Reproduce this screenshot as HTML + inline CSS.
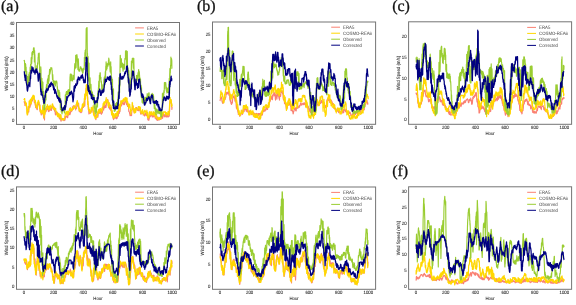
<!DOCTYPE html><html><head><meta charset="utf-8"><title>Wind speed panels</title><style>html,body{margin:0;padding:0;background:#fff;}body{width:576px;height:305px;overflow:hidden;}svg{display:block;} text{text-rendering:geometricPrecision;}.tk{font-family:"Liberation Sans",Arial,sans-serif;font-size:4.75px;fill:#2a2a2a;stroke:#2a2a2a;stroke-width:0.07px;}.lg{font-family:"Liberation Sans",Arial,sans-serif;font-size:4.75px;fill:#444;}.pl{font-family:"Liberation Serif","Times New Roman",serif;font-size:16px;fill:#111;stroke:#111;stroke-width:0.3px;}</style></head><body>
<svg width="576" height="305" viewBox="0 0 576 305">
<rect width="576" height="305" fill="#fff"/>
<g>
<text class="pl" x="1" y="11">(a)</text>
<clipPath id="clipa"><rect x="16.5" y="22.5" width="163" height="101.9"/></clipPath>
<g clip-path="url(#clipa)" fill="none" stroke-linejoin="round">
<polyline points="23.9,101.7 24.1,101.9 24.2,101.4 24.4,102.1 24.5,103 24.7,103.4 24.8,103.8 24.9,105.4 25.1,104 25.2,104.3 25.4,104.2 25.5,104 25.7,102.7 25.8,103.3 26,104.9 26.1,105 26.3,105.7 26.4,104 26.6,106 26.7,108.6 26.9,106.5 27,109.3 27.2,112.4 27.3,110.7 27.5,113.5 27.6,114.6 27.8,111.8 27.9,112.6 28.1,111.4 28.2,109.6 28.4,110.4 28.5,108.6 28.7,109.2 28.8,112 29,108 29.1,108 29.2,107 29.4,105.8 29.5,106.5 29.7,105.5 29.8,106.7 30,107.1 30.1,107.3 30.3,105.5 30.4,104.8 30.6,103.5 30.7,103.8 30.9,104.9 31,103.8 31.2,103 31.3,102.8 31.5,101 31.6,102.2 31.8,99.5 31.9,100.8 32.1,101 32.2,100.7 32.4,100.9 32.5,99.7 32.7,98 32.8,97.5 33,97.5 33.1,97.2 33.3,97.2 33.4,97.2 33.6,97.5 33.7,97.2 33.8,99.2 34,99 34.1,100 34.3,102.5 34.4,102.6 34.6,101.8 34.7,101.9 34.9,102.9 35,103.6 35.2,105 35.3,105.4 35.5,103.9 35.6,107.6 35.8,106 35.9,105.6 36.1,106.7 36.2,105.8 36.4,106.5 36.5,107.8 36.7,108.3 36.8,109.3 37,108.8 37.1,109 37.3,109.8 37.4,108.3 37.6,106.2 37.7,104.4 37.9,102.9 38,103 38.1,103.5 38.3,104.8 38.4,103.9 38.6,101.6 38.7,101.4 38.9,102.4 39,103.5 39.2,104.8 39.3,105.4 39.5,106.5 39.6,105.2 39.8,104.7 39.9,108.4 40.1,111.6 40.2,109 40.4,111.7 40.5,110.8 40.7,112.4 40.8,112.4 41,112.7 41.1,114.4 41.3,115 41.4,111.8 41.6,113.6 41.7,112.5 41.9,112.9 42,114 42.2,113.7 42.3,112.7 42.5,111.3 42.6,109.2 42.7,108.5 42.9,107.6 43,108.4 43.2,112.3 43.3,113.3 43.5,116.6 43.6,117.6 43.8,118.3 43.9,117.3 44.1,117.7 44.2,117.4 44.4,117.6 44.5,119.9 44.7,114.8 44.8,113.7 45,112.4 45.1,113 45.3,112.2 45.4,110.4 45.6,108.9 45.7,111.2 45.9,111.8 46,111.4 46.2,111.1 46.3,109.6 46.5,107.4 46.6,108.8 46.8,108.3 46.9,107.7 47,108.1 47.2,109.6 47.3,109.1 47.5,109.5 47.6,108.4 47.8,108.4 47.9,108 48.1,109.4 48.2,109.9 48.4,111.5 48.5,110.6 48.7,110.7 48.8,111.7 49,111.2 49.1,111.3 49.3,108.7 49.4,107.7 49.6,108.7 49.7,108.5 49.9,109.2 50,109.8 50.2,110.4 50.3,110.1 50.5,108.6 50.6,108.8 50.8,108.6 50.9,108.2 51.1,106.9 51.2,107.3 51.4,108.6 51.5,110.4 51.6,109.5 51.8,108.6 51.9,108.7 52.1,106.8 52.2,106.9 52.4,106 52.5,106 52.7,106.2 52.8,107.4 53,105.9 53.1,105.9 53.3,106 53.4,107 53.6,107.6 53.7,106.4 53.9,109.2 54,108.7 54.2,109.5 54.3,109.9 54.5,111.1 54.6,111.2 54.8,110.8 54.9,111.1 55.1,109.7 55.2,113 55.4,114.6 55.5,114.9 55.7,112.4 55.8,114.4 55.9,114.1 56.1,112.2 56.2,113.2 56.4,113.3 56.5,112.1 56.7,113.2 56.8,114 57,113.4 57.1,114.8 57.3,114.4 57.4,112.4 57.6,114.9 57.7,114.6 57.9,114.3 58,115.7 58.2,115.9 58.3,114.7 58.5,116.3 58.6,116.2 58.8,117.1 58.9,116.5 59.1,116.4 59.2,117.3 59.4,119 59.5,117.4 59.7,118 59.8,117.5 60,117.5 60.1,118.7 60.2,118.3 60.4,117.9 60.5,118.2 60.7,118.1 60.8,120.8 61,121 61.1,121.1 61.3,119.3 61.4,119.5 61.6,118.7 61.7,118.7 61.9,119.7 62,119.1 62.2,119.2 62.3,118.9 62.5,118.5 62.6,119.4 62.8,119.6 62.9,118.4 63.1,120.1 63.2,119.3 63.4,119 63.5,119.1 63.7,119 63.8,119.2 64,119.2 64.1,120.6 64.3,119.9 64.4,119.1 64.6,120.1 64.7,119.6 64.8,118.2 65,120.1 65.1,118.2 65.3,118.3 65.4,118.2 65.6,116.3 65.7,117.1 65.9,116 66,116.6 66.2,117.3 66.3,116.1 66.5,116.7 66.6,116.4 66.8,115.9 66.9,115.9 67.1,116.4 67.2,116.2 67.4,117.1 67.5,117.4 67.7,117.8 67.8,116.7 68,115.4 68.1,114.7 68.3,114.8 68.4,115.2 68.6,112.5 68.7,114.8 68.9,112.4 69,112.5 69.1,112.6 69.3,112.6 69.4,112.6 69.6,112.2 69.7,114.7 69.9,114.8 70,114.5 70.2,113.7 70.3,112.5 70.5,113.1 70.6,111.7 70.8,110.6 70.9,111.4 71.1,110.3 71.2,111.7 71.4,110.3 71.5,110.9 71.7,110.9 71.8,111.2 72,110.5 72.1,109.7 72.3,109.9 72.4,106.8 72.6,110 72.7,109.3 72.9,107.8 73,108.1 73.2,107.3 73.3,105.9 73.5,106.4 73.6,107.5 73.7,109 73.9,107.5 74,106 74.2,105.9 74.3,106.3 74.5,106.9 74.6,105.9 74.8,105.9 74.9,106.3 75.1,107 75.2,105.9 75.4,108.3 75.5,107.8 75.7,109.9 75.8,108.4 76,108.8 76.1,108.7 76.3,108.3 76.4,108.1 76.6,108.4 76.7,107.1 76.9,106.1 77,105.7 77.2,102.7 77.3,103.3 77.5,103.4 77.6,102.6 77.8,103.2 77.9,104.7 78,106.2 78.2,105.2 78.3,104.5 78.5,106.2 78.6,103.1 78.8,106.5 78.9,108 79.1,107.7 79.2,111.6 79.4,111.5 79.5,109.6 79.7,111.8 79.8,109.8 80,109.5 80.1,109.5 80.3,109.8 80.4,112.3 80.6,111.9 80.7,112 80.9,112.2 81,112.8 81.2,112.8 81.3,111.9 81.5,112.1 81.6,111.8 81.8,112 81.9,111.5 82.1,110.1 82.2,109 82.4,108.3 82.5,107.8 82.6,107.8 82.8,104.8 82.9,105.1 83.1,105.7 83.2,105.4 83.4,106.6 83.5,107.4 83.7,105.2 83.8,106.2 84,102.4 84.1,104.9 84.3,103.1 84.4,101.4 84.6,106.1 84.7,106.1 84.9,105.2 85,98.9 85.2,99.4 85.3,97.6 85.5,95.7 85.6,98.8 85.8,95.4 85.9,93.5 86.1,88.3 86.2,91.2 86.4,90 86.5,87.8 86.7,87 86.8,86.5 86.9,90.5 87.1,91.8 87.2,95.4 87.4,94.5 87.5,96.5 87.7,97.5 87.8,102.7 88,104.6 88.1,103.7 88.3,109.5 88.4,109 88.6,109 88.7,111.2 88.9,113.9 89,110.5 89.2,113.5 89.3,111.4 89.5,113.4 89.6,110.9 89.8,109.2 89.9,112.3 90.1,112.3 90.2,112.9 90.4,112.8 90.5,112.9 90.7,112.2 90.8,112.8 91,112.2 91.1,112.2 91.3,111.9 91.4,111.3 91.5,110.4 91.7,110.1 91.8,109.1 92,107.7 92.1,108.2 92.3,107.7 92.4,108.5 92.6,108.5 92.7,108.7 92.9,109.4 93,112.2 93.2,110.3 93.3,110.3 93.5,112.1 93.6,113.2 93.8,110.8 93.9,113.1 94.1,112.2 94.2,112.4 94.4,113.6 94.5,113.1 94.7,113.8 94.8,113.2 95,114.9 95.1,114.8 95.3,115.7 95.4,115.5 95.6,117.4 95.7,118.9 95.8,119.7 96,119.2 96.1,116.8 96.3,116 96.4,116.1 96.6,117.3 96.7,116.8 96.9,114.6 97,115 97.2,115.3 97.3,115.9 97.5,115.2 97.6,116 97.8,117.4 97.9,116.2 98.1,116.1 98.2,114.2 98.4,112.2 98.5,112.8 98.7,112 98.8,110.4 99,109.9 99.1,109.6 99.3,112 99.4,113.3 99.6,113.2 99.7,112.3 99.9,110.6 100,111.7 100.2,113.2 100.3,112.3 100.4,111.9 100.6,110.7 100.7,112.4 100.9,113.2 101,113.3 101.2,113.4 101.3,114.2 101.5,114.3 101.6,113.1 101.8,112.5 101.9,112.6 102.1,112.8 102.2,112.9 102.4,113 102.5,111.4 102.7,111.1 102.8,110.5 103,109.7 103.1,110.2 103.3,108.8 103.4,106.1 103.6,107.9 103.7,110 103.9,104.5 104,105.5 104.2,105.1 104.3,106.7 104.5,107 104.6,106.7 104.7,108 104.9,107.5 105,106.1 105.2,105.6 105.3,106 105.5,105.2 105.6,104.9 105.8,107.5 105.9,107.1 106.1,107.1 106.2,105.6 106.4,104.3 106.5,102.3 106.7,102.5 106.8,101.9 107,102.2 107.1,101.8 107.3,101.3 107.4,101.3 107.6,99.3 107.7,100.6 107.9,99.7 108,100.6 108.2,100.7 108.3,102.1 108.5,105.1 108.6,107.6 108.8,106.2 108.9,106.6 109.1,108.3 109.2,106.3 109.3,107.9 109.5,108.9 109.6,108.3 109.8,109 109.9,109.3 110.1,106.7 110.2,107.2 110.4,108.4 110.5,109.3 110.7,108.6 110.8,110.6 111,108.2 111.1,108.2 111.3,108 111.4,109.4 111.6,108.9 111.7,111.2 111.9,111.3 112,110.6 112.2,115 112.3,112.9 112.5,115.1 112.6,115.6 112.8,114.5 112.9,116.8 113.1,118.2 113.2,118 113.4,119.1 113.5,119.4 113.6,119.7 113.8,118.4 113.9,118.9 114.1,116.7 114.2,117.2 114.4,117.2 114.5,116.4 114.7,116.7 114.8,116.4 115,118.1 115.1,117.5 115.3,115.8 115.4,116.1 115.6,117 115.7,116.4 115.9,117 116,117.1 116.2,118.7 116.3,117.8 116.5,116.7 116.6,117.1 116.8,118.6 116.9,118.5 117.1,118.5 117.2,118 117.4,117.1 117.5,116.7 117.7,116.8 117.8,116.2 118,115.2 118.1,115 118.2,113.7 118.4,115.9 118.5,110.4 118.7,112.8 118.8,110.8 119,110.6 119.1,112.5 119.3,113.4 119.4,111.6 119.6,111.8 119.7,111.2 119.9,111.2 120,111.7 120.2,107.4 120.3,108.4 120.5,107.5 120.6,105.3 120.8,106.2 120.9,101.3 121.1,103.1 121.2,104.5 121.4,106 121.5,105.7 121.7,104.7 121.8,105 122,104.3 122.1,102.6 122.3,101.9 122.4,102.8 122.5,102.2 122.7,103.7 122.8,102.3 123,102.4 123.1,102.9 123.3,103.9 123.4,103.3 123.6,103.6 123.7,104.6 123.9,104 124,102.7 124.2,104.7 124.3,103.7 124.5,104.4 124.6,103.9 124.8,103.2 124.9,100.7 125.1,102.4 125.2,102.1 125.4,101.9 125.5,101.8 125.7,100.4 125.8,101.5 126,101.4 126.1,102.3 126.3,101.7 126.4,103 126.6,104.7 126.7,103.8 126.9,104.2 127,105.1 127.1,102.6 127.3,103.6 127.4,103.9 127.6,106.4 127.7,105 127.9,106.2 128,105.3 128.2,105.9 128.3,106.4 128.5,107.2 128.6,109.1 128.8,111.4 128.9,110.6 129.1,111.5 129.2,112 129.4,111.9 129.5,113.3 129.7,112.6 129.8,114.1 130,115.5 130.1,115.7 130.3,115.5 130.4,114.6 130.6,114 130.7,114.7 130.9,115.1 131,115.3 131.2,115.7 131.3,113 131.4,114.9 131.6,115.5 131.7,112.8 131.9,111.8 132,110.1 132.2,109.6 132.3,107.5 132.5,109.1 132.6,105.6 132.8,106.3 132.9,105.4 133.1,106.2 133.2,107.8 133.4,109 133.5,109.8 133.7,110.5 133.8,111.1 134,111.9 134.1,112.1 134.3,111.7 134.4,111.9 134.6,112.4 134.7,112.1 134.9,111.1 135,111.9 135.2,111.1 135.3,109.9 135.5,111.4 135.6,111.2 135.8,107.7 135.9,107.6 136,107.6 136.2,107.6 136.3,107.6 136.5,108.6 136.6,107.6 136.8,107.6 136.9,107.9 137.1,108.2 137.2,109.7 137.4,110.2 137.5,110.1 137.7,109.1 137.8,109.6 138,110.7 138.1,109.7 138.3,108.8 138.4,109.2 138.6,109.9 138.7,110.7 138.9,109 139,108.7 139.2,109.3 139.3,109.7 139.5,108.5 139.6,108.5 139.8,108.8 139.9,109.6 140.1,110.8 140.2,111.8 140.3,112.3 140.5,112.6 140.6,113.8 140.8,114 140.9,114.3 141.1,114.1 141.2,114.2 141.4,113.4 141.5,112.6 141.7,112.4 141.8,112.1 142,112.1 142.1,113.2 142.3,112.1 142.4,112.9 142.6,113.5 142.7,113 142.9,112.3 143,111.7 143.2,115 143.3,114 143.5,113.8 143.6,114.5 143.8,114.1 143.9,114.9 144.1,114.5 144.2,115 144.4,115.9 144.5,115 144.6,114.8 144.8,115.9 144.9,115.2 145.1,113.8 145.2,113.2 145.4,114.9 145.5,113.8 145.7,114.3 145.8,113.5 146,114.4 146.1,112.2 146.3,115 146.4,115.6 146.6,115.6 146.7,115.2 146.9,115.3 147,114.6 147.2,114.5 147.3,114.3 147.5,116.3 147.6,116.8 147.8,119.6 147.9,119.8 148.1,119.5 148.2,120.1 148.4,118.7 148.5,120.3 148.7,120.3 148.8,116.8 149,120.3 149.1,118.6 149.2,119.2 149.4,117.6 149.5,115.9 149.7,115.1 149.8,115.2 150,114.3 150.1,114.5 150.3,116.2 150.4,116.1 150.6,115.9 150.7,115.1 150.9,116.9 151,115.4 151.2,114.4 151.3,113.7 151.5,115.5 151.6,115.2 151.8,115.3 151.9,114.5 152.1,113.9 152.2,114.9 152.4,115 152.5,116.9 152.7,116.9 152.8,116.2 153,116.2 153.1,117 153.3,116.8 153.4,116.3 153.5,116.1 153.7,114.5 153.8,115 154,115.2 154.1,116.2 154.3,115.3 154.4,115.8 154.6,115.5 154.7,115.1 154.9,116.8 155,117.6 155.2,118.3 155.3,117.8 155.5,118 155.6,117.8 155.8,118.2 155.9,118.7 156.1,118 156.2,118.9 156.4,119.9 156.5,118.7 156.7,119 156.8,118 157,116.8 157.1,117.2 157.3,119.6 157.4,119.2 157.6,119.2 157.7,120.4 157.9,118.3 158,117 158.1,118.2 158.3,119.4 158.4,119.8 158.6,120 158.7,119.8 158.9,118.8 159,119.8 159.2,118.6 159.3,119.1 159.5,119.9 159.6,119.8 159.8,119.3 159.9,117.9 160.1,118.4 160.2,119.3 160.4,118.6 160.5,117.3 160.7,117.2 160.8,116.9 161,118.3 161.1,119.3 161.3,118.1 161.4,117.7 161.6,116.5 161.7,116.2 161.9,116.9 162,116.2 162.2,116.1 162.3,116.8 162.4,117.7 162.6,118.4 162.7,116.9 162.9,117.2 163,115.7 163.2,114.7 163.3,114 163.5,115.1 163.6,115.9 163.8,113.9 163.9,114.6 164.1,114.5 164.2,114.8 164.4,115.3 164.5,116.1 164.7,116.9 164.8,116.9 165,116.9 165.1,116.3 165.3,115.8 165.4,114.9 165.6,114 165.7,115.6 165.9,115.2 166,116.1 166.2,115.4 166.3,116.9 166.5,116.2 166.6,116.9 166.8,115.3 166.9,114.8 167,114.3 167.2,115.2 167.3,114.6 167.5,116 167.6,116.9 167.8,116.9 167.9,116.2 168.1,116.4 168.2,116.9 168.4,116.9 168.5,116.8 168.7,116.5 168.8,115.6 169,114.5 169.1,115.1 169.3,116.2 169.4,111 169.6,111.9 169.7,108.9 169.9,101.3 170,103.3 170.2,102.2 170.3,100 170.5,102.3 170.6,99.5 170.8,101.2 170.9,102.6 171.1,101.8 171.2,102.4 171.3,102.1 171.5,103.8 171.6,105.2 171.8,107 171.9,109.4 172.1,106.6" stroke="#fa8072" stroke-width="1.1"/>
<polyline points="23.9,98.9 24.1,99.5 24.2,99.1 24.4,98.6 24.5,98.9 24.7,98.6 24.8,100.3 24.9,101.6 25.1,102 25.2,102.2 25.4,103.2 25.5,101.9 25.7,104.6 25.8,102.4 26,106 26.1,103.8 26.3,104.9 26.4,103.3 26.6,107.9 26.7,108.6 26.9,113.7 27,111.4 27.2,114.9 27.3,111.3 27.5,110.1 27.6,114.3 27.8,113.2 27.9,110 28.1,108.9 28.2,109.6 28.4,106.7 28.5,110.5 28.7,108.3 28.8,108.9 29,105.3 29.1,101.1 29.2,104.6 29.4,101.4 29.5,100.8 29.7,105.8 29.8,103.7 30,104 30.1,102.7 30.3,100.1 30.4,99 30.6,101.4 30.7,102.3 30.9,101.4 31,101.4 31.2,101.3 31.3,103.6 31.5,101 31.6,98.4 31.8,97.3 31.9,98.9 32.1,97.4 32.2,99.9 32.4,97.9 32.5,96.2 32.7,97.6 32.8,98.6 33,95.8 33.1,95.2 33.3,96.1 33.4,97.3 33.6,95.9 33.7,97.1 33.8,95.3 34,98.7 34.1,95.8 34.3,95.9 34.4,98.6 34.6,100.9 34.7,101.1 34.9,102.2 35,101 35.2,102.3 35.3,100.2 35.5,102.1 35.6,102.3 35.8,104 35.9,106.4 36.1,105.6 36.2,105.6 36.4,108 36.5,105.2 36.7,108 36.8,108 37,108 37.1,108 37.3,104.3 37.4,102.6 37.6,103.6 37.7,103 37.9,101.7 38,102.5 38.1,101.9 38.3,100.3 38.4,101.6 38.6,100.6 38.7,102.2 38.9,103.5 39,102.4 39.2,104.4 39.3,104.3 39.5,107.5 39.6,108.6 39.8,107.6 39.9,105.1 40.1,110.8 40.2,109.3 40.4,111.4 40.5,110.5 40.7,112.6 40.8,109.7 41,112.9 41.1,112.6 41.3,111.3 41.4,110.8 41.6,110.8 41.7,112.4 41.9,113.1 42,113.1 42.2,112.5 42.3,111.1 42.5,109.6 42.6,107.5 42.7,105.6 42.9,109.6 43,110.9 43.2,114.1 43.3,112.8 43.5,110.4 43.6,112.1 43.8,110.2 43.9,116.6 44.1,117.9 44.2,117 44.4,113.4 44.5,113.9 44.7,113.2 44.8,107.5 45,114.3 45.1,112.5 45.3,108.2 45.4,109.9 45.6,111.5 45.7,109.7 45.9,109.2 46,109.6 46.2,108 46.3,106.5 46.5,106.9 46.6,106.9 46.8,109 46.9,107.6 47,108.6 47.2,105.2 47.3,104.5 47.5,106 47.6,105 47.8,106.1 47.9,105.8 48.1,106.9 48.2,106.5 48.4,107.6 48.5,109.7 48.7,109.7 48.8,109 49,107.7 49.1,106.4 49.3,107.4 49.4,106.4 49.6,109.4 49.7,107.6 49.9,106.6 50,107.3 50.2,105.1 50.3,106.4 50.5,107.1 50.6,106.6 50.8,108.1 50.9,106.6 51.1,106.3 51.2,106.6 51.4,106 51.5,106.4 51.6,106.5 51.8,106.8 51.9,105.8 52.1,105.4 52.2,104.1 52.4,103.9 52.5,103.9 52.7,104 52.8,105.1 53,106.9 53.1,108.6 53.3,108.6 53.4,109.2 53.6,108 53.7,107 53.9,108.6 54,109.4 54.2,109.9 54.3,107.9 54.5,107.7 54.6,108.1 54.8,109.1 54.9,108.6 55.1,108.6 55.2,108.7 55.4,108.8 55.5,108.7 55.7,108.3 55.8,109.9 55.9,111.1 56.1,111.9 56.2,111.1 56.4,113 56.5,111.9 56.7,111.7 56.8,113.2 57,115 57.1,115.3 57.3,114.8 57.4,116.2 57.6,116.3 57.7,116.5 57.9,115.8 58,113.3 58.2,116.9 58.3,113.4 58.5,114.7 58.6,114.3 58.8,114.9 58.9,116 59.1,116.4 59.2,113.9 59.4,116 59.5,116.2 59.7,118 59.8,116.9 60,117.1 60.1,115.8 60.2,116 60.4,115.2 60.5,114.5 60.7,118.1 60.8,117 61,115 61.1,115.9 61.3,118.1 61.4,119.1 61.6,119.2 61.7,119.7 61.9,119.8 62,119.8 62.2,119.8 62.3,119.8 62.5,119.8 62.6,119.1 62.8,119.8 62.9,119.2 63.1,118.5 63.2,119.4 63.4,119.8 63.5,119.8 63.7,119.8 63.8,119.2 64,119.1 64.1,118.9 64.3,118.4 64.4,118.9 64.6,119.1 64.7,117.6 64.8,116.1 65,116.1 65.1,115.3 65.3,114.1 65.4,114.7 65.6,112.8 65.7,114.2 65.9,113.5 66,112.1 66.2,112.8 66.3,111.7 66.5,112.1 66.6,111.6 66.8,112 66.9,114.9 67.1,114.5 67.2,112.6 67.4,113.9 67.5,114.5 67.7,115.3 67.8,111 68,112.7 68.1,114 68.3,114.7 68.4,112.9 68.6,111.3 68.7,111.5 68.9,111.8 69,112.5 69.1,111.2 69.3,110.7 69.4,109.6 69.6,108.6 69.7,109.2 69.9,109 70,109.9 70.2,110.3 70.3,107.5 70.5,109.7 70.6,109.7 70.8,109.3 70.9,110.4 71.1,109.9 71.2,111 71.4,108.8 71.5,110.6 71.7,110.2 71.8,109.1 72,110.2 72.1,109.2 72.3,109.9 72.4,109 72.6,109.7 72.7,107.9 72.9,108.9 73,108.7 73.2,109.1 73.3,107.3 73.5,108 73.6,105.9 73.7,106.4 73.9,106.8 74,106.9 74.2,107.7 74.3,107.9 74.5,107.9 74.6,107.9 74.8,107.5 74.9,107.2 75.1,106.8 75.2,107.2 75.4,107.9 75.5,106.6 75.7,107.9 75.8,106.5 76,105.4 76.1,104.2 76.3,105.2 76.4,104.9 76.6,103.3 76.7,102.2 76.9,102 77,102.8 77.2,100.6 77.3,100.6 77.5,101 77.6,103.6 77.8,104.3 77.9,105.2 78,103.6 78.2,103.7 78.3,103.6 78.5,106 78.6,106.9 78.8,108.7 78.9,108.8 79.1,110.3 79.2,110.6 79.4,110.4 79.5,108.2 79.7,109.8 79.8,109.8 80,110.4 80.1,111.4 80.3,111.1 80.4,110.1 80.6,110.5 80.7,109.7 80.9,109.8 81,108.8 81.2,108.8 81.3,109 81.5,111.5 81.6,110.1 81.8,107.2 81.9,108.2 82.1,107.6 82.2,105.6 82.4,104.1 82.5,104.3 82.6,107.1 82.8,105.2 82.9,103.9 83.1,104.5 83.2,104.7 83.4,105.1 83.5,104.1 83.7,106.1 83.8,105.3 84,103 84.1,105.4 84.3,98.4 84.4,99.2 84.6,96.7 84.7,94.1 84.9,95.1 85,95.6 85.2,93.6 85.3,99.5 85.5,98.6 85.6,92.5 85.8,90.2 85.9,92.5 86.1,90.2 86.2,85 86.4,84.7 86.5,87.4 86.7,89.6 86.8,84.5 86.9,94.9 87.1,95.9 87.2,89.3 87.4,84.5 87.5,89.6 87.7,104.4 87.8,100.8 88,101.6 88.1,101.6 88.3,107.1 88.4,106.7 88.6,110.2 88.7,107.2 88.9,108.6 89,110.7 89.2,111 89.3,109.9 89.5,112 89.6,110.7 89.8,112.1 89.9,111.5 90.1,111.4 90.2,113.1 90.4,113.1 90.5,111.9 90.7,113.1 90.8,110.4 91,110.4 91.1,111.3 91.3,107.3 91.4,108.8 91.5,108.3 91.7,110 91.8,110.2 92,108.2 92.1,109.3 92.3,108.8 92.4,109.8 92.6,110 92.7,108 92.9,106.9 93,105.7 93.2,105.7 93.3,111.8 93.5,114.5 93.6,115.1 93.8,114.5 93.9,114 94.1,115.9 94.2,112.6 94.4,115.1 94.5,116.6 94.7,116.6 94.8,116.2 95,118.2 95.1,116.8 95.3,118.3 95.4,118.3 95.6,118.3 95.7,118.3 95.8,118.3 96,117.2 96.1,117.9 96.3,116.6 96.4,116.2 96.6,116 96.7,114.7 96.9,117 97,116.2 97.2,116.4 97.3,113.3 97.5,116.5 97.6,112.2 97.8,111.5 97.9,112.8 98.1,110.8 98.2,113 98.4,109.7 98.5,111.3 98.7,110.2 98.8,112.1 99,110.3 99.1,113 99.3,112.6 99.4,109.6 99.6,111.5 99.7,110.4 99.9,110.4 100,108.6 100.2,108.5 100.3,109.9 100.4,109.1 100.6,110.2 100.7,108.7 100.9,109.2 101,110.2 101.2,111 101.3,112.3 101.5,110.3 101.6,111.4 101.8,111.5 101.9,110.5 102.1,107.5 102.2,108.5 102.4,108.5 102.5,107.9 102.7,109.1 102.8,107 103,105.1 103.1,103.5 103.3,103.8 103.4,105.1 103.6,103.8 103.7,102.6 103.9,103.5 104,103.4 104.2,101.6 104.3,105.3 104.5,104.6 104.6,104.1 104.7,104.1 104.9,103.5 105,102.2 105.2,102.5 105.3,103.1 105.5,102.9 105.6,100.7 105.8,99.7 105.9,100.1 106.1,99.6 106.2,97.6 106.4,101.2 106.5,101.7 106.7,100.9 106.8,101.3 107,101 107.1,102.8 107.3,100.5 107.4,101.6 107.6,101.4 107.7,99.8 107.9,101 108,105.5 108.2,102.3 108.3,106.2 108.5,107.3 108.6,107 108.8,105.4 108.9,105.7 109.1,103.4 109.2,104 109.3,102.6 109.5,103.3 109.6,105.5 109.8,104.7 109.9,104.8 110.1,104.9 110.2,105.1 110.4,105 110.5,105 110.7,105.1 110.8,105.1 111,107.4 111.1,108.4 111.3,106.6 111.4,112.7 111.6,114.7 111.7,111.3 111.9,114.4 112,115.1 112.2,110.8 112.3,110.8 112.5,113.3 112.6,115.9 112.8,116.8 112.9,116.3 113.1,115.2 113.2,118.2 113.4,116.9 113.5,113.4 113.6,117.8 113.8,116.3 113.9,114.8 114.1,114.8 114.2,117.1 114.4,115.8 114.5,117.7 114.7,116 114.8,116.2 115,115.5 115.1,113.7 115.3,114.8 115.4,114.8 115.6,113.5 115.7,114.7 115.9,116.9 116,113.6 116.2,115.6 116.3,115.4 116.5,115.5 116.6,114.9 116.8,112.6 116.9,112.2 117.1,111.3 117.2,113.4 117.4,113.1 117.5,114.6 117.7,116 117.8,113.7 118,112.2 118.1,111.1 118.2,112.9 118.4,111.6 118.5,108.6 118.7,104.7 118.8,108.9 119,108.3 119.1,110.1 119.3,107.5 119.4,107.3 119.6,107.5 119.7,104.1 119.9,109.9 120,106.3 120.2,104.2 120.3,107.3 120.5,104.5 120.6,103.8 120.8,104.3 120.9,100.9 121.1,100.7 121.2,103.8 121.4,103.2 121.5,103.1 121.7,103.8 121.8,102.9 122,102.3 122.1,101.7 122.3,100.3 122.4,100.5 122.5,101.4 122.7,101.3 122.8,100.8 123,100.2 123.1,100.6 123.3,99.3 123.4,98.8 123.6,101.5 123.7,98.7 123.9,100.1 124,101.2 124.2,100.6 124.3,99.7 124.5,99.8 124.6,98.7 124.8,99.1 124.9,99.9 125.1,97.4 125.2,97.5 125.4,98 125.5,98.1 125.7,98 125.8,99.9 126,98.7 126.1,97.6 126.3,102.3 126.4,100.9 126.6,101.8 126.7,100.6 126.9,100.2 127,99.7 127.1,98.1 127.3,102.7 127.4,102.7 127.6,101.4 127.7,103.3 127.9,105.7 128,104 128.2,103.1 128.3,105.1 128.5,104.5 128.6,108.4 128.8,106.3 128.9,106.9 129.1,107 129.2,106.6 129.4,105.2 129.5,104.1 129.7,104.4 129.8,104.7 130,108 130.1,106.5 130.3,109.2 130.4,109.7 130.6,111.7 130.7,113.5 130.9,114.3 131,111 131.2,110.6 131.3,110.7 131.4,110.3 131.6,110.7 131.7,110.6 131.9,108.7 132,107.6 132.2,102.4 132.3,105 132.5,103 132.6,107.3 132.8,107.7 132.9,107.4 133.1,106.5 133.2,108.8 133.4,108.2 133.5,108.8 133.7,110.7 133.8,109.2 134,112.1 134.1,112.9 134.3,113.2 134.4,112 134.6,108.5 134.7,109.3 134.9,110 135,109.2 135.2,109.5 135.3,112 135.5,111.6 135.6,112.7 135.8,111.5 135.9,109.8 136,107.6 136.2,110 136.3,109.9 136.5,109.6 136.6,109.7 136.8,109.7 136.9,109.7 137.1,109.7 137.2,109.7 137.4,109.7 137.5,109.7 137.7,109.7 137.8,109.7 138,109.4 138.1,108.1 138.3,106.6 138.4,106.5 138.6,106.5 138.7,106.5 138.9,106.8 139,106.5 139.2,106.5 139.3,107.9 139.5,106.7 139.6,108.8 139.8,110.3 139.9,109 140.1,108 140.2,108.2 140.3,107 140.5,108.9 140.6,109.8 140.8,111.7 140.9,112.7 141.1,112.1 141.2,113 141.4,113.2 141.5,113.3 141.7,113.3 141.8,112.9 142,111.1 142.1,110.9 142.3,110.3 142.4,112.4 142.6,109.6 142.7,112.2 142.9,110.5 143,113.3 143.2,113.2 143.3,114 143.5,113.2 143.6,114.5 143.8,114 143.9,112.6 144.1,113.3 144.2,112.9 144.4,111.2 144.5,110.9 144.6,110.7 144.8,110.5 144.9,110.3 145.1,111.1 145.2,110.9 145.4,110.9 145.5,111.4 145.7,111.7 145.8,112.3 146,112.7 146.1,112.8 146.3,112.4 146.4,111.6 146.6,114 146.7,111.8 146.9,110.2 147,112.7 147.2,112.2 147.3,115.1 147.5,117.4 147.6,112.4 147.8,114.3 147.9,114.8 148.1,117.5 148.2,115.8 148.4,117.5 148.5,117.9 148.7,118.2 148.8,117.5 149,115.8 149.1,115.4 149.2,113.6 149.4,111.7 149.5,111.7 149.7,111.7 149.8,112.1 150,111.7 150.1,111.7 150.3,112.6 150.4,113.7 150.6,114.8 150.7,115 150.9,114.1 151,113.7 151.2,113 151.3,111.8 151.5,112.4 151.6,112.6 151.8,111.9 151.9,113.2 152.1,114.9 152.2,114.9 152.4,113.5 152.5,114.9 152.7,114.9 152.8,115 153,115 153.1,113.2 153.3,112.8 153.4,111.7 153.5,111.9 153.7,114 153.8,112.3 154,114.8 154.1,112 154.3,113.9 154.4,115.3 154.6,115.7 154.7,115 154.9,113.4 155,112.6 155.2,112.6 155.3,114.5 155.5,113.1 155.6,117.5 155.8,117.2 155.9,113.7 156.1,113.9 156.2,114.1 156.4,114.3 156.5,114.7 156.7,116.2 156.8,116.7 157,117.6 157.1,119 157.3,119.1 157.4,118.5 157.6,118.1 157.7,119.3 157.9,119.1 158,118 158.1,118.1 158.3,118.6 158.4,119.3 158.6,118.2 158.7,119.3 158.9,119.1 159,118.4 159.2,117.4 159.3,118.8 159.5,119.3 159.6,119.3 159.8,119.3 159.9,119.2 160.1,119.1 160.2,117.5 160.4,119 160.5,118.9 160.7,118.8 160.8,117 161,118.2 161.1,117 161.3,116.9 161.4,115.8 161.6,114 161.7,114.2 161.9,113.6 162,112.8 162.2,113.5 162.3,113.1 162.4,113.6 162.6,115.6 162.7,115.4 162.9,114.4 163,112.1 163.2,113.1 163.3,113.9 163.5,112.9 163.6,111.7 163.8,111.7 163.9,111.8 164.1,112.6 164.2,111.7 164.4,111.7 164.5,112 164.7,111.7 164.8,111.7 165,111.8 165.1,111.7 165.3,111.8 165.4,111.9 165.6,113.8 165.7,114.9 165.9,114.2 166,112.7 166.2,114.5 166.3,113.9 166.5,112.6 166.6,113 166.8,113.5 166.9,114.7 167,114.9 167.2,114.9 167.3,114.9 167.5,113.5 167.6,112.8 167.8,114.1 167.9,112.8 168.1,111.3 168.2,114.9 168.4,114.8 168.5,114.9 168.7,114.7 168.8,114.2 169,112.4 169.1,114 169.3,109.6 169.4,108.5 169.6,103.8 169.7,103.5 169.9,99.8 170,100.4 170.2,97.5 170.3,102 170.5,101.9 170.6,100 170.8,99.6 170.9,100 171.1,101.6 171.2,103.2 171.3,99.7 171.5,106.7 171.6,104.7 171.8,103.5 171.9,104.2 172.1,106.3" stroke="#ffd700" stroke-width="1.15"/>
<polyline points="23.9,60.4 24.1,60.8 24.2,60.3 24.4,60.9 24.5,60.7 24.7,66.1 24.8,70.7 24.9,69.1 25.1,71.5 25.2,63.5 25.4,63.5 25.5,64.3 25.7,64.5 25.8,69.3 26,73.9 26.1,67.1 26.3,74.9 26.4,76 26.6,71.3 26.7,71.4 26.9,79.1 27,76.3 27.2,80.7 27.3,85.1 27.5,83.7 27.6,76.6 27.8,80.7 27.9,81.6 28.1,82 28.2,78.9 28.4,80.2 28.5,82.2 28.7,78.1 28.8,74.4 29,80.8 29.1,75 29.2,72.7 29.4,79.8 29.5,80.9 29.7,78 29.8,73.6 30,73.2 30.1,67.3 30.3,70.4 30.4,66.7 30.6,64.3 30.7,71 30.9,69.9 31,64.5 31.2,57.7 31.3,61.9 31.5,58.4 31.6,63.8 31.8,61.4 31.9,52.6 32.1,58.9 32.2,54.5 32.4,51.7 32.5,54.8 32.7,54.3 32.8,54.5 33,51.5 33.1,51.4 33.3,52.5 33.4,48.8 33.6,47.8 33.7,48.4 33.8,52.2 34,47.8 34.1,47.8 34.3,51.7 34.4,62 34.6,50.6 34.7,53.8 34.9,55.2 35,58.6 35.2,65.4 35.3,70.3 35.5,70.6 35.6,70.8 35.8,70.1 35.9,70.8 36.1,70.8 36.2,70.8 36.4,70.4 36.5,70.8 36.7,69 36.8,65.8 37,67 37.1,69.7 37.3,67.2 37.4,68 37.6,62.9 37.7,62.7 37.9,64.3 38,63.2 38.1,57.5 38.3,56.9 38.4,53.5 38.6,57.5 38.7,54.2 38.9,53.1 39,53.1 39.2,53.1 39.3,59.3 39.5,62.9 39.6,69.7 39.8,75.6 39.9,80.4 40.1,73.2 40.2,74.5 40.4,75.1 40.5,84.9 40.7,74.9 40.8,66.8 41,70 41.1,81 41.3,85.8 41.4,82.3 41.6,89.9 41.7,82.3 41.9,78.2 42,85 42.2,85.9 42.3,93.1 42.5,87.9 42.6,84.8 42.7,81.9 42.9,82.5 43,92.3 43.2,98.3 43.3,101.8 43.5,91.2 43.6,94.4 43.8,104.7 43.9,109.6 44.1,109.6 44.2,109.6 44.4,109.6 44.5,109.6 44.7,109.6 44.8,106.8 45,105.4 45.1,100.1 45.3,101.5 45.4,91 45.6,99.6 45.7,95.5 45.9,95.2 46,100 46.2,87 46.3,88.6 46.5,84.7 46.6,86.3 46.8,90.5 46.9,84.3 47,88.5 47.2,85.9 47.3,81.8 47.5,79.5 47.6,82.3 47.8,78.5 47.9,83 48.1,80.6 48.2,78.2 48.4,75.3 48.5,83.5 48.7,80.6 48.8,78.7 49,80.9 49.1,79.2 49.3,74.3 49.4,72.5 49.6,69.3 49.7,74.5 49.9,73.4 50,73.5 50.2,72.2 50.3,70.6 50.5,71.3 50.6,69.8 50.8,67.7 50.9,68 51.1,67.7 51.2,67.7 51.4,67.7 51.5,67.7 51.6,67.7 51.8,67.7 51.9,69.7 52.1,70.1 52.2,71.4 52.4,76.7 52.5,79.5 52.7,79.1 52.8,74.5 53,80.1 53.1,82 53.3,82.7 53.4,84.9 53.6,82 53.7,87.1 53.9,80.7 54,84.8 54.2,82.8 54.3,82.3 54.5,82.3 54.6,82.6 54.8,82.1 54.9,81.2 55.1,81.4 55.2,82.9 55.4,86 55.5,84.3 55.7,83.1 55.8,81.8 55.9,81 56.1,81 56.2,81 56.4,81 56.5,81 56.7,81 56.8,82.7 57,82.4 57.1,86 57.3,88.5 57.4,86.6 57.6,90 57.7,91.8 57.9,89.7 58,95.3 58.2,90.8 58.3,92.3 58.5,95.6 58.6,98.4 58.8,94.2 58.9,90.2 59.1,90.6 59.2,92.8 59.4,92.7 59.5,97.5 59.7,92.4 59.8,96.2 60,99.6 60.1,102.4 60.2,100.6 60.4,109.4 60.5,105.2 60.7,98.7 60.8,106.7 61,107 61.1,102.9 61.3,111.9 61.4,107.7 61.6,108.8 61.7,108.7 61.9,111.3 62,113.9 62.2,112.5 62.3,109.8 62.5,108.6 62.6,110.6 62.8,109.6 62.9,108.4 63.1,108 63.2,107 63.4,108.5 63.5,108.9 63.7,110.7 63.8,110.6 64,111.4 64.1,107.3 64.3,111.1 64.4,112.9 64.6,112.9 64.7,108.7 64.8,109.8 65,107.2 65.1,107.8 65.3,94.9 65.4,106.5 65.6,103 65.7,102.4 65.9,96.1 66,94.8 66.2,92.2 66.3,92.3 66.5,91.5 66.6,94.5 66.8,94.5 66.9,92.6 67.1,91.9 67.2,91.3 67.4,93.5 67.5,94.8 67.7,94.3 67.8,93 68,90.1 68.1,91.7 68.3,90.8 68.4,92.8 68.6,93.9 68.7,89.7 68.9,90.4 69,93.6 69.1,93.3 69.3,93.1 69.4,89.3 69.6,92.7 69.7,91.2 69.9,82.9 70,77.5 70.2,75.5 70.3,74.1 70.5,79.7 70.6,79.9 70.8,80.7 70.9,74.1 71.1,78.3 71.2,79.1 71.4,74.4 71.5,77.6 71.7,79.4 71.8,78.9 72,79.9 72.1,81 72.3,81 72.4,81 72.6,78.4 72.7,78.8 72.9,75.1 73,75.4 73.2,77.6 73.3,77.5 73.5,77.1 73.6,76 73.7,79.5 73.9,76.7 74,79.7 74.2,78.5 74.3,72.3 74.5,69.2 74.6,67.1 74.8,63.7 74.9,69 75.1,65.8 75.2,66.4 75.4,68.1 75.5,65.3 75.7,55.3 75.8,59.5 76,67.7 76.1,66.4 76.3,60.4 76.4,55 76.6,58 76.7,57.8 76.9,54.6 77,55.6 77.2,56.6 77.3,60.9 77.5,60.3 77.6,62.1 77.8,66.5 77.9,69.6 78,64 78.2,63.6 78.3,58.9 78.5,62.7 78.6,67.7 78.8,70.6 78.9,69.4 79.1,71.2 79.2,71.2 79.4,71.2 79.5,71.2 79.7,71.2 79.8,70.4 80,69.9 80.1,68.7 80.3,66.8 80.4,66.8 80.6,66.8 80.7,66.8 80.9,66.8 81,67.5 81.2,68.7 81.3,68.1 81.5,69.2 81.6,69.6 81.8,70.6 81.9,71.1 82.1,68.8 82.2,71.5 82.4,70 82.5,73.2 82.6,73.2 82.8,73.2 82.9,73.2 83.1,72 83.2,69.6 83.4,68.4 83.5,69.8 83.7,68.5 83.8,70 84,68.5 84.1,69.6 84.3,65 84.4,57.3 84.6,63.5 84.7,65.6 84.9,52.6 85,61.1 85.2,50.3 85.3,58.2 85.5,55.3 85.6,49.6 85.8,58.6 85.9,52.4 86.1,35.9 86.2,28.6 86.4,30.9 86.5,40 86.7,31.9 86.8,27.5 86.9,27.5 87.1,27.5 87.2,43 87.4,61.5 87.5,53.3 87.7,79.4 87.8,62.9 88,71.1 88.1,56.6 88.3,62.6 88.4,80.9 88.6,65.8 88.7,63.2 88.9,75.8 89,63.1 89.2,76.7 89.3,89.6 89.5,85.6 89.6,86.2 89.8,89.8 89.9,86.5 90.1,77.9 90.2,83.8 90.4,86.9 90.5,86 90.7,86.5 90.8,88 91,84.4 91.1,87.4 91.3,92.9 91.4,95.7 91.5,92 91.7,92.7 91.8,91.1 92,92.3 92.1,93.7 92.3,92.4 92.4,92.2 92.6,95.4 92.7,94.4 92.9,97 93,99.6 93.2,98.2 93.3,99.2 93.5,99.4 93.6,102.4 93.8,101.4 93.9,95.2 94.1,98.8 94.2,108 94.4,99.4 94.5,104.3 94.7,104.6 94.8,111.7 95,106.1 95.1,104.1 95.3,106.4 95.4,109.3 95.6,108.7 95.7,113.7 95.8,114.1 96,114.1 96.1,108.9 96.3,112.8 96.4,112.1 96.6,106.2 96.7,105.5 96.9,105.4 97,98.4 97.2,100.3 97.3,103.5 97.5,106.9 97.6,93.2 97.8,93.5 97.9,95.8 98.1,95.4 98.2,90.1 98.4,89.5 98.5,87.2 98.7,83.8 98.8,81.1 99,81.1 99.1,87.9 99.3,86.9 99.4,75.3 99.6,80 99.7,75.6 99.9,74.5 100,72.9 100.2,73.7 100.3,72.8 100.4,77.2 100.6,78.6 100.7,77 100.9,77.3 101,81.9 101.2,82.3 101.3,81.1 101.5,83.1 101.6,84 101.8,90 101.9,86.7 102.1,87.7 102.2,84.8 102.4,88.2 102.5,91.1 102.7,91.1 102.8,91.1 103,89.4 103.1,91.1 103.3,88.7 103.4,88.8 103.6,90.2 103.7,83 103.9,79 104,86.1 104.2,78.8 104.3,77.2 104.5,82.5 104.6,77 104.7,83.7 104.9,80.3 105,75.8 105.2,75.9 105.3,71.5 105.5,77.5 105.6,73.6 105.8,66 105.9,70.1 106.1,61.8 106.2,63.8 106.4,67.2 106.5,68.2 106.7,69.9 106.8,65.8 107,68.3 107.1,68.5 107.3,63.7 107.4,64.5 107.6,64 107.7,64.1 107.9,65.3 108,66.1 108.2,62.9 108.3,64.3 108.5,60.5 108.6,59.9 108.8,58 108.9,59.2 109.1,60.3 109.2,62.9 109.3,64.7 109.5,64 109.6,62.9 109.8,64.6 109.9,66 110.1,70.9 110.2,71.9 110.4,65.2 110.5,71.7 110.7,61.8 110.8,71.5 111,73.4 111.1,66.5 111.3,72.9 111.4,80.2 111.6,83.3 111.7,77.4 111.9,84.8 112,83.7 112.2,86.9 112.3,84.9 112.5,79.2 112.6,100.8 112.8,105.4 112.9,95.9 113.1,94.6 113.2,95.9 113.4,95.2 113.5,88.9 113.6,104 113.8,104.3 113.9,106.9 114.1,108.9 114.2,111.3 114.4,110.7 114.5,111.2 114.7,109 114.8,111.3 115,110.2 115.1,109.3 115.3,110.6 115.4,108.7 115.6,106.4 115.7,103.7 115.9,103.6 116,104.2 116.2,108.2 116.3,107.2 116.5,106.6 116.6,102.3 116.8,102.8 116.9,104.3 117.1,105.2 117.2,105.4 117.4,104.4 117.5,106.8 117.7,99.4 117.8,102.5 118,102.4 118.1,97.8 118.2,92.6 118.4,91.6 118.5,103.2 118.7,97.7 118.8,93.7 119,77.7 119.1,82.6 119.3,80.2 119.4,82 119.6,92.5 119.7,79.8 119.9,86.3 120,66.6 120.2,55.4 120.3,55.4 120.5,58.2 120.6,61.7 120.8,67.5 120.9,59.1 121.1,62.9 121.2,61.3 121.4,58.7 121.5,66.2 121.7,64.8 121.8,66.3 122,62.7 122.1,65 122.3,67.8 122.4,65 122.5,63.3 122.7,68.1 122.8,68.2 123,71 123.1,71.2 123.3,65.6 123.4,64.8 123.6,64.2 123.7,67.8 123.9,67 124,67.5 124.2,69.3 124.3,65.2 124.5,65.3 124.6,68.2 124.8,61.7 124.9,58.4 125.1,60 125.2,59.2 125.4,58.8 125.5,51.2 125.7,55.2 125.8,52.8 126,50.5 126.1,54.9 126.3,50.7 126.4,57.5 126.6,61.4 126.7,67.4 126.9,60.7 127,53.6 127.1,58.8 127.3,51.4 127.4,58.4 127.6,70.9 127.7,67 127.9,68.6 128,68 128.2,72.6 128.3,81.5 128.5,82.7 128.6,84.2 128.8,70.6 128.9,72.8 129.1,77.8 129.2,87.2 129.4,82.3 129.5,92.6 129.7,88.8 129.8,88.5 130,89.2 130.1,92.6 130.3,88 130.4,83.7 130.6,80.6 130.7,87.2 130.9,77.2 131,77.8 131.2,76.9 131.3,68.3 131.4,61.1 131.6,76.3 131.7,67.9 131.9,63.4 132,62.6 132.2,62.5 132.3,58.2 132.5,58.2 132.6,58.2 132.8,58.2 132.9,59.5 133.1,62.8 133.2,58.2 133.4,63.9 133.5,68.2 133.7,58.2 133.8,58.2 134,67.5 134.1,81 134.3,81.9 134.4,82.8 134.6,80.1 134.7,85.2 134.9,84.2 135,85.2 135.2,85.2 135.3,80.8 135.5,81.8 135.6,84.2 135.8,85.2 135.9,85.2 136,85.2 136.2,82 136.3,80.1 136.5,75.6 136.6,76.6 136.8,75.8 136.9,75.3 137.1,75.6 137.2,79.8 137.4,78.6 137.5,78.9 137.7,79.4 137.8,77.6 138,72.7 138.1,81 138.3,76.4 138.4,73.7 138.6,69.5 138.7,69.5 138.9,72.2 139,75.3 139.2,75.6 139.3,71.6 139.5,74.7 139.6,76 139.8,81.6 139.9,77.5 140.1,82.1 140.2,82.8 140.3,82.2 140.5,78.8 140.6,85.7 140.8,84.7 140.9,91.3 141.1,85.3 141.2,97.1 141.4,87.2 141.5,86.9 141.7,97.5 141.8,98.2 142,95.9 142.1,102.3 142.3,98.2 142.4,101 142.6,100.1 142.7,103.1 142.9,101 143,103.1 143.2,103.1 143.3,100.7 143.5,98.8 143.6,100.4 143.8,98.9 143.9,100 144.1,100.7 144.2,101.9 144.4,101.9 144.5,102.4 144.6,99 144.8,97.7 144.9,98.3 145.1,97.3 145.2,100.3 145.4,100.2 145.5,97.9 145.7,99.1 145.8,99 146,97.4 146.1,99.2 146.3,101.7 146.4,101.2 146.6,100.7 146.7,100.2 146.9,99.9 147,98.3 147.2,93.6 147.3,94 147.5,96.1 147.6,98.6 147.8,98.8 147.9,98.5 148.1,98.1 148.2,97.8 148.4,95.6 148.5,96.4 148.7,93.4 148.8,92.9 149,92.9 149.1,92.9 149.2,97.9 149.4,97.9 149.5,98.1 149.7,101.1 149.8,100.7 150,100.1 150.1,101.1 150.3,101.1 150.4,98 150.6,99.4 150.7,100.3 150.9,99.5 151,100.2 151.2,96.9 151.3,94.4 151.5,95.7 151.6,97.2 151.8,97.1 151.9,94.8 152.1,94.2 152.2,93.4 152.4,95.5 152.5,95.1 152.7,95.5 152.8,94.1 153,96.4 153.1,98.1 153.3,99 153.4,94.7 153.5,95.5 153.7,98.4 153.8,100.5 154,100.9 154.1,104.3 154.3,108.5 154.4,107.6 154.6,105.4 154.7,100.7 154.9,106.1 155,108.8 155.2,109.6 155.3,111.6 155.5,110.1 155.6,108.1 155.8,111.1 155.9,114.7 156.1,114.1 156.2,113 156.4,111.3 156.5,112 156.7,112.1 156.8,109.1 157,112.2 157.1,109.1 157.3,111.4 157.4,110.6 157.6,110.9 157.7,112.2 157.9,113.7 158,112.2 158.1,112.7 158.3,112.7 158.4,112.6 158.6,110.9 158.7,110.9 158.9,110.9 159,111.4 159.2,110.9 159.3,113.7 159.5,110.9 159.6,113 159.8,111.3 159.9,110.9 160.1,113.3 160.2,113.4 160.4,112.6 160.5,114.3 160.7,114.4 160.8,116.7 161,112.2 161.1,111.1 161.3,111.1 161.4,113.7 161.6,116.9 161.7,116.3 161.9,110 162,108.8 162.2,107.2 162.3,104 162.4,93.5 162.6,96 162.7,107 162.9,93 163,93.8 163.2,93.5 163.3,99.5 163.5,99.6 163.6,98.1 163.8,94 163.9,90.5 164.1,92.6 164.2,92.5 164.4,82.5 164.5,87 164.7,88.5 164.8,82.5 165,83.7 165.1,83.4 165.3,82.5 165.4,82.5 165.6,82.5 165.7,82.5 165.9,84.6 166,85.7 166.2,90.3 166.3,88.3 166.5,91.4 166.6,89.3 166.8,87.4 166.9,93 167,91.3 167.2,90.9 167.3,88.4 167.5,89.5 167.6,92.5 167.8,90.7 167.9,89.7 168.1,92.5 168.2,90.4 168.4,92.6 168.5,87.4 168.7,89.8 168.8,84.1 169,90.6 169.1,83.1 169.3,78.3 169.4,88.1 169.6,93.6 169.7,75.1 169.9,68.6 170,77.6 170.2,69.8 170.3,72.7 170.5,67.5 170.6,65.3 170.8,64.4 170.9,57 171.1,65.4 171.2,62 171.3,60.6 171.5,58.5 171.6,59.7 171.8,60.7 171.9,68.6 172.1,68.7" stroke="#9acd32" stroke-width="1.15"/>
<polyline points="23.9,71.5 24.1,71.5 24.2,71.5 24.4,72.5 24.5,74.6 24.7,76.4 24.8,75.8 24.9,78 25.1,77.6 25.2,80.5 25.4,78.3 25.5,76.3 25.7,77.6 25.8,75 26,77.8 26.1,79.8 26.3,83 26.4,82.8 26.6,83.8 26.7,85.2 26.9,84.5 27,87.5 27.2,90.1 27.3,90.1 27.5,91.1 27.6,90.6 27.8,89.3 27.9,87.4 28.1,88.2 28.2,86.2 28.4,84.9 28.5,85.9 28.7,85.8 28.8,84.1 29,82.5 29.1,84.9 29.2,84.2 29.4,85.4 29.5,84.3 29.7,84.8 29.8,86.7 30,83.2 30.1,81.3 30.3,77.9 30.4,75.8 30.6,78.6 30.7,76.3 30.9,70.5 31,70.3 31.2,72 31.3,73 31.5,72.1 31.6,73 31.8,69.3 31.9,66.7 32.1,67.5 32.2,67.7 32.4,70.9 32.5,68.1 32.7,68.8 32.8,68.7 33,67.9 33.1,67.7 33.3,70.3 33.4,70.9 33.6,71 33.7,71.2 33.8,72.1 34,70.2 34.1,72.4 34.3,70.9 34.4,71.4 34.6,72.8 34.7,72.9 34.9,72 35,74.1 35.2,72.6 35.3,72.7 35.5,70.5 35.6,72.2 35.8,70 35.9,69.2 36.1,72 36.2,72.4 36.4,71.4 36.5,69.9 36.7,68.9 36.8,70.2 37,71.8 37.1,71.8 37.3,71.4 37.4,73.2 37.6,72.9 37.7,72.1 37.9,75.9 38,78.2 38.1,78.7 38.3,81.2 38.4,80 38.6,77.2 38.7,76.6 38.9,74.3 39,76.4 39.2,74.7 39.3,73.3 39.5,73.7 39.6,75.2 39.8,73.3 39.9,78.8 40.1,80.3 40.2,81.3 40.4,83.7 40.5,86.1 40.7,91.1 40.8,92 41,88.8 41.1,94.7 41.3,91.5 41.4,93.2 41.6,91.1 41.7,91.8 41.9,91.8 42,95.6 42.2,94.1 42.3,95.2 42.5,95.4 42.6,95.2 42.7,95.4 42.9,97.7 43,97.4 43.2,97.9 43.3,99.6 43.5,99.9 43.6,99 43.8,103.2 43.9,102.4 44.1,102.1 44.2,103.2 44.4,103.2 44.5,101.8 44.7,99.1 44.8,97.5 45,95.2 45.1,95.3 45.3,97.2 45.4,93.7 45.6,91.9 45.7,91.2 45.9,92.1 46,90.3 46.2,91.3 46.3,89.8 46.5,89.2 46.6,92.3 46.8,91.6 46.9,89 47,88.4 47.2,90.2 47.3,90.5 47.5,90.5 47.6,90 47.8,90.3 47.9,90.3 48.1,90.2 48.2,89.3 48.4,89.3 48.5,86.8 48.7,87.5 48.8,85.9 49,86.5 49.1,85.2 49.3,85.7 49.4,84.3 49.6,87 49.7,86.7 49.9,85.8 50,86.5 50.2,83.8 50.3,84.5 50.5,83.4 50.6,86.3 50.8,84.8 50.9,84.6 51.1,82.5 51.2,82.2 51.4,82.7 51.5,84 51.6,84.6 51.8,83.9 51.9,84.7 52.1,84.9 52.2,84.4 52.4,83.7 52.5,85 52.7,84.2 52.8,85.8 53,84.3 53.1,86.6 53.3,87.5 53.4,86.5 53.6,89.8 53.7,86 53.9,87.9 54,88.7 54.2,89.5 54.3,87.9 54.5,89.7 54.6,93 54.8,93.4 54.9,91.4 55.1,93 55.2,92.1 55.4,89.6 55.5,90.6 55.7,91.1 55.8,92.2 55.9,91.6 56.1,92.8 56.2,92.6 56.4,93.2 56.5,95.1 56.7,95.6 56.8,96.3 57,96.8 57.1,96.6 57.3,97.6 57.4,96.8 57.6,95.9 57.7,98.4 57.9,96.9 58,97.4 58.2,97.2 58.3,97.1 58.5,99.1 58.6,99.4 58.8,100.1 58.9,100.8 59.1,98.6 59.2,97.9 59.4,99.1 59.5,101.5 59.7,102.2 59.8,101.1 60,98.8 60.1,102.4 60.2,100.9 60.4,100.5 60.5,100.8 60.7,100.5 60.8,100.8 61,101.6 61.1,102.9 61.3,104.4 61.4,107.4 61.6,107.4 61.7,108 61.9,107.7 62,110.3 62.2,110.6 62.3,110.6 62.5,110.6 62.6,110.6 62.8,110.6 62.9,110.6 63.1,110.1 63.2,109.1 63.4,108.8 63.5,109 63.7,107.5 63.8,108.8 64,108.7 64.1,108 64.3,107.2 64.4,107.1 64.6,105.7 64.7,109.5 64.8,108.5 65,107.7 65.1,109.7 65.3,107.9 65.4,107.4 65.6,106.8 65.7,107.2 65.9,105.5 66,101.2 66.2,104.2 66.3,103 66.5,102.3 66.6,100 66.8,96.6 66.9,98.7 67.1,100.4 67.2,98.1 67.4,97.3 67.5,98.1 67.7,96.9 67.8,96.6 68,96.8 68.1,96.9 68.3,95.6 68.4,95.9 68.6,95.4 68.7,95.5 68.9,95.7 69,95.4 69.1,95.7 69.3,95.2 69.4,95 69.6,92.5 69.7,94.7 69.9,93.3 70,94.9 70.2,94.3 70.3,92.3 70.5,94.5 70.6,93.2 70.8,92.8 70.9,92 71.1,92.7 71.2,92 71.4,91.2 71.5,93.2 71.7,91.9 71.8,92.4 72,94.3 72.1,93.4 72.3,93 72.4,95.8 72.6,97.7 72.7,98.1 72.9,100.4 73,101.8 73.2,97.5 73.3,100.1 73.5,98.3 73.6,97.5 73.7,96 73.9,88.8 74,88.6 74.2,86.2 74.3,90 74.5,91.2 74.6,87.7 74.8,86.5 74.9,85.7 75.1,86.5 75.2,87.5 75.4,87.9 75.5,85.7 75.7,83.8 75.8,84.1 76,84.9 76.1,84.8 76.3,84.4 76.4,85.7 76.6,84.9 76.7,83.8 76.9,84.8 77,82.5 77.2,79.9 77.3,81.6 77.5,83.6 77.6,82.2 77.8,81.4 77.9,79.3 78,78.1 78.2,77.4 78.3,76.9 78.5,77.4 78.6,79.5 78.8,78.1 78.9,77.7 79.1,78 79.2,78.5 79.4,79.3 79.5,78.9 79.7,79.9 79.8,80.1 80,78.6 80.1,78.3 80.3,77.5 80.4,77 80.6,77 80.7,77.2 80.9,77.3 81,75.9 81.2,76 81.3,77.6 81.5,78.2 81.6,76.4 81.8,75.5 81.9,76.4 82.1,77.9 82.2,77.1 82.4,74.5 82.5,75.3 82.6,76.4 82.8,76.5 82.9,77 83.1,77.2 83.2,78.2 83.4,80.7 83.5,79.3 83.7,80.4 83.8,82.6 84,80.4 84.1,81.9 84.3,80.6 84.4,82.6 84.6,80.2 84.7,79.9 84.9,82 85,82.6 85.2,78.7 85.3,82.6 85.5,76.5 85.6,72.7 85.8,71 85.9,62.3 86.1,66.1 86.2,57.4 86.4,57.4 86.5,57.5 86.7,57.4 86.8,61.9 86.9,58.1 87.1,58.2 87.2,75.3 87.4,73.3 87.5,76.3 87.7,77.8 87.8,87.9 88,90.3 88.1,88.1 88.3,86.5 88.4,85.5 88.6,91.7 88.7,87 88.9,87.8 89,90.6 89.2,91.4 89.3,92.5 89.5,94 89.6,91.8 89.8,91.7 89.9,90.7 90.1,91.9 90.2,90.9 90.4,92.6 90.5,92.1 90.7,94.4 90.8,93.9 91,96 91.1,95.5 91.3,96.8 91.4,98.6 91.5,95.9 91.7,95.9 91.8,94.2 92,94.3 92.1,96.7 92.3,98.4 92.4,97.7 92.6,99.7 92.7,98.3 92.9,98.7 93,97.9 93.2,98.6 93.3,98.6 93.5,97.3 93.6,99.4 93.8,98.9 93.9,98.9 94.1,97.6 94.2,99.3 94.4,101.7 94.5,102.1 94.7,102.8 94.8,104 95,103.2 95.1,102.9 95.3,102 95.4,101.5 95.6,100.9 95.7,102.4 95.8,101.8 96,101.7 96.1,100.8 96.3,101.8 96.4,101.6 96.6,100.8 96.7,101.1 96.9,101.4 97,100.7 97.2,102.6 97.3,97.5 97.5,100.7 97.6,99.6 97.8,99.4 97.9,97.2 98.1,98.6 98.2,97.5 98.4,94.4 98.5,91.2 98.7,91.6 98.8,92.4 99,91 99.1,92.1 99.3,91.3 99.4,91.6 99.6,90.1 99.7,88.8 99.9,89.7 100,91.7 100.2,91.6 100.3,90.6 100.4,95.3 100.6,95.2 100.7,95.4 100.9,93.5 101,94.8 101.2,93.8 101.3,95.2 101.5,92.1 101.6,93.8 101.8,90.7 101.9,91.4 102.1,90.6 102.2,90.6 102.4,90.6 102.5,90.8 102.7,91.3 102.8,92.6 103,90.1 103.1,89.3 103.3,91.5 103.4,92.1 103.6,91.9 103.7,89 103.9,91.2 104,88.5 104.2,87.5 104.3,85.8 104.5,84 104.6,83.5 104.7,84.8 104.9,82.8 105,81.9 105.2,79 105.3,81.4 105.5,82.3 105.6,80.6 105.8,81.5 105.9,80.3 106.1,79.1 106.2,79.1 106.4,81.4 106.5,79.7 106.7,79.7 106.8,79.8 107,79.3 107.1,79.5 107.3,76.9 107.4,77.7 107.6,78.4 107.7,77.6 107.9,77.7 108,78.3 108.2,78.9 108.3,77.6 108.5,78.4 108.6,79.5 108.8,78.9 108.9,79 109.1,79.2 109.2,76.6 109.3,80.5 109.5,79.8 109.6,80.2 109.8,79.5 109.9,78 110.1,78.6 110.2,76 110.4,76.1 110.5,76.4 110.7,76.6 110.8,82.7 111,84.4 111.1,82.4 111.3,83.9 111.4,89.7 111.6,86.3 111.7,90.3 111.9,94.4 112,89.2 112.2,91.6 112.3,100.1 112.5,100.6 112.6,99.9 112.8,102.5 112.9,101 113.1,104 113.2,105.1 113.4,108.3 113.5,104.5 113.6,101 113.8,103.4 113.9,105 114.1,107.4 114.2,107.6 114.4,108.7 114.5,108.3 114.7,108.8 114.8,108.9 115,108 115.1,108.2 115.3,108.9 115.4,108.9 115.6,108.9 115.7,108.9 115.9,106 116,108.7 116.2,108.9 116.3,108.6 116.5,107.2 116.6,106.3 116.8,108 116.9,108.3 117.1,107 117.2,107.6 117.4,108 117.5,108.2 117.7,108.7 117.8,103 118,105.4 118.1,105.8 118.2,104.6 118.4,100.9 118.5,98.9 118.7,95.4 118.8,95.8 119,91.9 119.1,98.4 119.3,91.5 119.4,84.9 119.6,85.2 119.7,82.2 119.9,74.8 120,74 120.2,77.1 120.3,73.7 120.5,76.9 120.6,76.7 120.8,76.1 120.9,78.9 121.1,79 121.2,79 121.4,78.9 121.5,78 121.7,78.6 121.8,79.2 122,79.2 122.1,79.2 122.3,76.4 122.4,78.6 122.5,78.6 122.7,78.8 122.8,78.8 123,77.5 123.1,78 123.3,76.5 123.4,76.5 123.6,77.8 123.7,77 123.9,75.7 124,75.9 124.2,75.8 124.3,76 124.5,74.5 124.6,72.8 124.8,74.6 124.9,73.6 125.1,72.3 125.2,71.9 125.4,71.4 125.5,73.4 125.7,71.8 125.8,72.4 126,71.5 126.1,71.6 126.3,71.7 126.4,68.6 126.6,66.3 126.7,69.2 126.9,69.3 127,67.1 127.1,68.9 127.3,65.8 127.4,67.3 127.6,69.3 127.7,75.3 127.9,74.1 128,77.7 128.2,76.8 128.3,80.7 128.5,82.8 128.6,78.1 128.8,83.5 128.9,79.6 129.1,84.4 129.2,91.2 129.4,88.6 129.5,89 129.7,91.9 129.8,96.3 130,92.9 130.1,95.3 130.3,94.9 130.4,89.8 130.6,89.9 130.7,91.9 130.9,88 131,84.8 131.2,83.8 131.3,89 131.4,82.1 131.6,79.5 131.7,78.6 131.9,79.1 132,79 132.2,76 132.3,73.6 132.5,71.2 132.6,73.1 132.8,71.2 132.9,72 133.1,73.8 133.2,75 133.4,73.9 133.5,71.3 133.7,73.7 133.8,75.8 134,76.4 134.1,77.9 134.3,78.3 134.4,82 134.6,85.9 134.7,86.6 134.9,89.7 135,87.4 135.2,89.7 135.3,86 135.5,85.8 135.6,84.5 135.8,81.8 135.9,79.1 136,79.7 136.2,82.3 136.3,81.3 136.5,84.9 136.6,84.1 136.8,83.4 136.9,83.1 137.1,84.3 137.2,83.7 137.4,85.1 137.5,88.3 137.7,86.3 137.8,83.7 138,85.4 138.1,85.2 138.3,85.2 138.4,87.6 138.6,82.5 138.7,79.9 138.9,79.3 139,80.3 139.2,81.2 139.3,80.9 139.5,81.3 139.6,79.2 139.8,81.7 139.9,81.4 140.1,84.5 140.2,86.2 140.3,85.3 140.5,89 140.6,87.9 140.8,89.3 140.9,90.3 141.1,92.5 141.2,92.6 141.4,93.6 141.5,95.2 141.7,96.1 141.8,96 142,94.1 142.1,97.4 142.3,97.6 142.4,96.4 142.6,94 142.7,95.2 142.9,95.3 143,94.9 143.2,96.4 143.3,96.5 143.5,96.4 143.6,99.6 143.8,100.3 143.9,100.5 144.1,103.1 144.2,103.5 144.4,104.8 144.5,103.2 144.6,105.1 144.8,104.2 144.9,105 145.1,104.5 145.2,102.4 145.4,103 145.5,103.1 145.7,103.1 145.8,102.3 146,102.4 146.1,100.9 146.3,99.4 146.4,100.7 146.6,98.4 146.7,99.7 146.9,98.1 147,98.1 147.2,98.5 147.3,100 147.5,100.7 147.6,98.8 147.8,99.2 147.9,99.1 148.1,99.1 148.2,98.2 148.4,98.5 148.5,96.9 148.7,97.2 148.8,96.9 149,96.9 149.1,96.9 149.2,97.2 149.4,98 149.5,99.2 149.7,100.6 149.8,100.7 150,101.3 150.1,102.9 150.3,103.6 150.4,102.2 150.6,103.6 150.7,99.6 150.9,97.8 151,96.4 151.2,97.3 151.3,97.6 151.5,95.2 151.6,95.2 151.8,96 151.9,95.2 152.1,97.7 152.2,95.5 152.4,95.2 152.5,96.3 152.7,96.2 152.8,99.1 153,99.7 153.1,102.1 153.3,100.9 153.4,101.6 153.5,102.4 153.7,102.4 153.8,103 154,102.8 154.1,102.7 154.3,102.2 154.4,103.1 154.6,102.8 154.7,101.5 154.9,103.3 155,103.4 155.2,101.4 155.3,101.5 155.5,101.3 155.6,102.4 155.8,103.2 155.9,101.1 156.1,100.5 156.2,102.3 156.4,100.7 156.5,102.3 156.7,104.7 156.8,105 157,104.3 157.1,104.6 157.3,104.8 157.4,104.4 157.6,101.3 157.7,103.9 157.9,105.1 158,104.9 158.1,106.9 158.3,105.7 158.4,105.3 158.6,105.1 158.7,104.6 158.9,107.7 159,110.2 159.2,108.3 159.3,108.1 159.5,107.1 159.6,107.7 159.8,108.5 159.9,110.3 160.1,108.2 160.2,109.6 160.4,110.6 160.5,110.6 160.7,110.6 160.8,110.5 161,110.6 161.1,110.6 161.3,110 161.4,109.6 161.6,110.6 161.7,109.8 161.9,110.2 162,109.8 162.2,107.2 162.3,107.3 162.4,105.8 162.6,104.2 162.7,103.1 162.9,102.7 163,101 163.2,100.7 163.3,99.5 163.5,100.1 163.6,99.5 163.8,97.7 163.9,100.3 164.1,97.9 164.2,96.8 164.4,97.5 164.5,97 164.7,97.5 164.8,97.9 165,97.3 165.1,97.7 165.3,98.3 165.4,98.4 165.6,100.6 165.7,100 165.9,99.2 166,100.3 166.2,100 166.3,99.2 166.5,98 166.6,96.2 166.8,97.8 166.9,98.4 167,97.4 167.2,97.3 167.3,96.3 167.5,98 167.6,98.2 167.8,97.7 167.9,99 168.1,98.2 168.2,99.1 168.4,96.7 168.5,97.9 168.7,98.6 168.8,98.4 169,96.2 169.1,91.9 169.3,97.8 169.4,91.5 169.6,81.6 169.7,84 169.9,86.8 170,83.4 170.2,84.6 170.3,82.1 170.5,80.1 170.6,80.5 170.8,79.2 170.9,77 171.1,78.1 171.2,76.1 171.3,80.7 171.5,79.1 171.6,78.4 171.8,80.6 171.9,80.8 172.1,80.8" stroke="#000080" stroke-width="1.25"/>
</g>
<rect x="16.5" y="22.5" width="163" height="101.9" fill="none" stroke="#757575" stroke-width="1"/>
<text class="tk" transform="translate(14.5,121.8) scale(0.905,1)" text-anchor="end">0</text>
<text class="tk" transform="translate(14.5,109.7) scale(0.905,1)" text-anchor="end">5</text>
<text class="tk" transform="translate(14.5,97.7) scale(0.905,1)" text-anchor="end">10</text>
<text class="tk" transform="translate(14.5,85.6) scale(0.905,1)" text-anchor="end">15</text>
<text class="tk" transform="translate(14.5,73.5) scale(0.905,1)" text-anchor="end">20</text>
<text class="tk" transform="translate(14.5,61.5) scale(0.905,1)" text-anchor="end">25</text>
<text class="tk" transform="translate(14.5,49.4) scale(0.905,1)" text-anchor="end">30</text>
<text class="tk" transform="translate(14.5,37.4) scale(0.905,1)" text-anchor="end">35</text>
<text class="tk" transform="translate(14.5,25.4) scale(0.905,1)" text-anchor="end">40</text>
<text class="tk" transform="translate(23.9,129.2) scale(0.905,1)" text-anchor="middle">0</text>
<text class="tk" transform="translate(53.6,129.2) scale(0.905,1)" text-anchor="middle">200</text>
<text class="tk" transform="translate(83.2,129.2) scale(0.905,1)" text-anchor="middle">400</text>
<text class="tk" transform="translate(112.9,129.2) scale(0.905,1)" text-anchor="middle">600</text>
<text class="tk" transform="translate(142.6,129.2) scale(0.905,1)" text-anchor="middle">800</text>
<text class="tk" transform="translate(172.2,129.2) scale(0.905,1)" text-anchor="middle">1000</text>
<text class="tk" transform="translate(98,135) scale(0.905,1)" text-anchor="middle">Hour</text>
<text class="tk" transform="translate(7.9,73.5) rotate(-90) scale(0.905,1)" text-anchor="middle">Wind Speed (m/s)</text>
<line x1="135.1" y1="27.9" x2="143.9" y2="27.9" stroke="#fa8072" stroke-width="1.0"/>
<text class="lg" transform="translate(147,29.6) scale(0.905,1)">ERA5</text>
<line x1="135.1" y1="34" x2="143.9" y2="34" stroke="#ffd700" stroke-width="1.0"/>
<text class="lg" transform="translate(147,35.6) scale(0.905,1)">COSMO-REA6</text>
<line x1="135.1" y1="40" x2="143.9" y2="40" stroke="#9acd32" stroke-width="1.0"/>
<text class="lg" transform="translate(147,41.6) scale(0.905,1)">Observed</text>
<line x1="135.1" y1="46" x2="143.9" y2="46" stroke="#000080" stroke-width="1.0"/>
<text class="lg" transform="translate(147,47.6) scale(0.905,1)">Corrected</text>
</g>
<g>
<text class="pl" x="196.9" y="11">(b)</text>
<clipPath id="clipb"><rect x="212.5" y="22" width="163.1" height="102.3"/></clipPath>
<g clip-path="url(#clipb)" fill="none" stroke-linejoin="round">
<polyline points="219.9,101 220.1,100.5 220.2,99.8 220.4,98.8 220.5,96.9 220.7,98.2 220.8,98.3 221,97.3 221.1,97.4 221.2,96.9 221.4,97.1 221.5,98.2 221.7,98.2 221.8,100.2 222,100.5 222.1,102 222.3,100.8 222.4,102.2 222.6,102.9 222.7,103.3 222.9,103.4 223,102.3 223.2,102.9 223.3,102.3 223.5,102.5 223.6,102.4 223.8,100 223.9,101.4 224.1,100.4 224.2,100.5 224.4,99.2 224.5,98.4 224.7,97.5 224.8,99 225,99.4 225.1,99.6 225.3,97.7 225.4,98.4 225.6,97.9 225.7,97.4 225.9,96.7 226,94.3 226.1,94.3 226.3,94.7 226.4,94.4 226.6,92.3 226.7,92.8 226.9,92.7 227,92.2 227.2,92.7 227.3,92.9 227.5,93.6 227.6,93.9 227.8,94 227.9,93.5 228.1,92.1 228.2,92.1 228.4,91.4 228.5,93.8 228.7,93.3 228.8,93.8 229,95.5 229.1,95.5 229.3,93.4 229.4,93.9 229.6,95.7 229.7,98.2 229.9,100.1 230,98.4 230.2,97.5 230.3,101.3 230.5,99.7 230.6,102.1 230.7,100.3 230.9,100.4 231,103.8 231.2,103.8 231.3,102.3 231.5,104.4 231.6,104.4 231.8,103.3 231.9,102.6 232.1,102.8 232.2,102.6 232.4,103.1 232.5,100.6 232.7,99.2 232.8,98.2 233,95.9 233.1,96.8 233.3,96.8 233.4,97.6 233.6,97.3 233.7,96.5 233.9,96.1 234,95.8 234.2,95.8 234.3,96.4 234.5,97.1 234.6,98.5 234.8,98.2 234.9,101.1 235.1,99.9 235.2,99.2 235.3,100.4 235.5,98.7 235.6,100.8 235.8,98.4 235.9,102.6 236.1,102.5 236.2,106 236.4,108.2 236.5,105.9 236.7,107.5 236.8,105.3 237,106.7 237.1,109.3 237.3,108.8 237.4,107.9 237.6,109.8 237.7,111.1 237.9,109.2 238,112.4 238.2,111.7 238.3,114.5 238.5,113.9 238.6,113.7 238.8,113.2 238.9,113.2 239.1,113.3 239.2,113.4 239.4,114.6 239.5,114.6 239.7,115.8 239.8,116.4 240,114.8 240.1,114.5 240.2,115.4 240.4,115 240.5,114 240.7,114.7 240.8,115.2 241,114 241.1,113.5 241.3,113.3 241.4,111.8 241.6,113.7 241.7,113.6 241.9,110.6 242,113.7 242.2,113.7 242.3,113.5 242.5,114.4 242.6,113.7 242.8,112.6 242.9,112.5 243.1,110 243.2,109.2 243.4,109 243.5,110.4 243.7,109.5 243.8,109.9 244,111.2 244.1,111.7 244.3,110.1 244.4,108.8 244.6,109.1 244.7,108.9 244.8,108.8 245,108.8 245.1,108.1 245.3,108.4 245.4,109.4 245.6,109.7 245.7,108.7 245.9,109 246,109.8 246.2,111.2 246.3,109.5 246.5,109.4 246.6,108.9 246.8,109.6 246.9,110.5 247.1,111.8 247.2,110.4 247.4,108.7 247.5,110.6 247.7,110.7 247.8,110.7 248,110.2 248.1,112.5 248.3,112.4 248.4,111.4 248.6,112.7 248.7,112.6 248.9,112.6 249,113.4 249.2,112.9 249.3,111.8 249.4,112.4 249.6,110.7 249.7,110.8 249.9,110.9 250,110.6 250.2,111.2 250.3,110.9 250.5,111.4 250.6,112.6 250.8,112.2 250.9,112.2 251.1,114.1 251.2,113.1 251.4,113.4 251.5,114.7 251.7,113.2 251.8,113.6 252,111.9 252.1,112.2 252.3,112 252.4,112 252.6,112.1 252.7,112.7 252.9,114.7 253,113.1 253.2,112.3 253.3,112.3 253.5,113.7 253.6,113.9 253.8,113.3 253.9,113.2 254.1,114.6 254.2,114.2 254.3,114.5 254.5,113.9 254.6,113.3 254.8,113.5 254.9,113.9 255.1,114.7 255.2,115.4 255.4,114.6 255.5,114.3 255.7,115 255.8,115.4 256,114.3 256.1,114.6 256.3,113.3 256.4,113.6 256.6,113.5 256.7,113.5 256.9,113.6 257,113.7 257.2,113.7 257.3,113.8 257.5,113.9 257.6,114 257.8,114.5 257.9,114.4 258.1,113.9 258.2,113.8 258.4,115.4 258.5,113.7 258.7,113.6 258.8,113.5 258.9,114.9 259.1,115.1 259.2,115.3 259.4,114.4 259.5,113.8 259.7,113.5 259.8,113.5 260,113.7 260.1,114.3 260.3,114.2 260.4,113.4 260.6,113.2 260.7,114 260.9,115.2 261,114.6 261.2,114.2 261.3,113.7 261.5,113.4 261.6,113.9 261.8,115.4 261.9,114 262.1,114.8 262.2,115.1 262.4,114.9 262.5,114.1 262.7,112.6 262.8,111.2 263,111.7 263.1,110.5 263.3,111 263.4,111.6 263.5,110.9 263.7,110.5 263.8,109.1 264,109.5 264.1,109.5 264.3,109.4 264.4,110.8 264.6,111.3 264.7,111.1 264.9,109.9 265,111.1 265.2,109.7 265.3,109.8 265.5,109.7 265.6,109.9 265.8,110.2 265.9,107.1 266.1,109 266.2,109.4 266.4,109.1 266.5,107.6 266.7,108.4 266.8,107.9 267,107.6 267.1,107.1 267.3,105.6 267.4,109.2 267.6,109.5 267.7,107.6 267.9,107.3 268,106.7 268.2,107.5 268.3,106.7 268.4,106.7 268.6,105.3 268.7,105.4 268.9,103.2 269,102.6 269.2,104.3 269.3,104.4 269.5,101 269.6,102.7 269.8,100.1 269.9,100.7 270.1,99.1 270.2,99.4 270.4,101.2 270.5,99.3 270.7,97.8 270.8,96.7 271,96.8 271.1,96.5 271.3,98.2 271.4,97.1 271.6,99.3 271.7,99 271.9,99.1 272,98.4 272.2,97 272.3,95 272.5,99.8 272.6,96.8 272.8,95.9 272.9,97 273,95.6 273.2,95 273.3,94.3 273.5,95.2 273.6,94.7 273.8,92.5 273.9,92.3 274.1,92.3 274.2,94.5 274.4,94.2 274.5,95.7 274.7,94.7 274.8,95 275,96.4 275.1,93.1 275.3,99.2 275.4,99.3 275.6,100.1 275.7,97.4 275.9,97.4 276,95.7 276.2,94.5 276.3,96.7 276.5,97 276.6,96.2 276.8,96 276.9,99.1 277.1,96.4 277.2,95.7 277.4,95.3 277.5,93.5 277.6,94 277.8,94 277.9,93.5 278.1,95.9 278.2,93.5 278.4,94.5 278.5,94.9 278.7,94.5 278.8,96.9 279,98.4 279.1,97.4 279.3,97.8 279.4,100.1 279.6,98.1 279.7,95.1 279.9,94.5 280,94.7 280.2,95.1 280.3,95.5 280.5,95.1 280.6,96.4 280.8,94.7 280.9,91 281.1,92.7 281.2,92.8 281.4,90.6 281.5,92.3 281.7,92.4 281.8,92.3 282,91 282.1,91.8 282.3,91.8 282.4,90.7 282.5,93.4 282.7,93.8 282.8,94.1 283,95.1 283.1,98 283.3,99 283.4,99.8 283.6,99.8 283.7,99.3 283.9,99.8 284,100.3 284.2,100.8 284.3,99.6 284.5,103.5 284.6,102.8 284.8,102.7 284.9,101.3 285.1,101.3 285.2,104.2 285.4,104 285.5,104.7 285.7,104.1 285.8,103.2 286,104.2 286.1,107.7 286.3,108.6 286.4,109.5 286.6,109.5 286.7,109.5 286.9,108.2 287,107 287.1,107.5 287.3,107.5 287.4,107.6 287.6,104.9 287.7,103.2 287.9,102.9 288,104.7 288.2,103.7 288.3,102.4 288.5,104.9 288.6,104.8 288.8,104.4 288.9,104.5 289.1,103.8 289.2,103.8 289.4,102.8 289.5,105 289.7,103.9 289.8,102.1 290,103.1 290.1,104.1 290.3,103.3 290.4,105.5 290.6,106.3 290.7,106.7 290.9,107.4 291,110.6 291.2,106.1 291.3,108.2 291.5,110 291.6,110.4 291.7,107.8 291.9,110.4 292,110.9 292.2,110.2 292.3,110.5 292.5,110.5 292.6,111.7 292.8,110.9 292.9,112.3 293.1,114 293.2,112.7 293.4,113.5 293.5,112.5 293.7,111.3 293.8,111.6 294,110.9 294.1,110.1 294.3,109.1 294.4,109.9 294.6,108.2 294.7,108.1 294.9,108 295,107.9 295.2,107.8 295.3,109.4 295.5,109 295.6,110.6 295.8,110.3 295.9,107.7 296.1,110.5 296.2,110.9 296.4,108.3 296.5,107.9 296.6,107.4 296.8,107.5 296.9,108.3 297.1,107.2 297.2,108.3 297.4,107.3 297.5,106.7 297.7,107.5 297.8,108.3 298,108.2 298.1,107.8 298.3,107 298.4,107.4 298.6,106.7 298.7,106.6 298.9,106.3 299,105.9 299.2,106.1 299.3,107.4 299.5,105.2 299.6,106.6 299.8,105.8 299.9,105.8 300.1,105.1 300.2,105.8 300.4,104.2 300.5,102.8 300.7,103.1 300.8,104.1 301,103.8 301.1,103.5 301.2,103.8 301.4,103.8 301.5,104.8 301.7,105.3 301.8,104.6 302,103.8 302.1,104.1 302.3,104.5 302.4,104 302.6,103.5 302.7,103.8 302.9,103.9 303,103.5 303.2,103.2 303.3,103.9 303.5,104.5 303.6,104.2 303.8,104.8 303.9,103.2 304.1,104.1 304.2,102.7 304.4,102.9 304.5,103.5 304.7,103 304.8,103.8 305,104.5 305.1,103.7 305.3,103.3 305.4,105.3 305.6,106.4 305.7,104.5 305.8,104.5 306,104.2 306.1,106.1 306.3,103.6 306.4,105.7 306.6,106 306.7,104 306.9,106.4 307,107.8 307.2,106.4 307.3,105.8 307.5,106.6 307.6,106.8 307.8,107.8 307.9,107.2 308.1,107.1 308.2,106 308.4,106.9 308.5,107.8 308.7,108.5 308.8,110.1 309,109.2 309.1,108.5 309.3,108.9 309.4,109 309.6,110.9 309.7,111.3 309.9,111.4 310,109.5 310.2,109.7 310.3,111.1 310.5,109.3 310.6,112.6 310.7,112.3 310.9,109.3 311,112.6 311.2,112.6 311.3,113.1 311.5,113.1 311.6,111.3 311.8,111.4 311.9,112.3 312.1,112.6 312.2,113.1 312.4,113.1 312.5,113.1 312.7,113.1 312.8,112.7 313,111.5 313.1,111.8 313.3,110.6 313.4,111.1 313.6,111.2 313.7,111.8 313.9,110.3 314,109.1 314.2,110.6 314.3,109.6 314.5,110 314.6,110.2 314.8,110.8 314.9,110.2 315.1,110.2 315.2,109.9 315.3,109.7 315.5,109.7 315.6,109.3 315.8,109.7 315.9,107.9 316.1,104.9 316.2,106.6 316.4,107.6 316.5,105 316.7,104.3 316.8,106.4 317,105.5 317.1,104.8 317.3,104.9 317.4,104.3 317.6,104.2 317.7,103.6 317.9,104.9 318,103.1 318.2,103.9 318.3,103.2 318.5,104.2 318.6,104.4 318.8,104 318.9,105.4 319.1,103.3 319.2,102.8 319.4,102.8 319.5,101.5 319.7,100.8 319.8,102.4 319.9,102 320.1,103.4 320.2,101.6 320.4,102.5 320.5,102.5 320.7,103.7 320.8,103.3 321,101.6 321.1,102.7 321.3,100.5 321.4,102.1 321.6,102.5 321.7,100.3 321.9,101.2 322,101.2 322.2,102.6 322.3,102.4 322.5,101.8 322.6,102.2 322.8,101.9 322.9,102.3 323.1,101.4 323.2,103.2 323.4,102 323.5,101.4 323.7,103 323.8,104.6 324,105.1 324.1,105.6 324.3,105.1 324.4,106.3 324.6,106 324.7,107.6 324.8,106.9 325,107.3 325.1,106.7 325.3,105.6 325.4,107.9 325.6,107.1 325.7,106.5 325.9,105.6 326,105.7 326.2,106.1 326.3,104.9 326.5,103.2 326.6,102.1 326.8,100.6 326.9,100.1 327.1,99.6 327.2,100 327.4,100.3 327.5,99.7 327.7,98.6 327.8,101 328,100.1 328.1,100.6 328.3,100.4 328.4,99.6 328.6,99.6 328.7,98.6 328.9,99.4 329,99.3 329.2,100.2 329.3,101 329.4,99.4 329.6,101.6 329.7,102.5 329.9,100.6 330,101 330.2,102.2 330.3,102.4 330.5,99.8 330.6,101.1 330.8,99.9 330.9,99.9 331.1,100.1 331.2,100.4 331.4,100.6 331.5,100.8 331.7,101.2 331.8,102.5 332,103.1 332.1,101.7 332.3,102.8 332.4,104.8 332.6,104.5 332.7,105.2 332.9,104.5 333,104.1 333.2,103.6 333.3,104.4 333.5,103.9 333.6,104.2 333.8,105 333.9,106.9 334,108.4 334.2,106.8 334.3,106.5 334.5,106.8 334.6,106.8 334.8,108.4 334.9,109.3 335.1,108.4 335.2,108.5 335.4,108.4 335.5,108.4 335.7,110.3 335.8,111 336,111.1 336.1,111.2 336.3,110.9 336.4,111.4 336.6,111.5 336.7,111.1 336.9,110.2 337,109.1 337.2,109.3 337.3,109.9 337.5,108.9 337.6,110.2 337.8,111.3 337.9,110.8 338.1,111.2 338.2,111.3 338.4,111.5 338.5,112.3 338.7,112.5 338.8,112.6 338.9,110.5 339.1,110.8 339.2,109.3 339.4,111.1 339.5,110 339.7,111.4 339.8,111 340,112 340.1,112.9 340.3,112 340.4,113 340.6,113.1 340.7,113.1 340.9,113.1 341,112.2 341.2,110.7 341.3,111.5 341.5,111.7 341.6,111.9 341.8,111.3 341.9,110.3 342.1,111.5 342.2,111.3 342.4,110.3 342.5,109.4 342.7,112.6 342.8,113.1 343,112.5 343.1,109.1 343.3,112.8 343.4,112.7 343.5,112.6 343.7,112.5 343.8,112.3 344,110.8 344.1,109.5 344.3,109.5 344.4,109.7 344.6,110.3 344.7,109.9 344.9,109.8 345,109 345.2,109.5 345.3,110.3 345.5,111 345.6,111.7 345.8,111.4 345.9,110.8 346.1,111.1 346.2,112.2 346.4,111.8 346.5,112.3 346.7,111.2 346.8,112.1 347,112.2 347.1,111.3 347.3,112.2 347.4,111.5 347.6,111.6 347.7,111.9 347.9,112.5 348,111.7 348.1,114.1 348.3,113.9 348.4,113 348.6,112 348.7,112.9 348.9,111.2 349,111.5 349.2,112.9 349.3,113.4 349.5,113.1 349.6,113 349.8,112.7 349.9,113.3 350.1,112.3 350.2,112.4 350.4,113.5 350.5,113.2 350.7,113.6 350.8,115.7 351,115.7 351.1,115.1 351.3,115.7 351.4,115.7 351.6,115.3 351.7,115.7 351.9,115 352,115.7 352.2,114.6 352.3,114.3 352.5,114 352.6,115.1 352.8,113.9 352.9,114.5 353,114.5 353.2,114.1 353.3,113.9 353.5,115 353.6,112.6 353.8,113.2 353.9,112.4 354.1,112.6 354.2,112.5 354.4,114.5 354.5,113.4 354.7,112.3 354.8,112 355,114.1 355.1,113.7 355.3,114.2 355.4,114.7 355.6,114 355.7,112.7 355.9,113.5 356,112.8 356.2,112 356.3,113.2 356.5,112.5 356.6,111.4 356.8,111.4 356.9,111.7 357.1,111.9 357.2,112.6 357.4,114.4 357.5,114.3 357.6,114.3 357.8,113.6 357.9,114.2 358.1,114 358.2,111.4 358.4,112.3 358.5,112.7 358.7,112.7 358.8,110.5 359,111.3 359.1,110.7 359.3,112.1 359.4,112.2 359.6,111.3 359.7,111.5 359.9,111.2 360,112.9 360.2,112.5 360.3,111.8 360.5,112 360.6,111.5 360.8,108.6 360.9,111.9 361.1,111.1 361.2,109.9 361.4,108.3 361.5,108.7 361.7,108.8 361.8,109 362,108.7 362.1,108.5 362.2,108.9 362.4,109.4 362.5,109 362.7,107.4 362.8,109.9 363,109.4 363.1,109.5 363.3,108.3 363.4,109.2 363.6,109.6 363.7,110.4 363.9,109.2 364,106.8 364.2,108.2 364.3,109.7 364.5,105.9 364.6,106.6 364.8,106.2 364.9,107 365.1,105.9 365.2,104.3 365.4,104.1 365.5,103.7 365.7,104.4 365.8,103.3 366,102.9 366.1,102.9 366.3,101.9 366.4,101.7 366.6,100.8 366.7,101.3 366.9,101 367,100.4 367.1,100.9 367.3,101.8 367.4,103.6 367.6,102.7 367.7,102.6 367.9,104.4 368,104.4 368.2,104.4" stroke="#fa8072" stroke-width="1.1"/>
<polyline points="219.9,97.7 220.1,97.7 220.2,97.7 220.4,97.2 220.5,94.8 220.7,93.4 220.8,91.2 221,90.8 221.1,93.8 221.2,93.2 221.4,93.8 221.5,92.2 221.7,92.8 221.8,94.4 222,93.3 222.1,96.2 222.3,93 222.4,94.5 222.6,96.7 222.7,96.4 222.9,97.6 223,99.8 223.2,101 223.3,102.8 223.5,102.7 223.6,98.4 223.8,100.8 223.9,102.8 224.1,100.6 224.2,99.3 224.4,94.6 224.5,96.1 224.7,94.2 224.8,98.9 225,93.4 225.1,93.6 225.3,91.5 225.4,94.1 225.6,90.9 225.7,88.8 225.9,90 226,86.4 226.1,89.8 226.3,86.6 226.4,84 226.6,84.7 226.7,83.2 226.9,81.4 227,81.4 227.2,81.4 227.3,81.4 227.5,81.4 227.6,81.4 227.8,86 227.9,85.4 228.1,83.4 228.2,89.7 228.4,88.2 228.5,89.2 228.7,90.5 228.8,91.4 229,86.9 229.1,86.9 229.3,91 229.4,92.6 229.6,91.6 229.7,92.3 229.9,94.8 230,95.6 230.2,93.8 230.3,98.9 230.5,98.3 230.6,99.2 230.7,94.5 230.9,95.3 231,96.2 231.2,95.8 231.3,94.7 231.5,96.6 231.6,97.8 231.8,97 231.9,99.2 232.1,98.1 232.2,95.4 232.4,95.9 232.5,94 232.7,93.8 232.8,94.1 233,94.5 233.1,94.1 233.3,92.5 233.4,90.7 233.6,89.7 233.7,90.5 233.9,89.5 234,92.2 234.2,92.2 234.3,91.2 234.5,93.7 234.6,93.7 234.8,93.7 234.9,94 235.1,97.5 235.2,94.9 235.3,96 235.5,97 235.6,98.3 235.8,98.7 235.9,101.5 236.1,95.2 236.2,102.7 236.4,101.9 236.5,104.7 236.7,100.1 236.8,103 237,101.8 237.1,105 237.3,108 237.4,109.5 237.6,105.4 237.7,104.4 237.9,106 238,107.3 238.2,108.1 238.3,110.3 238.5,113.4 238.6,110.8 238.8,110.2 238.9,113.7 239.1,114.9 239.2,110.9 239.4,113.8 239.5,113 239.7,114.5 239.8,115.7 240,115.5 240.1,115.7 240.2,114.7 240.4,114.4 240.5,114.7 240.7,113.4 240.8,113.5 241,111.7 241.1,111.7 241.3,110.1 241.4,110.8 241.6,111.7 241.7,113.5 241.9,113.3 242,111.6 242.2,113.1 242.3,113.1 242.5,113.1 242.6,113 242.8,112.7 242.9,113.1 243.1,113.1 243.2,107.6 243.4,105.6 243.5,110.5 243.7,107.7 243.8,105.7 244,105.6 244.1,105.6 244.3,106.3 244.4,106 244.6,105.6 244.7,105.6 244.8,106.5 245,108.4 245.1,108.4 245.3,108.4 245.4,108.7 245.6,105.8 245.7,105.8 245.9,104.9 246,105 246.2,104.8 246.3,104.9 246.5,106.2 246.6,108 246.8,106.5 246.9,106.7 247.1,108.5 247.2,107.7 247.4,108.2 247.5,106.7 247.7,106.7 247.8,107.8 248,111.1 248.1,110.8 248.3,110.9 248.4,111.6 248.6,111.6 248.7,114.8 248.9,114.8 249,114.8 249.2,114.8 249.3,114.8 249.4,113.8 249.6,112.6 249.7,114.8 249.9,114.8 250,114.2 250.2,114.8 250.3,113.8 250.5,113.6 250.6,110.7 250.8,110 250.9,110.4 251.1,113 251.2,112.6 251.4,111.8 251.5,112.6 251.7,112.8 251.8,113 252,114.4 252.1,114.1 252.3,111.4 252.4,112.3 252.6,110.8 252.7,110.8 252.9,111.6 253,110.8 253.2,114.8 253.3,116 253.5,114 253.6,115.5 253.8,116.5 253.9,116.6 254.1,116.8 254.2,116.9 254.3,117.1 254.5,116.9 254.6,116.8 254.8,116.5 254.9,113.4 255.1,116.3 255.2,117.5 255.4,116.9 255.5,115.2 255.7,117.5 255.8,117.5 256,117.5 256.1,117.2 256.3,114.2 256.4,116.5 256.6,116.1 256.7,117.2 256.9,116.5 257,117.5 257.2,114.3 257.3,115.1 257.5,117.3 257.6,114.3 257.8,115.1 257.9,116 258.1,116.3 258.2,118.6 258.4,118.3 258.5,119 258.7,119.2 258.8,119.2 258.9,119.2 259.1,119.2 259.2,118.3 259.4,118.3 259.5,116.6 259.7,118.6 259.8,119.2 260,118.5 260.1,114.5 260.3,119.2 260.4,118.6 260.6,118.5 260.7,117.6 260.9,117.4 261,113.6 261.2,114.5 261.3,111.8 261.5,114.2 261.6,112.2 261.8,111.7 261.9,114 262.1,110.3 262.2,113.1 262.4,112.8 262.5,113 262.7,109.5 262.8,108.5 263,107.7 263.1,107.6 263.3,106.9 263.4,108.1 263.5,106.4 263.7,108.4 263.8,109.2 264,110 264.1,109.6 264.3,106.8 264.4,108.1 264.6,106.6 264.7,106.7 264.9,107.6 265,106.3 265.2,105.4 265.3,106 265.5,104.9 265.6,105.9 265.8,105.3 265.9,105.4 266.1,105.2 266.2,104.8 266.4,106.6 266.5,104.8 266.7,104.8 266.8,107 267,107 267.1,106.4 267.3,108 267.4,108 267.6,108 267.7,108 267.9,108 268,107.5 268.2,105.6 268.3,104.6 268.4,102.8 268.6,104.8 268.7,105 268.9,104.3 269,107.3 269.2,106.5 269.3,99.5 269.5,100.3 269.6,99.6 269.8,96.3 269.9,98.7 270.1,100.4 270.2,99.2 270.4,96.1 270.5,96.5 270.7,96.7 270.8,94 271,93.9 271.1,90.2 271.3,93 271.4,90.2 271.6,92.7 271.7,93.7 271.9,93.2 272,92.2 272.2,92.5 272.3,89.8 272.5,87.5 272.6,89.2 272.8,87.5 272.9,87.5 273,87.8 273.2,89 273.3,89.9 273.5,89.5 273.6,91.4 273.8,90.1 273.9,92.1 274.1,88 274.2,90 274.4,87.4 274.5,86.8 274.7,87.5 274.8,86.6 275,86 275.1,84.9 275.3,88.7 275.4,85.1 275.6,89.1 275.7,92.7 275.9,91.4 276,91.4 276.2,90.1 276.3,92.5 276.5,91.4 276.6,93.8 276.8,93.8 276.9,93.5 277.1,91.1 277.2,91 277.4,89.2 277.5,88.9 277.6,92.1 277.8,93 277.9,89.9 278.1,90.1 278.2,92 278.4,88.4 278.5,89 278.7,89.6 278.8,95.7 279,95.3 279.1,93.1 279.3,93 279.4,92.7 279.6,95.7 279.7,89 279.9,91.4 280,90.8 280.2,89.8 280.3,89.6 280.5,88.2 280.6,91 280.8,91.3 280.9,91.8 281.1,91.3 281.2,90.9 281.4,84.2 281.5,82.2 281.7,86.3 281.8,88.4 282,86.6 282.1,86.4 282.3,88.1 282.4,85.6 282.5,86.8 282.7,84.6 282.8,84.8 283,92.4 283.1,87.2 283.3,88.3 283.4,93.2 283.6,95.9 283.7,97.9 283.9,99.4 284,98.4 284.2,100.6 284.3,95.5 284.5,101.9 284.6,101 284.8,98.3 284.9,98 285.1,99.3 285.2,97.1 285.4,101.1 285.5,101.6 285.7,104.1 285.8,102.4 286,106.2 286.1,104.2 286.3,102.9 286.4,110.4 286.6,108 286.7,105.4 286.9,108.2 287,108.7 287.1,108.8 287.3,106.8 287.4,105.5 287.6,102.8 287.7,103.1 287.9,101 288,102.9 288.2,100.6 288.3,102.2 288.5,105.2 288.6,102.4 288.8,99.2 288.9,98.7 289.1,99.7 289.2,99.9 289.4,100.3 289.5,98.7 289.7,98.7 289.8,98.7 290,100.7 290.1,104.2 290.3,104.3 290.4,102.5 290.6,101.1 290.7,101.8 290.9,104.1 291,103 291.2,106.5 291.3,104.2 291.5,106.8 291.6,108.5 291.7,107.3 291.9,109.3 292,108.4 292.2,109.6 292.3,108.3 292.5,106 292.6,103.1 292.8,104.7 292.9,106.2 293.1,105.6 293.2,104.4 293.4,108.8 293.5,108.8 293.7,107.3 293.8,107.4 294,106 294.1,104.1 294.3,104.5 294.4,103.6 294.6,106.9 294.7,103.8 294.9,103.9 295,103.2 295.2,99.7 295.3,103.4 295.5,101.7 295.6,99.6 295.8,102.5 295.9,103.1 296.1,100.1 296.2,102.8 296.4,103.8 296.5,102 296.6,101.8 296.8,104 296.9,107.9 297.1,103.8 297.2,106.2 297.4,107.1 297.5,105.8 297.7,107 297.8,103.3 298,101.7 298.1,99.4 298.3,101 298.4,100.2 298.6,100 298.7,100.5 298.9,98.7 299,101.1 299.2,98.7 299.3,98.7 299.5,99.3 299.6,100 299.8,99.8 299.9,100.9 300.1,100.2 300.2,98.7 300.4,101.4 300.5,100.4 300.7,99.1 300.8,98.6 301,99.7 301.1,98.6 301.2,101.1 301.4,101.9 301.5,101.9 301.7,101.9 301.8,101.9 302,99.4 302.1,99.8 302.3,97.2 302.4,95.8 302.6,95.7 302.7,95.5 302.9,95.3 303,95.3 303.2,95.3 303.3,95.3 303.5,95.3 303.6,96.1 303.8,97.2 303.9,95.3 304.1,95.3 304.2,96.3 304.4,95.8 304.5,97.7 304.7,96.8 304.8,95.6 305,96.7 305.1,98 305.3,100.5 305.4,100.6 305.6,101.8 305.7,99.3 305.8,107.1 306,107.6 306.1,107.6 306.3,101.6 306.4,103.6 306.6,100.8 306.7,102.7 306.9,105.8 307,105.1 307.2,102.6 307.3,103.8 307.5,105.5 307.6,107 307.8,108.6 307.9,111.7 308.1,110.6 308.2,112.1 308.4,115 308.5,115.9 308.7,114.1 308.8,111.4 309,115.4 309.1,117.8 309.3,116.6 309.4,117.2 309.6,115.9 309.7,116.6 309.9,115.9 310,116.6 310.2,117.9 310.3,117.4 310.5,117.1 310.6,116.7 310.7,115.7 310.9,118.5 311,117.6 311.2,114.9 311.3,114.9 311.5,115.8 311.6,115.8 311.8,115.7 311.9,115.1 312.1,115.4 312.2,115.3 312.4,115.6 312.5,114.9 312.7,114.4 312.8,116.3 313,115.1 313.1,115.9 313.3,114.6 313.4,117.6 313.6,118.3 313.7,116.5 313.9,114.4 314,112.4 314.2,109.8 314.3,113.3 314.5,115.5 314.6,110 314.8,110.1 314.9,108.5 315.1,107 315.2,107.3 315.3,110.2 315.5,114.1 315.6,114.5 315.8,109.8 315.9,108.4 316.1,104.6 316.2,107.7 316.4,104.6 316.5,101.9 316.7,99.8 316.8,102.5 317,100.8 317.1,100 317.3,99.2 317.4,100 317.6,100.2 317.7,102.4 317.9,103.4 318,102.1 318.2,101.7 318.3,102.5 318.5,103.8 318.6,105.7 318.8,104.2 318.9,103.3 319.1,102.6 319.2,105.6 319.4,105.1 319.5,100.1 319.7,102.6 319.8,100.9 319.9,101.5 320.1,96.9 320.2,100.5 320.4,97.9 320.5,100.2 320.7,97.4 320.8,99.5 321,97.6 321.1,97.2 321.3,96.1 321.4,96.8 321.6,96.1 321.7,96.1 321.9,96.1 322,96.1 322.2,96.8 322.3,96.1 322.5,96.1 322.6,97.3 322.8,103.4 322.9,108 323.1,111.3 323.2,107 323.4,107.9 323.5,102.9 323.7,101.7 323.8,103.5 324,99.3 324.1,102.8 324.3,102.1 324.4,102.5 324.6,109.1 324.7,111.9 324.8,112.6 325,109.8 325.1,112.4 325.3,116.4 325.4,113.3 325.6,112.5 325.7,112.2 325.9,114.9 326,111.8 326.2,114.9 326.3,112.3 326.5,104.8 326.6,104.9 326.8,101.1 326.9,102.6 327.1,104 327.2,105.4 327.4,102.3 327.5,106.6 327.7,102.3 327.8,97.8 328,97.1 328.1,98 328.3,98.9 328.4,94.4 328.6,97.9 328.7,97.4 328.9,98.5 329,97.7 329.2,97.9 329.3,95.7 329.4,95.8 329.6,96.4 329.7,96.9 329.9,94.7 330,102.2 330.2,101.9 330.3,100.1 330.5,103.1 330.6,99.4 330.8,102.9 330.9,101.5 331.1,105.7 331.2,103.6 331.4,103.3 331.5,103.8 331.7,102.6 331.8,103.3 332,106 332.1,105.9 332.3,106.9 332.4,107 332.6,107.1 332.7,107.2 332.9,107.3 333,107.4 333.2,107 333.3,107.2 333.5,107.4 333.6,103.9 333.8,107.9 333.9,105.8 334,104.2 334.2,104.6 334.3,106.3 334.5,106 334.6,106.7 334.8,105.1 334.9,107.6 335.1,107.8 335.2,109.9 335.4,110.4 335.5,109.5 335.7,109.8 335.8,111.4 336,110.5 336.1,111.3 336.3,112.9 336.4,111 336.6,110.3 336.7,110.8 336.9,110.6 337,110.9 337.2,109.3 337.3,108.5 337.5,108.3 337.6,107.8 337.8,108 337.9,108.2 338.1,108.2 338.2,109.2 338.4,109 338.5,110.8 338.7,109.7 338.8,108.6 338.9,108.2 339.1,108.6 339.2,108.2 339.4,108.2 339.5,108.8 339.7,108.9 339.8,112 340,113.9 340.1,111.1 340.3,111.9 340.4,113.9 340.6,113.9 340.7,113.9 340.9,113.2 341,113.9 341.2,113.9 341.3,113.9 341.5,111.7 341.6,111.9 341.8,109 341.9,111.3 342.1,111.1 342.2,109.7 342.4,110.7 342.5,108.4 342.7,106.7 342.8,107.8 343,106.1 343.1,107.8 343.3,106.8 343.4,104.4 343.5,105.3 343.7,105.9 343.8,106.8 344,107.1 344.1,107 344.3,109.3 344.4,105 344.6,107.1 344.7,106.2 344.9,103.9 345,104.7 345.2,104.6 345.3,102.6 345.5,103 345.6,101.8 345.8,104.1 345.9,104.3 346.1,103.5 346.2,108.7 346.4,109.3 346.5,110.7 346.7,111 346.8,114.9 347,111.8 347.1,110.5 347.3,112 347.4,111 347.6,114.3 347.7,112.4 347.9,111.8 348,112.3 348.1,112.6 348.3,111.9 348.4,110.7 348.6,112.1 348.7,115.5 348.9,115.3 349,116.1 349.2,116.9 349.3,117.4 349.5,115.9 349.6,118.4 349.8,115.8 349.9,118.7 350.1,118.1 350.2,118.9 350.4,118.2 350.5,118.9 350.7,119.2 350.8,118 351,119.3 351.1,119 351.3,117.9 351.4,118.3 351.6,118.2 351.7,115.5 351.9,115.3 352,116 352.2,115.4 352.3,115.5 352.5,116.2 352.6,117.8 352.8,117.2 352.9,118.9 353,117.1 353.2,117 353.3,117.4 353.5,117.3 353.6,116.2 353.8,114.4 353.9,115.5 354.1,114.7 354.2,115.2 354.4,115.3 354.5,114.4 354.7,117.2 354.8,117.5 355,118.2 355.1,118.4 355.3,118.4 355.4,117.3 355.6,118 355.7,116.8 355.9,116.9 356,116.5 356.2,117.1 356.3,118.3 356.5,117.5 356.6,115.5 356.8,118 356.9,117.9 357.1,117.8 357.2,117.8 357.4,117.7 357.5,113.9 357.6,114.4 357.8,113.6 357.9,115.2 358.1,114.2 358.2,111.8 358.4,113.5 358.5,115.1 358.7,114.6 358.8,115.8 359,112.3 359.1,111.2 359.3,111.9 359.4,112.6 359.6,111.3 359.7,110.8 359.9,112.3 360,113.6 360.2,114.5 360.3,114.2 360.5,114 360.6,114 360.8,114 360.9,114 361.1,114 361.2,114 361.4,112.3 361.5,113.2 361.7,111.7 361.8,113.4 362,112.6 362.1,109.5 362.2,110.7 362.4,109.5 362.5,109.4 362.7,107.6 362.8,110.6 363,112 363.1,112.9 363.3,107.5 363.4,105.7 363.6,105.1 363.7,106.3 363.9,106.8 364,107.8 364.2,105.6 364.3,103.5 364.5,107.4 364.6,104.5 364.8,105.9 364.9,100.1 365.1,103 365.2,101.2 365.4,99.7 365.5,95.8 365.7,95.3 365.8,99.1 366,98.8 366.1,102.7 366.3,100.2 366.4,95.6 366.6,94.3 366.7,96.5 366.9,94.3 367,94.3 367.1,95.2 367.3,95.7 367.4,94.3 367.6,96.5 367.7,96.4 367.9,97.8 368,96.3 368.2,99.3" stroke="#ffd700" stroke-width="1.15"/>
<polyline points="219.9,70.6 220.1,71.5 220.2,70.1 220.4,66.9 220.5,68.9 220.7,70.2 220.8,67.4 221,69.4 221.1,69.7 221.2,71.6 221.4,64.8 221.5,64.8 221.7,72.3 221.8,78.7 222,71.3 222.1,78.7 222.3,75.3 222.4,73.4 222.6,75.8 222.7,70.7 222.9,72 223,72.1 223.2,69.9 223.3,69.9 223.5,75.3 223.6,83.2 223.8,75.4 223.9,75.1 224.1,81.2 224.2,85.1 224.4,83.1 224.5,85 224.7,85.7 224.8,85.7 225,85.7 225.1,84.5 225.3,85.7 225.4,80.8 225.6,79.8 225.7,79.3 225.9,78.7 226,80.2 226.1,73.4 226.3,77.4 226.4,69.8 226.6,61.3 226.7,74.6 226.9,79.7 227,78.8 227.2,63.1 227.3,59.4 227.5,55.8 227.6,35.5 227.8,31.1 227.9,43.2 228.1,27.3 228.2,27.3 228.4,27.3 228.5,27.3 228.7,48 228.8,51.8 229,49.1 229.1,51.4 229.3,82.2 229.4,73.3 229.6,50.3 229.7,75.1 229.9,75.3 230,85.6 230.2,85.6 230.3,80.6 230.5,83.4 230.6,81.7 230.7,85.6 230.9,85.6 231,85.6 231.2,81.9 231.3,83.8 231.5,67.4 231.6,67.7 231.8,70.1 231.9,62.2 232.1,56.5 232.2,51.1 232.4,53.5 232.5,51.1 232.7,54.4 232.8,53.5 233,51.3 233.1,58.7 233.3,53.4 233.4,72.1 233.6,75 233.7,80.6 233.9,74.9 234,74.6 234.2,65.1 234.3,71.8 234.5,70.1 234.6,64.7 234.8,76.9 234.9,67.9 235.1,75.9 235.2,84.9 235.3,79.1 235.5,82 235.6,78.3 235.8,86.6 235.9,86.3 236.1,92.7 236.2,89.5 236.4,91.6 236.5,81.7 236.7,89.5 236.8,93.5 237,92.9 237.1,96.4 237.3,92.9 237.4,91.4 237.6,93.5 237.7,96.4 237.9,95 238,92.2 238.2,92.9 238.3,95.1 238.5,92.5 238.6,92.5 238.8,94 238.9,95.4 239.1,91.2 239.2,92.4 239.4,93.8 239.5,94.8 239.7,84.9 239.8,79.3 240,86.1 240.1,82.6 240.2,79.8 240.4,83 240.5,83.1 240.7,86.2 240.8,79.1 241,82.1 241.1,76.7 241.3,74.6 241.4,78.5 241.6,77.6 241.7,77.4 241.9,73.7 242,80 242.2,74 242.3,74 242.5,71.6 242.6,70.6 242.8,69.5 242.9,66.4 243.1,71.2 243.2,70.7 243.4,66.4 243.5,69 243.7,75.3 243.8,73.5 244,73.3 244.1,66.6 244.3,71.8 244.4,74.5 244.6,79.1 244.7,81.8 244.8,84.3 245,85 245.1,89.4 245.3,89.4 245.4,87.8 245.6,89.2 245.7,89.4 245.9,88.6 246,88.3 246.2,88.4 246.3,86.6 246.5,83.9 246.6,83.1 246.8,82.5 246.9,82.6 247.1,80 247.2,82 247.4,81.8 247.5,83.9 247.7,74.1 247.8,77 248,72 248.1,74 248.3,74.6 248.4,72 248.6,76.8 248.7,79.9 248.9,78.3 249,87.4 249.2,89.8 249.3,89.2 249.4,85.4 249.6,83 249.7,85.5 249.9,93.1 250,93.8 250.2,94.2 250.3,95.6 250.5,94.8 250.6,95.8 250.8,93.3 250.9,95.9 251.1,94.6 251.2,93.9 251.4,93.3 251.5,92.3 251.7,92.3 251.8,92.7 252,91.5 252.1,92.2 252.3,95.8 252.4,96.2 252.6,94.3 252.7,96.4 252.9,97.1 253,94.4 253.2,94.8 253.3,93.9 253.5,95.8 253.6,92.9 253.8,94.2 253.9,96.3 254.1,95.1 254.2,97.6 254.3,96.8 254.5,99.8 254.6,96.3 254.8,94.9 254.9,98.4 255.1,100.1 255.2,101 255.4,101.1 255.5,101.1 255.7,101.2 255.8,100.6 256,99.8 256.1,97.8 256.3,97.9 256.4,100.2 256.6,101 256.7,98.4 256.9,99.8 257,100.8 257.2,99.9 257.3,101.5 257.5,99.9 257.6,100.8 257.8,101.6 257.9,101 258.1,98.8 258.2,100.6 258.4,100.8 258.5,94.9 258.7,96 258.8,96.2 258.9,92.5 259.1,93.4 259.2,95.6 259.4,92.5 259.5,93.7 259.7,93.2 259.8,94.7 260,96.8 260.1,95.7 260.3,94.8 260.4,96.3 260.6,97.7 260.7,99.8 260.9,99.8 261,99.8 261.2,99.8 261.3,98.4 261.5,99.6 261.6,93.3 261.8,88 261.9,86.8 262.1,89.7 262.2,93 262.4,99.8 262.5,83.2 262.7,85 262.8,79.2 263,86.5 263.1,84.4 263.3,81.5 263.4,81.7 263.5,86.4 263.7,86.5 263.8,81.3 264,88.4 264.1,84.5 264.3,84.1 264.4,80.3 264.6,89.2 264.7,94.4 264.9,95.5 265,95.5 265.2,94 265.3,96.3 265.5,93.8 265.6,93.6 265.8,91.5 265.9,92.7 266.1,94.7 266.2,96.3 266.4,95 266.5,92 266.7,96.3 266.8,95.3 267,92.3 267.1,92.4 267.3,91.8 267.4,92.3 267.6,92.7 267.7,95.2 267.9,94.6 268,91.7 268.2,92.2 268.3,95.7 268.4,93.3 268.6,94.1 268.7,91.4 268.9,94.4 269,93.4 269.2,94.9 269.3,94.7 269.5,90.8 269.6,86.6 269.8,85.8 269.9,88.8 270.1,83.8 270.2,88.4 270.4,85.9 270.5,88 270.7,76.9 270.8,71.1 271,76.4 271.1,85.6 271.3,88.2 271.4,85.7 271.6,71.3 271.7,80.6 271.9,79.6 272,71.1 272.2,72 272.3,60.4 272.5,67.9 272.6,75.4 272.8,77.9 272.9,66.5 273,68.3 273.2,68.4 273.3,66.1 273.5,62.3 273.6,62.7 273.8,62.6 273.9,65.3 274.1,63.7 274.2,67.2 274.4,66.4 274.5,67.8 274.7,65.8 274.8,67 275,64.7 275.1,66.8 275.3,66.2 275.4,66.4 275.6,65.4 275.7,65.3 275.9,64.6 276,63.8 276.2,64.7 276.3,65 276.5,68.6 276.6,67.6 276.8,70.2 276.9,69.4 277.1,69.9 277.2,71 277.4,72.4 277.5,70.9 277.6,73.5 277.8,75.1 277.9,75.1 278.1,74 278.2,72.1 278.4,72.6 278.5,74.3 278.7,74.7 278.8,74.3 279,71.8 279.1,72.7 279.3,70.7 279.4,69.4 279.6,70.7 279.7,65.6 279.9,64.2 280,66.8 280.2,66.8 280.3,63.4 280.5,65 280.6,62.8 280.8,60.9 280.9,64.1 281.1,61.8 281.2,57.6 281.4,61.9 281.5,63.8 281.7,60.4 281.8,63.9 282,64.5 282.1,64.3 282.3,59.7 282.4,65.7 282.5,62.1 282.7,58.1 282.8,66.4 283,68.1 283.1,71.7 283.3,76 283.4,69 283.6,73.5 283.7,81 283.9,79.2 284,80.8 284.2,78.3 284.3,81.5 284.5,76.2 284.6,78.3 284.8,76.1 284.9,82.7 285.1,83.6 285.2,83.9 285.4,83.9 285.5,83.5 285.7,82.8 285.8,82.7 286,83.9 286.1,81.9 286.3,81.5 286.4,82.6 286.6,82.7 286.7,80.2 286.9,81.5 287,83.3 287.1,81.4 287.3,81.2 287.4,80 287.6,79.9 287.7,79.9 287.9,79.9 288,79.9 288.2,80.2 288.3,79.9 288.5,80.9 288.6,80.8 288.8,83.1 288.9,82.5 289.1,84.7 289.2,84.1 289.4,85.5 289.5,85.5 289.7,85.5 289.8,85.5 290,84.6 290.1,85.1 290.3,85.1 290.4,83.1 290.6,78 290.7,80.2 290.9,82.8 291,80.3 291.2,76.6 291.3,78.7 291.5,79 291.6,77.4 291.7,79.4 291.9,78.4 292,83.8 292.2,80.7 292.3,83 292.5,82.7 292.6,84 292.8,84.3 292.9,82.8 293.1,85.6 293.2,91.2 293.4,91.2 293.5,91.2 293.7,91.2 293.8,91.2 294,88.2 294.1,80.6 294.3,81 294.4,80.8 294.6,78.4 294.7,77.3 294.9,81.3 295,85.3 295.2,81.2 295.3,83.9 295.5,82.5 295.6,77 295.8,75.1 295.9,78.4 296.1,78.3 296.2,80.8 296.4,74.9 296.5,76 296.6,73.8 296.8,71.7 296.9,71.7 297.1,72.9 297.2,71.7 297.4,72.7 297.5,75.5 297.7,71.7 297.8,71.7 298,71.7 298.1,72 298.3,75.8 298.4,79.5 298.6,81.8 298.7,85.2 298.9,81.7 299,73.6 299.2,82.2 299.3,89.3 299.5,89.3 299.6,85.8 299.8,84.4 299.9,84 300.1,86 300.2,89.2 300.4,88.4 300.5,85.6 300.7,87.4 300.8,86.5 301,84.8 301.1,87.1 301.2,86.9 301.4,88.9 301.5,88.1 301.7,88.6 301.8,88 302,86.7 302.1,85.9 302.3,86.1 302.4,85.3 302.6,86.1 302.7,86.7 302.9,85.6 303,83.6 303.2,83.6 303.3,83.6 303.5,83.6 303.6,83.6 303.8,83.8 303.9,85.7 304.1,87.7 304.2,86.7 304.4,85 304.5,85.2 304.7,83.1 304.8,83.1 305,82.7 305.1,82.5 305.3,82.3 305.4,82.1 305.6,81.9 305.7,82.9 305.8,81.9 306,81.9 306.1,83.4 306.3,83.5 306.4,81.9 306.6,81.9 306.7,81.9 306.9,82 307,81.9 307.2,81.9 307.3,82.8 307.5,86.4 307.6,83.1 307.8,84.9 307.9,88.3 308.1,84.7 308.2,84.3 308.4,87.3 308.5,85.6 308.7,84.6 308.8,85.2 309,85.9 309.1,86.6 309.3,87.5 309.4,91.4 309.6,95.4 309.7,99.1 309.9,97.8 310,103.1 310.2,108.7 310.3,94.4 310.5,95.3 310.6,94.2 310.7,92.2 310.9,98.2 311,100.7 311.2,114.4 311.3,112.6 311.5,111.1 311.6,108.2 311.8,114.5 311.9,110 312.1,114.9 312.2,107 312.4,109.7 312.5,110.4 312.7,107.7 312.8,106.3 313,106 313.1,111.5 313.3,111.6 313.4,110.2 313.6,107.5 313.7,104.8 313.9,104.5 314,98.4 314.2,101.1 314.3,100.7 314.5,98.6 314.6,97.5 314.8,107.6 314.9,109 315.1,110.6 315.2,112.3 315.3,112.3 315.5,111.5 315.6,112.3 315.8,112.3 315.9,101.5 316.1,102 316.2,110.5 316.4,83.3 316.5,97.9 316.7,83.6 316.8,90.2 317,78.1 317.1,79.5 317.3,82.8 317.4,77.9 317.6,85.1 317.7,80.5 317.9,77.7 318,81.5 318.2,87.7 318.3,87.2 318.5,85 318.6,87.7 318.8,89.3 318.9,87.8 319.1,89.3 319.2,86 319.4,89 319.5,83.8 319.7,87.6 319.8,89.3 319.9,89.3 320.1,86.4 320.2,84.6 320.4,86.2 320.5,86.4 320.7,84.8 320.8,83.4 321,81.9 321.1,82.5 321.3,83.7 321.4,84.3 321.6,84.9 321.7,83 321.9,85.5 322,86.2 322.2,84.2 322.3,85 322.5,86 322.6,87.3 322.8,90.6 322.9,90.1 323.1,87.1 323.2,90 323.4,87 323.5,88.4 323.7,90.5 323.8,90.4 324,89.7 324.1,87.5 324.3,85.8 324.4,88.9 324.6,91 324.7,88 324.8,90.5 325,88.8 325.1,91.2 325.3,91.6 325.4,90.9 325.6,90.6 325.7,91.2 325.9,90.7 326,91.6 326.2,93.2 326.3,90.8 326.5,92.7 326.6,94.7 326.8,94.7 326.9,89.7 327.1,94.7 327.2,84.8 327.4,82.5 327.5,84.2 327.7,85.9 327.8,84 328,71.7 328.1,73.4 328.3,79.2 328.4,82.5 328.6,83.7 328.7,86.3 328.9,71.1 329,78.5 329.2,77.4 329.3,76.8 329.4,78.9 329.6,72.3 329.7,74.8 329.9,77.6 330,73.1 330.2,79.6 330.3,79.2 330.5,84.3 330.6,77.1 330.8,78.6 330.9,77.8 331.1,85 331.2,85.1 331.4,85.2 331.5,85.3 331.7,85.2 331.8,85.5 332,85.6 332.1,84.9 332.3,82.7 332.4,81.9 332.6,82 332.7,82.5 332.9,83.5 333,83.1 333.2,82.8 333.3,82.5 333.5,83.3 333.6,82.7 333.8,85.4 333.9,85 334,83.8 334.2,85.4 334.3,85 334.5,84.8 334.6,83.4 334.8,87.4 334.9,85.4 335.1,85.7 335.2,90 335.4,87.8 335.5,85.4 335.7,89.8 335.8,90 336,88.7 336.1,91.5 336.3,93.4 336.4,89.8 336.6,92.6 336.7,91.5 336.9,93.8 337,96.4 337.2,92.6 337.3,97.2 337.5,97.5 337.6,95.7 337.8,96.6 337.9,96 338.1,92.7 338.2,95.2 338.4,94.1 338.5,96.6 338.7,97.4 338.8,97 338.9,100.4 339.1,96.3 339.2,96.6 339.4,97.4 339.5,95.7 339.7,96.4 339.8,95.1 340,98.4 340.1,96.3 340.3,96 340.4,96.8 340.6,98.1 340.7,106 340.9,108.2 341,109.5 341.2,105.9 341.3,109.4 341.5,109.6 341.6,107.1 341.8,108.4 341.9,104.8 342.1,103 342.2,100.9 342.4,104.1 342.5,107.6 342.7,104.8 342.8,97.7 343,96.8 343.1,95.3 343.3,90.2 343.4,90.4 343.5,85.9 343.7,95.5 343.8,99.7 344,102.6 344.1,97.9 344.3,98.9 344.4,93.4 344.6,98.1 344.7,85.3 344.9,71 345,79.4 345.2,86 345.3,75.3 345.5,68.9 345.6,68.9 345.8,69.1 345.9,71.2 346.1,71.2 346.2,71.1 346.4,74.8 346.5,68.9 346.7,72.9 346.8,77.3 347,77.8 347.1,81.2 347.3,84 347.4,77.9 347.6,84 347.7,86 347.9,88.6 348,90.5 348.1,86.7 348.3,88.3 348.4,93 348.6,87.9 348.7,89.9 348.9,83.7 349,93.6 349.2,94.7 349.3,96.2 349.5,94.1 349.6,96.1 349.8,94.1 349.9,99.4 350.1,91.4 350.2,92.4 350.4,98.5 350.5,96.1 350.7,103.4 350.8,105.6 351,104.8 351.1,107.3 351.3,103.3 351.4,104.3 351.6,104.3 351.7,106.5 351.9,109.2 352,109.9 352.2,110.5 352.3,108.8 352.5,105.9 352.6,108.8 352.8,110.5 352.9,113.2 353,110.8 353.2,113.2 353.3,111.9 353.5,109.5 353.6,109.1 353.8,111.4 353.9,110.3 354.1,112.9 354.2,113.2 354.4,113 354.5,112 354.7,111 354.8,113.2 355,112.9 355.1,113.2 355.3,112.5 355.4,112.7 355.6,113.2 355.7,112.9 355.9,111.5 356,111 356.2,111.5 356.3,112.4 356.5,111.6 356.6,109.2 356.8,108.8 356.9,108.8 357.1,110.7 357.2,112.3 357.4,109.7 357.5,112.1 357.6,112 357.8,111.9 357.9,111.8 358.1,111 358.2,111.6 358.4,111.5 358.5,111.4 358.7,110.7 358.8,110 359,110.9 359.1,111.2 359.3,110.6 359.4,111.1 359.6,111.1 359.7,110.6 359.9,107.1 360,108.5 360.2,108.2 360.3,106.8 360.5,106.4 360.6,106.2 360.8,106.1 360.9,105.9 361.1,105.8 361.2,105.9 361.4,108.1 361.5,107 361.7,108.1 361.8,106.1 362,106.9 362.1,107.8 362.2,108.5 362.4,107.8 362.5,107.3 362.7,105.5 362.8,104.7 363,105.3 363.1,106.9 363.3,107.6 363.4,104.9 363.6,106.1 363.7,104.5 363.9,106.7 364,105.6 364.2,105.5 364.3,107.3 364.5,107.1 364.6,100.8 364.8,100 364.9,99.7 365.1,99 365.2,93.6 365.4,86.2 365.5,93.1 365.7,96.3 365.8,94.7 366,93.4 366.1,97 366.3,93.8 366.4,88.5 366.6,87.6 366.7,84.3 366.9,86 367,84.8 367.1,81.2 367.3,81.2 367.4,81.2 367.6,82.8 367.7,81.4 367.9,81.6 368,81.2 368.2,81.2" stroke="#9acd32" stroke-width="1.15"/>
<polyline points="219.9,61.3 220.1,58.5 220.2,59.4 220.4,57.7 220.5,65.7 220.7,67 220.8,66 221,66.1 221.1,68.1 221.2,68.8 221.4,69.4 221.5,67.6 221.7,62.8 221.8,60.8 222,59 222.1,57.2 222.3,56.8 222.4,59 222.6,60.6 222.7,58.3 222.9,55.4 223,58.3 223.2,58.9 223.3,58.2 223.5,64.4 223.6,65.6 223.8,63.1 223.9,65.6 224.1,65.1 224.2,71.7 224.4,65.2 224.5,65.9 224.7,66.3 224.8,76.5 225,70.1 225.1,74.4 225.3,75 225.4,74.9 225.6,69.6 225.7,69.8 225.9,68.1 226,65.2 226.1,65.1 226.3,66.4 226.4,56.3 226.6,59.7 226.7,61.1 226.9,61 227,61 227.2,55.4 227.3,55.2 227.5,53.1 227.6,53.1 227.8,52.7 227.9,51.7 228.1,49.6 228.2,49.2 228.4,48.2 228.5,51.8 228.7,53.9 228.8,56.3 229,56 229.1,58.5 229.3,65.7 229.4,56.7 229.6,62.2 229.7,58.6 229.9,57.6 230,61.5 230.2,66.5 230.3,67.9 230.5,69.2 230.6,67.8 230.7,71.8 230.9,69.8 231,71.6 231.2,67.3 231.3,64.1 231.5,64.9 231.6,61.9 231.8,61.4 231.9,60.7 232.1,59.6 232.2,58.5 232.4,55.2 232.5,60.1 232.7,55.1 232.8,57.8 233,55.1 233.1,56.3 233.3,58.3 233.4,56.4 233.6,53.3 233.7,59.9 233.9,63.8 234,65.7 234.2,70.3 234.3,67.1 234.5,71.5 234.6,68.6 234.8,62.6 234.9,65.4 235.1,67 235.2,69.7 235.3,66.3 235.5,70.6 235.6,66.5 235.8,71.9 235.9,69.9 236.1,69.9 236.2,71.9 236.4,71.3 236.5,70.6 236.7,77.9 236.8,83.5 237,79.9 237.1,81.7 237.3,85.2 237.4,82 237.6,83.3 237.7,85.7 237.9,85.5 238,87.6 238.2,84.5 238.3,86.1 238.5,90.7 238.6,90.1 238.8,88.8 238.9,90.6 239.1,92.6 239.2,92.4 239.4,92.7 239.5,91.8 239.7,91.5 239.8,90.3 240,96 240.1,104.9 240.2,100.4 240.4,99.3 240.5,97.5 240.7,100.7 240.8,98 241,94.1 241.1,90.6 241.3,97.2 241.4,94.8 241.6,88.7 241.7,88.2 241.9,86.1 242,81.2 242.2,80.2 242.3,86.3 242.5,81 242.6,78.7 242.8,78.6 242.9,78.6 243.1,78.6 243.2,78.6 243.4,78.6 243.5,80.5 243.7,81.9 243.8,80.7 244,81.7 244.1,82.9 244.3,83.5 244.4,84.2 244.6,84.2 244.7,84.2 244.8,84.2 245,84.2 245.1,83.1 245.3,82.7 245.4,81.5 245.6,80.6 245.7,80.8 245.9,82.8 246,82.7 246.2,80.9 246.3,83.7 246.5,82.3 246.6,83.5 246.8,81.3 246.9,82.6 247.1,83.1 247.2,82.5 247.4,85.2 247.5,84.2 247.7,85.8 247.8,85 248,85.3 248.1,87.7 248.3,85.2 248.4,84.7 248.6,84.5 248.7,85.4 248.9,89.6 249,88.7 249.2,88.3 249.3,85.2 249.4,86.4 249.6,90.6 249.7,89.7 249.9,92.9 250,95.2 250.2,88.6 250.3,92.7 250.5,96.6 250.6,95.8 250.8,105.5 250.9,97.9 251.1,96.3 251.2,94 251.4,92.3 251.5,84.4 251.7,87.9 251.8,85.2 252,83 252.1,86.8 252.3,89.1 252.4,89.8 252.6,90.7 252.7,91.3 252.9,91.8 253,89.3 253.2,90.9 253.3,90.5 253.5,94.5 253.6,90.5 253.8,91.6 253.9,96.2 254.1,94.3 254.2,96.6 254.3,98.1 254.5,96.9 254.6,89.9 254.8,100.3 254.9,106.6 255.1,105.9 255.2,105.7 255.4,103.3 255.5,97.3 255.7,99.2 255.8,99.7 256,102.6 256.1,109.5 256.3,109.5 256.4,109.5 256.6,108.1 256.7,106.2 256.9,101.3 257,99.3 257.2,97.3 257.3,94.3 257.5,97 257.6,98.5 257.8,99.1 257.9,97.3 258.1,101.2 258.2,100.3 258.4,103 258.5,102 258.7,103.3 258.8,105 258.9,103.3 259.1,95.6 259.2,93.1 259.4,93.2 259.5,96.3 259.7,91.1 259.8,90 260,90 260.1,90 260.3,91.6 260.4,92.6 260.6,100.5 260.7,104.4 260.9,103.4 261,102.2 261.2,103.3 261.3,100.1 261.5,96.8 261.6,101.1 261.8,98.7 261.9,96.2 262.1,96.9 262.2,99.3 262.4,93.9 262.5,95.4 262.7,93.4 262.8,91.5 263,89.2 263.1,88.5 263.3,88.3 263.4,89.1 263.5,90.1 263.7,88.4 263.8,88.9 264,90.4 264.1,90.4 264.3,91.1 264.4,88.3 264.6,88.5 264.7,88.7 264.9,89 265,86.9 265.2,89.7 265.3,88.6 265.5,90.1 265.6,90.1 265.8,90 265.9,89 266.1,89.7 266.2,87.9 266.4,88.5 266.5,88.1 266.7,88.6 266.8,88 267,87.1 267.1,86.2 267.3,86.6 267.4,87.3 267.6,88.9 267.7,90.7 267.9,89.9 268,87.9 268.2,92 268.3,91.9 268.4,91.4 268.6,90.6 268.7,89.2 268.9,86.1 269,88.3 269.2,85.6 269.3,83.6 269.5,82.1 269.6,82.1 269.8,85.9 269.9,86.5 270.1,87.8 270.2,88.9 270.4,87.1 270.5,83.7 270.7,88.3 270.8,89 271,86.1 271.1,86.1 271.3,84.3 271.4,87.1 271.6,78.5 271.7,68.5 271.9,63.7 272,66.2 272.2,72.2 272.3,67.1 272.5,66.9 272.6,58.1 272.8,54.4 272.9,58.3 273,61.4 273.2,57.3 273.3,54.4 273.5,54.7 273.6,56.6 273.8,57.6 273.9,54.4 274.1,60 274.2,58.4 274.4,58.9 274.5,60.7 274.7,57.4 274.8,58.7 275,57.2 275.1,60.2 275.3,54.8 275.4,54.6 275.6,51.8 275.7,54.3 275.9,54 276,55.5 276.2,57.9 276.3,59.9 276.5,57.6 276.6,60.9 276.8,62.1 276.9,60.2 277.1,61.9 277.2,60 277.4,55.5 277.5,52.4 277.6,53.8 277.8,54.7 277.9,52.4 278.1,56 278.2,56.7 278.4,60.5 278.5,57.1 278.7,61.4 278.8,66.8 279,66.8 279.1,66.8 279.3,63.7 279.4,64.4 279.6,64 279.7,62.1 279.9,65.4 280,61.9 280.2,62.5 280.3,60 280.5,63.7 280.6,63.2 280.8,64.6 280.9,63.6 281.1,65.4 281.2,63.8 281.4,60 281.5,64.7 281.7,66.5 281.8,60.6 282,57.4 282.1,53.9 282.3,53.9 282.4,55 282.5,54.1 282.7,53.9 282.8,58.9 283,58.6 283.1,57.8 283.3,60.4 283.4,62.8 283.6,65 283.7,65 283.9,64.8 284,62.5 284.2,63.9 284.3,68.6 284.5,64.1 284.6,63 284.8,63.7 284.9,66.5 285.1,66.8 285.2,69.1 285.4,70.2 285.5,72.7 285.7,75.1 285.8,73.5 286,73.6 286.1,74.3 286.3,74.1 286.4,73.6 286.6,74.7 286.7,74.8 286.9,75.3 287,72.9 287.1,73 287.3,69.5 287.4,73 287.6,74.2 287.7,73.2 287.9,73.6 288,73.2 288.2,71.7 288.3,70.9 288.5,68.7 288.6,69.1 288.8,68.7 288.9,68.7 289.1,68.7 289.2,68.7 289.4,68.7 289.5,68.7 289.7,68.8 289.8,72.9 290,75.6 290.1,74.1 290.3,76.8 290.4,75.6 290.6,76.3 290.7,76.1 290.9,78.1 291,80.6 291.2,78.9 291.3,79.2 291.5,73.6 291.6,82.1 291.7,80.2 291.9,73.3 292,77.8 292.2,74.2 292.3,73.3 292.5,73.3 292.6,95.9 292.8,94.1 292.9,102.9 293.1,105.3 293.2,100.4 293.4,98.2 293.5,103.1 293.7,90.7 293.8,85.5 294,81.7 294.1,77.8 294.3,72.5 294.4,74 294.6,71 294.7,73.4 294.9,83.3 295,87.2 295.2,88.6 295.3,72.4 295.5,69.2 295.6,74.1 295.8,81.4 295.9,84.1 296.1,77.3 296.2,79.6 296.4,82 296.5,84 296.6,82.9 296.8,89.5 296.9,89.5 297.1,91.1 297.2,89.3 297.4,88.6 297.5,89.3 297.7,87.7 297.8,83.4 298,84.8 298.1,82 298.3,86.3 298.4,85.7 298.6,84 298.7,85.5 298.9,84.8 299,85.9 299.2,85.2 299.3,84.9 299.5,86.3 299.6,83.2 299.8,83.2 299.9,84.5 300.1,84.4 300.2,83.5 300.4,84 300.5,83.5 300.7,84.5 300.8,85.2 301,85.9 301.1,85.2 301.2,84.9 301.4,83.9 301.5,85.4 301.7,84.8 301.8,80.6 302,78.4 302.1,78.4 302.3,78.4 302.4,78.4 302.6,78.4 302.7,78.4 302.9,78.4 303,78.4 303.2,79.1 303.3,77.7 303.5,78.3 303.6,82.1 303.8,80.6 303.9,78.9 304.1,79.6 304.2,75.5 304.4,77 304.5,73.9 304.7,74.5 304.8,76.3 305,73.2 305.1,71.5 305.3,72.8 305.4,73.3 305.6,74.2 305.7,71.6 305.8,73.9 306,73.9 306.1,73.5 306.3,76 306.4,74.3 306.6,80.4 306.7,77.6 306.9,81.5 307,84.5 307.2,84.8 307.3,83.8 307.5,83.3 307.6,81.5 307.8,80.4 307.9,83.1 308.1,82.5 308.2,86 308.4,84.8 308.5,80.1 308.7,80.1 308.8,80.1 309,84.6 309.1,80.6 309.3,86.1 309.4,88.4 309.6,88.2 309.7,89.7 309.9,94.4 310,95.5 310.2,96.6 310.3,95.6 310.5,99.4 310.6,95.3 310.7,97.5 310.9,99 311,103.3 311.2,100.9 311.3,101.5 311.5,107.9 311.6,103.2 311.8,104.5 311.9,104.8 312.1,99.9 312.2,101 312.4,97.9 312.5,95.6 312.7,96.9 312.8,98 313,95.6 313.1,95.6 313.3,95.6 313.4,98.4 313.6,100.8 313.7,101.6 313.9,103.8 314,105.7 314.2,107.8 314.3,109.9 314.5,111.2 314.6,111.2 314.8,109.3 314.9,111.2 315.1,111.2 315.2,111.2 315.3,101.4 315.5,105.8 315.6,103.4 315.8,103.1 315.9,101.1 316.1,99.4 316.2,94.4 316.4,90.1 316.5,87.8 316.7,88.2 316.8,86 317,83.5 317.1,84.5 317.3,84.8 317.4,84.7 317.6,83.4 317.7,85.2 317.9,84.9 318,84.2 318.2,86.3 318.3,88.4 318.5,88.6 318.6,87.5 318.8,87.7 318.9,86 319.1,88.7 319.2,88.4 319.4,88.1 319.5,88.8 319.7,88.8 319.8,88.4 319.9,87.4 320.1,87.1 320.2,82.8 320.4,77.3 320.5,77.8 320.7,84.9 320.8,84.7 321,82.9 321.1,72.6 321.3,75.5 321.4,73.4 321.6,74.8 321.7,70.7 321.9,69.1 322,69.1 322.2,71.9 322.3,69.1 322.5,69.1 322.6,69.1 322.8,69.1 322.9,69.1 323.1,72.9 323.2,78.7 323.4,80.5 323.5,80.5 323.7,79.6 323.8,75.4 324,82.1 324.1,79.7 324.3,80.9 324.4,78.9 324.6,80.4 324.7,82.2 324.8,88.5 325,89.7 325.1,91.1 325.3,88.8 325.4,91.8 325.6,90.6 325.7,89.5 325.9,88.8 326,89.2 326.2,90.6 326.3,90.9 326.5,92.8 326.6,84.3 326.8,84.5 326.9,86.5 327.1,77.5 327.2,77.7 327.4,79.3 327.5,82.9 327.7,77.4 327.8,75.2 328,70.7 328.1,74.3 328.3,70 328.4,68.1 328.6,65.9 328.7,62.9 328.9,64.9 329,63.8 329.2,63.8 329.3,65 329.4,68.4 329.6,67.9 329.7,66.8 329.9,63.5 330,64.5 330.2,69.7 330.3,72.2 330.5,70.7 330.6,70.4 330.8,69.6 330.9,70.9 331.1,74.9 331.2,77.8 331.4,76.1 331.5,76.3 331.7,78.3 331.8,78.6 332,76.7 332.1,78.3 332.3,77.4 332.4,77.2 332.6,79.1 332.7,78.3 332.9,80.7 333,78.2 333.2,79.8 333.3,78.1 333.5,77 333.6,77.9 333.8,74.6 333.9,73.5 334,73.8 334.2,74.4 334.3,75.2 334.5,78.4 334.6,75 334.8,77.4 334.9,78.8 335.1,78.6 335.2,78.3 335.4,84.7 335.5,86.3 335.7,84.3 335.8,84.8 336,85.5 336.1,86.9 336.3,92.7 336.4,90.9 336.6,94.7 336.7,91.5 336.9,93 337,91.2 337.2,93.8 337.3,95.3 337.5,97.9 337.6,94 337.8,94.7 337.9,89.1 338.1,94.1 338.2,97.6 338.4,100.5 338.5,98.8 338.7,99.8 338.8,99 338.9,98.9 339.1,99.2 339.2,101.2 339.4,99.6 339.5,100.2 339.7,100.5 339.8,101.4 340,102.9 340.1,104.4 340.3,105.1 340.4,105.7 340.6,105.5 340.7,104.7 340.9,103.3 341,104.7 341.2,106.2 341.3,106.2 341.5,104.3 341.6,106.2 341.8,105.4 341.9,104.8 342.1,106.2 342.2,106.2 342.4,102.8 342.5,102.5 342.7,99.3 342.8,100.9 343,100.2 343.1,98.2 343.3,103.2 343.4,95.5 343.5,93.2 343.7,89.5 343.8,92.8 344,85.8 344.1,83.2 344.3,90 344.4,89.4 344.6,83.4 344.7,84.9 344.9,81.5 345,80.7 345.2,80.5 345.3,78.9 345.5,78.7 345.6,78.9 345.8,81.4 345.9,81.9 346.1,82.1 346.2,83.4 346.4,82.8 346.5,82.5 346.7,86.5 346.8,86.9 347,84.9 347.1,82.7 347.3,81.7 347.4,82.9 347.6,83.7 347.7,87.1 347.9,85.3 348,86.3 348.1,85 348.3,84.5 348.4,83.7 348.6,87.3 348.7,86.9 348.9,88.7 349,86.7 349.2,87.2 349.3,90.7 349.5,97.1 349.6,99.4 349.8,95.4 349.9,99.5 350.1,98.7 350.2,98.2 350.4,96.9 350.5,99 350.7,102.6 350.8,103.4 351,104.3 351.1,107.3 351.3,106.2 351.4,103 351.6,109.5 351.7,108.8 351.9,107.1 352,109.2 352.2,110.6 352.3,111.4 352.5,109.1 352.6,110.3 352.8,107.7 352.9,110.1 353,109.9 353.2,109.8 353.3,110.2 353.5,109.8 353.6,107.4 353.8,104 353.9,105.2 354.1,106.6 354.2,104 354.4,106.4 354.5,105.2 354.7,105.2 354.8,105 355,104 355.1,105.9 355.3,107.8 355.4,106.7 355.6,107.6 355.7,108.4 355.9,107.5 356,106.7 356.2,108 356.3,109.2 356.5,109.5 356.6,109.7 356.8,109.5 356.9,108 357.1,107.3 357.2,107.6 357.4,108.5 357.5,108 357.6,107.4 357.8,109.4 357.9,107.4 358.1,108.3 358.2,107.6 358.4,108.8 358.5,108.4 358.7,106.4 358.8,107.5 359,108.5 359.1,107.9 359.3,109 359.4,108.1 359.6,109.6 359.7,109.2 359.9,107.3 360,106.3 360.2,106.9 360.3,105.7 360.5,105.4 360.6,106.6 360.8,108 360.9,109.5 361.1,108.1 361.2,107.1 361.4,107.7 361.5,106 361.7,105.5 361.8,105.6 362,104.3 362.1,101.3 362.2,102.6 362.4,103.9 362.5,103.4 362.7,102.1 362.8,101.2 363,102.4 363.1,102.7 363.3,102.5 363.4,101.5 363.6,99.7 363.7,99.8 363.9,99 364,98.1 364.2,100.2 364.3,100.3 364.5,101.5 364.6,95.4 364.8,96.1 364.9,96.4 365.1,92.4 365.2,92.9 365.4,89.1 365.5,91 365.7,87.2 365.8,87.5 366,84.8 366.1,82.9 366.3,80.2 366.4,75.1 366.6,73.4 366.7,75.2 366.9,72.7 367,68.9 367.1,68.9 367.3,68.9 367.4,70 367.6,72.9 367.7,73.9 367.9,75 368,76.5 368.2,76.3" stroke="#000080" stroke-width="1.25"/>
</g>
<rect x="212.5" y="22" width="163.1" height="102.3" fill="none" stroke="#757575" stroke-width="1"/>
<text class="tk" transform="translate(210.5,121.4) scale(0.905,1)" text-anchor="end">0</text>
<text class="tk" transform="translate(210.5,104.3) scale(0.905,1)" text-anchor="end">5</text>
<text class="tk" transform="translate(210.5,87.1) scale(0.905,1)" text-anchor="end">10</text>
<text class="tk" transform="translate(210.5,70) scale(0.905,1)" text-anchor="end">15</text>
<text class="tk" transform="translate(210.5,52.8) scale(0.905,1)" text-anchor="end">20</text>
<text class="tk" transform="translate(210.5,35.7) scale(0.905,1)" text-anchor="end">25</text>
<text class="tk" transform="translate(219.9,129.1) scale(0.905,1)" text-anchor="middle">0</text>
<text class="tk" transform="translate(249.6,129.1) scale(0.905,1)" text-anchor="middle">200</text>
<text class="tk" transform="translate(279.3,129.1) scale(0.905,1)" text-anchor="middle">400</text>
<text class="tk" transform="translate(309,129.1) scale(0.905,1)" text-anchor="middle">600</text>
<text class="tk" transform="translate(338.7,129.1) scale(0.905,1)" text-anchor="middle">800</text>
<text class="tk" transform="translate(368.3,129.1) scale(0.905,1)" text-anchor="middle">1000</text>
<text class="tk" transform="translate(294.1,134.9) scale(0.905,1)" text-anchor="middle">Hour</text>
<text class="tk" transform="translate(203.9,73.2) rotate(-90) scale(0.905,1)" text-anchor="middle">Wind Speed (m/s)</text>
<line x1="331.2" y1="27.2" x2="340" y2="27.2" stroke="#fa8072" stroke-width="1.0"/>
<text class="lg" transform="translate(343.1,28.9) scale(0.905,1)">ERA5</text>
<line x1="331.2" y1="33.2" x2="340" y2="33.2" stroke="#ffd700" stroke-width="1.0"/>
<text class="lg" transform="translate(343.1,34.9) scale(0.905,1)">COSMO-REA6</text>
<line x1="331.2" y1="39.2" x2="340" y2="39.2" stroke="#9acd32" stroke-width="1.0"/>
<text class="lg" transform="translate(343.1,40.9) scale(0.905,1)">Observed</text>
<line x1="331.2" y1="45.2" x2="340" y2="45.2" stroke="#000080" stroke-width="1.0"/>
<text class="lg" transform="translate(343.1,46.9) scale(0.905,1)">Corrected</text>
</g>
<g>
<text class="pl" x="392.2" y="11">(c)</text>
<clipPath id="clipc"><rect x="408.6" y="21.8" width="163" height="102.5"/></clipPath>
<g clip-path="url(#clipc)" fill="none" stroke-linejoin="round">
<polyline points="416,92.7 416.2,93.8 416.3,94 416.5,94 416.6,94.6 416.8,94.4 416.9,93.6 417,93.1 417.2,95.6 417.3,97.4 417.5,97.8 417.6,97.3 417.8,103.1 417.9,102.7 418.1,102.4 418.2,100.3 418.4,104.5 418.5,106.5 418.7,106.1 418.8,106.8 419,105.5 419.1,103.8 419.3,105.2 419.4,104.9 419.6,105.8 419.7,106.1 419.9,104.6 420,105.5 420.2,104.5 420.3,103.5 420.5,104.5 420.6,102.7 420.8,103.2 420.9,104.4 421.1,102.5 421.2,103.5 421.3,103.8 421.5,103 421.6,101.4 421.8,101.8 421.9,100.5 422.1,99.4 422.2,100.9 422.4,98 422.5,97.2 422.7,97 422.8,94.3 423,95.8 423.1,96.4 423.3,95.2 423.4,93.3 423.6,93.5 423.7,90.2 423.9,90.1 424,90.8 424.2,90.8 424.3,91.7 424.5,90.8 424.6,91.2 424.8,91.4 424.9,90.5 425.1,90.2 425.2,90.1 425.4,93.2 425.5,93.9 425.7,95.5 425.8,95.2 425.9,95.9 426.1,96.8 426.2,95 426.4,96.1 426.5,95.9 426.7,96.7 426.8,96 427,95.9 427.1,97 427.3,96.2 427.4,97.3 427.6,96.6 427.7,97.3 427.9,96.8 428,95.9 428.2,99.4 428.3,99.2 428.5,101.5 428.6,101 428.8,101.9 428.9,101.3 429.1,101.8 429.2,99.7 429.4,101.3 429.5,101.3 429.7,99.2 429.8,99.9 430,99.6 430.1,100 430.2,99.3 430.4,99.4 430.5,100.4 430.7,99.7 430.8,101.8 431,102.4 431.1,103.7 431.3,103.2 431.4,104.4 431.6,105.1 431.7,107.4 431.9,106.4 432,106.6 432.2,107.1 432.3,108.1 432.5,106.7 432.6,106.5 432.8,108 432.9,109.3 433.1,108.7 433.2,106.9 433.4,107.4 433.5,107.4 433.7,107.1 433.8,108.4 434,108.9 434.1,108.1 434.3,108.5 434.4,108.4 434.6,106.5 434.7,108 434.8,109.3 435,109.7 435.1,108.2 435.3,108.2 435.4,108 435.6,105.7 435.7,107 435.9,106.5 436,106.7 436.2,104.6 436.3,107.3 436.5,105 436.6,102.5 436.8,102.4 436.9,102.2 437.1,100.7 437.2,101.8 437.4,98.2 437.5,100.1 437.7,102.7 437.8,100.5 438,99.5 438.1,99.5 438.3,98.6 438.4,99.3 438.6,99.6 438.7,99.3 438.9,98.2 439,96.9 439.1,96.9 439.3,96.9 439.4,97.3 439.6,96.9 439.7,96.9 439.9,97.9 440,100.9 440.2,101.6 440.3,99.9 440.5,99.9 440.6,99.3 440.8,100.2 440.9,100.8 441.1,101.8 441.2,100.2 441.4,100.9 441.5,101.5 441.7,101.7 441.8,102.1 442,102.3 442.1,100.3 442.3,104 442.4,104.5 442.6,103.3 442.7,100.1 442.9,103.2 443,105.1 443.2,101.7 443.3,102.3 443.5,104.4 443.6,105.5 443.7,104.6 443.9,103.4 444,103 444.2,103.9 444.3,104.4 444.5,104.1 444.6,105.3 444.8,106 444.9,105.7 445.1,105.2 445.2,107.7 445.4,105.5 445.5,107.3 445.7,106.1 445.8,106.4 446,106.7 446.1,107 446.3,109.1 446.4,109.9 446.6,110.5 446.7,109.6 446.9,110.2 447,111.5 447.2,111.1 447.3,110.9 447.5,109.8 447.6,109.2 447.8,110.6 447.9,110.2 448,110.5 448.2,109 448.3,111.7 448.5,112.9 448.6,112 448.8,108.9 448.9,113.3 449.1,114 449.2,114.1 449.4,114.2 449.5,114.4 449.7,111.5 449.8,112.8 450,113.5 450.1,114.5 450.3,112 450.4,114.9 450.6,114.9 450.7,114.9 450.9,114.9 451,114.9 451.2,114.9 451.3,114.9 451.5,114.9 451.6,114.9 451.8,114.9 451.9,114.9 452.1,114.7 452.2,113.1 452.3,113.1 452.5,112.7 452.6,111.3 452.8,110.8 452.9,110.8 453.1,111.2 453.2,111.8 453.4,112.9 453.5,111.9 453.7,112.4 453.8,112.7 454,111.3 454.1,111.8 454.3,110.7 454.4,110.4 454.6,111.5 454.7,112.6 454.9,113.3 455,113.6 455.2,113.3 455.3,114.1 455.5,113.2 455.6,113.4 455.8,114.1 455.9,112.5 456.1,112.5 456.2,112.8 456.4,113.4 456.5,112.3 456.7,109 456.8,111 456.9,108.3 457.1,108.8 457.2,108.7 457.4,106.3 457.5,108.2 457.7,108.9 457.8,109.2 458,108.1 458.1,108.2 458.3,107.7 458.4,106.5 458.6,107.2 458.7,107.2 458.9,107.6 459,107.9 459.2,107.6 459.3,106.9 459.5,106.4 459.6,105.8 459.8,105.2 459.9,104 460.1,103.6 460.2,103.8 460.4,104.8 460.5,105.8 460.7,106.1 460.8,105.6 461,106.7 461.1,104.5 461.2,105.6 461.4,105.5 461.5,103.8 461.7,103 461.8,102.8 462,103.7 462.1,103.1 462.3,103.4 462.4,103.7 462.6,103.3 462.7,104 462.9,103.8 463,104.4 463.2,102.6 463.3,102.5 463.5,102.8 463.6,102.2 463.8,101.5 463.9,103.5 464.1,102.3 464.2,102.2 464.4,101 464.5,100.9 464.7,100.8 464.8,101 465,101.7 465.1,102.7 465.3,102.5 465.4,101 465.6,102.2 465.7,101.7 465.8,100.3 466,100.5 466.1,100 466.3,99.7 466.4,99.8 466.6,99.8 466.7,100.1 466.9,99.9 467,99.9 467.2,99.1 467.3,98.7 467.5,98.7 467.6,99.6 467.8,99.6 467.9,99.5 468.1,99.8 468.2,101.1 468.4,102.7 468.5,102.6 468.7,102.7 468.8,102.7 469,102 469.1,101.2 469.3,100.7 469.4,100.1 469.6,99.5 469.7,99.2 469.9,100.5 470,100.5 470.1,100.2 470.3,99.5 470.4,100.8 470.6,99.2 470.7,98 470.9,99.7 471,99.1 471.2,100.5 471.3,101.4 471.5,100.2 471.6,104.3 471.8,102.6 471.9,102.9 472.1,104.3 472.2,104.3 472.4,102.7 472.5,101.9 472.7,99.1 472.8,97.2 473,98.9 473.1,96.8 473.3,98.6 473.4,96.7 473.6,96.4 473.7,96.5 473.9,96.5 474,96.5 474.2,95.9 474.3,95.4 474.5,97.3 474.6,96.6 474.7,96.8 474.9,94.9 475,96.3 475.2,95.6 475.3,94 475.5,92.8 475.6,92.9 475.8,94.7 475.9,94.9 476.1,92.2 476.2,95.6 476.4,92.7 476.5,94.8 476.7,99.8 476.8,99.1 477,102 477.1,100.1 477.3,98.9 477.4,101.4 477.6,101.5 477.7,103.2 477.9,106.8 478,104.1 478.2,106.2 478.3,106.3 478.5,107.5 478.6,107.6 478.8,109.5 478.9,108.7 479,113 479.2,113 479.3,111.8 479.5,113 479.6,112.1 479.8,112.2 479.9,110 480.1,110.6 480.2,108.4 480.4,106.6 480.5,106.9 480.7,108.3 480.8,108.8 481,107.1 481.1,107.5 481.3,108 481.4,108.9 481.6,106 481.7,105.6 481.9,105.6 482,107 482.2,107.4 482.3,108.3 482.5,107.6 482.6,108.1 482.8,107 482.9,106.8 483.1,108.5 483.2,107.5 483.4,107.5 483.5,107.4 483.6,106.9 483.8,107.1 483.9,109.2 484.1,109.8 484.2,108.6 484.4,109.1 484.5,110.4 484.7,111.6 484.8,111.3 485,108.7 485.1,110.1 485.3,110.4 485.4,111.3 485.6,113.6 485.7,112.3 485.9,111.3 486,111.5 486.2,111.1 486.3,113 486.5,113.4 486.6,112.3 486.8,112.2 486.9,112.7 487.1,113 487.2,112.2 487.4,113 487.5,113.4 487.7,113.6 487.8,113.7 487.9,112.9 488.1,113.4 488.2,114 488.4,112.3 488.5,114.3 488.7,112.7 488.8,110.7 489,111.8 489.1,112.1 489.3,110.6 489.4,110.1 489.6,110.4 489.7,110.9 489.9,110.2 490,111.2 490.2,110.3 490.3,109.9 490.5,111.4 490.6,111.6 490.8,110.1 490.9,108.5 491.1,107.6 491.2,106.1 491.4,104.8 491.5,104.9 491.7,106 491.8,106.7 492,106.4 492.1,105.6 492.3,105 492.4,105.2 492.5,104.7 492.7,106.6 492.8,106 493,105 493.1,105.4 493.3,104.5 493.4,104 493.6,103.5 493.7,102.2 493.9,101.4 494,100.6 494.2,99.2 494.3,101.3 494.5,99.8 494.6,100.4 494.8,100.5 494.9,99.6 495.1,99.7 495.2,98.9 495.4,99.5 495.5,100.6 495.7,100.8 495.8,101.1 496,100 496.1,98.8 496.3,98.8 496.4,98.8 496.6,98 496.7,98.5 496.8,98.5 497,98.1 497.1,99.7 497.3,100.6 497.4,99.6 497.6,96.3 497.7,98.3 497.9,98.5 498,98.1 498.2,97.6 498.3,99.4 498.5,98.5 498.6,97.7 498.8,95.2 498.9,98.1 499.1,96.7 499.2,97.5 499.4,95.6 499.5,95.3 499.7,95.2 499.8,95.2 500,96.2 500.1,97.8 500.3,98.2 500.4,97.6 500.6,98.3 500.7,96.8 500.9,95.4 501,95.9 501.2,96.5 501.3,96.3 501.4,97 501.6,99.5 501.7,100.5 501.9,100.1 502,100.9 502.2,101.6 502.3,103.3 502.5,102 502.6,101.6 502.8,103.9 502.9,105.4 503.1,104.7 503.2,103.1 503.4,104.1 503.5,106.4 503.7,106.6 503.8,106.8 504,110.1 504.1,110.4 504.3,110.6 504.4,108.5 504.6,108.1 504.7,108.1 504.9,111.2 505,112.7 505.2,113.8 505.3,114.9 505.5,115.2 505.6,114.8 505.7,113.2 505.9,112.9 506,113.5 506.2,113.2 506.3,112.4 506.5,112.9 506.6,113.3 506.8,113.7 506.9,113.9 507.1,112.5 507.2,114 507.4,113 507.5,114.2 507.7,114.9 507.8,115.8 508,116.7 508.1,115.9 508.3,115.2 508.4,115.2 508.6,114.7 508.7,113.3 508.9,113.4 509,113 509.2,113.3 509.3,113 509.5,111.1 509.6,110.6 509.8,112.6 509.9,112.8 510.1,111 510.2,111.7 510.3,109.9 510.5,107.8 510.6,107.3 510.8,107.8 510.9,106.5 511.1,103.5 511.2,102.1 511.4,101.5 511.5,102.1 511.7,100.3 511.8,100.2 512,100.2 512.1,102.3 512.3,101.9 512.4,99.7 512.6,96.8 512.7,99 512.9,96.2 513,96.6 513.2,96.4 513.3,95.7 513.5,95.6 513.6,98 513.8,96.6 513.9,97.6 514.1,97.7 514.2,96.2 514.4,96.5 514.5,94.9 514.6,94.4 514.8,96 514.9,96.6 515.1,95.6 515.2,96.5 515.4,96.3 515.5,95.5 515.7,93.5 515.8,94.7 516,94.9 516.1,95.1 516.3,96.3 516.4,96 516.6,94.7 516.7,95.3 516.9,95.7 517,95.2 517.2,96.5 517.3,95.9 517.5,96.8 517.6,97.5 517.8,100.3 517.9,99.1 518.1,99.4 518.2,101 518.4,101.6 518.5,100.1 518.7,101.4 518.8,103.8 519,104.3 519.1,100.7 519.2,102 519.4,104.9 519.5,105.4 519.7,109.2 519.8,110.4 520,107.9 520.1,108.9 520.3,109.4 520.4,110.8 520.6,111.3 520.7,109.6 520.9,110 521,110.7 521.2,112.7 521.3,111.4 521.5,111.4 521.6,112.3 521.8,111.8 521.9,113.9 522.1,113.7 522.2,111.6 522.4,110.4 522.5,109.8 522.7,110.7 522.8,109.6 523,110.8 523.1,109.4 523.3,108.4 523.4,106.7 523.5,104.4 523.7,104.6 523.8,103.3 524,101.1 524.1,103.7 524.3,103.8 524.4,102.4 524.6,101.2 524.7,101.4 524.9,99.7 525,100 525.2,100.7 525.3,101.4 525.5,99.6 525.6,100.5 525.8,100.7 525.9,100.2 526.1,100.9 526.2,100.4 526.4,100.7 526.5,99.3 526.7,100.6 526.8,98.9 527,99.8 527.1,100.2 527.3,101 527.4,102.3 527.6,103.7 527.7,104.6 527.9,102.8 528,102.5 528.1,102.2 528.3,101.4 528.4,103.8 528.6,103.5 528.7,104.4 528.9,105 529,105.6 529.2,105.2 529.3,104.4 529.5,105.2 529.6,105.3 529.8,104.5 529.9,104.4 530.1,105.7 530.2,105.6 530.4,105.4 530.5,107.4 530.7,108.9 530.8,107.2 531,106.8 531.1,107.1 531.3,105.8 531.4,108 531.6,107.2 531.7,107.6 531.9,108.1 532,108.2 532.2,109.4 532.3,109 532.4,111 532.6,110.9 532.7,112.3 532.9,112.5 533,108.6 533.2,111.6 533.3,111.4 533.5,111.5 533.6,112.5 533.8,112.9 533.9,112.7 534.1,111.3 534.2,111.8 534.4,112.1 534.5,113 534.7,113.1 534.8,111.9 535,111.8 535.1,111.4 535.3,112.2 535.4,113 535.6,113 535.7,112.4 535.9,113 536,112.3 536.2,112.6 536.3,113.2 536.5,112.2 536.6,111.9 536.7,110.7 536.9,108.7 537,108.4 537.2,109.2 537.3,109 537.5,110.8 537.6,108.7 537.8,107.9 537.9,107 538.1,105.8 538.2,105.9 538.4,106.1 538.5,106.5 538.7,106.3 538.8,107 539,106.8 539.1,106.9 539.3,106.6 539.4,107.2 539.6,107.5 539.7,107.1 539.9,106.9 540,106.7 540.2,105.6 540.3,105.6 540.5,106.6 540.6,108.2 540.8,107.7 540.9,107.7 541.1,107.6 541.2,108.9 541.3,109.7 541.5,108.1 541.6,107.3 541.8,106.4 541.9,107 542.1,105.9 542.2,106.6 542.4,106.2 542.5,106.4 542.7,106.4 542.8,105.7 543,105.7 543.1,105.7 543.3,105.7 543.4,106.9 543.6,107.4 543.7,109.1 543.9,109.6 544,107.7 544.2,107.5 544.3,107.8 544.5,108 544.6,109.6 544.8,110.4 544.9,110.8 545.1,109.5 545.2,109.6 545.4,110.2 545.5,111.2 545.6,110.7 545.8,110 545.9,110.2 546.1,109.4 546.2,110.9 546.4,109.8 546.5,109.7 546.7,109.6 546.8,109.2 547,111.1 547.1,111.6 547.3,111 547.4,110.9 547.6,113.2 547.7,113.9 547.9,113.5 548,114 548.2,114 548.3,114.4 548.5,115.6 548.6,114.9 548.8,116.8 548.9,115.6 549.1,115.7 549.2,116 549.4,116.5 549.5,116.6 549.7,116.7 549.8,117.3 550,116.4 550.1,116.3 550.2,117 550.4,116.7 550.5,117.3 550.7,116.9 550.8,117.8 551,116.8 551.1,117.1 551.3,117.7 551.4,118.4 551.6,116.4 551.7,117.3 551.9,117.9 552,117 552.2,115 552.3,115.9 552.5,114.9 552.6,115.1 552.8,115.6 552.9,115.4 553.1,115.8 553.2,116.2 553.4,116.5 553.5,115.9 553.7,115 553.8,115.5 554,113.4 554.1,115.2 554.3,114.1 554.4,114.8 554.5,114.3 554.7,114.3 554.8,113.6 555,112.6 555.1,112.4 555.3,112.2 555.4,111.4 555.6,110.8 555.7,110.6 555.9,110.3 556,110 556.2,110.4 556.3,112.8 556.5,113.6 556.6,113.9 556.8,113.6 556.9,111.9 557.1,112.7 557.2,113.4 557.4,112.5 557.5,110.8 557.7,111.1 557.8,111.1 558,111.4 558.1,111.3 558.3,109.4 558.4,108.1 558.6,109.2 558.7,108.1 558.9,107.1 559,108.5 559.1,107.6 559.3,107.4 559.4,104.6 559.6,107.2 559.7,106.9 559.9,109.1 560,108.6 560.2,106.2 560.3,106.6 560.5,105.1 560.6,104.4 560.8,104.6 560.9,103 561.1,104.5 561.2,104 561.4,101.9 561.5,103.6 561.7,103.9 561.8,99.4 562,98.5 562.1,99.4 562.3,98.6 562.4,99 562.6,99.5 562.7,99.7 562.9,99.1 563,97.8 563.2,97.9 563.3,98.1 563.4,98.3 563.6,97.8 563.7,97.6 563.9,97.9 564,98.5 564.2,97.5" stroke="#fa8072" stroke-width="1.1"/>
<polyline points="416,90.8 416.2,88.9 416.3,85.5 416.5,90.5 416.6,83.8 416.8,84.6 416.9,83.7 417,87.3 417.2,85.5 417.3,91.1 417.5,87.8 417.6,95.8 417.8,94.6 417.9,101.7 418.1,99.6 418.2,98.4 418.4,103.7 418.5,101.9 418.7,101.6 418.8,103.3 419,107.6 419.1,105.8 419.3,107.6 419.4,102.9 419.6,106.7 419.7,107.6 419.9,107.6 420,107.6 420.2,107.6 420.3,104.6 420.5,103.2 420.6,104.5 420.8,104.1 420.9,102.9 421.1,97.2 421.2,95.8 421.3,98.2 421.5,92.4 421.6,98 421.8,95.8 421.9,101.1 422.1,96.4 422.2,100.1 422.4,99.7 422.5,98.9 422.7,87.8 422.8,95.3 423,84.9 423.1,86.4 423.3,90.6 423.4,86.9 423.6,77.8 423.7,78.5 423.9,80.2 424,77.8 424.2,82.4 424.3,78.7 424.5,81.4 424.6,83.6 424.8,83.4 424.9,82.6 425.1,80.4 425.2,81.3 425.4,83.7 425.5,85.6 425.7,79.1 425.8,84.9 425.9,83.7 426.1,81.8 426.2,87.1 426.4,87.4 426.5,87.8 426.7,89.9 426.8,93 427,92.4 427.1,91.7 427.3,96 427.4,94.1 427.6,93.3 427.7,94.4 427.9,93.8 428,95.1 428.2,96.6 428.3,97.3 428.5,96.4 428.6,96.4 428.8,96.1 428.9,92 429.1,93.7 429.2,95.5 429.4,95.9 429.5,94.7 429.7,97.4 429.8,95.7 430,96.5 430.1,94.1 430.2,94.4 430.4,91.7 430.5,91.7 430.7,97.8 430.8,100 431,103.2 431.1,100.1 431.3,102.3 431.4,98.9 431.6,102.2 431.7,107.9 431.9,106.3 432,104.4 432.2,104.9 432.3,107 432.5,110.7 432.6,108.2 432.8,109.5 432.9,110.8 433.1,108.1 433.2,111.4 433.4,112.4 433.5,113.2 433.7,111.1 433.8,111.9 434,110.5 434.1,110.8 434.3,112.4 434.4,111.1 434.6,112.4 434.7,113.9 434.8,114.2 435,113.5 435.1,115.6 435.3,113.9 435.4,115.6 435.6,112.2 435.7,113.6 435.9,112.7 436,112.5 436.2,109.1 436.3,108.4 436.5,111.4 436.6,111.5 436.8,100.2 436.9,103.1 437.1,98.6 437.2,101 437.4,103.1 437.5,98.2 437.7,100.3 437.8,96.9 438,98.8 438.1,93.4 438.3,100 438.4,95.8 438.6,91.4 438.7,89.5 438.9,88.8 439,90.7 439.1,94.9 439.3,93.6 439.4,93.4 439.6,94.4 439.7,92.6 439.9,94.2 440,94 440.2,91 440.3,91.7 440.5,91.7 440.6,91.9 440.8,92.1 440.9,92.1 441.1,90.8 441.2,93 441.4,94.4 441.5,94.6 441.7,91.9 441.8,92.7 442,95.6 442.1,96 442.3,97.5 442.4,99 442.6,98 442.7,99.4 442.9,98.3 443,103.2 443.2,101.6 443.3,100.3 443.5,101 443.6,100 443.7,99.2 443.9,103.8 444,101.3 444.2,99.8 444.3,104.5 444.5,103.3 444.6,105.4 444.8,103.2 444.9,104.8 445.1,107.5 445.2,107.3 445.4,109.5 445.5,107.5 445.7,109.1 445.8,109.1 446,108.4 446.1,110.9 446.3,109.9 446.4,110.4 446.6,108 446.7,110.4 446.9,111.3 447,110.1 447.2,108.7 447.3,110.6 447.5,111.3 447.6,108.6 447.8,111.3 447.9,111.3 448,111.4 448.2,110.4 448.3,108 448.5,108.5 448.6,107.4 448.8,107.5 448.9,107.4 449.1,105.8 449.2,105.7 449.4,105.7 449.5,105.7 449.7,105.8 449.8,105.7 450,105.7 450.1,105.7 450.3,107 450.4,105.7 450.6,105.7 450.7,108.1 450.9,108.3 451,107.1 451.2,110.9 451.3,112.8 451.5,110.2 451.6,113 451.8,108.7 451.9,111.5 452.1,113.1 452.2,113.1 452.3,111.8 452.5,112 452.6,113 452.8,115 452.9,115.2 453.1,114.8 453.2,112.9 453.4,113.1 453.5,114.4 453.7,115.7 453.8,114.6 454,115 454.1,115.6 454.3,117.3 454.4,116.1 454.6,118.6 454.7,115.8 454.9,114.5 455,117.8 455.2,118.7 455.3,113.8 455.5,112.1 455.6,114 455.8,111.5 455.9,115.5 456.1,111 456.2,108.6 456.4,106.8 456.5,109.5 456.7,106.3 456.8,109.2 456.9,109.2 457.1,110.8 457.2,110.5 457.4,111.1 457.5,111 457.7,108.6 457.8,109.1 458,107.8 458.1,107.3 458.3,102.9 458.4,107.5 458.6,104.4 458.7,102.6 458.9,105.7 459,107.7 459.2,108 459.3,105.8 459.5,103.9 459.6,105 459.8,104.4 459.9,102.9 460.1,103.9 460.2,103.3 460.4,96.6 460.5,96.4 460.7,97 460.8,95.3 461,95.3 461.1,96.1 461.2,95.3 461.4,95.3 461.5,95.3 461.7,95.3 461.8,95.3 462,95.3 462.1,95.3 462.3,95.3 462.4,95.3 462.6,95.3 462.7,95.3 462.9,95.6 463,95.6 463.2,98 463.3,97.5 463.5,95.8 463.6,97.1 463.8,98 463.9,97 464.1,97.1 464.2,95.4 464.4,93.9 464.5,94.9 464.7,96.8 464.8,95.4 465,92.3 465.1,95.4 465.3,90.4 465.4,90 465.6,90.3 465.7,86.7 465.8,90.4 466,87 466.1,88.8 466.3,91.1 466.4,93 466.6,91.3 466.7,90.2 466.9,90.4 467,90.7 467.2,88.8 467.3,92.1 467.5,91.1 467.6,90.5 467.8,87.5 467.9,86 468.1,84.7 468.2,84.7 468.4,84.7 468.5,84.7 468.7,86.9 468.8,88.8 469,87.5 469.1,89.1 469.3,85.7 469.4,84.7 469.6,85.2 469.7,84.7 469.9,87.8 470,88 470.1,91.2 470.3,88.9 470.4,92.9 470.6,95.2 470.7,92.4 470.9,92.8 471,95 471.2,92.9 471.3,94.6 471.5,94.9 471.6,92.6 471.8,93.9 471.9,90.6 472.1,92.8 472.2,95.5 472.4,94.5 472.5,94.2 472.7,92.6 472.8,94.1 473,94.8 473.1,92.6 473.3,93.3 473.4,93.4 473.6,89.8 473.7,93.2 473.9,91.5 474,89 474.2,92.2 474.3,84.1 474.5,84 474.6,83.2 474.7,82.8 474.9,86 475,84.3 475.2,85.1 475.3,85.9 475.5,87 475.6,88.6 475.8,88.4 475.9,86.3 476.1,83.3 476.2,82.7 476.4,81.5 476.5,81.5 476.7,81.5 476.8,85.4 477,86.6 477.1,86.5 477.3,81.9 477.4,87.5 477.6,87 477.7,89.6 477.9,91.8 478,89.1 478.2,94.1 478.3,99.8 478.5,103.9 478.6,99.4 478.8,102.6 478.9,103.4 479,107.4 479.2,104.4 479.3,102.4 479.5,101.1 479.6,106.1 479.8,109 479.9,109.5 480.1,108 480.2,109.3 480.4,106.7 480.5,109.4 480.7,107.9 480.8,103 481,104.6 481.1,106.4 481.3,104.1 481.4,104.1 481.6,100.4 481.7,103.1 481.9,101.4 482,100.7 482.2,100.8 482.3,98.1 482.5,98.7 482.6,97.4 482.8,98.5 482.9,98.8 483.1,99.9 483.2,101.4 483.4,99.9 483.5,99.6 483.6,99.8 483.8,101.7 483.9,101.5 484.1,99.5 484.2,100.5 484.4,105.3 484.5,99.7 484.7,99.7 484.8,102.2 485,102.1 485.1,107 485.3,108.1 485.4,108.6 485.6,109.1 485.7,110.2 485.9,109.8 486,108.6 486.2,110.6 486.3,113.3 486.5,113.8 486.6,116.7 486.8,113.7 486.9,113.5 487.1,113.6 487.2,112.7 487.4,110 487.5,110.2 487.7,110 487.8,110.1 487.9,110.4 488.1,111.7 488.2,111.3 488.4,112.1 488.5,113.9 488.7,111.9 488.8,111.6 489,110.1 489.1,106.5 489.3,105.4 489.4,109 489.6,110.3 489.7,108.6 489.9,107.7 490,107.1 490.2,107.7 490.3,104.7 490.5,103.8 490.6,102.9 490.8,103.3 490.9,102.7 491.1,102.2 491.2,103.7 491.4,104.4 491.5,100.6 491.7,100.6 491.8,100.6 492,104.4 492.1,107.9 492.3,104.5 492.4,105.7 492.5,108.3 492.7,109.3 492.8,107.7 493,104.6 493.1,100.7 493.3,100.9 493.4,99.1 493.6,103.1 493.7,100.7 493.9,95.2 494,96.8 494.2,95.9 494.3,99.8 494.5,101.4 494.6,99.7 494.8,97.7 494.9,94.5 495.1,93.8 495.2,94.5 495.4,97.7 495.5,92.8 495.7,96.8 495.8,96.7 496,91.7 496.1,92.4 496.3,95.1 496.4,94 496.6,94.8 496.7,94.7 496.8,92.3 497,92.3 497.1,95.8 497.3,93.9 497.4,95.2 497.6,94.7 497.7,95.7 497.9,93.7 498,95.7 498.2,92.8 498.3,92.9 498.5,94 498.6,94.4 498.8,92.1 498.9,91.9 499.1,95.7 499.2,95.1 499.4,92.4 499.5,92.4 499.7,92.9 499.8,92.6 500,89.7 500.1,87.5 500.3,87.5 500.4,87.9 500.6,90.4 500.7,90.1 500.9,94.8 501,88.1 501.2,88 501.3,90.2 501.4,92.4 501.6,89.2 501.7,92.5 501.9,89.4 502,92.9 502.2,90.8 502.3,94.4 502.5,97.3 502.6,100.4 502.8,99.8 502.9,102.7 503.1,102.6 503.2,99.4 503.4,102 503.5,104.9 503.7,103 503.8,102.6 504,106.2 504.1,103.2 504.3,107.4 504.4,109.5 504.6,108.1 504.7,110.3 504.9,108.2 505,110.9 505.2,111.4 505.3,107.5 505.5,111.7 505.6,111 505.7,111.4 505.9,112.2 506,112.3 506.2,111.9 506.3,110.8 506.5,109.1 506.6,110.9 506.8,112.4 506.9,112.7 507.1,112.4 507.2,110.3 507.4,110.5 507.5,112.1 507.7,113.5 507.8,114.1 508,114.4 508.1,113.5 508.3,114.4 508.4,111.9 508.6,114.1 508.7,111.5 508.9,111.4 509,116.6 509.2,115.6 509.3,111.9 509.5,111.7 509.6,111.7 509.8,110.2 509.9,111.9 510.1,109.6 510.2,106.5 510.3,114 510.5,106.1 510.6,101 510.8,105.3 510.9,109.6 511.1,108.9 511.2,103.7 511.4,101.4 511.5,103.4 511.7,103.8 511.8,95.5 512,100.1 512.1,92.5 512.3,102.1 512.4,98.5 512.6,95.3 512.7,92.6 512.9,93.5 513,90.1 513.2,91.1 513.3,92.2 513.5,93.1 513.6,92.7 513.8,91.5 513.9,93 514.1,92.6 514.2,93.2 514.4,94 514.5,91.6 514.6,92.3 514.8,94 514.9,91.5 515.1,90.3 515.2,90 515.4,90.6 515.5,86.8 515.7,88.2 515.8,88.2 516,87.2 516.1,85.3 516.3,83.5 516.4,83.9 516.6,83.5 516.7,84.7 516.9,84.2 517,83.3 517.2,83.3 517.3,86.2 517.5,89.1 517.6,83.4 517.8,87.6 517.9,91.3 518.1,95.9 518.2,92.9 518.4,94 518.5,90.6 518.7,93.5 518.8,97.5 519,94.2 519.1,100.4 519.2,102.3 519.4,102 519.5,100.3 519.7,97.9 519.8,103.7 520,101.2 520.1,101.9 520.3,102.3 520.4,100.6 520.6,105.6 520.7,107.9 520.9,103.9 521,111.2 521.2,110.4 521.3,111.2 521.5,111.2 521.6,111.2 521.8,111.2 521.9,109.3 522.1,109.6 522.2,110 522.4,106.5 522.5,104.8 522.7,104.7 522.8,100.8 523,100.2 523.1,102.7 523.3,95 523.4,96.9 523.5,93.6 523.7,94.8 523.8,95.3 524,98.2 524.1,90.5 524.3,91.8 524.4,88.1 524.6,94 524.7,89.3 524.9,85 525,92.9 525.2,91.3 525.3,88.3 525.5,87.7 525.6,87.6 525.8,85 525.9,86.9 526.1,87 526.2,89 526.4,87.3 526.5,90.5 526.7,92.2 526.8,92.9 527,88.5 527.1,87.3 527.3,90.8 527.4,93 527.6,93.1 527.7,94.3 527.9,90.4 528,93.3 528.1,95 528.3,96.5 528.4,94.6 528.6,95.3 528.7,96.8 528.9,95 529,95.8 529.2,99.6 529.3,100.5 529.5,100.9 529.6,99 529.8,98.7 529.9,97.4 530.1,97.1 530.2,97.1 530.4,99.9 530.5,100.1 530.7,99.9 530.8,99.2 531,99.5 531.1,97.1 531.3,100.7 531.4,98.5 531.6,97.4 531.7,101.8 531.9,104.4 532,103 532.2,105.6 532.3,105.8 532.4,101.6 532.6,105.9 532.7,107.3 532.9,109 533,109.2 533.2,109.5 533.3,108.3 533.5,107.2 533.6,109.7 533.8,108.5 533.9,109.7 534.1,109.1 534.2,109.7 534.4,109.7 534.5,109.7 534.7,109.7 534.8,109.7 535,108.3 535.1,107.7 535.3,108.9 535.4,106.7 535.6,103.6 535.7,105.8 535.9,103.2 536,104.7 536.2,105.2 536.3,104.2 536.5,105.5 536.6,107.6 536.7,105.8 536.9,105.6 537,103.9 537.2,101.2 537.3,104.1 537.5,103.8 537.6,103.7 537.8,100.4 537.9,100.4 538.1,102.8 538.2,105.1 538.4,104.9 538.5,104.5 538.7,102.8 538.8,101.7 539,101.9 539.1,102.2 539.3,102.3 539.4,103.8 539.6,102.9 539.7,104 539.9,105.2 540,105.3 540.2,105 540.3,101.8 540.5,100.9 540.6,101 540.8,102 540.9,104.9 541.1,105.3 541.2,105.3 541.3,104 541.5,105.2 541.6,104.2 541.8,105.3 541.9,103.1 542.1,102.4 542.2,100.5 542.4,104.5 542.5,102 542.7,103.3 542.8,99.9 543,98.9 543.1,98.9 543.3,98.7 543.4,98.7 543.6,98.8 543.7,98.7 543.9,100.5 544,100.9 544.2,101.5 544.3,101.9 544.5,99.4 544.6,99.2 544.8,104.8 544.9,106.1 545.1,107.5 545.2,107.6 545.4,109.9 545.5,109.6 545.6,109.4 545.8,111.1 545.9,111.6 546.1,111.5 546.2,109.7 546.4,112.2 546.5,111.8 546.7,109.8 546.8,109.5 547,109.6 547.1,109.6 547.3,110 547.4,108.9 547.6,111.5 547.7,110.2 547.9,110.2 548,111.8 548.2,112.5 548.3,115 548.5,117 548.6,114.9 548.8,118 548.9,116.1 549.1,117.1 549.2,118.2 549.4,118.4 549.5,118.2 549.7,118.4 549.8,117.3 550,118.4 550.1,118.4 550.2,116.8 550.4,114.6 550.5,114.8 550.7,114.6 550.8,114.4 551,114.1 551.1,114.7 551.3,117.3 551.4,118.4 551.6,118 551.7,116 551.9,117.2 552,116.1 552.2,115.5 552.3,116.2 552.5,115.1 552.6,114.4 552.8,114.3 552.9,116.5 553.1,113.8 553.2,113.3 553.4,115.1 553.5,113.1 553.7,115.9 553.8,115.4 554,115.4 554.1,114 554.3,113.9 554.4,114 554.5,109.3 554.7,110.9 554.8,114 555,113.1 555.1,112.3 555.3,111.4 555.4,109.6 555.6,110.7 555.7,107.7 555.9,109 556,107.4 556.2,104.9 556.3,105.4 556.5,106.8 556.6,106.4 556.8,108 556.9,106 557.1,106.6 557.2,104 557.4,105.2 557.5,104.6 557.7,104.2 557.8,102.7 558,103.7 558.1,103.7 558.3,102.1 558.4,103 558.6,102.6 558.7,102.8 558.9,105.4 559,104.6 559.1,105.3 559.3,105.5 559.4,106.2 559.6,105.9 559.7,104.6 559.9,99.9 560,98 560.2,98 560.3,102.1 560.5,96.8 560.6,99.5 560.8,97.2 560.9,97 561.1,97.4 561.2,90.2 561.4,91.5 561.5,91.9 561.7,88.3 561.8,87.5 562,86.6 562.1,86.6 562.3,89 562.4,91.8 562.6,88.1 562.7,86.9 562.9,86.6 563,87.1 563.2,88.1 563.3,88.1 563.4,90.7 563.6,95.8 563.7,93.3 563.9,95.3 564,94.4 564.2,94.4" stroke="#ffd700" stroke-width="1.15"/>
<polyline points="416,57.5 416.2,59 416.3,62 416.5,62.2 416.6,62.1 416.8,57.2 416.9,57.6 417,57.2 417.2,57.7 417.3,58.9 417.5,60 417.6,62 417.8,64.2 417.9,62.4 418.1,65 418.2,64.4 418.4,60.6 418.5,67.1 418.7,61.9 418.8,70.7 419,76.9 419.1,58.6 419.3,77.3 419.4,82.8 419.6,80.8 419.7,89.8 419.9,84.3 420,81.1 420.2,79.6 420.3,78.6 420.5,87.3 420.6,88.2 420.8,86.5 420.9,89.8 421.1,89.8 421.2,82.8 421.3,72.5 421.5,76.9 421.6,62 421.8,62.9 421.9,61.2 422.1,54.1 422.2,60.3 422.4,74.2 422.5,67.8 422.7,52.8 422.8,48.2 423,45.6 423.1,52.2 423.3,43.7 423.4,47 423.6,49.3 423.7,44.1 423.9,45.6 424,44.7 424.2,46.8 424.3,46.3 424.5,44.3 424.6,43 424.8,44.8 424.9,47.9 425.1,43.2 425.2,57.6 425.4,59 425.5,56.9 425.7,54.4 425.8,53.5 425.9,46 426.1,52.7 426.2,49.9 426.4,54.3 426.5,60.8 426.7,66.1 426.8,66.9 427,66.5 427.1,67.6 427.3,63.2 427.4,60.8 427.6,63.9 427.7,63.8 427.9,62.2 428,64.5 428.2,67.6 428.3,66.3 428.5,66.6 428.6,64.8 428.8,65.1 428.9,63.5 429.1,62.2 429.2,65.1 429.4,67.1 429.5,63.8 429.7,59.9 429.8,58.1 430,58.1 430.1,55.4 430.2,54.1 430.4,57.2 430.5,57 430.7,60.9 430.8,60.7 431,62.5 431.1,61.6 431.3,63.1 431.4,68.9 431.6,68.2 431.7,68.7 431.9,75.4 432,72.4 432.2,68.7 432.3,68.5 432.5,76 432.6,73.4 432.8,78.3 432.9,77.9 433.1,76.8 433.2,79.2 433.4,79.5 433.5,77.3 433.7,75.2 433.8,70.8 434,73.9 434.1,82.4 434.3,74.8 434.4,79 434.6,89 434.7,99.3 434.8,101.5 435,106.6 435.1,110.2 435.3,113.9 435.4,108.1 435.6,101.5 435.7,114.8 435.9,114.8 436,106.7 436.2,113 436.3,108.2 436.5,111.3 436.6,111.8 436.8,113.8 436.9,107.1 437.1,112.9 437.2,109.3 437.4,104.4 437.5,104.1 437.7,96.5 437.8,99.2 438,102.4 438.1,93.2 438.3,86.2 438.4,78.2 438.6,98 438.7,83.3 438.9,69.7 439,62.3 439.1,80.5 439.3,81.7 439.4,65.2 439.6,67.2 439.7,68 439.9,50.4 440,71.4 440.2,66.6 440.3,57 440.5,52.2 440.6,57.7 440.8,51.8 440.9,52.1 441.1,47.4 441.2,47.8 441.4,46.3 441.5,47.5 441.7,46.3 441.8,52.5 442,56.5 442.1,55.3 442.3,53.4 442.4,57.4 442.6,62.4 442.7,62.1 442.9,57.8 443,62.3 443.2,63.6 443.3,61.9 443.5,55.2 443.6,57.2 443.7,55.6 443.9,55.6 444,53.8 444.2,49.8 444.3,48.3 444.5,51.9 444.6,51.6 444.8,48.3 444.9,59.5 445.1,49.1 445.2,51.3 445.4,52.9 445.5,55.3 445.7,55 445.8,69.7 446,70.2 446.1,71.4 446.3,64.5 446.4,70.9 446.6,64.4 446.7,77.7 446.9,77.4 447,77.1 447.2,74 447.3,72.8 447.5,73.8 447.6,75.3 447.8,74.7 447.9,78.5 448,73.9 448.2,76.1 448.3,74.5 448.5,75.3 448.6,75.7 448.8,77.8 448.9,78.8 449.1,76.7 449.2,74.1 449.4,74.1 449.5,75.9 449.7,74.1 449.8,74.1 450,78 450.1,81.3 450.3,76.2 450.4,82 450.6,81.4 450.7,82.1 450.9,85.5 451,90.9 451.2,90.6 451.3,98.7 451.5,100.8 451.6,94.9 451.8,102.4 451.9,106.1 452.1,101.2 452.2,106.3 452.3,109.8 452.5,111.1 452.6,108.6 452.8,110.5 452.9,111.9 453.1,111.6 453.2,113.1 453.4,112.1 453.5,110.3 453.7,111.8 453.8,110.6 454,112.4 454.1,113.1 454.3,113.1 454.4,111.4 454.6,111.5 454.7,111.8 454.9,111.3 455,111.6 455.2,111.4 455.3,111.5 455.5,112.1 455.6,108.7 455.8,104.2 455.9,105.5 456.1,106.7 456.2,106.8 456.4,105.8 456.5,108.6 456.7,110.5 456.8,106.7 456.9,95.4 457.1,94.8 457.2,101.8 457.4,98.6 457.5,86.3 457.7,98.9 457.8,98.3 458,96.4 458.1,97.1 458.3,97.5 458.4,90.9 458.6,96.7 458.7,91.8 458.9,81.1 459,76.8 459.2,84.2 459.3,89.2 459.5,78.1 459.6,75.6 459.8,73.3 459.9,80.9 460.1,74 460.2,75.3 460.4,72.4 460.5,78.5 460.7,80.5 460.8,74.7 461,76.1 461.1,75.3 461.2,75.7 461.4,73.6 461.5,71.9 461.7,69.6 461.8,69.9 462,71.8 462.1,72.8 462.3,69.6 462.4,69.4 462.6,68 462.7,67.1 462.9,67.2 463,70.9 463.2,76.1 463.3,73.8 463.5,69.8 463.6,70.2 463.8,69.5 463.9,78.1 464.1,76.9 464.2,76.4 464.4,73.1 464.5,78.8 464.7,76.4 464.8,80.6 465,80.6 465.1,83.1 465.3,89.5 465.4,81.5 465.6,83.9 465.7,80.5 465.8,72.2 466,71.4 466.1,76.8 466.3,73.7 466.4,64.1 466.6,67.7 466.7,54.3 466.9,70.6 467,59.6 467.2,63.1 467.3,66.8 467.5,58.5 467.6,51.8 467.8,53 467.9,51.4 468.1,58.5 468.2,52.8 468.4,47.1 468.5,46 468.7,48.3 468.8,45.5 469,52.2 469.1,51 469.3,45.5 469.4,60.2 469.6,77.2 469.7,63.7 469.9,81 470,69.8 470.1,79.4 470.3,83 470.4,83 470.6,83 470.7,83 470.9,83 471,82.1 471.2,66.4 471.3,66.6 471.5,73.1 471.6,66.2 471.8,65.6 471.9,60.5 472.1,60.5 472.2,62.9 472.4,60.5 472.5,67.5 472.7,70.4 472.8,67.5 473,64.6 473.1,61.1 473.3,64.7 473.4,64.6 473.6,66.6 473.7,69.1 473.9,69.4 474,69.4 474.2,69.4 474.3,69.2 474.5,65.7 474.6,64.5 474.7,66.9 474.9,65.8 475,60.1 475.2,61.2 475.3,62.3 475.5,66.9 475.6,65.3 475.8,56.8 475.9,55.8 476.1,55.9 476.2,63.9 476.4,54 476.5,59.2 476.7,58.9 476.8,55.4 477,48.6 477.1,52.3 477.3,50.8 477.4,48.6 477.6,51.6 477.7,50 477.9,49.8 478,51.1 478.2,63.3 478.3,59.2 478.5,57.3 478.6,63.1 478.8,61.8 478.9,65.1 479,53.2 479.2,65.8 479.3,59.9 479.5,65.4 479.6,71.2 479.8,69.1 479.9,71.3 480.1,72 480.2,73 480.4,70.2 480.5,72.9 480.7,70.2 480.8,70.9 481,71.4 481.1,70.5 481.3,73.3 481.4,71.3 481.6,71.3 481.7,74.6 481.9,75 482,71.4 482.2,72.1 482.3,77.9 482.5,72 482.6,73.4 482.8,71.4 482.9,75 483.1,76.8 483.2,76.6 483.4,72.8 483.5,79.5 483.6,78.1 483.8,81.6 483.9,74.6 484.1,76 484.2,75.5 484.4,78.6 484.5,76.4 484.7,79.5 484.8,92.2 485,90 485.1,78.2 485.3,83.6 485.4,98.1 485.6,97.4 485.7,100 485.9,105.6 486,114.5 486.2,112.4 486.3,110.4 486.5,90 486.6,84.9 486.8,93 486.9,106.5 487.1,101.4 487.2,75.3 487.4,76.5 487.5,75.6 487.7,75.3 487.8,107.2 487.9,101.3 488.1,100.6 488.2,92.6 488.4,85.3 488.5,105.6 488.7,88.2 488.8,85.7 489,69.3 489.1,89.2 489.3,91.9 489.4,71.5 489.6,80.7 489.7,67.8 489.9,69.4 490,76.7 490.2,68.2 490.3,67.4 490.5,70.9 490.6,77.5 490.8,88.5 490.9,69.7 491.1,70 491.2,63.8 491.4,69.5 491.5,80.9 491.7,84.7 491.8,79.9 492,68.9 492.1,72.7 492.3,83.5 492.4,83.5 492.5,83.5 492.7,82.6 492.8,82.1 493,82 493.1,82.6 493.3,82 493.4,82 493.6,78.2 493.7,81.1 493.9,78.6 494,82.7 494.2,82.4 494.3,77.8 494.5,77 494.6,78.9 494.8,80.8 494.9,80.5 495.1,79.6 495.2,76.7 495.4,73.6 495.5,70.8 495.7,73.2 495.8,75.7 496,76.2 496.1,71.4 496.3,75.3 496.4,75.6 496.6,76.5 496.7,75.3 496.8,72.1 497,74.4 497.1,67.8 497.3,65.6 497.4,71.2 497.6,64.5 497.7,68.9 497.9,69.1 498,67.9 498.2,66.6 498.3,70.2 498.5,62.2 498.6,62.7 498.8,60.3 498.9,58.9 499.1,58.1 499.2,58.2 499.4,59.4 499.5,62.7 499.7,59 499.8,57.9 500,59.3 500.1,57.7 500.3,60.6 500.4,60 500.6,61.4 500.7,59.1 500.9,58.6 501,58.4 501.2,61.3 501.3,59.2 501.4,61.6 501.6,62.1 501.7,63.3 501.9,68.7 502,67.8 502.2,66.6 502.3,66.8 502.5,65.3 502.6,64.8 502.8,69 502.9,71 503.1,70.2 503.2,71.2 503.4,68.4 503.5,68.4 503.7,73.1 503.8,70 504,78.2 504.1,70.6 504.3,81.8 504.4,72.8 504.6,70.7 504.7,106.2 504.9,102.6 505,102.5 505.2,109 505.3,109.4 505.5,109.8 505.6,97.1 505.7,110.6 505.9,109 506,104.6 506.2,104.5 506.3,104.2 506.5,109.6 506.6,108.9 506.8,112.9 506.9,112.3 507.1,113.5 507.2,112.1 507.4,112.8 507.5,114.3 507.7,108.5 507.8,113 508,113.8 508.1,112.1 508.3,114.7 508.4,114.8 508.6,113.5 508.7,113.3 508.9,114.8 509,114.8 509.2,107.1 509.3,99.5 509.5,105.6 509.6,100.5 509.8,107.4 509.9,107.7 510.1,91.5 510.2,108.9 510.3,104.3 510.5,99.6 510.6,89.8 510.8,91 510.9,97.8 511.1,82.9 511.2,66.7 511.4,74.3 511.5,86.1 511.7,68.7 511.8,72.2 512,77.9 512.1,66.9 512.3,63.7 512.4,66.9 512.6,70.2 512.7,69.2 512.9,68.3 513,68.1 513.2,65.1 513.3,66.2 513.5,65.9 513.6,64.8 513.8,65.6 513.9,67.7 514.1,67.3 514.2,65.5 514.4,72.6 514.5,72 514.6,69.1 514.8,69.4 514.9,67.6 515.1,67.3 515.2,68.6 515.4,72.6 515.5,69.1 515.7,72.6 515.8,72.9 516,72.2 516.1,70.5 516.3,68.8 516.4,76.2 516.6,75.7 516.7,76.1 516.9,73.3 517,71.1 517.2,69.9 517.3,70.5 517.5,70.2 517.6,69.6 517.8,68.3 517.9,68.3 518.1,67.3 518.2,67.3 518.4,67.9 518.5,69.6 518.7,68.9 518.8,69.8 519,73.4 519.1,70.8 519.2,67.3 519.4,67.3 519.5,71.6 519.7,76.6 519.8,91.4 520,84 520.1,85.2 520.3,69.7 520.4,82 520.6,73.7 520.7,88.3 520.9,91.9 521,90.2 521.2,100.4 521.3,98.8 521.5,93.6 521.6,90.4 521.8,96.3 521.9,80.3 522.1,75.8 522.2,79.1 522.4,74.3 522.5,80.3 522.7,74.4 522.8,59.9 523,63.9 523.1,74.8 523.3,67.8 523.4,65.1 523.5,61.6 523.7,59.3 523.8,56.9 524,56.9 524.1,56.9 524.3,56.9 524.4,57.4 524.6,59.6 524.7,63 524.9,65.2 525,59.5 525.2,63.5 525.3,64.2 525.5,64 525.6,64.7 525.8,72.2 525.9,74.7 526.1,71.9 526.2,71.2 526.4,75.7 526.5,72.8 526.7,74.8 526.8,78.3 527,78.8 527.1,78.8 527.3,72.6 527.4,77.8 527.6,78.5 527.7,74.2 527.9,72.2 528,78.2 528.1,80 528.3,80.3 528.4,82.2 528.6,90 528.7,90.1 528.9,90.1 529,89.4 529.2,90.1 529.3,90.1 529.5,88.8 529.6,83.6 529.8,84.4 529.9,75.2 530.1,73 530.2,66.6 530.4,76.8 530.5,79.2 530.7,68.6 530.8,69.3 531,67.7 531.1,65.9 531.3,67 531.4,72 531.6,73.6 531.7,75.8 531.9,78.3 532,66 532.2,70.3 532.3,86.2 532.4,77.1 532.6,81.1 532.7,81.8 532.9,84.1 533,79.3 533.2,83.8 533.3,83.9 533.5,77.8 533.6,80.5 533.8,89.2 533.9,99.8 534.1,103.4 534.2,93.7 534.4,95.7 534.5,101.1 534.7,97.4 534.8,102.4 535,102.5 535.1,104.4 535.3,102.6 535.4,102.6 535.6,100.5 535.7,101.1 535.9,101.7 536,101.5 536.2,103.9 536.3,97.4 536.5,94.1 536.6,100.2 536.7,95.6 536.9,98.2 537,91.3 537.2,91.5 537.3,96.8 537.5,95.5 537.6,94.2 537.8,92.1 537.9,89.4 538.1,93.5 538.2,92.4 538.4,95.7 538.5,93.7 538.7,91.3 538.8,88.2 539,87.3 539.1,87.3 539.3,92.1 539.4,93.7 539.6,91.2 539.7,91.8 539.9,92.2 540,86.1 540.2,84.7 540.3,81 540.5,80.3 540.6,84 540.8,82.6 540.9,79.4 541.1,83 541.2,83.3 541.3,80.7 541.5,78.7 541.6,80.2 541.8,82.6 541.9,79.8 542.1,81.1 542.2,78.1 542.4,78.4 542.5,79.3 542.7,82.2 542.8,79.5 543,82.2 543.1,80.6 543.3,81.5 543.4,82.2 543.6,81.3 543.7,84.7 543.9,83.5 544,88.2 544.2,82.2 544.3,90.5 544.5,87.7 544.6,90.5 544.8,89.2 544.9,84.3 545.1,86.2 545.2,87.7 545.4,93 545.5,95 545.6,93.9 545.8,96.4 545.9,93.9 546.1,94.6 546.2,90.2 546.4,88.5 546.5,96.2 546.7,94 546.8,91 547,96.8 547.1,91.8 547.3,101.9 547.4,104.5 547.6,107.5 547.7,107.8 547.9,103 548,106 548.2,105 548.3,104.3 548.5,103.4 548.6,103 548.8,103.7 548.9,104.7 549.1,106.6 549.2,106.9 549.4,103.9 549.5,104.2 549.7,104.5 549.8,104.8 550,105.1 550.1,105.4 550.2,107.6 550.4,106.6 550.5,106.5 550.7,106.6 550.8,107 551,109.2 551.1,108.6 551.3,108.6 551.4,108.1 551.6,108.4 551.7,108.7 551.9,110.6 552,113.1 552.2,113.1 552.3,112.3 552.5,113.1 552.6,112.5 552.8,109.9 552.9,111.7 553.1,112.8 553.2,112.9 553.4,112.8 553.5,112.4 553.7,112.6 553.8,110.8 554,110.3 554.1,112.2 554.3,112.2 554.4,112.1 554.5,100.6 554.7,111.9 554.8,108.4 555,105.4 555.1,101.6 555.3,99.9 555.4,101.9 555.6,98 555.7,91.5 555.9,84.9 556,84.9 556.2,84.9 556.3,94.9 556.5,90.1 556.6,92.9 556.8,92.6 556.9,90.6 557.1,89.4 557.2,84.9 557.4,89.6 557.5,88.9 557.7,96.8 557.8,95.6 558,90.8 558.1,92.1 558.3,93.8 558.4,94.1 558.6,94.9 558.7,97.6 558.9,93.5 559,95.1 559.1,94.8 559.3,99.3 559.4,99.6 559.6,99.8 559.7,98.7 559.9,96.1 560,95 560.2,101.9 560.3,102.3 560.5,98.7 560.6,97.4 560.8,86.3 560.9,78.2 561.1,81 561.2,96.9 561.4,74.4 561.5,62.3 561.7,59.4 561.8,64.7 562,56.9 562.1,87.8 562.3,86.9 562.4,77.4 562.6,80 562.7,71.2 562.9,75 563,78.7 563.2,73.1 563.3,74.3 563.4,65.4 563.6,69.6 563.7,68.6 563.9,69.6 564,65.9 564.2,66.8" stroke="#9acd32" stroke-width="1.15"/>
<polyline points="416,66.1 416.2,67.1 416.3,64.4 416.5,68.9 416.6,67.8 416.8,68.9 416.9,65.9 417,66.2 417.2,60.1 417.3,60.1 417.5,70.6 417.6,75.4 417.8,79.9 417.9,76.6 418.1,69.4 418.2,76.9 418.4,78.1 418.5,75.3 418.7,70.5 418.8,63.9 419,60.4 419.1,61.7 419.3,70.6 419.4,70.9 419.6,76.6 419.7,75.5 419.9,74.6 420,68.8 420.2,75.2 420.3,75.3 420.5,74.2 420.6,72.3 420.8,77.4 420.9,81.3 421.1,75.1 421.2,77.5 421.3,72.5 421.5,75.3 421.6,69.1 421.8,68.1 421.9,68.9 422.1,72.1 422.2,68 422.4,75.1 422.5,74 422.7,74.6 422.8,63.1 423,65.7 423.1,59.3 423.3,62.9 423.4,60.3 423.6,56.4 423.7,49.6 423.9,56.4 424,50.6 424.2,47.1 424.3,48.5 424.5,47.1 424.6,49.6 424.8,49.8 424.9,48.5 425.1,46 425.2,43.3 425.4,50.3 425.5,45 425.7,54.7 425.8,47.9 425.9,44.5 426.1,61.9 426.2,55.1 426.4,63.8 426.5,67.3 426.7,71.9 426.8,65 427,74.5 427.1,79.5 427.3,77.4 427.4,74.3 427.6,75.7 427.7,71.3 427.9,70.3 428,74 428.2,72.1 428.3,79.5 428.5,72.2 428.6,67.7 428.8,71.1 428.9,67.3 429.1,62.8 429.2,64.8 429.4,67.3 429.5,63.1 429.7,59.6 429.8,57.6 430,59.2 430.1,58.6 430.2,57.6 430.4,78.1 430.5,73.1 430.7,75.6 430.8,83 431,73.3 431.1,76.4 431.3,79.2 431.4,81.3 431.6,87.4 431.7,92.9 431.9,89.7 432,87.9 432.2,86.5 432.3,85.2 432.5,91.7 432.6,87.4 432.8,89 432.9,89.6 433.1,92.5 433.2,94.1 433.4,92.6 433.5,93.6 433.7,94.7 433.8,96.4 434,93.9 434.1,93.2 434.3,95 434.4,95.9 434.6,97.2 434.7,96.1 434.8,96.4 435,96.9 435.1,100.7 435.3,100.8 435.4,100.4 435.6,97.5 435.7,90.8 435.9,92.5 436,90.5 436.2,91.7 436.3,91.1 436.5,89.2 436.6,89.5 436.8,89.7 436.9,88.8 437.1,81.9 437.2,79.1 437.4,84 437.5,86.4 437.7,78.9 437.8,82.7 438,82.4 438.1,78.8 438.3,79 438.4,76.3 438.6,79.5 438.7,79.4 438.9,75.2 439,75.2 439.1,75.2 439.3,75.2 439.4,75.2 439.6,76.5 439.7,78.6 439.9,81.5 440,81.5 440.2,81.5 440.3,78.8 440.5,78.5 440.6,76.7 440.8,76 440.9,77.8 441.1,75.7 441.2,78.9 441.4,78.1 441.5,78 441.7,76.9 441.8,78.7 442,77.1 442.1,76.9 442.3,76 442.4,73.2 442.6,74.2 442.7,76.4 442.9,77.1 443,76.9 443.2,78.8 443.3,77.8 443.5,77.9 443.6,73.2 443.7,77.5 443.9,79.9 444,80.8 444.2,81.3 444.3,84.5 444.5,84.1 444.6,86.5 444.8,86.4 444.9,88.8 445.1,85.5 445.2,86.3 445.4,88.4 445.5,87.6 445.7,90.4 445.8,91.5 446,91 446.1,94.2 446.3,94.3 446.4,92.8 446.6,95.4 446.7,95.4 446.9,97 447,98.4 447.2,97.6 447.3,98.3 447.5,98.6 447.6,99.5 447.8,99.3 447.9,100.4 448,99.5 448.2,99.2 448.3,98.3 448.5,98.5 448.6,97.7 448.8,99.7 448.9,99 449.1,100.3 449.2,99.7 449.4,101.6 449.5,104 449.7,102.5 449.8,101.6 450,103.5 450.1,103.2 450.3,103.7 450.4,103.1 450.6,102.5 450.7,104 450.9,103.6 451,105.2 451.2,104.6 451.3,105.6 451.5,105.5 451.6,106.2 451.8,105.6 451.9,107.9 452.1,107.3 452.2,108.5 452.3,107.6 452.5,107.2 452.6,106.4 452.8,106.1 452.9,108.6 453.1,106.8 453.2,107.2 453.4,107.4 453.5,108.5 453.7,108.5 453.8,109.7 454,109.7 454.1,108.7 454.3,108.2 454.4,109.7 454.6,105.8 454.7,106.4 454.9,106.6 455,106.6 455.2,106.4 455.3,105.4 455.5,104.4 455.6,103.4 455.8,104.6 455.9,102.5 456.1,104.2 456.2,104.9 456.4,104.5 456.5,103 456.7,104.9 456.8,108 456.9,106.4 457.1,105.2 457.2,99.7 457.4,98.5 457.5,100.2 457.7,99.5 457.8,98.5 458,100.4 458.1,94.7 458.3,97.4 458.4,96.3 458.6,96.5 458.7,92.6 458.9,94.4 459,95.8 459.2,96.1 459.3,96.3 459.5,95.8 459.6,95.6 459.8,93 459.9,94 460.1,94.2 460.2,91.1 460.4,89 460.5,91 460.7,91.3 460.8,89 461,90 461.1,89.6 461.2,88.3 461.4,92 461.5,88.9 461.7,89.1 461.8,88.1 462,89 462.1,87.5 462.3,88.3 462.4,86.2 462.6,87.8 462.7,87.4 462.9,87.3 463,89.6 463.2,89.4 463.3,89.8 463.5,89.6 463.6,90.7 463.8,92 463.9,91.9 464.1,91.9 464.2,91.5 464.4,87.3 464.5,87.8 464.7,86.2 464.8,87.7 465,85.2 465.1,86.4 465.3,87.4 465.4,80.6 465.6,86.8 465.7,82.9 465.8,80.5 466,79.2 466.1,78.2 466.3,77.8 466.4,72.3 466.6,73.3 466.7,74.4 466.9,72.7 467,80.5 467.2,81.1 467.3,78.6 467.5,75 467.6,73.8 467.8,68.2 467.9,69.5 468.1,74.5 468.2,73.4 468.4,62.4 468.5,65.3 468.7,66 468.8,66.2 469,61.6 469.1,59.8 469.3,60.6 469.4,61.5 469.6,57.2 469.7,61.6 469.9,59.8 470,57.8 470.1,55.9 470.3,54.9 470.4,52.4 470.6,50.3 470.7,53.3 470.9,53.1 471,57.8 471.2,54.6 471.3,59.5 471.5,57.3 471.6,57.3 471.8,63.7 471.9,66.5 472.1,80.5 472.2,80.5 472.4,80.5 472.5,75.1 472.7,70.1 472.8,61.7 473,69.1 473.1,67.2 473.3,67.5 473.4,63.2 473.6,66.9 473.7,60.3 473.9,64 474,59.6 474.2,62.9 474.3,62.8 474.5,64.1 474.6,59.4 474.7,60.4 474.9,60.6 475,66.9 475.2,65.8 475.3,69.7 475.5,75.9 475.6,73.3 475.8,74.1 475.9,72.5 476.1,68.6 476.2,68.5 476.4,59.3 476.5,57.8 476.7,58.5 476.8,68.9 477,55.8 477.1,70.8 477.3,74.6 477.4,61.5 477.6,51.2 477.7,30.1 477.9,32.1 478,31.7 478.2,31.5 478.3,52.2 478.5,63.3 478.6,51.2 478.8,54.3 478.9,54 479,77.3 479.2,65.8 479.3,63.2 479.5,80.2 479.6,79.7 479.8,69.2 479.9,74.3 480.1,78.5 480.2,81.8 480.4,86.8 480.5,93.8 480.7,92.3 480.8,93.9 481,96.8 481.1,98.3 481.3,100.3 481.4,95.9 481.6,97.5 481.7,91.4 481.9,88.3 482,91.8 482.2,82.7 482.3,85.5 482.5,84.4 482.6,87.5 482.8,89 482.9,85.6 483.1,87.6 483.2,83.5 483.4,82.8 483.5,79.7 483.6,79.5 483.8,83.8 483.9,82.9 484.1,84.4 484.2,82.2 484.4,79.6 484.5,80.9 484.7,80.2 484.8,78.4 485,76.5 485.1,77 485.3,81 485.4,80 485.6,78 485.7,81.8 485.9,81 486,80.7 486.2,86.4 486.3,89.2 486.5,87.8 486.6,86.6 486.8,87.2 486.9,88 487.1,91 487.2,91.8 487.4,91.8 487.5,91.2 487.7,85.4 487.8,76.9 487.9,78 488.1,78.3 488.2,83.9 488.4,88.5 488.5,87.7 488.7,94.8 488.8,102.1 489,98.6 489.1,92.6 489.3,85.4 489.4,83.3 489.6,102.2 489.7,100.5 489.9,94.7 490,97.9 490.2,93.7 490.3,93.4 490.5,94.5 490.6,97.4 490.8,100.3 490.9,97.3 491.1,88.9 491.2,81.2 491.4,84.4 491.5,82.2 491.7,87.1 491.8,93.5 492,97.6 492.1,96.5 492.3,93.5 492.4,85 492.5,83 492.7,82 492.8,79.8 493,79.7 493.1,83.9 493.3,85 493.4,85.1 493.6,87.4 493.7,85.4 493.9,85.3 494,85.3 494.2,84.2 494.3,83.5 494.5,84.2 494.6,82.3 494.8,79.1 494.9,80 495.1,81.3 495.2,81.6 495.4,79.2 495.5,75 495.7,76.2 495.8,75.5 496,74.2 496.1,76.7 496.3,70.3 496.4,69.9 496.6,69.4 496.7,67.4 496.8,66.3 497,68.8 497.1,73.3 497.3,73.1 497.4,70.3 497.6,70.1 497.7,72.6 497.9,72.8 498,71.4 498.2,72.7 498.3,70.7 498.5,70.2 498.6,69.2 498.8,67 498.9,67 499.1,68.7 499.2,66.8 499.4,67.3 499.5,68 499.7,68.7 499.8,67.1 500,66 500.1,65.4 500.3,65.9 500.4,65.4 500.6,67.9 500.7,69.5 500.9,69.9 501,67.8 501.2,66.2 501.3,67.8 501.4,69.4 501.6,66.5 501.7,71 501.9,71.5 502,73.4 502.2,72.4 502.3,73.5 502.5,74.3 502.6,78 502.8,78.7 502.9,79.4 503.1,79.8 503.2,82.1 503.4,82.4 503.5,79.5 503.7,80.4 503.8,84.5 504,85.4 504.1,89 504.3,86.4 504.4,85 504.6,83.1 504.7,86 504.9,96.3 505,88.8 505.2,93.9 505.3,95.4 505.5,100.1 505.6,97.7 505.7,99.6 505.9,100.7 506,101.7 506.2,101.1 506.3,101.1 506.5,100.2 506.6,102.1 506.8,102.7 506.9,104.2 507.1,104.1 507.2,104.9 507.4,105 507.5,107.9 507.7,107.9 507.8,106.2 508,104.8 508.1,103.1 508.3,103.1 508.4,103.1 508.6,102.7 508.7,103.5 508.9,103.4 509,105.7 509.2,103.3 509.3,107.8 509.5,107.8 509.6,102.7 509.8,97 509.9,93.6 510.1,97 510.2,100.9 510.3,85.8 510.5,79.5 510.6,88.8 510.8,94.5 510.9,81.6 511.1,73.5 511.2,74 511.4,68.1 511.5,63.8 511.7,76.1 511.8,75.3 512,76.3 512.1,66 512.3,63.5 512.4,65.6 512.6,67.6 512.7,64.2 512.9,68.3 513,70.4 513.2,69.1 513.3,69.2 513.5,70.4 513.6,67.6 513.8,68.6 513.9,69.9 514.1,71.9 514.2,71.7 514.4,67.9 514.5,64.6 514.6,64.3 514.8,64.2 514.9,64.4 515.1,61.2 515.2,64 515.4,62.3 515.5,61.4 515.7,56.9 515.8,59.9 516,59.8 516.1,57.8 516.3,57.4 516.4,58.6 516.6,58.2 516.7,59.9 516.9,56.7 517,60.1 517.2,56.8 517.3,56.7 517.5,56.7 517.6,60.5 517.8,71.1 517.9,74.6 518.1,79.4 518.2,73.3 518.4,71.7 518.5,68.8 518.7,84.6 518.8,85.4 519,73.7 519.1,79.4 519.2,78 519.4,80.8 519.5,88 519.7,90.6 519.8,90.5 520,90.5 520.1,95.5 520.3,92.6 520.4,93.2 520.6,95.5 520.7,94.2 520.9,95.5 521,95.5 521.2,95.5 521.3,89 521.5,85.8 521.6,85.9 521.8,78.4 521.9,70.1 522.1,67.4 522.2,72.4 522.4,74.9 522.5,77.1 522.7,82.2 522.8,87 523,84 523.1,80.5 523.3,74.1 523.4,67.5 523.5,66.3 523.7,67.3 523.8,75.2 524,73.5 524.1,74 524.3,67.4 524.4,67.5 524.6,65.7 524.7,66.4 524.9,70.4 525,66.2 525.2,67.5 525.3,66.7 525.5,67 525.6,79.9 525.8,77.1 525.9,80.3 526.1,78.2 526.2,74 526.4,77.4 526.5,84 526.7,79.4 526.8,82.6 527,83.4 527.1,81.3 527.3,79.4 527.4,79.6 527.6,81.7 527.7,80.9 527.9,79.4 528,80.6 528.1,79.7 528.3,82.5 528.4,82.9 528.6,81.4 528.7,83.2 528.9,81.4 529,84.5 529.2,85.3 529.3,84.8 529.5,85.3 529.6,84.1 529.8,82.4 529.9,81.1 530.1,82.9 530.2,80.3 530.4,78 530.5,79.1 530.7,79.8 530.8,78 531,79 531.1,80.7 531.3,81.4 531.4,84.3 531.6,83.7 531.7,84.5 531.9,81.9 532,83.4 532.2,84.6 532.3,87.3 532.4,88.5 532.6,86.6 532.7,86.9 532.9,86.5 533,84.7 533.2,89.6 533.3,90.7 533.5,91.6 533.6,92.9 533.8,93.2 533.9,93.4 534.1,96.2 534.2,93 534.4,93.2 534.5,94.3 534.7,96.6 534.8,95.3 535,97.4 535.1,98.9 535.3,99.4 535.4,100.3 535.6,100.6 535.7,100.9 535.9,95.7 536,97 536.2,97.5 536.3,94.9 536.5,95.3 536.6,94.2 536.7,92.6 536.9,92.8 537,94.2 537.2,93.9 537.3,91.8 537.5,91.6 537.6,89.9 537.8,89.5 537.9,90.1 538.1,92.6 538.2,93.4 538.4,93.7 538.5,92 538.7,91.7 538.8,89.6 539,89.3 539.1,92.3 539.3,89.1 539.4,90.5 539.6,90.7 539.7,89.1 539.9,91.3 540,92 540.2,91.2 540.3,89.6 540.5,90.4 540.6,89.3 540.8,86.9 540.9,84.8 541.1,84.8 541.2,84.8 541.3,84.8 541.5,85 541.6,85.9 541.8,87.7 541.9,86.9 542.1,87.5 542.2,88.7 542.4,90.5 542.5,90.8 542.7,91.1 542.8,91.6 543,90.4 543.1,90.4 543.3,89.4 543.4,88.7 543.6,88.5 543.7,87.8 543.9,87.3 544,88.4 544.2,88.6 544.3,89.2 544.5,91.4 544.6,92.5 544.8,91.1 544.9,92.5 545.1,90.8 545.2,91.7 545.4,94.1 545.5,94.1 545.6,95.7 545.8,96.6 545.9,99.4 546.1,97.8 546.2,95.1 546.4,97.4 546.5,98.1 546.7,97.9 546.8,99.1 547,100.1 547.1,98.7 547.3,98.1 547.4,96.6 547.6,96.3 547.7,100.9 547.9,96.8 548,95.4 548.2,96 548.3,96.5 548.5,96.5 548.6,97.8 548.8,98 548.9,95.6 549.1,96.2 549.2,95.9 549.4,95.4 549.5,96.4 549.7,97.3 549.8,96.3 550,97 550.1,98.2 550.2,96 550.4,96 550.5,97.5 550.7,101.2 550.8,101.1 551,100.5 551.1,102.2 551.3,105.4 551.4,102.7 551.6,105.1 551.7,107.3 551.9,109.4 552,103.1 552.2,105.4 552.3,105.7 552.5,106.4 552.6,106.3 552.8,108.4 552.9,107.6 553.1,107.8 553.2,109.7 553.4,109.7 553.5,109.4 553.7,109.7 553.8,109.5 554,108.5 554.1,103.8 554.3,105 554.4,103.5 554.5,103.3 554.7,104.2 554.8,104.5 555,104.2 555.1,103.4 555.3,102.7 555.4,102.1 555.6,100.6 555.7,101.1 555.9,100.6 556,100.6 556.2,102.5 556.3,100.6 556.5,101.1 556.6,100.6 556.8,99.9 556.9,103.7 557.1,105.9 557.2,105.2 557.4,104.1 557.5,105.2 557.7,104 557.8,101.3 558,101.7 558.1,102 558.3,100.4 558.4,95.9 558.6,98.6 558.7,95.6 558.9,95.6 559,97.8 559.1,97 559.3,94.1 559.4,93.2 559.6,92.9 559.7,92.8 559.9,94.6 560,96.2 560.2,90.6 560.3,89.7 560.5,85.2 560.6,82.9 560.8,87.7 560.9,83.4 561.1,83.8 561.2,86.2 561.4,82 561.5,81.8 561.7,82.2 561.8,81.1 562,87.2 562.1,80.8 562.3,80.8 562.4,77.1 562.6,74 562.7,74.8 562.9,72.5 563,75.7 563.2,75.1 563.3,76 563.4,72.3 563.6,72.3 563.7,71.4 563.9,71.4 564,71.4 564.2,71.4" stroke="#000080" stroke-width="1.25"/>
</g>
<rect x="408.6" y="21.8" width="163" height="102.5" fill="none" stroke="#757575" stroke-width="1"/>
<text class="tk" transform="translate(406.6,121.4) scale(0.905,1)" text-anchor="end">0</text>
<text class="tk" transform="translate(406.6,100.5) scale(0.905,1)" text-anchor="end">5</text>
<text class="tk" transform="translate(406.6,79.6) scale(0.905,1)" text-anchor="end">10</text>
<text class="tk" transform="translate(406.6,58.8) scale(0.905,1)" text-anchor="end">15</text>
<text class="tk" transform="translate(406.6,37.9) scale(0.905,1)" text-anchor="end">20</text>
<text class="tk" transform="translate(416,129.1) scale(0.905,1)" text-anchor="middle">0</text>
<text class="tk" transform="translate(445.7,129.1) scale(0.905,1)" text-anchor="middle">200</text>
<text class="tk" transform="translate(475.3,129.1) scale(0.905,1)" text-anchor="middle">400</text>
<text class="tk" transform="translate(505,129.1) scale(0.905,1)" text-anchor="middle">600</text>
<text class="tk" transform="translate(534.7,129.1) scale(0.905,1)" text-anchor="middle">800</text>
<text class="tk" transform="translate(564.3,129.1) scale(0.905,1)" text-anchor="middle">1000</text>
<text class="tk" transform="translate(490.1,134.9) scale(0.905,1)" text-anchor="middle">Hour</text>
<text class="tk" transform="translate(400,73) rotate(-90) scale(0.905,1)" text-anchor="middle">Wind Speed (m/s)</text>
<line x1="527.2" y1="27.4" x2="536" y2="27.4" stroke="#fa8072" stroke-width="1.0"/>
<text class="lg" transform="translate(539.1,29) scale(0.905,1)">ERA5</text>
<line x1="527.2" y1="33.4" x2="536" y2="33.4" stroke="#ffd700" stroke-width="1.0"/>
<text class="lg" transform="translate(539.1,35) scale(0.905,1)">COSMO-REA6</text>
<line x1="527.2" y1="39.4" x2="536" y2="39.4" stroke="#9acd32" stroke-width="1.0"/>
<text class="lg" transform="translate(539.1,41) scale(0.905,1)">Observed</text>
<line x1="527.2" y1="45.4" x2="536" y2="45.4" stroke="#000080" stroke-width="1.0"/>
<text class="lg" transform="translate(539.1,47) scale(0.905,1)">Corrected</text>
</g>
<g>
<text class="pl" x="1" y="175.9">(d)</text>
<clipPath id="clipd"><rect x="16.5" y="186.9" width="163" height="102.4"/></clipPath>
<g clip-path="url(#clipd)" fill="none" stroke-linejoin="round">
<polyline points="23.9,260 24.1,259.7 24.2,260.3 24.4,260.4 24.5,260.5 24.7,262.7 24.8,263 24.9,262.7 25.1,262.6 25.2,263.3 25.4,263.4 25.5,263.1 25.7,264.5 25.8,263.1 26,261.7 26.1,263.3 26.3,261.1 26.4,261 26.6,261.1 26.7,260.8 26.9,262.6 27,264.3 27.2,267.5 27.3,266.2 27.5,269.6 27.6,265.9 27.8,266.6 27.9,266.4 28.1,266.9 28.2,267.7 28.4,266.1 28.5,266.2 28.7,267.1 28.8,266.7 29,265.6 29.1,263.3 29.2,264.9 29.4,264.1 29.5,264.7 29.7,264.6 29.8,264.7 30,266 30.1,262.7 30.3,264.3 30.4,263.6 30.6,259.5 30.7,256.4 30.9,256.3 31,255.3 31.2,251.3 31.3,255.7 31.5,250.3 31.6,247.1 31.8,247.7 31.9,245.3 32.1,244.6 32.2,245.9 32.4,244.9 32.5,244.8 32.7,247.8 32.8,246.7 33,249.3 33.1,247.5 33.3,248 33.4,247.2 33.6,252.6 33.7,250.8 33.8,250.1 34,248.1 34.1,253.1 34.3,259.8 34.4,258.6 34.6,261.5 34.7,260.1 34.9,261.6 35,258.8 35.2,261.7 35.3,266.7 35.5,268 35.6,266.3 35.8,271.6 35.9,274.3 36.1,275.1 36.2,275.1 36.4,272.3 36.5,267.3 36.7,266.2 36.8,261.2 37,263.9 37.1,265.3 37.3,263 37.4,258.8 37.6,261.8 37.7,258.1 37.9,259 38,258.6 38.1,261.3 38.3,262.5 38.4,264.4 38.6,265.7 38.7,265.6 38.9,270.2 39,270.4 39.2,265.5 39.3,265.1 39.5,267.8 39.6,270.4 39.8,270.5 39.9,272.7 40.1,276.1 40.2,273.6 40.4,274.6 40.5,274.8 40.7,274.3 40.8,273.5 41,275.9 41.1,277 41.3,275.6 41.4,276.3 41.6,275.5 41.7,274.8 41.9,272.3 42,274.2 42.2,275.2 42.3,275.9 42.5,275.1 42.6,276.4 42.7,277.2 42.9,278.2 43,277 43.2,277 43.3,277.1 43.5,274.9 43.6,275.5 43.8,274.3 43.9,274.6 44.1,272.7 44.2,274 44.4,276.8 44.5,272.7 44.7,270.8 44.8,270.3 45,272.8 45.1,268.6 45.3,264.9 45.4,266.6 45.6,264.9 45.7,264.9 45.9,265.2 46,268 46.2,268.6 46.3,269.9 46.5,270 46.6,269.8 46.8,268.7 46.9,265 47,265.1 47.2,265.5 47.3,264.5 47.5,266 47.6,267.1 47.8,266.5 47.9,267.4 48.1,268.6 48.2,268.7 48.4,268.7 48.5,268.7 48.7,268.7 48.8,267.5 49,264.5 49.1,264.7 49.3,265.8 49.4,265.4 49.6,266.3 49.7,266.3 49.9,265 50,264.3 50.2,265.4 50.3,265.7 50.5,266.8 50.6,266.8 50.8,266.8 50.9,267.3 51.1,268 51.2,268.6 51.4,269.5 51.5,268.7 51.6,269.6 51.8,269.1 51.9,270.2 52.1,270.6 52.2,271.7 52.4,273 52.5,272.5 52.7,274.7 52.8,274.3 53,275.9 53.1,276.7 53.3,276.8 53.4,280.4 53.6,276.6 53.7,278.2 53.9,278.7 54,280.7 54.2,282.6 54.3,283.3 54.5,282 54.6,281.5 54.8,278.9 54.9,278.4 55.1,276.8 55.2,274.2 55.4,273.8 55.5,274.3 55.7,275.8 55.8,274.9 55.9,273.6 56.1,273.1 56.2,274 56.4,273 56.5,273.4 56.7,275.1 56.8,276.6 57,276.2 57.1,277.5 57.3,276 57.4,278.3 57.6,278.6 57.7,276 57.9,276.1 58,277 58.2,276.8 58.3,276.7 58.5,275.4 58.6,277.5 58.8,276.5 58.9,277.8 59.1,278.3 59.2,277.6 59.4,276.7 59.5,275.1 59.7,277.3 59.8,279.2 60,276.6 60.1,278 60.2,280.3 60.4,280 60.5,282 60.7,281.3 60.8,282.4 61,282.5 61.1,283.4 61.3,283.4 61.4,283.4 61.6,281.5 61.7,281 61.9,281.3 62,280.4 62.2,280.1 62.3,281.5 62.5,282.3 62.6,282.9 62.8,282.9 62.9,283.8 63.1,283.8 63.2,281.8 63.4,282.1 63.5,280.3 63.7,279.9 63.8,281.1 64,279.3 64.1,280.5 64.3,279.5 64.4,280.3 64.6,278.4 64.7,276.9 64.8,277.5 65,275.2 65.1,275 65.3,275.1 65.4,277.3 65.6,277.1 65.7,274.9 65.9,273.1 66,273.6 66.2,274.4 66.3,273.4 66.5,272.6 66.6,274.4 66.8,273.4 66.9,271.4 67.1,272.8 67.2,272.3 67.4,272.6 67.5,272.5 67.7,273.8 67.8,272.4 68,273 68.1,272.9 68.3,272.5 68.4,272.9 68.6,270.8 68.7,271.9 68.9,271.2 69,271.5 69.1,271.4 69.3,271.4 69.4,271.4 69.6,271.9 69.7,271.7 69.9,270.5 70,271.6 70.2,269.1 70.3,269.2 70.5,270.6 70.6,272.4 70.8,273.8 70.9,275.7 71.1,273.8 71.2,274.6 71.4,273.8 71.5,272.4 71.7,272.7 71.8,272.6 72,272.9 72.1,272.7 72.3,274 72.4,274.1 72.6,275.4 72.7,275.8 72.9,273.8 73,277.5 73.2,275.7 73.3,276.5 73.5,275.5 73.6,276.6 73.7,276.6 73.9,272.8 74,269.9 74.2,266.9 74.3,271.2 74.5,267.6 74.6,267.3 74.8,265 74.9,264.3 75.1,268 75.2,264.8 75.4,264.7 75.5,265.5 75.7,263.4 75.8,260.6 76,257 76.1,257.8 76.3,258.9 76.4,257 76.6,257.3 76.7,254.8 76.9,253.6 77,257.8 77.2,254.5 77.3,254.7 77.5,254.7 77.6,253.8 77.8,251.4 77.9,251.2 78,251.7 78.2,253.2 78.3,257.3 78.5,262.6 78.6,261.6 78.8,260.2 78.9,263.1 79.1,263.8 79.2,264.6 79.4,266 79.5,265.6 79.7,263.8 79.8,262.7 80,260.5 80.1,260.2 80.3,255.9 80.4,257.2 80.6,258.7 80.7,259.3 80.9,257.1 81,259.8 81.2,259.7 81.3,265.2 81.5,264.4 81.6,263.9 81.8,265.5 81.9,267.4 82.1,269.8 82.2,268.9 82.4,269 82.5,264.5 82.6,262.9 82.8,262.6 82.9,261.8 83.1,259.2 83.2,265.9 83.4,263.5 83.5,257.1 83.7,257.1 83.8,257.7 84,254.6 84.1,250.8 84.3,252.1 84.4,252.4 84.6,250.5 84.7,250.8 84.9,250.4 85,251.4 85.2,250.7 85.3,251.2 85.5,252.9 85.6,252.9 85.8,251.6 85.9,251.3 86.1,252.9 86.2,249.8 86.4,249.2 86.5,247.2 86.7,251 86.8,248.7 86.9,253.7 87.1,258.5 87.2,256.6 87.4,259.4 87.5,255.6 87.7,259.2 87.8,259.5 88,258.5 88.1,258 88.3,259 88.4,261.6 88.6,262.9 88.7,265.4 88.9,265.7 89,263.3 89.2,263.9 89.3,264.2 89.5,264.1 89.6,262.4 89.8,259.6 89.9,260.2 90.1,261.6 90.2,261.4 90.4,262.2 90.5,268.1 90.7,269.1 90.8,269.9 91,273.2 91.1,275.9 91.3,270.6 91.4,273.4 91.5,275.8 91.7,273 91.8,275.4 92,275.9 92.1,278.5 92.3,279.9 92.4,281.3 92.6,281.9 92.7,281.6 92.9,281.1 93,281 93.2,278.6 93.3,279.1 93.5,279.8 93.6,280.8 93.8,278.5 93.9,275.7 94.1,274.3 94.2,273.6 94.4,272.2 94.5,270.7 94.7,269.7 94.8,269 95,267.6 95.1,264.3 95.3,264.3 95.4,264.3 95.6,265.7 95.7,264.3 95.8,265 96,266.6 96.1,266.3 96.3,267.5 96.4,265.4 96.6,267.8 96.7,272.1 96.9,273.6 97,273.6 97.2,275.6 97.3,276.8 97.5,277.6 97.6,278.4 97.8,279.9 97.9,278 98.1,279.9 98.2,279.2 98.4,278.2 98.5,277 98.7,277.9 98.8,276.8 99,278.5 99.1,277.9 99.3,277.4 99.4,275.3 99.6,272.4 99.7,273.9 99.9,273.7 100,273.1 100.2,271.7 100.3,274 100.4,278.5 100.6,277.2 100.7,278.1 100.9,276.5 101,275.6 101.2,273.2 101.3,274.5 101.5,273.6 101.6,273.5 101.8,273.7 101.9,272.8 102.1,270.8 102.2,270.7 102.4,270 102.5,271.2 102.7,270 102.8,268.3 103,268.2 103.1,268.1 103.3,268 103.4,268.1 103.6,267.9 103.7,267.2 103.9,268.4 104,268.5 104.2,267.8 104.3,268.7 104.5,269.3 104.6,271.4 104.7,270.6 104.9,268.1 105,268.5 105.2,268.1 105.3,268.2 105.5,265.1 105.6,264.1 105.8,266.8 105.9,265 106.1,264.3 106.2,265 106.4,264.8 106.5,264.5 106.7,265.8 106.8,267.4 107,266.7 107.1,264.5 107.3,266.2 107.4,267.1 107.6,264.8 107.7,267.2 107.9,266.6 108,267.3 108.2,268 108.3,268.7 108.5,268.8 108.6,268.4 108.8,267.3 108.9,266.6 109.1,265.7 109.2,265.2 109.3,266.9 109.5,265.2 109.6,266.1 109.8,268.3 109.9,266.3 110.1,266.2 110.2,270 110.4,270.1 110.5,272.1 110.7,271.4 110.8,273 111,274.1 111.1,276.3 111.3,275.7 111.4,275.5 111.6,275.2 111.7,274.8 111.9,275.1 112,273.8 112.2,273.2 112.3,275.7 112.5,274.2 112.6,277.1 112.8,276.5 112.9,276.9 113.1,278.6 113.2,277.3 113.4,278.2 113.5,280.6 113.6,281.9 113.8,282.3 113.9,281 114.1,279.6 114.2,277.8 114.4,278.5 114.5,276.9 114.7,279.1 114.8,279.3 115,278.7 115.1,279.2 115.3,279.2 115.4,280.3 115.6,279.6 115.7,279.9 115.9,280.1 116,280.5 116.2,281.3 116.3,281.9 116.5,282 116.6,282.6 116.8,280.8 116.9,280.7 117.1,279.6 117.2,280.7 117.4,281.9 117.5,281 117.7,279.7 117.8,280.1 118,278.8 118.1,281.2 118.2,279.8 118.4,277.3 118.5,273.8 118.7,272.7 118.8,273.8 119,271.1 119.1,266.9 119.3,267 119.4,266 119.6,268.8 119.7,268.8 119.9,268.7 120,266.5 120.2,266.2 120.3,266.6 120.5,264.8 120.6,266.8 120.8,264.7 120.9,263.4 121.1,264.6 121.2,265.7 121.4,265.7 121.5,265.6 121.7,264.6 121.8,264.2 122,264.5 122.1,264 122.3,266 122.4,267 122.5,266.9 122.7,267.2 122.8,265.7 123,265.7 123.1,266.3 123.3,265.6 123.4,265.1 123.6,265.6 123.7,263.8 123.9,267.4 124,266.8 124.2,264.7 124.3,267.7 124.5,266.6 124.6,266.5 124.8,265.9 124.9,263.3 125.1,264.7 125.2,264.4 125.4,262.6 125.5,264.3 125.7,264.2 125.8,263.8 126,264 126.1,265.5 126.3,266.2 126.4,266.1 126.6,267.2 126.7,267.8 126.9,270.3 127,272 127.1,273.6 127.3,271.7 127.4,271.4 127.6,274.2 127.7,275.8 127.9,274.3 128,277.2 128.2,274.9 128.3,277.1 128.5,277.8 128.6,282.2 128.8,280.9 128.9,281.1 129.1,283.6 129.2,280.8 129.4,284 129.5,282.1 129.7,284 129.8,279.1 130,279.2 130.1,278.4 130.3,275.4 130.4,275.4 130.6,272.3 130.7,272.8 130.9,269.5 131,267.6 131.2,265.4 131.3,258.3 131.4,264.3 131.6,259.9 131.7,259 131.9,261.6 132,257.5 132.2,262.1 132.3,260.9 132.5,259.1 132.6,257.9 132.8,256.4 132.9,256.4 133.1,257.3 133.2,258.8 133.4,260 133.5,260.6 133.7,262.6 133.8,264.2 134,262.5 134.1,264.3 134.3,264.5 134.4,265.7 134.6,267 134.7,265 134.9,266.8 135,267.9 135.2,271.3 135.3,272.2 135.5,270.6 135.6,272.4 135.8,273.5 135.9,276.4 136,276.3 136.2,277.9 136.3,278.5 136.5,277.7 136.6,276.1 136.8,276 136.9,274.6 137.1,274.6 137.2,275.2 137.4,273.2 137.5,275.1 137.7,273.2 137.8,271.3 138,268.5 138.1,270.9 138.3,268 138.4,271.4 138.6,272.7 138.7,274.2 138.9,272.8 139,273.2 139.2,274.4 139.3,271.5 139.5,271.3 139.6,270.7 139.8,270 139.9,270.3 140.1,270.1 140.2,270.2 140.3,273.4 140.5,273.5 140.6,271.6 140.8,272.3 140.9,274.2 141.1,276.1 141.2,275.7 141.4,276.3 141.5,276.7 141.7,275.1 141.8,274.4 142,274.5 142.1,274 142.3,273.2 142.4,273.1 142.6,273.1 142.7,273.9 142.9,275.5 143,276.7 143.2,278.2 143.3,279.4 143.5,280.3 143.6,279.9 143.8,277.5 143.9,276.2 144.1,276.2 144.2,276.1 144.4,276.4 144.5,276.9 144.6,277.8 144.8,276.8 144.9,278 145.1,278.3 145.2,278.4 145.4,278.4 145.5,279.2 145.7,278.6 145.8,279.5 146,280.4 146.1,278.4 146.3,280.8 146.4,282.1 146.6,282.3 146.7,281.1 146.9,280.6 147,277.8 147.2,278.3 147.3,278.2 147.5,278.1 147.6,277.6 147.8,278.7 147.9,276.5 148.1,277.6 148.2,273.6 148.4,275.5 148.5,276.3 148.7,275.8 148.8,276.2 149,276.6 149.1,276.2 149.2,274.1 149.4,273 149.5,272.7 149.7,272.8 149.8,271.2 150,272.1 150.1,274.5 150.3,273.9 150.4,273 150.6,273.9 150.7,273.3 150.9,273.5 151,274.1 151.2,273.2 151.3,273 151.5,276.4 151.6,275.9 151.8,276.4 151.9,276.1 152.1,276.9 152.2,277.4 152.4,277 152.5,277.5 152.7,276.3 152.8,276.8 153,275.1 153.1,277.2 153.3,278.4 153.4,277.9 153.5,276.9 153.7,276.3 153.8,275.2 154,275.2 154.1,276.3 154.3,278.8 154.4,280.2 154.6,279.8 154.7,280.8 154.9,280.8 155,278.9 155.2,279.5 155.3,280.2 155.5,280 155.6,278.5 155.8,280 155.9,280.8 156.1,280.1 156.2,280 156.4,280.3 156.5,279.8 156.7,278.9 156.8,277 157,277 157.1,275.9 157.3,275.9 157.4,275.9 157.6,275.9 157.7,276.9 157.9,276.8 158,279 158.1,279.7 158.3,280.3 158.4,279.5 158.6,278.6 158.7,279 158.9,279.9 159,280.4 159.2,278.5 159.3,278.2 159.5,280.1 159.6,280.1 159.8,280.6 159.9,281 160.1,282.4 160.2,282.4 160.4,282 160.5,282.2 160.7,281.2 160.8,282.8 161,282.8 161.1,282.2 161.3,283.9 161.4,283.8 161.6,283.3 161.7,281.5 161.9,282 162,281.5 162.2,280.5 162.3,281.3 162.4,281.6 162.6,281.2 162.7,279.4 162.9,279.1 163,278.4 163.2,278.4 163.3,278.8 163.5,277.6 163.6,277.6 163.8,279.3 163.9,280.1 164.1,280.3 164.2,280.5 164.4,280 164.5,279.7 164.7,278.2 164.8,278.2 165,278.2 165.1,278.2 165.3,279 165.4,278.2 165.6,279.2 165.7,280.3 165.9,279.4 166,279.6 166.2,278.9 166.3,279 166.5,277.5 166.6,277.2 166.8,279.4 166.9,280.6 167,280.2 167.2,280.3 167.3,281.9 167.5,280.4 167.6,276.1 167.8,275.5 167.9,276.7 168.1,274.3 168.2,273.8 168.4,274 168.5,272.4 168.7,272.1 168.8,271.8 169,271.8 169.1,272.5 169.3,273.4 169.4,271.8 169.6,273.5 169.7,273.2 169.9,272.7 170,272.5 170.2,275.1 170.3,271.6 170.5,270 170.6,271 170.8,269.2 170.9,269.1 171.1,266.8 171.2,265.1 171.3,265.5 171.5,263.3 171.6,264.1 171.8,260.7 171.9,261.2 172.1,263.7" stroke="#fa8072" stroke-width="1.1"/>
<polyline points="23.9,258.7 24.1,260.1 24.2,258.7 24.4,258.7 24.5,261.6 24.7,260.9 24.8,262.2 24.9,260.5 25.1,261 25.2,260.1 25.4,260 25.5,258.7 25.7,258.7 25.8,258.7 26,258.7 26.1,260.6 26.3,259.7 26.4,259.6 26.6,263.1 26.7,266.2 26.9,269 27,267.2 27.2,264.5 27.3,266.4 27.5,264.9 27.6,267.2 27.8,268.3 27.9,267.4 28.1,263.5 28.2,265.7 28.4,265.6 28.5,262.7 28.7,261.8 28.8,266.7 29,263.5 29.1,267 29.2,265.6 29.4,265.8 29.5,264.9 29.7,261.2 29.8,261.9 30,261.1 30.1,255.6 30.3,262.7 30.4,266 30.6,249.2 30.7,262.3 30.9,264.5 31,254.7 31.2,251.2 31.3,248.9 31.5,245.4 31.6,251.5 31.8,247.1 31.9,242.9 32.1,242.9 32.2,243.9 32.4,245.1 32.5,246.3 32.7,247.7 32.8,253.4 33,252.1 33.1,252.8 33.3,247.4 33.4,244.3 33.6,245.7 33.7,247.9 33.8,246 34,255.3 34.1,263.8 34.3,263.6 34.4,261.1 34.6,265.4 34.7,267.3 34.9,267.4 35,267.2 35.2,270.1 35.3,265.4 35.5,273 35.6,274.4 35.8,271.7 35.9,274.4 36.1,271.2 36.2,264.7 36.4,263.8 36.5,268.5 36.7,265.2 36.8,270.5 37,263.8 37.1,259.6 37.3,255.9 37.4,256.2 37.6,258.5 37.7,264.5 37.9,260.7 38,262.3 38.1,259.2 38.3,262.4 38.4,264.8 38.6,259.2 38.7,268.2 38.9,266.9 39,264.2 39.2,261.7 39.3,266.7 39.5,266.3 39.6,270.8 39.8,270.4 39.9,269.7 40.1,272.7 40.2,273.7 40.4,271.6 40.5,273 40.7,272.4 40.8,272.2 41,276 41.1,278.2 41.3,276.3 41.4,274.6 41.6,274.2 41.7,272.8 41.9,273.2 42,275.2 42.2,276.4 42.3,276.7 42.5,274.7 42.6,276.2 42.7,277.3 42.9,279.8 43,275.2 43.2,271.9 43.3,273.4 43.5,271.6 43.6,273.6 43.8,272.9 43.9,270 44.1,270.6 44.2,271.5 44.4,273.9 44.5,272.3 44.7,271 44.8,269.4 45,270.5 45.1,268.8 45.3,267.8 45.4,266.4 45.6,269 45.7,266.6 45.9,267.3 46,268.1 46.2,268.7 46.3,268.2 46.5,268.1 46.6,266.1 46.8,266.6 46.9,264.8 47,263.8 47.2,265.3 47.3,263.8 47.5,267 47.6,267 47.8,265.8 47.9,268.4 48.1,269.5 48.2,264.1 48.4,268.2 48.5,266.7 48.7,264.6 48.8,265.8 49,266.6 49.1,264.1 49.3,267.4 49.4,264.4 49.6,263.6 49.7,263.6 49.9,263.8 50,265 50.2,264 50.3,264.2 50.5,266 50.6,266.8 50.8,268.5 50.9,269.2 51.1,271.7 51.2,270.9 51.4,270 51.5,269.3 51.6,272.1 51.8,271 51.9,272.2 52.1,271.1 52.2,274.1 52.4,271.6 52.5,276.9 52.7,274.3 52.8,278.3 53,280.2 53.1,278.3 53.3,280.2 53.4,277.6 53.6,282.4 53.7,283.2 53.9,283.2 54,283.2 54.2,277.3 54.3,278.5 54.5,278.1 54.6,278 54.8,275.7 54.9,275.3 55.1,273.9 55.2,270.6 55.4,274.6 55.5,271.7 55.7,271.3 55.8,272.3 55.9,273.1 56.1,271.9 56.2,274.4 56.4,273.8 56.5,276 56.7,276.6 56.8,276.8 57,274.8 57.1,275.8 57.3,274.4 57.4,273.9 57.6,274.5 57.7,276.1 57.9,278.9 58,278.3 58.2,276.7 58.3,277.6 58.5,278.2 58.6,278.6 58.8,277.2 58.9,277.7 59.1,274.6 59.2,278.1 59.4,278.3 59.5,280.1 59.7,280.8 59.8,282.3 60,281.9 60.1,283.6 60.2,281.6 60.4,283.6 60.5,281.6 60.7,281.8 60.8,283.8 61,281.2 61.1,280.8 61.3,277.8 61.4,277.6 61.6,278 61.7,277.6 61.9,277.7 62,279.1 62.2,280.9 62.3,281.2 62.5,282.6 62.6,282.7 62.8,283.4 62.9,283.1 63.1,283.4 63.2,281.1 63.4,279.7 63.5,279 63.7,279.8 63.8,277.5 64,275.9 64.1,279.3 64.3,279 64.4,277.7 64.6,279.4 64.7,281.3 64.8,276.4 65,277.3 65.1,272.4 65.3,275.1 65.4,272.9 65.6,272.9 65.7,272.4 65.9,272.5 66,273.2 66.2,273.9 66.3,273.4 66.5,272.7 66.6,272.3 66.8,271.8 66.9,273.4 67.1,271.5 67.2,271.8 67.4,272.6 67.5,273.9 67.7,273.1 67.8,270.6 68,272.8 68.1,272.5 68.3,274.4 68.4,272.7 68.6,274.7 68.7,273.4 68.9,273.1 69,272.2 69.1,272.2 69.3,271.4 69.4,271.6 69.6,271.6 69.7,271.6 69.9,272.9 70,271.6 70.2,272 70.3,272 70.5,272.9 70.6,273.1 70.8,275.6 70.9,275.6 71.1,274.7 71.2,274.4 71.4,276.1 71.5,275.5 71.7,275 71.8,272.8 72,270.6 72.1,270.9 72.3,274.8 72.4,274.8 72.6,277.3 72.7,277.3 72.9,278 73,277.5 73.2,275.6 73.3,276 73.5,277.5 73.6,278 73.7,269.3 73.9,269.5 74,265.6 74.2,268.2 74.3,271.7 74.5,270.6 74.6,269.9 74.8,262.3 74.9,258.9 75.1,263.7 75.2,260.2 75.4,260.8 75.5,256.3 75.7,257.9 75.8,257.4 76,250.9 76.1,254.1 76.3,253.3 76.4,255.6 76.6,255.9 76.7,254.2 76.9,258.3 77,252.8 77.2,250.6 77.3,250.4 77.5,253.3 77.6,255 77.8,255.1 77.9,256.2 78,261.4 78.2,261.5 78.3,258 78.5,257.4 78.6,258.3 78.8,260.2 78.9,264.4 79.1,263.6 79.2,265.8 79.4,263.3 79.5,261.6 79.7,256.8 79.8,256.4 80,256.1 80.1,255.2 80.3,258.4 80.4,261.2 80.6,261 80.7,260.7 80.9,259.8 81,263.4 81.2,262.5 81.3,262.4 81.5,267.4 81.6,268.9 81.8,270.7 81.9,268.9 82.1,270.9 82.2,265.5 82.4,264.5 82.5,260.7 82.6,257.5 82.8,259 82.9,262.7 83.1,258.6 83.2,258 83.4,253.8 83.5,252.4 83.7,253.9 83.8,255.7 84,255 84.1,256.7 84.3,253.2 84.4,251.3 84.6,254.1 84.7,251.3 84.9,251.6 85,252.9 85.2,249.4 85.3,248.4 85.5,246.8 85.6,246.3 85.8,246.3 85.9,246.3 86.1,250 86.2,247.5 86.4,253.2 86.5,253.9 86.7,255.4 86.8,259.5 86.9,260.6 87.1,259.6 87.2,265 87.4,260 87.5,261.6 87.7,264.6 87.8,265.8 88,265.8 88.1,263.5 88.3,265.5 88.4,265.8 88.6,265.8 88.7,263.5 88.9,264.2 89,262.7 89.2,260 89.3,259 89.5,259 89.6,259 89.8,261.1 89.9,266.7 90.1,265 90.2,266.5 90.4,267.3 90.5,268.8 90.7,272.6 90.8,269.6 91,270.5 91.1,276.1 91.3,271.4 91.4,273.7 91.5,276.4 91.7,277.8 91.8,280.4 92,280.9 92.1,281.4 92.3,280.8 92.4,279.7 92.6,278.7 92.7,281 92.9,281.4 93,275.5 93.2,270.2 93.3,269.9 93.5,271.6 93.6,268.1 93.8,277.1 93.9,274.4 94.1,270.2 94.2,269.6 94.4,263.7 94.5,265.1 94.7,265.7 94.8,263.7 95,265.2 95.1,263.8 95.3,265.3 95.4,265.8 95.6,267 95.7,271.8 95.8,268.3 96,265.4 96.1,264.1 96.3,272 96.4,270.1 96.6,271.4 96.7,275.4 96.9,271.8 97,276.1 97.2,277.8 97.3,273.3 97.5,272.8 97.6,274.7 97.8,274.3 97.9,278.1 98.1,278.7 98.2,275.1 98.4,276.6 98.5,276.1 98.7,274.9 98.8,273.6 99,272.4 99.1,271.5 99.3,271.8 99.4,272.1 99.6,275.7 99.7,272.2 99.9,274.4 100,275.6 100.2,276.7 100.3,277.9 100.4,277.9 100.6,275.8 100.7,277.4 100.9,275 101,275.9 101.2,272.5 101.3,271.3 101.5,272.4 101.6,268.9 101.8,273.2 101.9,271.3 102.1,268.9 102.2,268.8 102.4,268.2 102.5,271.1 102.7,271.6 102.8,272.4 103,271.2 103.1,271.7 103.3,269.4 103.4,269.2 103.6,267.8 103.7,265.4 103.9,266.2 104,264.5 104.2,264.5 104.3,264.1 104.5,265.1 104.6,267.6 104.7,266.7 104.9,267.1 105,267.1 105.2,266.3 105.3,266 105.5,268.5 105.6,268.3 105.8,267.4 105.9,267.7 106.1,267.7 106.2,267.7 106.4,267.7 106.5,267.7 106.7,268.3 106.8,268.9 107,268.3 107.1,269 107.3,265.2 107.4,266.3 107.6,267.3 107.7,269.5 107.9,269.5 108,267.6 108.2,269.1 108.3,268.2 108.5,264.2 108.6,264.1 108.8,264.5 108.9,264.5 109.1,264.5 109.2,265.6 109.3,264.5 109.5,264.6 109.6,265.1 109.8,271 109.9,270 110.1,271.5 110.2,270.3 110.4,271.2 110.5,272.8 110.7,274.6 110.8,274.1 111,276.2 111.1,273.6 111.3,272.6 111.4,272.2 111.6,273.9 111.7,273.1 111.9,273.3 112,273.8 112.2,275.3 112.3,274.9 112.5,274.9 112.6,276.8 112.8,279.7 112.9,280.1 113.1,280.4 113.2,277.3 113.4,280.7 113.5,276.9 113.6,277.3 113.8,276.9 113.9,278.4 114.1,277.3 114.2,280.2 114.4,280 114.5,277.6 114.7,281.5 114.8,282.8 115,280.8 115.1,279.5 115.3,279.2 115.4,280.3 115.6,282.6 115.7,282.9 115.9,280.9 116,281.4 116.2,281.3 116.3,280.7 116.5,279.3 116.6,279.7 116.8,278.5 116.9,277.5 117.1,277.7 117.2,280.2 117.4,280.9 117.5,281.8 117.7,282.5 117.8,276.3 118,275.2 118.1,274.9 118.2,270.6 118.4,269.1 118.5,266.1 118.7,268.9 118.8,268.9 119,269.4 119.1,270.7 119.3,271.9 119.4,269.6 119.6,266.5 119.7,267.5 119.9,266.7 120,265.3 120.2,265.6 120.3,265.3 120.5,263.5 120.6,261 120.8,262.7 120.9,263.8 121.1,263.6 121.2,263.4 121.4,262.8 121.5,263.6 121.7,263.3 121.8,263.3 122,263.9 122.1,264.4 122.3,263.8 122.4,264.9 122.5,264.3 122.7,262.1 122.8,263 123,263.7 123.1,262.1 123.3,263.3 123.4,263.4 123.6,262.1 123.7,262.5 123.9,266.9 124,264.1 124.2,263.9 124.3,262.6 124.5,262.5 124.6,262 124.8,263.2 124.9,262 125.1,262 125.2,262 125.4,262 125.5,262.5 125.7,263.5 125.8,265.5 126,270.7 126.1,271.2 126.3,272.7 126.4,275.3 126.6,270.7 126.7,274.1 126.9,269 127,269.2 127.1,268.1 127.3,271.6 127.4,272.7 127.6,272.1 127.7,273.1 127.9,279.5 128,279.6 128.2,276.3 128.3,282.6 128.5,284.3 128.6,284.9 128.8,284.9 128.9,282.5 129.1,282 129.2,284.5 129.4,277.4 129.5,277.9 129.7,283.5 129.8,281.9 130,275.1 130.1,270 130.3,265.1 130.4,272.4 130.6,266.7 130.7,266.2 130.9,264.9 131,266.8 131.2,269 131.3,261.7 131.4,261.3 131.6,258.5 131.7,256.8 131.9,261.1 132,261.8 132.2,259.5 132.3,259.3 132.5,256.8 132.6,258.2 132.8,256.8 132.9,261.8 133.1,263.6 133.2,264.2 133.4,260.5 133.5,264 133.7,268.3 133.8,267.3 134,266.3 134.1,264.8 134.3,267.9 134.4,266.9 134.6,266.8 134.7,271.4 134.9,272.1 135,269.8 135.2,272.4 135.3,275.7 135.5,276.9 135.6,279.1 135.8,278.6 135.9,274.1 136,278 136.2,272.5 136.3,275 136.5,273.1 136.6,274.3 136.8,269.2 136.9,271.7 137.1,268.6 137.2,271.3 137.4,270.6 137.5,269.3 137.7,273.8 137.8,271.2 138,273.9 138.1,272.8 138.3,273.3 138.4,274.7 138.6,272.6 138.7,272.6 138.9,270.9 139,270.9 139.2,267.6 139.3,267.3 139.5,267.3 139.6,267.3 139.8,267.3 139.9,269.1 140.1,267.3 140.2,267.6 140.3,267.3 140.5,272.7 140.6,272.6 140.8,272.8 140.9,272.6 141.1,274.1 141.2,273 141.4,274.4 141.5,276.4 141.7,275.4 141.8,274.8 142,272.6 142.1,272.6 142.3,273.2 142.4,273.4 142.6,275.5 142.7,277.2 142.9,278.7 143,277.5 143.2,279.3 143.3,277.6 143.5,278.2 143.6,279.5 143.8,277.4 143.9,278.1 144.1,277.9 144.2,279.3 144.4,278.6 144.5,279.9 144.6,281.3 144.8,280.8 144.9,280.1 145.1,280.6 145.2,281.6 145.4,281.6 145.5,279.4 145.7,281.1 145.8,281.4 146,280.9 146.1,281.6 146.3,279.2 146.4,278.6 146.6,277.8 146.7,277.9 146.9,278.1 147,278.7 147.2,279.8 147.3,277.9 147.5,275.8 147.6,273.3 147.8,275.1 147.9,274.7 148.1,274.1 148.2,272.3 148.4,271.5 148.5,274.1 148.7,277.8 148.8,277.6 149,275.8 149.1,274.2 149.2,274.5 149.4,275.8 149.5,275.7 149.7,274.8 149.8,272.8 150,271.7 150.1,272.9 150.3,270.7 150.4,270.9 150.6,274.7 150.7,276 150.9,275.1 151,275 151.2,277.1 151.3,275.4 151.5,275.7 151.6,277.7 151.8,276.4 151.9,275.8 152.1,275.9 152.2,276.8 152.4,277.6 152.5,275.6 152.7,276.8 152.8,279 153,280.9 153.1,279.1 153.3,278.3 153.4,277.2 153.5,280.2 153.7,279 153.8,281.6 154,280.2 154.1,277.2 154.3,279.6 154.4,278 154.6,277.6 154.7,277.6 154.9,277.6 155,278.1 155.2,277.6 155.3,277.6 155.5,277.5 155.6,277.3 155.8,279.5 155.9,279.4 156.1,280.5 156.2,281 156.4,280.5 156.5,280.1 156.7,278.8 156.8,278.1 157,277.2 157.1,276.9 157.3,279.8 157.4,279.5 157.6,278.4 157.7,278.5 157.9,277.5 158,280.9 158.1,281.3 158.3,280 158.4,277.1 158.6,279.3 158.7,277.4 158.9,277.5 159,279.6 159.2,283.4 159.3,283.1 159.5,280.2 159.6,281.1 159.8,280.6 159.9,281.9 160.1,282.4 160.2,281.7 160.4,280.7 160.5,281.1 160.7,283.2 160.8,282.7 161,284 161.1,283.5 161.3,283.8 161.4,282.5 161.6,283.6 161.7,280.7 161.9,280.1 162,279.9 162.2,278.5 162.3,278.8 162.4,279.8 162.6,278.7 162.7,279.8 162.9,278.9 163,279.7 163.2,280.2 163.3,279.1 163.5,279.2 163.6,278.2 163.8,278.1 163.9,278.6 164.1,279.1 164.2,278.9 164.4,278.8 164.5,277.6 164.7,277.6 164.8,278.9 165,277.6 165.1,277.6 165.3,277.8 165.4,280.6 165.6,281.1 165.7,279 165.9,279.1 166,280.8 166.2,279.3 166.3,279.7 166.5,275.6 166.6,276 166.8,277.3 166.9,275.5 167,275 167.2,273.9 167.3,274.6 167.5,275.1 167.6,275.6 167.8,274.2 167.9,272.9 168.1,273 168.2,272.5 168.4,271.3 168.5,274.7 168.7,274.5 168.8,273.6 169,273 169.1,270.3 169.3,271.1 169.4,273.2 169.6,274.8 169.7,274 169.9,267.5 170,271.2 170.2,271.4 170.3,269.9 170.5,268.6 170.6,268 170.8,263.7 170.9,266.5 171.1,260.2 171.2,261.2 171.3,260.2 171.5,261 171.6,262.3 171.8,265.3 171.9,267.1 172.1,265.2" stroke="#ffd700" stroke-width="1.15"/>
<polyline points="23.9,213.1 24.1,214 24.2,215.1 24.4,217 24.5,213.6 24.7,215.5 24.8,224.7 24.9,229.5 25.1,226.6 25.2,231.4 25.4,232.1 25.5,237.7 25.7,232.1 25.8,231.1 26,233 26.1,235.7 26.3,237.2 26.4,237.7 26.6,232.4 26.7,235.2 26.9,236.6 27,234.2 27.2,234 27.3,233.6 27.5,235.2 27.6,238.5 27.8,236.5 27.9,234.9 28.1,236.5 28.2,234.6 28.4,233.6 28.5,235 28.7,233.6 28.8,235.9 29,235.2 29.1,239.9 29.2,237.7 29.4,242.9 29.5,235.8 29.7,232.2 29.8,234.1 30,231.7 30.1,225.8 30.3,230.8 30.4,236.2 30.6,224 30.7,224.1 30.9,209.7 31,208.4 31.2,221.7 31.3,221.1 31.5,220.5 31.6,216.1 31.8,215.4 31.9,212.3 32.1,208.4 32.2,210 32.4,210.9 32.5,218.1 32.7,216.7 32.8,221.3 33,222.9 33.1,221.5 33.3,219.1 33.4,222.2 33.6,222.2 33.7,223.3 33.8,218.9 34,224.4 34.1,222.8 34.3,221.1 34.4,219.9 34.6,220.3 34.7,221.2 34.9,227.1 35,223.4 35.2,217.5 35.3,222.8 35.5,223.7 35.6,220.7 35.8,216.3 35.9,215.4 36.1,213 36.2,212.2 36.4,217 36.5,216.6 36.7,212.2 36.8,213.5 37,215.5 37.1,213.8 37.3,216.8 37.4,215.5 37.6,214.3 37.7,215.4 37.9,217.9 38,215.7 38.1,215.3 38.3,215.2 38.4,212.9 38.6,215.9 38.7,214.4 38.9,216.8 39,216 39.2,216.6 39.3,219.3 39.5,217.7 39.6,231.2 39.8,237.3 39.9,235.1 40.1,223.8 40.2,219.5 40.4,223.7 40.5,231.1 40.7,230.9 40.8,245 41,243.9 41.1,226.4 41.3,244.2 41.4,255.1 41.6,235 41.7,250.9 41.9,255.2 42,265.3 42.2,253.1 42.3,255.3 42.5,263.8 42.6,275.6 42.7,267.6 42.9,252.9 43,271 43.2,270.7 43.3,264.4 43.5,267.4 43.6,268.6 43.8,272.1 43.9,271 44.1,265.3 44.2,268 44.4,264.2 44.5,266.4 44.7,265.2 44.8,266 45,263.6 45.1,258.5 45.3,266.1 45.4,259.2 45.6,263.5 45.7,255.9 45.9,253.4 46,253.5 46.2,258.9 46.3,257.8 46.5,257.1 46.6,258.2 46.8,256.9 46.9,258.4 47,254.4 47.2,258.6 47.3,256.7 47.5,253 47.6,253 47.8,253.4 47.9,249.2 48.1,245.9 48.2,248.2 48.4,245 48.5,245 48.7,245 48.8,245 49,245 49.1,246.9 49.3,246.3 49.4,247.5 49.6,247.4 49.7,247.5 49.9,248.6 50,248.2 50.2,248.1 50.3,248.6 50.5,246.2 50.6,247.7 50.8,247.1 50.9,247.5 51.1,247.3 51.2,248.3 51.4,249.8 51.5,248.7 51.6,249.8 51.8,249.8 51.9,249.3 52.1,248.5 52.2,248.3 52.4,248.4 52.5,245.6 52.7,245.5 52.8,245.3 53,245.5 53.1,245.1 53.3,244.7 53.4,244.6 53.6,245.2 53.7,244.2 53.9,244 54,243.9 54.2,243.7 54.3,243.5 54.5,243.4 54.6,244 54.8,243.7 54.9,246 55.1,245.6 55.2,242.5 55.4,246 55.5,244.2 55.7,245.8 55.8,247.5 55.9,245.2 56.1,244.8 56.2,244.4 56.4,242.4 56.5,242.4 56.7,245.6 56.8,242.4 57,248.6 57.1,248.9 57.3,248.9 57.4,250 57.6,248.2 57.7,253.3 57.9,255.4 58,249.7 58.2,249.7 58.3,246.6 58.5,257.6 58.6,260.5 58.8,256.4 58.9,255.9 59.1,258.8 59.2,261 59.4,263.8 59.5,257 59.7,259.4 59.8,258.9 60,262.3 60.1,262.3 60.2,268.9 60.4,262.7 60.5,264.7 60.7,267.2 60.8,270.7 61,270.3 61.1,269 61.3,275.6 61.4,274.4 61.6,275.6 61.7,277.9 61.9,274.7 62,273.4 62.2,271.9 62.3,273.2 62.5,276 62.6,272.2 62.8,268.6 62.9,271.8 63.1,277.7 63.2,273.1 63.4,268.9 63.5,272.5 63.7,271.3 63.8,273.7 64,269.9 64.1,267.9 64.3,265.9 64.4,267.8 64.6,266.7 64.7,267.4 64.8,267.7 65,269.3 65.1,264 65.3,260.5 65.4,261.5 65.6,265.6 65.7,261.6 65.9,261.8 66,259.2 66.2,257.5 66.3,261.6 66.5,261.9 66.6,259.5 66.8,259.1 66.9,257.2 67.1,261.8 67.2,264.2 67.4,262.5 67.5,261.8 67.7,259 67.8,260.6 68,261.5 68.1,258.6 68.3,257.9 68.4,253.4 68.6,256.4 68.7,254.8 68.9,253.6 69,251.8 69.1,252.1 69.3,254.3 69.4,252 69.6,250.8 69.7,250.8 69.9,252 70,250.1 70.2,248.8 70.3,250.6 70.5,248.9 70.6,248.1 70.8,249 70.9,249.9 71.1,252.3 71.2,250.9 71.4,249.1 71.5,247.2 71.7,246.7 71.8,249.7 72,250.3 72.1,246.7 72.3,245.3 72.4,246.7 72.6,248.9 72.7,247.5 72.9,243.9 73,243.2 73.2,245.8 73.3,244 73.5,244.2 73.6,245 73.7,243.1 73.9,239.9 74,237.4 74.2,234.6 74.3,236.5 74.5,238.7 74.6,239.2 74.8,239.4 74.9,240.1 75.1,241.6 75.2,241.5 75.4,240.4 75.5,229.1 75.7,239.3 75.8,232.3 76,226.9 76.1,233.7 76.3,221.1 76.4,214.6 76.6,212.1 76.7,220.1 76.9,210.6 77,210.6 77.2,210.6 77.3,210.6 77.5,216.8 77.6,215 77.8,217.5 77.9,214.4 78,219.2 78.2,210.6 78.3,218.2 78.5,216.8 78.6,219.8 78.8,217.3 78.9,226.5 79.1,227.5 79.2,230.6 79.4,227.8 79.5,229.5 79.7,227.2 79.8,230.6 80,230.1 80.1,230.6 80.3,230.6 80.4,230.6 80.6,225.9 80.7,224 80.9,223.8 81,221.8 81.2,223.3 81.3,224.1 81.5,222.2 81.6,227.1 81.8,222.8 81.9,221.3 82.1,219.8 82.2,224.6 82.4,219.4 82.5,219.1 82.6,224.4 82.8,228.5 82.9,229.5 83.1,230.2 83.2,229.6 83.4,235.8 83.5,235.8 83.7,235.8 83.8,235.8 84,234.6 84.1,230.8 84.3,231.5 84.4,235.8 84.6,228.7 84.7,235.8 84.9,232.8 85,235 85.2,222.8 85.3,215.1 85.5,216.1 85.6,210 85.8,207.1 85.9,197 86.1,197.9 86.2,196.5 86.4,200.9 86.5,209.5 86.7,213 86.8,236.4 86.9,230.3 87.1,217.8 87.2,224.5 87.4,237.6 87.5,225.1 87.7,237.6 87.8,230.9 88,229.8 88.1,233.3 88.3,235.7 88.4,236.2 88.6,237.6 88.7,237.6 88.9,236.5 89,235.4 89.2,235.9 89.3,236.3 89.5,235.5 89.6,234 89.8,235.1 89.9,235.7 90.1,235 90.2,236.5 90.4,234.8 90.5,237.3 90.7,238.2 90.8,242.7 91,242 91.1,242.3 91.3,240.2 91.4,239.5 91.5,236.6 91.7,239 91.8,239.9 92,241.6 92.1,242.7 92.3,241.6 92.4,240.5 92.6,242.3 92.7,244.3 92.9,245.3 93,244.6 93.2,247.9 93.3,251.2 93.5,240.8 93.6,241.1 93.8,254.9 93.9,245.2 94.1,259.6 94.2,253.4 94.4,257.9 94.5,265.4 94.7,269.1 94.8,266 95,271.1 95.1,274.3 95.3,268.2 95.4,266.2 95.6,264.7 95.7,259.6 95.8,270.6 96,261.7 96.1,257.3 96.3,259.9 96.4,251.1 96.6,255.1 96.7,254.7 96.9,251.6 97,255.1 97.2,260.6 97.3,259.7 97.5,261.4 97.6,262.8 97.8,265.4 97.9,262 98.1,265.4 98.2,265.4 98.4,251.3 98.5,257 98.7,242.5 98.8,241.8 99,251 99.1,241.3 99.3,244.5 99.4,240.1 99.6,239.8 99.7,246.4 99.9,243 100,246 100.2,251.2 100.3,252.7 100.4,251.5 100.6,250 100.7,256 100.9,251 101,248.1 101.2,254.7 101.3,252.4 101.5,254.7 101.6,253.7 101.8,257.1 101.9,254 102.1,257.2 102.2,258.3 102.4,255.7 102.5,257.1 102.7,253.1 102.8,255.6 103,254.2 103.1,259 103.3,254.6 103.4,250.9 103.6,249.2 103.7,249.8 103.9,248.6 104,251.6 104.2,249.6 104.3,243.1 104.5,241.9 104.6,241.9 104.7,246 104.9,247.7 105,247.4 105.2,247.3 105.3,250.2 105.5,251.3 105.6,248.4 105.8,248.6 105.9,248.4 106.1,243.7 106.2,247.7 106.4,249.1 106.5,250.4 106.7,251.3 106.8,245.3 107,249.2 107.1,246.1 107.3,244.4 107.4,240.4 107.6,245.1 107.7,246.2 107.9,239.2 108,242.6 108.2,243.8 108.3,239 108.5,238.5 108.6,236.9 108.8,236.9 108.9,235.3 109.1,237 109.2,235.3 109.3,235.9 109.5,236.4 109.6,234.4 109.8,234 109.9,236.1 110.1,233.3 110.2,233 110.4,243.6 110.5,246.7 110.7,245.8 110.8,240.9 111,256.2 111.1,246.3 111.3,245.4 111.4,251 111.6,249 111.7,258.8 111.9,266.7 112,265.7 112.2,272.6 112.3,273.2 112.5,271.6 112.6,271.9 112.8,267.5 112.9,269.7 113.1,262.6 113.2,269.6 113.4,270.2 113.5,273.4 113.6,270.3 113.8,276.2 113.9,276.5 114.1,276.7 114.2,273 114.4,272.7 114.5,275.3 114.7,275.3 114.8,275.8 115,274.4 115.1,275.1 115.3,274.4 115.4,273.2 115.6,277.7 115.7,276.8 115.9,274.5 116,274.7 116.2,275.5 116.3,274.6 116.5,277.9 116.6,277.5 116.8,280.3 116.9,281.5 117.1,281.5 117.2,278.2 117.4,281.5 117.5,278.6 117.7,274.5 117.8,273.8 118,259.4 118.1,256.4 118.2,262.8 118.4,244.1 118.5,262.7 118.7,239.9 118.8,261.1 119,246 119.1,238.1 119.3,242.8 119.4,243.3 119.6,225.4 119.7,240.6 119.9,224.3 120,228.3 120.2,227.7 120.3,226.1 120.5,226.2 120.6,226.1 120.8,233.1 120.9,230.6 121.1,229.6 121.2,231 121.4,231.8 121.5,237.6 121.7,236.1 121.8,237.6 122,239.5 122.1,237.9 122.3,232.6 122.4,234.3 122.5,238 122.7,236.1 122.8,232.5 123,230 123.1,227.9 123.3,230.4 123.4,229.8 123.6,234.9 123.7,238.9 123.9,238.9 124,229 124.2,230 124.3,232.1 124.5,234 124.6,227.2 124.8,231.3 124.9,224.9 125.1,223.6 125.2,226 125.4,228.2 125.5,227.7 125.7,226.3 125.8,225.7 126,226.6 126.1,230.8 126.3,236.3 126.4,227.6 126.6,224.8 126.7,226.3 126.9,226.3 127,228 127.1,224.2 127.3,230.2 127.4,228.5 127.6,244.8 127.7,243.6 127.9,234 128,236.9 128.2,233.9 128.3,236.3 128.5,243.9 128.6,242.6 128.8,239.7 128.9,258.6 129.1,277.3 129.2,277.3 129.4,277.3 129.5,262.3 129.7,277.3 129.8,258.2 130,256.9 130.1,242.7 130.3,241.1 130.4,229 130.6,233 130.7,235.3 130.9,239.5 131,226.9 131.2,226.1 131.3,221.5 131.4,220 131.6,220 131.7,220 131.9,220 132,220.7 132.2,222.8 132.3,224.4 132.5,229 132.6,223.8 132.8,224.9 132.9,226.7 133.1,220.6 133.2,225 133.4,229 133.5,224.9 133.7,230.2 133.8,228 134,231.1 134.1,226.1 134.3,225.4 134.4,233.4 134.6,239.2 134.7,238.7 134.9,244.5 135,248.9 135.2,243.4 135.3,246.4 135.5,245.2 135.6,246.6 135.8,249.8 135.9,248.1 136,248.3 136.2,245.9 136.3,248.2 136.5,245 136.6,247.1 136.8,248.7 136.9,249 137.1,246.1 137.2,247.2 137.4,247.6 137.5,242.8 137.7,242 137.8,243.9 138,246 138.1,245.6 138.3,247.5 138.4,244.6 138.6,240.2 138.7,242.4 138.9,240.6 139,242.2 139.2,239.9 139.3,239.1 139.5,241 139.6,241.1 139.8,244 139.9,242.5 140.1,239.2 140.2,263.6 140.3,243.7 140.5,243.5 140.6,241 140.8,247.6 140.9,250 141.1,263.6 141.2,258.4 141.4,260.5 141.5,264.3 141.7,262 141.8,261.4 142,262.5 142.1,264.3 142.3,264.3 142.4,262.4 142.6,264.3 142.7,263.4 142.9,261.9 143,261.9 143.2,261.9 143.3,261.9 143.5,261.9 143.6,261.9 143.8,262.3 143.9,263.5 144.1,261.9 144.2,262.2 144.4,261.9 144.5,263.6 144.6,264.1 144.8,264.3 144.9,264.3 145.1,264 145.2,262.6 145.4,261.6 145.5,262.3 145.7,262.4 145.8,262.6 146,260.8 146.1,264 146.3,264.3 146.4,264.3 146.6,262.1 146.7,260.8 146.9,261.4 147,262.2 147.2,262.2 147.3,264.3 147.5,260.6 147.6,260.7 147.8,261.8 147.9,262 148.1,259.4 148.2,263.1 148.4,259.6 148.5,257.3 148.7,258.5 148.8,258.1 149,259.4 149.1,259.6 149.2,258.3 149.4,256 149.5,255.8 149.7,257.5 149.8,257.7 150,253.3 150.1,256 150.3,253.9 150.4,256.4 150.6,254 150.7,255.3 150.9,256.8 151,255.4 151.2,252.1 151.3,255 151.5,255.7 151.6,254.1 151.8,251.8 151.9,255.5 152.1,254 152.2,253.6 152.4,255.3 152.5,254.7 152.7,254.9 152.8,255.4 153,257.7 153.1,256.8 153.3,258.6 153.4,259.7 153.5,261.7 153.7,261.9 153.8,261.6 154,262.9 154.1,263.6 154.3,264.1 154.4,264.3 154.6,264.8 154.7,266.8 154.9,270.1 155,267.3 155.2,264.7 155.3,265.8 155.5,267.3 155.6,267.2 155.8,266 155.9,269.6 156.1,268.9 156.2,268.9 156.4,268.8 156.5,271 156.7,272.4 156.8,270.9 157,268.9 157.1,273 157.3,273.3 157.4,273.1 157.6,273.6 157.7,274.3 157.9,273.6 158,274.2 158.1,270.7 158.3,274.7 158.4,274.8 158.6,274.5 158.7,273.2 158.9,273.7 159,273.5 159.2,274.1 159.3,275.4 159.5,274.4 159.6,275.1 159.8,274.9 159.9,275.8 160.1,275.3 160.2,274.5 160.4,274.7 160.5,275 160.7,275 160.8,275.3 161,274.6 161.1,275.4 161.3,276.2 161.4,272.3 161.6,271.2 161.7,275.7 161.9,276.4 162,276.4 162.2,276.4 162.3,276.4 162.4,270.6 162.6,272.2 162.7,271.1 162.9,273.8 163,274.3 163.2,273.6 163.3,271.5 163.5,268.1 163.6,267.2 163.8,268.3 163.9,262.6 164.1,264.7 164.2,263.6 164.4,263 164.5,265.7 164.7,260 164.8,258.5 165,257.7 165.1,259.3 165.3,262.2 165.4,261.1 165.6,262.1 165.7,262.6 165.9,263.7 166,263 166.2,258.2 166.3,251.1 166.5,259 166.6,252.9 166.8,251.6 166.9,254.2 167,253 167.2,249.5 167.3,246.5 167.5,250.3 167.6,247.8 167.8,246.2 167.9,245.1 168.1,244.2 168.2,244.2 168.4,244.8 168.5,245.4 168.7,244.2 168.8,244.2 169,245.1 169.1,246.1 169.3,244.2 169.4,247.1 169.6,244.5 169.7,244.9 169.9,243.9 170,247.3 170.2,243.2 170.3,246.8 170.5,248.8 170.6,249 170.8,249.1 170.9,248.7 171.1,247.3 171.2,246 171.3,245.4 171.5,248.2 171.6,244.4 171.8,245.4 171.9,248.1 172.1,248" stroke="#9acd32" stroke-width="1.15"/>
<polyline points="23.9,237.7 24.1,236.7 24.2,237.3 24.4,238.6 24.5,240.9 24.7,238.6 24.8,239.9 24.9,244.3 25.1,245.2 25.2,243.8 25.4,243.1 25.5,242.3 25.7,241.9 25.8,244.4 26,248 26.1,249.6 26.3,248.5 26.4,245.9 26.6,247.1 26.7,242 26.9,236.8 27,236.8 27.2,237.6 27.3,232.3 27.5,234.2 27.6,231.7 27.8,231.8 27.9,230.9 28.1,230.9 28.2,234.8 28.4,238.5 28.5,243.6 28.7,243.1 28.8,244.5 29,245.7 29.1,247.4 29.2,247 29.4,247.6 29.5,249.5 29.7,249.7 29.8,247.1 30,244.8 30.1,246.2 30.3,240 30.4,239.2 30.6,238 30.7,239.7 30.9,229.8 31,227.5 31.2,226.5 31.3,231.4 31.5,231.1 31.6,231.9 31.8,230.8 31.9,229.7 32.1,227 32.2,225.9 32.4,227.1 32.5,225.9 32.7,225.9 32.8,225.9 33,225.9 33.1,226.5 33.3,227.8 33.4,230 33.6,232 33.7,233.3 33.8,236.5 34,235.6 34.1,229.8 34.3,235.9 34.4,236.6 34.6,238.4 34.7,240.3 34.9,239.3 35,238.9 35.2,238.3 35.3,239.4 35.5,236.8 35.6,234.6 35.8,240.9 35.9,236 36.1,239.2 36.2,237.2 36.4,236.4 36.5,231 36.7,245 36.8,243.1 37,241.8 37.1,240.4 37.3,236.6 37.4,255.4 37.6,254.8 37.7,256.3 37.9,255.5 38,250.7 38.1,245.7 38.3,240.4 38.4,246 38.6,250.7 38.7,257.8 38.9,253.4 39,247.3 39.2,245.2 39.3,249.3 39.5,252 39.6,251.1 39.8,257.9 39.9,256.9 40.1,262.2 40.2,259 40.4,258.6 40.5,258.5 40.7,261.4 40.8,259.2 41,261 41.1,261.6 41.3,259.7 41.4,259 41.6,258.7 41.7,259.3 41.9,259.9 42,259.6 42.2,260.1 42.3,262.7 42.5,257.6 42.6,264.3 42.7,264.7 42.9,269.1 43,267 43.2,269.2 43.3,269.1 43.5,271.2 43.6,267.3 43.8,266.4 43.9,266.4 44.1,266.6 44.2,267.8 44.4,268 44.5,265.3 44.7,265.6 44.8,266.3 45,267 45.1,265.7 45.3,267.3 45.4,269 45.6,264.4 45.7,263.6 45.9,261.1 46,259.6 46.2,259.1 46.3,256.4 46.5,257.9 46.6,252.2 46.8,251.9 46.9,250.4 47,248.7 47.2,253.6 47.3,251.9 47.5,251.2 47.6,249.5 47.8,247.6 47.9,248.3 48.1,250.8 48.2,252 48.4,251 48.5,252.7 48.7,251.6 48.8,250.6 49,248.7 49.1,248.8 49.3,249.4 49.4,249.3 49.6,254.8 49.7,254.8 49.9,255 50,254.7 50.2,251.3 50.3,247 50.5,250 50.6,253.5 50.8,251 50.9,254.3 51.1,255.2 51.2,253.8 51.4,258.9 51.5,258.4 51.6,259.8 51.8,260.4 51.9,263.2 52.1,263.1 52.2,263.1 52.4,262.4 52.5,261.5 52.7,261.5 52.8,260.3 53,262.4 53.1,259.4 53.3,263.9 53.4,262.3 53.6,265.4 53.7,265.6 53.9,264.8 54,264.6 54.2,267.3 54.3,268.2 54.5,271.5 54.6,271.9 54.8,272.9 54.9,272.9 55.1,270.3 55.2,266.8 55.4,261 55.5,260.6 55.7,263.4 55.8,259.1 55.9,259.4 56.1,261.3 56.2,259.3 56.4,261.1 56.5,257.3 56.7,259.9 56.8,259.2 57,258.1 57.1,257 57.3,257.2 57.4,258.6 57.6,257.8 57.7,258.9 57.9,259.2 58,259.3 58.2,257.2 58.3,261.2 58.5,262 58.6,265.3 58.8,263 58.9,264.8 59.1,264.8 59.2,262.5 59.4,267.7 59.5,269.2 59.7,269.8 59.8,271 60,272.6 60.1,273.7 60.2,272.7 60.4,272.1 60.5,272.2 60.7,273.1 60.8,274.6 61,275.6 61.1,274.6 61.3,272.8 61.4,273.2 61.6,274.1 61.7,273.8 61.9,273.2 62,272.3 62.2,272.5 62.3,272.5 62.5,272.9 62.6,273.4 62.8,272.9 62.9,274 63.1,273.2 63.2,273.7 63.4,273.5 63.5,273.5 63.7,272.2 63.8,273.4 64,272.2 64.1,271.3 64.3,271.3 64.4,271.8 64.6,271.2 64.7,272.1 64.8,270.5 65,271.1 65.1,270.4 65.3,271 65.4,269.9 65.6,271.3 65.7,269.8 65.9,270 66,271.4 66.2,271.7 66.3,269.9 66.5,270.7 66.6,267.7 66.8,269.3 66.9,269 67.1,268.5 67.2,267.4 67.4,268.4 67.5,268.3 67.7,267.6 67.8,266.6 68,264.6 68.1,266.1 68.3,264.8 68.4,265 68.6,264.6 68.7,264.3 68.9,261.3 69,261.2 69.1,260.1 69.3,260.3 69.4,260.1 69.6,260.1 69.7,260.1 69.9,260.1 70,260.1 70.2,260.1 70.3,260.1 70.5,260.1 70.6,260.1 70.8,260.1 70.9,260.1 71.1,261.3 71.2,263.9 71.4,263.8 71.5,263.1 71.7,262 71.8,262.4 72,263.4 72.1,263.5 72.3,262.8 72.4,262.8 72.6,262.5 72.7,261.8 72.9,262.9 73,267.2 73.2,267 73.3,268.2 73.5,269.1 73.6,269.1 73.7,267.8 73.9,263.9 74,258.9 74.2,256.7 74.3,261.4 74.5,260 74.6,256.2 74.8,257.3 74.9,254.6 75.1,253.4 75.2,253.4 75.4,248.3 75.5,240.9 75.7,236.4 75.8,235.6 76,237.7 76.1,236.7 76.3,240.4 76.4,240.8 76.6,239.2 76.7,239.4 76.9,238.9 77,238.7 77.2,238.8 77.3,236.6 77.5,235.1 77.6,235.9 77.8,235.5 77.9,235.2 78,233.3 78.2,234.7 78.3,232.6 78.5,235 78.6,237.2 78.8,239.1 78.9,238.7 79.1,237.7 79.2,241 79.4,240.9 79.5,246.1 79.7,243.9 79.8,246.8 80,247.9 80.1,246.1 80.3,240.2 80.4,241.6 80.6,241.7 80.7,236.8 80.9,240.2 81,241.2 81.2,240.3 81.3,236 81.5,232.1 81.6,230.2 81.8,230.2 81.9,230.5 82.1,232 82.2,232.7 82.4,232.6 82.5,230.2 82.6,231.8 82.8,238.8 82.9,236.6 83.1,235.9 83.2,242.4 83.4,244 83.5,246 83.7,244.4 83.8,243.7 84,242.9 84.1,244.2 84.3,246.1 84.4,241.9 84.6,235 84.7,235.5 84.9,232.8 85,225.3 85.2,224 85.3,223.4 85.5,220.4 85.6,218.5 85.8,222.9 85.9,223.9 86.1,215.7 86.2,224.6 86.4,224.1 86.5,225.5 86.7,225.6 86.8,228.9 86.9,231.9 87.1,247.4 87.2,248.4 87.4,242.6 87.5,244.7 87.7,245.1 87.8,248.4 88,248.4 88.1,248.4 88.3,248.4 88.4,248.4 88.6,247.7 88.7,248.4 88.9,248.3 89,246.2 89.2,245.8 89.3,246 89.5,243.2 89.6,246 89.8,247 89.9,249.9 90.1,247.9 90.2,252.1 90.4,249.9 90.5,247 90.7,249.7 90.8,253.6 91,252.3 91.1,251.3 91.3,248.3 91.4,249.1 91.5,251 91.7,250.6 91.8,253.6 92,256.3 92.1,255.8 92.3,254.6 92.4,252.8 92.6,252.8 92.7,250.6 92.9,249.5 93,245.9 93.2,251.5 93.3,256.2 93.5,256.5 93.6,256.1 93.8,256.5 93.9,252.4 94.1,260.8 94.2,258.6 94.4,264.1 94.5,263.5 94.7,251.4 94.8,251.4 95,253.9 95.1,257.2 95.3,254 95.4,258.9 95.6,268 95.7,270 95.8,257 96,251.5 96.1,249.1 96.3,249.9 96.4,253.6 96.6,267.2 96.7,262.5 96.9,260.8 97,259.1 97.2,259.6 97.3,264.3 97.5,263.2 97.6,265.1 97.8,265.4 97.9,259.5 98.1,260.1 98.2,256.6 98.4,255 98.5,253 98.7,255.2 98.8,249.1 99,251 99.1,246.5 99.3,249.1 99.4,250.9 99.6,250.8 99.7,252.5 99.9,257.9 100,257.4 100.2,258.6 100.3,258.2 100.4,260.3 100.6,259.3 100.7,258.1 100.9,258 101,255.9 101.2,253.3 101.3,255.1 101.5,252.1 101.6,252.9 101.8,251.6 101.9,251.9 102.1,251.8 102.2,253.7 102.4,254.5 102.5,256.5 102.7,256.1 102.8,258 103,258.6 103.1,257.7 103.3,256.9 103.4,259 103.6,258.4 103.7,257.3 103.9,251.5 104,251.5 104.2,253 104.3,250 104.5,246.7 104.6,250.1 104.7,251.9 104.9,250.5 105,248 105.2,246.9 105.3,246.3 105.5,247.4 105.6,246.5 105.8,245.6 105.9,246.1 106.1,245.6 106.2,246.1 106.4,246.1 106.5,245 106.7,245 106.8,244.7 107,244.5 107.1,244.3 107.3,245.2 107.4,244.5 107.6,244.1 107.7,244.3 107.9,244.1 108,244.6 108.2,244.1 108.3,244.1 108.5,244.1 108.6,244.1 108.8,244.1 108.9,244.3 109.1,244.1 109.2,244.8 109.3,245.1 109.5,245.1 109.6,248.7 109.8,249.7 109.9,250.6 110.1,251.6 110.2,253.4 110.4,254.1 110.5,256 110.7,257.2 110.8,256.9 111,258.2 111.1,255 111.3,256.9 111.4,258 111.6,261.2 111.7,258 111.9,262 112,263.8 112.2,263.2 112.3,262.2 112.5,260.6 112.6,261.7 112.8,261.8 112.9,262.3 113.1,261.4 113.2,265.6 113.4,268.8 113.5,269.5 113.6,268.6 113.8,271.6 113.9,270.9 114.1,271.9 114.2,272.8 114.4,271.6 114.5,273 114.7,273 114.8,273 115,273 115.1,273 115.3,272.1 115.4,272 115.6,271.5 115.7,270.7 115.9,270.6 116,270.9 116.2,269.8 116.3,269.7 116.5,268.2 116.6,269.4 116.8,268.5 116.9,270.4 117.1,270.2 117.2,271.8 117.4,272.3 117.5,272.7 117.7,275 117.8,275 118,273.7 118.1,275 118.2,267.8 118.4,266.7 118.5,263.2 118.7,261.9 118.8,267.7 119,262 119.1,258.8 119.3,257.5 119.4,252.6 119.6,244.7 119.7,249.8 119.9,251.3 120,255.4 120.2,251.2 120.3,249 120.5,247.7 120.6,246.5 120.8,244.2 120.9,247 121.1,247.3 121.2,244.6 121.4,244.1 121.5,243.6 121.7,245.4 121.8,245.9 122,244.4 122.1,244.6 122.3,245.7 122.4,242.8 122.5,243.3 122.7,245 122.8,244.2 123,243.2 123.1,244.3 123.3,242.8 123.4,243.5 123.6,242.8 123.7,244.3 123.9,245.3 124,246.1 124.2,246.2 124.3,244.4 124.5,242.8 124.6,243 124.8,242.9 124.9,242.5 125.1,242.6 125.2,242.1 125.4,244.2 125.5,245.2 125.7,243.7 125.8,245.4 126,245 126.1,244.3 126.3,243.9 126.4,243.3 126.6,242 126.7,241.5 126.9,241.5 127,243.7 127.1,246.1 127.3,248.7 127.4,246.3 127.6,250.2 127.7,241.8 127.9,246 128,246.4 128.2,251.3 128.3,256.3 128.5,257.1 128.6,256.1 128.8,261.6 128.9,261.7 129.1,260.9 129.2,266.5 129.4,267.1 129.5,269 129.7,270.1 129.8,265.5 130,270.4 130.1,266.3 130.3,257.9 130.4,261.4 130.6,253.7 130.7,248.6 130.9,255.7 131,251.7 131.2,253.3 131.3,246.3 131.4,240.8 131.6,246.7 131.7,241.6 131.9,242.9 132,239.7 132.2,242.1 132.3,239.9 132.5,238.9 132.6,238.9 132.8,238.9 132.9,239.2 133.1,239.2 133.2,245.3 133.4,244.1 133.5,246.2 133.7,243 133.8,247.2 134,253 134.1,246.2 134.3,250.1 134.4,254 134.6,253.8 134.7,253.7 134.9,253.4 135,251.7 135.2,254.4 135.3,252.5 135.5,254.3 135.6,253.7 135.8,251.3 135.9,254.2 136,255 136.2,256 136.3,254.7 136.5,254.2 136.6,254.3 136.8,254.5 136.9,252.9 137.1,250.2 137.2,251.6 137.4,250.2 137.5,250.1 137.7,249.6 137.8,250.7 138,253.2 138.1,252.1 138.3,253.5 138.4,252.2 138.6,254.4 138.7,247.1 138.9,247.3 139,245.6 139.2,245.6 139.3,251.8 139.5,257.4 139.6,259.1 139.8,261.3 139.9,254.6 140.1,257.7 140.2,259.1 140.3,262.2 140.5,264.8 140.6,261.6 140.8,263.3 140.9,262.8 141.1,263.4 141.2,264.8 141.4,263.9 141.5,267 141.7,265.6 141.8,264.1 142,262.4 142.1,264.3 142.3,263.4 142.4,262.4 142.6,261.9 142.7,261.7 142.9,261.2 143,264 143.2,262.4 143.3,262.6 143.5,265.5 143.6,264.4 143.8,261.3 143.9,265.8 144.1,267.3 144.2,266.6 144.4,267.1 144.5,267.1 144.6,266.3 144.8,269.3 144.9,268.2 145.1,267.4 145.2,267 145.4,267.3 145.5,264.7 145.7,266.9 145.8,263.8 146,265.3 146.1,264.9 146.3,263.6 146.4,262.3 146.6,260.5 146.7,260.6 146.9,260.6 147,263 147.2,263.5 147.3,262.6 147.5,262.5 147.6,262.5 147.8,262 147.9,262.5 148.1,261.1 148.2,257 148.4,252.6 148.5,254.9 148.7,253.2 148.8,254 149,252 149.1,253.4 149.2,253.5 149.4,252.5 149.5,252.2 149.7,251.9 149.8,250 150,250.2 150.1,252.1 150.3,252.8 150.4,252.5 150.6,254.2 150.7,251.8 150.9,254.9 151,257.4 151.2,258.1 151.3,259.4 151.5,259.4 151.6,262.2 151.8,262.8 151.9,262.6 152.1,259.3 152.2,263.3 152.4,262.2 152.5,262.5 152.7,263.8 152.8,265.5 153,265.7 153.1,264.7 153.3,267 153.4,264.6 153.5,266 153.7,267.5 153.8,267.3 154,267.6 154.1,271.1 154.3,270.1 154.4,270.3 154.6,267.5 154.7,266.4 154.9,268.5 155,270.6 155.2,269 155.3,269.8 155.5,270.2 155.6,271.9 155.8,269.1 155.9,267.3 156.1,268.8 156.2,269 156.4,269.6 156.5,270.1 156.7,270.4 156.8,272.8 157,272.8 157.1,272.8 157.3,272.8 157.4,272.8 157.6,272.8 157.7,270.4 157.9,271.7 158,271.5 158.1,270.2 158.3,268.7 158.4,267.9 158.6,268.9 158.7,269.3 158.9,270.1 159,268.3 159.2,267.8 159.3,267.1 159.5,267.2 159.6,269.4 159.8,270.4 159.9,272.2 160.1,271.6 160.2,272.9 160.4,272.1 160.5,273.9 160.7,271.6 160.8,272.3 161,271.7 161.1,272.8 161.3,272.9 161.4,271.6 161.6,272.2 161.7,271.6 161.9,270.7 162,271.1 162.2,271.9 162.3,270.6 162.4,271 162.6,271.9 162.7,273.9 162.9,274.1 163,272.6 163.2,273.7 163.3,274.5 163.5,273.4 163.6,270 163.8,268.8 163.9,267.9 164.1,266.1 164.2,267.1 164.4,267.4 164.5,266.7 164.7,268.6 164.8,269.5 165,269.3 165.1,269.9 165.3,269.9 165.4,272 165.6,273 165.7,271.8 165.9,270.1 166,269.5 166.2,271.3 166.3,272.1 166.5,272.7 166.6,271.7 166.8,269.4 166.9,267.5 167,267.2 167.2,267 167.3,267.4 167.5,262.2 167.6,260.1 167.8,261.5 167.9,261.9 168.1,261.1 168.2,260.3 168.4,257.1 168.5,257.7 168.7,253.6 168.8,252.6 169,251 169.1,254 169.3,251.6 169.4,256.6 169.6,252 169.7,255.2 169.9,255 170,253 170.2,250.5 170.3,248.9 170.5,246.5 170.6,245.7 170.8,245 170.9,243.7 171.1,244 171.2,246.3 171.3,246.9 171.5,247 171.6,246.6 171.8,246.7 171.9,246.1 172.1,245.5" stroke="#000080" stroke-width="1.25"/>
</g>
<rect x="16.5" y="186.9" width="163" height="102.4" fill="none" stroke="#757575" stroke-width="1"/>
<text class="tk" transform="translate(14.5,287.8) scale(0.905,1)" text-anchor="end">0</text>
<text class="tk" transform="translate(14.5,268.6) scale(0.905,1)" text-anchor="end">5</text>
<text class="tk" transform="translate(14.5,249.3) scale(0.905,1)" text-anchor="end">10</text>
<text class="tk" transform="translate(14.5,230.1) scale(0.905,1)" text-anchor="end">15</text>
<text class="tk" transform="translate(14.5,210.9) scale(0.905,1)" text-anchor="end">20</text>
<text class="tk" transform="translate(14.5,191.7) scale(0.905,1)" text-anchor="end">25</text>
<text class="tk" transform="translate(23.9,294.1) scale(0.905,1)" text-anchor="middle">0</text>
<text class="tk" transform="translate(53.6,294.1) scale(0.905,1)" text-anchor="middle">200</text>
<text class="tk" transform="translate(83.2,294.1) scale(0.905,1)" text-anchor="middle">400</text>
<text class="tk" transform="translate(112.9,294.1) scale(0.905,1)" text-anchor="middle">600</text>
<text class="tk" transform="translate(142.6,294.1) scale(0.905,1)" text-anchor="middle">800</text>
<text class="tk" transform="translate(172.2,294.1) scale(0.905,1)" text-anchor="middle">1000</text>
<text class="tk" transform="translate(98,299.9) scale(0.905,1)" text-anchor="middle">Hour</text>
<text class="tk" transform="translate(7.9,238.1) rotate(-90) scale(0.905,1)" text-anchor="middle">Wind Speed (m/s)</text>
<line x1="135.1" y1="192.2" x2="143.9" y2="192.2" stroke="#fa8072" stroke-width="1.0"/>
<text class="lg" transform="translate(147,193.9) scale(0.905,1)">ERA5</text>
<line x1="135.1" y1="198.2" x2="143.9" y2="198.2" stroke="#ffd700" stroke-width="1.0"/>
<text class="lg" transform="translate(147,199.9) scale(0.905,1)">COSMO-REA6</text>
<line x1="135.1" y1="204.2" x2="143.9" y2="204.2" stroke="#9acd32" stroke-width="1.0"/>
<text class="lg" transform="translate(147,205.9) scale(0.905,1)">Observed</text>
<line x1="135.1" y1="210.2" x2="143.9" y2="210.2" stroke="#000080" stroke-width="1.0"/>
<text class="lg" transform="translate(147,211.9) scale(0.905,1)">Corrected</text>
</g>
<g>
<text class="pl" x="196.9" y="175.9">(e)</text>
<clipPath id="clipe"><rect x="212.5" y="187" width="163.1" height="102.3"/></clipPath>
<g clip-path="url(#clipe)" fill="none" stroke-linejoin="round">
<polyline points="219.9,253.7 220.1,253.7 220.2,254.4 220.4,257.1 220.5,258.3 220.7,257.8 220.8,259.8 221,260 221.1,259.2 221.2,259.7 221.4,262.6 221.5,265.3 221.7,267.6 221.8,267.7 222,267.6 222.1,265.7 222.3,267.4 222.4,269.7 222.6,269.3 222.7,267.6 222.9,273.1 223,273 223.2,275 223.3,275 223.5,275 223.6,275 223.8,275 223.9,274.5 224.1,275 224.2,272 224.4,266.7 224.5,265.3 224.7,265.4 224.8,263.9 225,262.9 225.1,258.1 225.3,259.1 225.4,261.6 225.6,260.2 225.7,258.3 225.9,257.8 226,262.4 226.1,259.8 226.3,260.7 226.4,258.3 226.6,253.3 226.7,252.8 226.9,250.8 227,251.8 227.2,253.6 227.3,249.2 227.5,251.3 227.6,250.5 227.8,249.2 227.9,249.5 228.1,249.9 228.2,245.8 228.4,243.4 228.5,241.9 228.7,242.7 228.8,242.4 229,245.2 229.1,249.4 229.3,248.7 229.4,248.1 229.6,251.2 229.7,249.2 229.9,248.2 230,248.8 230.2,251.8 230.3,251.4 230.5,259.7 230.6,258.9 230.7,252.2 230.9,261.6 231,262.1 231.2,263.2 231.3,266.4 231.5,269.3 231.6,266 231.8,268.2 231.9,266.9 232.1,269.8 232.2,267.4 232.4,266.3 232.5,264.4 232.7,264.1 232.8,263.8 233,260.7 233.1,262.6 233.3,262.7 233.4,262.8 233.6,259.2 233.7,259.2 233.9,259.2 234,260.6 234.2,259.2 234.3,260.7 234.5,261.2 234.6,264.5 234.8,265.3 234.9,263.9 235.1,264.3 235.2,265.4 235.3,264.2 235.5,266.7 235.6,266.2 235.8,267 235.9,267.4 236.1,267.6 236.2,268 236.4,268.7 236.5,269 236.7,269.6 236.8,269 237,271.5 237.1,269.5 237.3,267.8 237.4,269.9 237.6,268.6 237.7,271.6 237.9,273.6 238,273.4 238.2,271.2 238.3,275.1 238.5,273.2 238.6,276.4 238.8,277 238.9,277.8 239.1,277.6 239.2,278.3 239.4,281 239.5,282.4 239.7,284.4 239.8,284.4 240,282.7 240.1,281.3 240.2,278.5 240.4,278.4 240.5,275.6 240.7,276.2 240.8,274.6 241,274.7 241.1,271.1 241.3,271.2 241.4,269.6 241.6,267.3 241.7,265.9 241.9,263.5 242,267.2 242.2,259.3 242.3,257.3 242.5,259.8 242.6,259.6 242.8,254.9 242.9,257.2 243.1,258.9 243.2,253.8 243.4,254.4 243.5,255 243.7,254.7 243.8,252.2 244,254.7 244.1,254.9 244.3,255.5 244.4,254.8 244.6,254.3 244.7,253.9 244.8,255.6 245,253.4 245.1,254.6 245.3,255.1 245.4,255 245.6,257 245.7,255.7 245.9,255.5 246,255.1 246.2,257.3 246.3,258.6 246.5,258.5 246.6,259.3 246.8,259.1 246.9,259 247.1,259.8 247.2,260.5 247.4,260.3 247.5,259.6 247.7,258.5 247.8,258.2 248,258.2 248.1,258.6 248.3,258.5 248.4,260.1 248.6,261.2 248.7,260.2 248.9,261 249,264.1 249.2,265.4 249.3,266.2 249.4,265.9 249.6,268.1 249.7,266.5 249.9,267.4 250,268.4 250.2,266.9 250.3,267.3 250.5,267.1 250.6,268.1 250.8,268.5 250.9,269.3 251.1,271.3 251.2,271 251.4,268.6 251.5,271.8 251.7,270.3 251.8,271.3 252,272.3 252.1,272.6 252.3,272.9 252.4,271.2 252.6,273.4 252.7,272.6 252.9,272.9 253,273.5 253.2,272 253.3,273 253.5,271.7 253.6,271.2 253.8,271.3 253.9,271.1 254.1,270.5 254.2,271.4 254.3,271.2 254.5,272 254.6,273.5 254.8,275.2 254.9,274.5 255.1,273.7 255.2,273.7 255.4,274.8 255.5,276 255.7,275.6 255.8,274.8 256,273.8 256.1,273.8 256.3,273.8 256.4,273.9 256.6,274.9 256.7,276 256.9,277.2 257,276.4 257.2,277.7 257.3,276.7 257.5,278.2 257.6,276.8 257.8,276.2 257.9,276.5 258.1,277.1 258.2,278 258.4,277.6 258.5,278.8 258.7,278.5 258.8,278.2 258.9,280.9 259.1,281.9 259.2,281.2 259.4,281.1 259.5,278.5 259.7,280.5 259.8,280.8 260,281.4 260.1,280.4 260.3,280.9 260.4,280.9 260.6,281 260.7,280.4 260.9,280.8 261,278.8 261.2,278.4 261.3,278.1 261.5,277.3 261.6,275.7 261.8,278.1 261.9,276.2 262.1,275.8 262.2,275.6 262.4,276.3 262.5,276.3 262.7,277.4 262.8,276 263,277.1 263.1,275.6 263.3,274.9 263.4,275.1 263.5,276.3 263.7,276.1 263.8,274.4 264,273.8 264.1,272.7 264.3,272.2 264.4,271.5 264.6,270.8 264.7,268 264.9,267.1 265,266.3 265.2,265 265.3,264.2 265.5,264.2 265.6,262.3 265.8,260.3 265.9,263.1 266.1,265 266.2,262.8 266.4,262.5 266.5,262.7 266.7,262.9 266.8,262.6 267,261.6 267.1,260.9 267.3,260.9 267.4,259.4 267.6,258.7 267.7,257.1 267.9,255.1 268,254 268.2,255 268.3,254.3 268.4,256.4 268.6,253.8 268.7,255.7 268.9,255.3 269,255.9 269.2,255 269.3,257.5 269.5,254.1 269.6,257.9 269.8,255.4 269.9,259.5 270.1,261 270.2,263.3 270.4,260.8 270.5,262.5 270.7,259.1 270.8,260.6 271,264.6 271.1,265.5 271.3,260.2 271.4,265.7 271.6,263.4 271.7,259.5 271.9,258.3 272,258.7 272.2,257.5 272.3,254 272.5,259.4 272.6,255.7 272.8,256.2 272.9,254.5 273,255.3 273.2,254.7 273.3,255.2 273.5,256.7 273.6,257.6 273.8,254.8 273.9,253 274.1,257 274.2,260.6 274.4,264.8 274.5,264.6 274.7,265.2 274.8,267.3 275,267.9 275.1,270.3 275.3,268.8 275.4,268.4 275.6,270.5 275.7,269.1 275.9,265.9 276,266.4 276.2,262.9 276.3,259.8 276.5,259.9 276.6,262.2 276.8,258.6 276.9,258.7 277.1,256.9 277.2,255.3 277.4,254.6 277.5,255.8 277.6,258 277.8,258 277.9,258 278.1,258.9 278.2,257.1 278.4,258.6 278.5,260.6 278.7,261.3 278.8,261.9 279,263.1 279.1,264.3 279.3,263.2 279.4,259.1 279.6,261.9 279.7,261 279.9,257.8 280,256.9 280.2,256.1 280.3,254.1 280.5,254.1 280.6,252.9 280.8,250.7 280.9,249.3 281.1,250.2 281.2,250.1 281.4,248.8 281.5,247.4 281.7,248.3 281.8,248.9 282,249.8 282.1,253 282.3,256.9 282.4,257.9 282.5,259.1 282.7,262.4 282.8,261.8 283,262.7 283.1,263.9 283.3,266.3 283.4,266 283.6,271.3 283.7,271.3 283.9,271.6 284,276.1 284.2,276.5 284.3,273.8 284.5,273.2 284.6,274.5 284.8,271.9 284.9,269.3 285.1,265.9 285.2,267.6 285.4,266.2 285.5,263.1 285.7,263.3 285.8,261.4 286,260.7 286.1,261.1 286.3,263.4 286.4,263.5 286.6,266.6 286.7,269.6 286.9,269.5 287,269 287.1,268.8 287.3,268.1 287.4,268.1 287.6,269.9 287.7,270.8 287.9,270 288,267.8 288.2,268.2 288.3,267.1 288.5,264.4 288.6,264.4 288.8,264.4 288.9,265.5 289.1,267 289.2,268.1 289.4,268.5 289.5,270.3 289.7,275.1 289.8,277.2 290,275.3 290.1,273.8 290.3,276.2 290.4,277.4 290.6,277.3 290.7,278.1 290.9,280.5 291,281.3 291.2,281.5 291.3,276.8 291.5,281.2 291.6,282.9 291.7,276.6 291.9,277.8 292,275.2 292.2,272.3 292.3,272.2 292.5,273.2 292.6,273.2 292.8,272.3 292.9,271 293.1,269.3 293.2,272.9 293.4,274.3 293.5,271.3 293.7,270 293.8,269.5 294,265.2 294.1,267.2 294.3,268.6 294.4,274.7 294.6,276.4 294.7,275.2 294.9,272.6 295,266.8 295.2,273 295.3,275.2 295.5,280.1 295.6,279.8 295.8,274.2 295.9,274.4 296.1,269.1 296.2,268.6 296.4,266 296.5,267.9 296.6,260.9 296.8,258 296.9,259.4 297.1,259.9 297.2,260.6 297.4,260.6 297.5,258.9 297.7,260.5 297.8,261.4 298,263 298.1,263.5 298.3,264.7 298.4,262.7 298.6,264.5 298.7,264 298.9,266.1 299,267.1 299.2,266.8 299.3,265.8 299.5,266.5 299.6,266.7 299.8,265.8 299.9,263.7 300.1,264.8 300.2,264 300.4,262.8 300.5,261.7 300.7,258.5 300.8,258 301,258.1 301.1,257.2 301.2,257 301.4,258.6 301.5,260.5 301.7,261.6 301.8,259.5 302,260.8 302.1,260.2 302.3,258.9 302.4,259.9 302.6,261.1 302.7,260.4 302.9,259 303,255.9 303.2,254.2 303.3,255.5 303.5,254.3 303.6,256.6 303.8,254.3 303.9,253.6 304.1,253.6 304.2,254.4 304.4,253.1 304.5,250.8 304.7,252.2 304.8,250.5 305,254.7 305.1,254.1 305.3,253.5 305.4,258.9 305.6,259.5 305.7,260.6 305.8,258.8 306,261.5 306.1,266.3 306.3,262.8 306.4,262.5 306.6,263.6 306.7,265.5 306.9,264.9 307,265.9 307.2,268.7 307.3,269.7 307.5,271.3 307.6,268.7 307.8,270.8 307.9,273.4 308.1,273.5 308.2,272.8 308.4,273.1 308.5,272.9 308.7,273.5 308.8,272.8 309,274.4 309.1,275.7 309.3,275.6 309.4,275.2 309.6,276.3 309.7,275.6 309.9,277.3 310,278.1 310.2,279.2 310.3,280.7 310.5,279.5 310.6,279.4 310.7,279.2 310.9,278.8 311,280.7 311.2,280.2 311.3,282 311.5,282.9 311.6,282.9 311.8,281.9 311.9,280.8 312.1,280.6 312.2,282.7 312.4,280.6 312.5,280.9 312.7,279.3 312.8,278.4 313,277.5 313.1,276.3 313.3,279.8 313.4,277.7 313.6,273.8 313.7,274.5 313.9,274.4 314,272.2 314.2,272.1 314.3,270.1 314.5,266 314.6,266.8 314.8,265.1 314.9,264 315.1,263.3 315.2,262.1 315.3,266.4 315.5,260.3 315.6,260.6 315.8,262.4 315.9,260.3 316.1,259.2 316.2,257.8 316.4,255.3 316.5,256.4 316.7,255.6 316.8,255.2 317,256 317.1,257 317.3,255.6 317.4,256.5 317.6,256.7 317.7,257.8 317.9,257.4 318,256.5 318.2,255.8 318.3,256.6 318.5,257.1 318.6,258.1 318.8,258.6 318.9,259.4 319.1,259 319.2,257.6 319.4,257 319.5,256.1 319.7,258.2 319.8,259 319.9,260 320.1,262.9 320.2,262.9 320.4,262.9 320.5,259.8 320.7,262 320.8,260.9 321,260.8 321.1,259.6 321.3,255.9 321.4,253.2 321.6,256 321.7,256.1 321.9,254.8 322,255.3 322.2,256.9 322.3,255.4 322.5,258.8 322.6,256.1 322.8,257.7 322.9,259.1 323.1,264.4 323.2,265 323.4,265.4 323.5,266.9 323.7,266 323.8,265.1 324,265.6 324.1,269.1 324.3,266.4 324.4,269 324.6,270.4 324.7,269.9 324.8,269.7 325,271.2 325.1,272.5 325.3,274.5 325.4,274.5 325.6,273 325.7,270 325.9,271.1 326,270 326.2,270 326.3,266.9 326.5,267 326.6,265.1 326.8,264.4 326.9,263 327.1,263.1 327.2,264.5 327.4,262.6 327.5,264.9 327.7,261 327.8,258 328,260.1 328.1,258.6 328.3,256.8 328.4,253.4 328.6,253.9 328.7,254 328.9,254.3 329,253.7 329.2,252.3 329.3,256.7 329.4,257.1 329.6,258.1 329.7,260.5 329.9,259.8 330,261.6 330.2,260.7 330.3,263 330.5,263.2 330.6,264 330.8,266 330.9,264.6 331.1,264.8 331.2,265.8 331.4,265.8 331.5,263.5 331.7,262.7 331.8,264.6 332,265.3 332.1,264.8 332.3,265 332.4,264.9 332.6,263.2 332.7,262.6 332.9,262.6 333,263.1 333.2,263.9 333.3,263.1 333.5,263.5 333.6,263.3 333.8,263.8 333.9,267.3 334,267.7 334.2,269.6 334.3,268.6 334.5,268.2 334.6,271.1 334.8,270 334.9,271 335.1,272.3 335.2,271.7 335.4,272.1 335.5,272.6 335.7,273.5 335.8,271.1 336,269.7 336.1,269.5 336.3,270.5 336.4,269.6 336.6,270.6 336.7,270.3 336.9,272.6 337,273 337.2,269.9 337.3,271.9 337.5,270.8 337.6,272.4 337.8,271.4 337.9,271.3 338.1,272.8 338.2,275.2 338.4,277 338.5,277.1 338.7,277.6 338.8,275.7 338.9,276.1 339.1,277.1 339.2,276.9 339.4,278.5 339.5,277.4 339.7,278 339.8,275.3 340,274.5 340.1,273.7 340.3,273.6 340.4,273.3 340.6,272.1 340.7,272.3 340.9,271.3 341,270.9 341.2,271.4 341.3,272.3 341.5,271.8 341.6,271.4 341.8,273.5 341.9,274 342.1,274.2 342.2,273.6 342.4,273.5 342.5,273.3 342.7,273.9 342.8,272.5 343,273.3 343.1,272.7 343.3,273.6 343.4,273.4 343.5,273.4 343.7,273.4 343.8,273 344,272.3 344.1,272.6 344.3,271.4 344.4,268.1 344.6,267.4 344.7,268.1 344.9,266.5 345,270.5 345.2,266.5 345.3,266.7 345.5,267.1 345.6,267.5 345.8,263.3 345.9,263.1 346.1,263.5 346.2,263.9 346.4,264.8 346.5,266.8 346.7,264.8 346.8,264.9 347,268.2 347.1,269.2 347.3,270.3 347.4,268.4 347.6,272.2 347.7,272.6 347.9,271.7 348,273.6 348.1,273.3 348.3,274.6 348.4,272.4 348.6,273 348.7,273.9 348.9,273 349,271.4 349.2,270.9 349.3,271.1 349.5,271.1 349.6,271.1 349.8,273.3 349.9,274.1 350.1,271.1 350.2,273.4 350.4,275.9 350.5,277 350.7,277.1 350.8,279 351,279.5 351.1,279.5 351.3,281.1 351.4,282.1 351.6,282.1 351.7,281.8 351.9,280.2 352,281.4 352.2,281.2 352.3,280.5 352.5,280.3 352.6,280 352.8,279.4 352.9,279.7 353,280.4 353.2,280.8 353.3,280.4 353.5,280.9 353.6,281.5 353.8,280.6 353.9,280.7 354.1,280.1 354.2,279.5 354.4,278.1 354.5,278.4 354.7,278.3 354.8,280 355,282.6 355.1,283.7 355.3,280.8 355.4,282.5 355.6,283.5 355.7,284 355.9,284 356,283.4 356.2,283 356.3,282.6 356.5,283.2 356.6,282.5 356.8,283 356.9,282.3 357.1,282.5 357.2,283 357.4,283.6 357.5,281.8 357.6,279 357.8,279.2 357.9,280.2 358.1,279.5 358.2,278.7 358.4,277.9 358.5,277.7 358.7,276.8 358.8,275.4 359,274.3 359.1,274.4 359.3,276.2 359.4,276.8 359.6,273.6 359.7,274.6 359.9,274.7 360,270.5 360.2,271.9 360.3,271.1 360.5,271.2 360.6,273 360.8,270.7 360.9,271.4 361.1,270.9 361.2,270.3 361.4,271.9 361.5,271.1 361.7,271.9 361.8,272.9 362,273.5 362.1,273.3 362.2,269.9 362.4,271.7 362.5,271.1 362.7,269.3 362.8,269.4 363,269.5 363.1,270.2 363.3,270 363.4,269.7 363.6,271.1 363.7,271.8 363.9,273.4 364,273.4 364.2,270.6 364.3,271.2 364.5,267.8 364.6,267.9 364.8,265.8 364.9,262.6 365.1,267.9 365.2,264.1 365.4,259.7 365.5,261 365.7,260.3 365.8,257.7 366,256.8 366.1,254.8 366.3,255.9 366.4,254.5 366.6,253.7 366.7,253.7 366.9,253.7 367,253.7 367.1,253.7 367.3,254.5 367.4,256.6 367.6,259.5 367.7,261.3 367.9,263.1 368,262 368.2,263.8" stroke="#fa8072" stroke-width="1.1"/>
<polyline points="219.9,257.8 220.1,257.9 220.2,256.5 220.4,256.7 220.5,259.9 220.7,258.4 220.8,258.8 221,262.5 221.1,261.1 221.2,266.2 221.4,267.5 221.5,266.1 221.7,265.1 221.8,270.2 222,267.7 222.1,267.4 222.3,270.5 222.4,269 222.6,265.7 222.7,270.9 222.9,274.6 223,274.6 223.2,274.6 223.3,271.8 223.5,268.3 223.6,272 223.8,274.6 223.9,272.4 224.1,272.3 224.2,272.6 224.4,267.9 224.5,264.6 224.7,266.8 224.8,267.6 225,266 225.1,252.6 225.3,257.2 225.4,258.1 225.6,262.4 225.7,256.6 225.9,256.5 226,255.8 226.1,258.6 226.3,261.7 226.4,251.8 226.6,250.2 226.7,253.2 226.9,249 227,248 227.2,246.4 227.3,245.8 227.5,245.4 227.6,245.4 227.8,243 227.9,243 228.1,244.5 228.2,247.2 228.4,247.8 228.5,247.2 228.7,246.1 228.8,244.2 229,244.5 229.1,248 229.3,244.8 229.4,251.6 229.6,251.4 229.7,251.8 229.9,258.8 230,254.3 230.2,255.3 230.3,259 230.5,261.8 230.6,251.9 230.7,264.6 230.9,257.2 231,267.1 231.2,269.4 231.3,263.8 231.5,267.1 231.6,269.4 231.8,269.4 231.9,268.5 232.1,267.6 232.2,262 232.4,264.7 232.5,265.9 232.7,265.8 232.8,264.5 233,260.2 233.1,262.5 233.3,265.6 233.4,263.1 233.6,265.4 233.7,263.6 233.9,261.1 234,263.9 234.2,261.4 234.3,262 234.5,262.5 234.6,262.6 234.8,265.9 234.9,262.5 235.1,265.2 235.2,266.5 235.3,265.5 235.5,265 235.6,266.2 235.8,265.3 235.9,268.2 236.1,271 236.2,272.4 236.4,272.1 236.5,272.5 236.7,270.2 236.8,270.3 237,271.9 237.1,270.6 237.3,272.8 237.4,276.4 237.6,274.6 237.7,273.6 237.9,276.5 238,273.2 238.2,270.8 238.3,273.7 238.5,277.4 238.6,274.9 238.8,279 238.9,280.2 239.1,278 239.2,282.2 239.4,281.1 239.5,283.5 239.7,278.2 239.8,277.3 240,277.5 240.1,273.5 240.2,277.5 240.4,281.1 240.5,277 240.7,271.7 240.8,278.6 241,280.9 241.1,275.1 241.3,274.6 241.4,269.4 241.6,263.4 241.7,270.9 241.9,259.9 242,260.2 242.2,262.9 242.3,263 242.5,257.4 242.6,257.1 242.8,259.1 242.9,256.8 243.1,255 243.2,254.3 243.4,254.4 243.5,254.2 243.7,253.2 243.8,252.2 244,255.1 244.1,252.7 244.3,255.5 244.4,255.5 244.6,254.1 244.7,253.9 244.8,251.7 245,254.7 245.1,253.4 245.3,256.1 245.4,255.9 245.6,260.3 245.7,259.1 245.9,260.4 246,260.1 246.2,260.7 246.3,260.2 246.5,260.3 246.6,259.6 246.8,260.1 246.9,262.3 247.1,261.4 247.2,259.6 247.4,258.1 247.5,258.2 247.7,261.5 247.8,261.1 248,260.7 248.1,259.9 248.3,265 248.4,263.5 248.6,264.9 248.7,268.6 248.9,265.1 249,265 249.2,266.7 249.3,268 249.4,267.1 249.6,265.7 249.7,265.5 249.9,266.4 250,266.4 250.2,264.7 250.3,264.8 250.5,265.5 250.6,267.9 250.8,268.2 250.9,267.4 251.1,269 251.2,267.8 251.4,269.4 251.5,270.4 251.7,270.8 251.8,268.8 252,269.9 252.1,270 252.3,269.7 252.4,269.8 252.6,269.3 252.7,271.4 252.9,273.8 253,274.1 253.2,273.4 253.3,272.4 253.5,274.9 253.6,276.1 253.8,276 253.9,273.5 254.1,274.8 254.2,273 254.3,273.2 254.5,274.1 254.6,272.8 254.8,273.1 254.9,273.1 255.1,273.3 255.2,273.2 255.4,273.8 255.5,274.2 255.7,274.4 255.8,275.9 256,276.7 256.1,277.2 256.3,276.1 256.4,276.9 256.6,276.8 256.7,275.3 256.9,277.5 257,277.7 257.2,276.5 257.3,275.7 257.5,276.2 257.6,275.8 257.8,278.4 257.9,279.6 258.1,279.4 258.2,278.1 258.4,279.9 258.5,280.6 258.7,279 258.8,280.2 258.9,281 259.1,282.5 259.2,282.5 259.4,282.5 259.5,282.5 259.7,282.5 259.8,282.5 260,282.5 260.1,282.5 260.3,282.5 260.4,282.5 260.6,282.5 260.7,278.8 260.9,280.5 261,282.1 261.2,275.8 261.3,279.3 261.5,280 261.6,279.7 261.8,277.9 261.9,278.8 262.1,279.5 262.2,276.9 262.4,275.8 262.5,276.3 262.7,274 262.8,275 263,274.3 263.1,273.6 263.3,272.4 263.4,274.5 263.5,272 263.7,275.6 263.8,272.2 264,271.6 264.1,274.8 264.3,274.6 264.4,270.4 264.6,268 264.7,270 264.9,268.1 265,268.2 265.2,265.5 265.3,264.7 265.5,266 265.6,268 265.8,265.6 265.9,266.2 266.1,262.4 266.2,254.8 266.4,258.3 266.5,258.6 266.7,259.8 266.8,257.3 267,254 267.1,254.2 267.3,254.5 267.4,256 267.6,255 267.7,253.6 267.9,255.6 268,253.2 268.2,253.2 268.3,253.2 268.4,253.2 268.6,258.4 268.7,254.2 268.9,257.4 269,257.7 269.2,259.7 269.3,259.5 269.5,259.2 269.6,258.1 269.8,259.4 269.9,257.7 270.1,261 270.2,262.2 270.4,264.7 270.5,261.3 270.7,261 270.8,262.6 271,262.3 271.1,262.9 271.3,260 271.4,257.4 271.6,255.9 271.7,259.8 271.9,258.2 272,256.4 272.2,253.4 272.3,254.9 272.5,255.2 272.6,254.3 272.8,254.8 272.9,256 273,253.4 273.2,257.1 273.3,260.3 273.5,255.3 273.6,265.1 273.8,261.4 273.9,263 274.1,269.1 274.2,265.6 274.4,263.8 274.5,265.9 274.7,270.5 274.8,269.5 275,270.4 275.1,271.2 275.3,271.2 275.4,271.2 275.6,271.2 275.7,270.3 275.9,265.8 276,266 276.2,259.2 276.3,265.2 276.5,262.2 276.6,259.4 276.8,255.8 276.9,258.5 277.1,255.7 277.2,256.1 277.4,257.4 277.5,258.5 277.6,259.1 277.8,258.6 277.9,258.5 278.1,259.7 278.2,258.7 278.4,261.9 278.5,261.1 278.7,261.6 278.8,261 279,264 279.1,264 279.3,260.6 279.4,258.6 279.6,264 279.7,259.4 279.9,257.8 280,260.3 280.2,254.1 280.3,251.5 280.5,255.5 280.6,250.5 280.8,248 280.9,248 281.1,248 281.2,248.4 281.4,252.8 281.5,253.9 281.7,259 281.8,251.3 282,252.4 282.1,262.3 282.3,259.6 282.4,254.5 282.5,264 282.7,254.6 282.8,257.3 283,261.1 283.1,271.8 283.3,266.4 283.4,272.4 283.6,268.1 283.7,273.3 283.9,274.4 284,276.1 284.2,274.5 284.3,273.6 284.5,272.5 284.6,270.9 284.8,271.6 284.9,272 285.1,270.6 285.2,267.1 285.4,269 285.5,265.9 285.7,267.1 285.8,262.3 286,262.3 286.1,265.5 286.3,269.1 286.4,265.6 286.6,269.5 286.7,268.9 286.9,266.6 287,265.4 287.1,265.7 287.3,268.4 287.4,267.5 287.6,266.7 287.7,267.3 287.9,267.4 288,265.7 288.2,266.7 288.3,268.2 288.5,266.6 288.6,268.3 288.8,271.2 288.9,269.5 289.1,266.1 289.2,267.2 289.4,272.9 289.5,270.8 289.7,275.2 289.8,274.1 290,277.1 290.1,277 290.3,277 290.4,280.5 290.6,279.7 290.7,279.6 290.9,278.8 291,278.7 291.2,281.9 291.3,279.2 291.5,276.3 291.6,273.4 291.7,277.4 291.9,272.5 292,271.7 292.2,271 292.3,272.6 292.5,271.5 292.6,269.3 292.8,271.6 292.9,273.8 293.1,274.1 293.2,271.4 293.4,276.5 293.5,273.7 293.7,267.4 293.8,266.5 294,267.3 294.1,272 294.3,269.9 294.4,269.5 294.6,265.3 294.7,265.8 294.9,268.9 295,275.4 295.2,275.1 295.3,275.1 295.5,270.3 295.6,266.9 295.8,263 295.9,258.9 296.1,266.5 296.2,258.6 296.4,265.1 296.5,265.9 296.6,269.5 296.8,260.9 296.9,259.6 297.1,259.6 297.2,258.8 297.4,260.7 297.5,258.6 297.7,260.9 297.8,263.3 298,265.1 298.1,264 298.3,263.3 298.4,261.9 298.6,260.8 298.7,261.9 298.9,266.1 299,267 299.2,267.6 299.3,267.6 299.5,267.6 299.6,265.7 299.8,266.8 299.9,265.8 300.1,258.6 300.2,260.1 300.4,258.6 300.5,258.6 300.7,258.5 300.8,257.6 301,257.8 301.1,257.4 301.2,257.3 301.4,260.4 301.5,261.4 301.7,260.7 301.8,262.2 302,261.9 302.1,255.7 302.3,254.9 302.4,255.7 302.6,253 302.7,254.8 302.9,251.7 303,252.7 303.2,251.8 303.3,253.3 303.5,252.5 303.6,252.1 303.8,252 303.9,253.7 304.1,253.4 304.2,253.6 304.4,255.5 304.5,251.6 304.7,254.3 304.8,256.4 305,254.5 305.1,261.9 305.3,259.3 305.4,261.3 305.6,259.1 305.7,263.5 305.8,269 306,263.1 306.1,267.7 306.3,268.2 306.4,262.4 306.6,265.6 306.7,273.4 306.9,270.6 307,267.8 307.2,271.5 307.3,270.2 307.5,267.2 307.6,274.9 307.8,272.6 307.9,274.6 308.1,275.4 308.2,277.8 308.4,276.6 308.5,276.8 308.7,279.1 308.8,278.1 309,277 309.1,276.7 309.3,276.4 309.4,276.6 309.6,273.9 309.7,276.2 309.9,276.6 310,276.8 310.2,279.1 310.3,280.2 310.5,279.9 310.6,279 310.7,280.8 310.9,279 311,280 311.2,279.7 311.3,280.7 311.5,281.2 311.6,282.3 311.8,281.4 311.9,278.4 312.1,277.7 312.2,278.2 312.4,278.7 312.5,279.4 312.7,279.9 312.8,278.6 313,278.7 313.1,275.6 313.3,276 313.4,273.9 313.6,278.2 313.7,278.9 313.9,275.1 314,267.3 314.2,265.6 314.3,264.2 314.5,263.4 314.6,258.1 314.8,262.2 314.9,263.9 315.1,260.4 315.2,263.1 315.3,262.3 315.5,255.9 315.6,256.3 315.8,255.2 315.9,256.4 316.1,255 316.2,255 316.4,255 316.5,254.6 316.7,256.5 316.8,256.8 317,257 317.1,254.1 317.3,253.6 317.4,254.3 317.6,258 317.7,258.1 317.9,254.7 318,254.1 318.2,254.3 318.3,257.1 318.5,255 318.6,255.4 318.8,257 318.9,259.1 319.1,257.7 319.2,259.4 319.4,261.6 319.5,258.4 319.7,262.4 319.8,261.9 319.9,260.1 320.1,260.6 320.2,262.1 320.4,259.8 320.5,258.4 320.7,255.9 320.8,255.9 321,254 321.1,255.3 321.3,254.9 321.4,254.7 321.6,254.6 321.7,257.1 321.9,260.1 322,257.6 322.2,257 322.3,259.9 322.5,258.3 322.6,260 322.8,259.5 322.9,257.6 323.1,258.1 323.2,262.4 323.4,264.5 323.5,268.1 323.7,268.9 323.8,265.9 324,268.3 324.1,265.9 324.3,271.5 324.4,271.8 324.6,270.6 324.7,274.6 324.8,275.6 325,276.3 325.1,275.9 325.3,274.7 325.4,271.9 325.6,272.1 325.7,270.4 325.9,272.9 326,270.2 326.2,273 326.3,266.7 326.5,268.7 326.6,267.7 326.8,270 326.9,267.4 327.1,268.4 327.2,257.3 327.4,268.8 327.5,261.9 327.7,257.8 327.8,257.6 328,258.9 328.1,256.9 328.3,255.8 328.4,255.3 328.6,253.9 328.7,258.4 328.9,257.6 329,255.8 329.2,256 329.3,260 329.4,257.9 329.6,263.5 329.7,265.9 329.9,265.3 330,265.9 330.2,265.9 330.3,265.9 330.5,266.1 330.6,266.2 330.8,265.5 330.9,264.6 331.1,264.5 331.2,265.9 331.4,266 331.5,266.8 331.7,267 331.8,267.7 332,266.2 332.1,267.8 332.3,266 332.4,264.3 332.6,265.1 332.7,265 332.9,263.6 333,263.6 333.2,263.7 333.3,263.6 333.5,263.6 333.6,265 333.8,272.9 333.9,272.9 334,272.9 334.2,272.9 334.3,271.4 334.5,271.6 334.6,271.6 334.8,270.8 334.9,271.9 335.1,269.6 335.2,268.3 335.4,270.5 335.5,270.8 335.7,270.4 335.8,271.2 336,271.8 336.1,273.1 336.3,271.4 336.4,270.9 336.6,270.9 336.7,270.1 336.9,270.1 337,271.1 337.2,270.7 337.3,272.2 337.5,271 337.6,272.4 337.8,271.3 337.9,273.3 338.1,272.2 338.2,274.1 338.4,274.1 338.5,273.3 338.7,276.5 338.8,275 338.9,277.6 339.1,277.5 339.2,276.5 339.4,277.6 339.5,276.9 339.7,273.7 339.8,270.6 340,270.6 340.1,272.5 340.3,270.7 340.4,272 340.6,271.9 340.7,270.6 340.9,270.6 341,270.6 341.2,270.6 341.3,270.6 341.5,270.6 341.6,271.2 341.8,270.6 341.9,270.6 342.1,270.7 342.2,270.7 342.4,270.7 342.5,270.7 342.7,270.2 342.8,271.6 343,271 343.1,272.1 343.3,273.3 343.4,270.7 343.5,272.5 343.7,272.9 343.8,268.9 344,273.2 344.1,271.7 344.3,270 344.4,274.2 344.6,270.9 344.7,271.3 344.9,271.3 345,270.2 345.2,267.2 345.3,263.7 345.5,263.7 345.6,263.7 345.8,263.7 345.9,266.2 346.1,264.8 346.2,264.4 346.4,263.7 346.5,268 346.7,271.4 346.8,268.2 347,271.7 347.1,273.3 347.3,272.6 347.4,274.9 347.6,275.2 347.7,274.1 347.9,272 348,276 348.1,273 348.3,275.3 348.4,275.6 348.6,274.3 348.7,275.6 348.9,275.8 349,277.2 349.2,275 349.3,273.4 349.5,274.2 349.6,272.2 349.8,272.5 349.9,275 350.1,273.3 350.2,276.1 350.4,275.1 350.5,279.4 350.7,279 350.8,277.7 351,280.1 351.1,281.5 351.3,281 351.4,280.5 351.6,280.5 351.7,279.7 351.9,278.7 352,279.8 352.2,279.6 352.3,280.8 352.5,280.6 352.6,281.6 352.8,280.5 352.9,278.4 353,280.9 353.2,280.9 353.3,279.8 353.5,280.2 353.6,278.7 353.8,278.6 353.9,279.7 354.1,280.4 354.2,282.2 354.4,281 354.5,278.9 354.7,280.4 354.8,281.2 355,284.3 355.1,282.3 355.3,280.3 355.4,282.3 355.6,282.9 355.7,282.5 355.9,282.2 356,284.2 356.2,281.4 356.3,283.2 356.5,283.9 356.6,283.7 356.8,284.7 356.9,284.4 357.1,285.1 357.2,280.1 357.4,279 357.5,280.1 357.6,274.7 357.8,275.7 357.9,275.7 358.1,282.4 358.2,281.2 358.4,277.3 358.5,278.5 358.7,278.3 358.8,275 359,273.3 359.1,271.8 359.3,277.5 359.4,275.4 359.6,273.6 359.7,270.7 359.9,269 360,269 360.2,269 360.3,270.6 360.5,270.5 360.6,269 360.8,269 360.9,269 361.1,270.9 361.2,274.5 361.4,273.6 361.5,272.6 361.7,273.9 361.8,273.8 362,272.1 362.1,271.1 362.2,270.2 362.4,269 362.5,269.8 362.7,269 362.8,269.7 363,270.5 363.1,272 363.3,273 363.4,273 363.6,273 363.7,273 363.9,273 364,272.2 364.2,273 364.3,273 364.5,272 364.6,266.4 364.8,265 364.9,266.5 365.1,263.7 365.2,263.3 365.4,260.5 365.5,259.5 365.7,254.1 365.8,253.4 366,253.4 366.1,254.1 366.3,253.4 366.4,253.4 366.6,253.4 366.7,253.4 366.9,255.1 367,258.1 367.1,253.4 367.3,253.4 367.4,263.2 367.6,266 367.7,267.7 367.9,266.2 368,264 368.2,265.9" stroke="#ffd700" stroke-width="1.15"/>
<polyline points="219.9,231.8 220.1,237.3 220.2,230.8 220.4,228.8 220.5,239.9 220.7,238.7 220.8,243.3 221,243.3 221.1,238 221.2,241 221.4,240.5 221.5,242.3 221.7,234.7 221.8,234.7 222,242.4 222.1,238.2 222.3,239 222.4,241 222.6,242.9 222.7,246.5 222.9,244.7 223,247.8 223.2,251 223.3,248.6 223.5,241.9 223.6,242.6 223.8,246.4 223.9,240.8 224.1,242.1 224.2,247.5 224.4,244 224.5,242.6 224.7,240.5 224.8,242.5 225,243.2 225.1,239 225.3,238.9 225.4,238.9 225.6,237.8 225.7,235.1 225.9,234.6 226,234.5 226.1,232.6 226.3,234.1 226.4,239.4 226.6,234.4 226.7,238.6 226.9,243.3 227,235.8 227.2,222.7 227.3,238.4 227.5,237.2 227.6,215.6 227.8,217.5 227.9,220.8 228.1,227.3 228.2,224.2 228.4,226.3 228.5,221.2 228.7,218.8 228.8,214.1 229,217 229.1,216.5 229.3,215.2 229.4,212.7 229.6,212.7 229.7,218 229.9,217.4 230,231.4 230.2,219.3 230.3,230.4 230.5,236.2 230.6,233.8 230.7,232.6 230.9,236.9 231,227.6 231.2,236.2 231.3,241.1 231.5,241.1 231.6,240.4 231.8,241 231.9,235.2 232.1,237.3 232.2,235.4 232.4,221.4 232.5,227.6 232.7,232.5 232.8,232 233,228.2 233.1,216.1 233.3,212.8 233.4,212.8 233.6,212.8 233.7,212.8 233.9,214.5 234,212.8 234.2,212.8 234.3,220.5 234.5,228.6 234.6,239.5 234.8,217 234.9,228.3 235.1,238.3 235.2,248.4 235.3,246.2 235.5,239.6 235.6,237.9 235.8,235.2 235.9,248.4 236.1,243.4 236.2,240 236.4,245.4 236.5,245.3 236.7,245.7 236.8,246.9 237,249.6 237.1,245.1 237.3,242.4 237.4,245.4 237.6,245.3 237.7,251.7 237.9,254.3 238,257.6 238.2,252.4 238.3,256.8 238.5,264.3 238.6,265 238.8,262.2 238.9,262.3 239.1,270.8 239.2,271.8 239.4,271.9 239.5,277.2 239.7,276.7 239.8,277.8 240,269.1 240.1,271.1 240.2,266.3 240.4,270 240.5,265.9 240.7,258.3 240.8,273.7 241,265.2 241.1,256 241.3,257.8 241.4,253.1 241.6,254.4 241.7,252.9 241.9,254 242,250 242.2,248.2 242.3,252.3 242.5,251.3 242.6,250.9 242.8,245 242.9,246.7 243.1,243 243.2,241.6 243.4,242.9 243.5,240.6 243.7,240 243.8,239.5 244,238.1 244.1,239.9 244.3,237.1 244.4,240.9 244.6,240.5 244.7,242.6 244.8,242.4 245,240.6 245.1,236.6 245.3,236.1 245.4,235.4 245.6,235.4 245.7,235.6 245.9,235.4 246,235.4 246.2,237.3 246.3,237.7 246.5,239 246.6,239.4 246.8,235.4 246.9,237.6 247.1,236.1 247.2,236.3 247.4,236.3 247.5,236.3 247.7,236.6 247.8,236.3 248,238.8 248.1,240.5 248.3,242 248.4,244.8 248.6,245 248.7,244.3 248.9,245.5 249,242.4 249.2,240.5 249.3,245 249.4,241 249.6,243.4 249.7,245.1 249.9,243.7 250,246.3 250.2,249.3 250.3,248.3 250.5,247.7 250.6,251.4 250.8,249.5 250.9,249.9 251.1,250.8 251.2,249.4 251.4,255.5 251.5,255.5 251.7,250.4 251.8,253.8 252,251.9 252.1,253 252.3,253.8 252.4,252.4 252.6,249.8 252.7,252.4 252.9,253.5 253,255.1 253.2,257.9 253.3,259.2 253.5,259.5 253.6,257.8 253.8,253.3 253.9,260.3 254.1,259.6 254.2,254.4 254.3,261.5 254.5,264.1 254.6,262.7 254.8,262.5 254.9,263.2 255.1,260 255.2,260.4 255.4,264.4 255.5,264.3 255.7,267.3 255.8,266.8 256,267.2 256.1,267.7 256.3,266.7 256.4,264.2 256.6,267 256.7,267.8 256.9,270.4 257,266.3 257.2,271.4 257.3,269.3 257.5,271.7 257.6,270.1 257.8,270 257.9,269.4 258.1,268.6 258.2,269.5 258.4,270.8 258.5,269.8 258.7,268.3 258.8,271.3 258.9,272.9 259.1,273.1 259.2,269.5 259.4,273.6 259.5,272.5 259.7,273.4 259.8,276.3 260,275.4 260.1,274.9 260.3,278.1 260.4,279.2 260.6,276.2 260.7,279.7 260.9,278.6 261,277.2 261.2,274.5 261.3,273.1 261.5,274.3 261.6,270.9 261.8,270.7 261.9,271.1 262.1,266.3 262.2,270.6 262.4,267.3 262.5,266.4 262.7,264.1 262.8,263.2 263,264.9 263.1,258.9 263.3,258.5 263.4,260.1 263.5,258 263.7,262.1 263.8,259.4 264,266 264.1,261.4 264.3,259.9 264.4,257.4 264.6,252.1 264.7,248.1 264.9,250.6 265,254.9 265.2,253 265.3,248 265.5,245.2 265.6,252.7 265.8,253.7 265.9,252.2 266.1,253 266.2,249.8 266.4,246.9 266.5,250.6 266.7,249 266.8,244.9 267,240.9 267.1,240.8 267.3,240.5 267.4,242.9 267.6,241.4 267.7,242.3 267.9,240.7 268,241.9 268.2,241.5 268.3,243 268.4,244.3 268.6,244.3 268.7,241.7 268.9,241 269,238.1 269.2,245.7 269.3,243.8 269.5,242.9 269.6,242.6 269.8,240 269.9,236.1 270.1,237.4 270.2,235.6 270.4,235.6 270.5,235.6 270.7,233.2 270.8,237.4 271,235.8 271.1,233.5 271.3,233.1 271.4,241.4 271.6,240.6 271.7,238.7 271.9,234.6 272,227.6 272.2,228.2 272.3,234.6 272.5,235.4 272.6,235.1 272.8,240.9 272.9,237.1 273,237.7 273.2,236.2 273.3,237.8 273.5,238.4 273.6,238.4 273.8,239.9 273.9,238.2 274.1,232.9 274.2,239.5 274.4,236.5 274.5,237.6 274.7,231 274.8,231 275,231 275.1,231 275.3,244.1 275.4,244.6 275.6,246.9 275.7,242.8 275.9,240.3 276,237.4 276.2,240.2 276.3,236.8 276.5,239.9 276.6,240.1 276.8,237.2 276.9,239.2 277.1,237.2 277.2,237.2 277.4,237.4 277.5,238.7 277.6,241.2 277.8,241.6 277.9,241.8 278.1,241.6 278.2,242.9 278.4,242 278.5,241.3 278.7,239.7 278.8,238.2 279,238.4 279.1,240.4 279.3,238.7 279.4,239.2 279.6,238.7 279.7,241.4 279.9,241.6 280,237.5 280.2,241.1 280.3,240.8 280.5,229.2 280.6,235.6 280.8,206.5 280.9,223 281.1,217 281.2,214.2 281.4,199 281.5,212.2 281.7,205 281.8,214.4 282,214.7 282.1,191.7 282.3,191.7 282.4,193 282.5,196.6 282.7,221.6 282.8,208.1 283,215.9 283.1,215.8 283.3,199 283.4,228.3 283.6,232.9 283.7,233.6 283.9,240.1 284,224.6 284.2,235.2 284.3,238.3 284.5,239.4 284.6,246.5 284.8,254.9 284.9,246.1 285.1,242.9 285.2,249.7 285.4,254.9 285.5,254.9 285.7,254.9 285.8,253.6 286,248.8 286.1,246.5 286.3,246.3 286.4,244.4 286.6,247 286.7,248.6 286.9,245.5 287,244.4 287.1,247.3 287.3,248.5 287.4,245.7 287.6,245.7 287.7,245.2 287.9,244.2 288,244.2 288.2,247 288.3,246.5 288.5,247 288.6,252.1 288.8,252.2 288.9,253.8 289.1,254.6 289.2,252.9 289.4,251.4 289.5,247.7 289.7,253.2 289.8,252.1 290,249.5 290.1,247.7 290.3,248.8 290.4,245.3 290.6,260 290.7,259 290.9,254.2 291,259.4 291.2,250.6 291.3,248 291.5,240.9 291.6,240.5 291.7,245.8 291.9,242.5 292,240.8 292.2,240.5 292.3,249.6 292.5,253 292.6,254.5 292.8,250.1 292.9,255 293.1,254 293.2,247.8 293.4,249.6 293.5,253.1 293.7,252.9 293.8,256 294,253.6 294.1,254.2 294.3,251.8 294.4,246.5 294.6,247.6 294.7,240.5 294.9,234.8 295,244.3 295.2,234.8 295.3,240.7 295.5,235.7 295.6,235.4 295.8,236.6 295.9,246 296.1,241.3 296.2,251.6 296.4,251.6 296.5,242 296.6,250.9 296.8,251.6 296.9,250.7 297.1,249.3 297.2,250.5 297.4,248.4 297.5,240.7 297.7,241.1 297.8,240.7 298,240.7 298.1,241.8 298.3,240.8 298.4,243.1 298.6,243.1 298.7,244.8 298.9,245.4 299,247.4 299.2,248.2 299.3,249.6 299.5,247.2 299.6,243.9 299.8,248.7 299.9,249.6 300.1,249.6 300.2,247.9 300.4,246 300.5,240.4 300.7,238.9 300.8,238.6 301,239.8 301.1,238 301.2,236.2 301.4,244.7 301.5,246.2 301.7,245.3 301.8,245.1 302,246.2 302.1,244.3 302.3,244.6 302.4,243.9 302.6,243.7 302.7,243.3 302.9,240.8 303,238.7 303.2,232.7 303.3,240.3 303.5,243.3 303.6,237.2 303.8,239.4 303.9,237.2 304.1,237.3 304.2,233.2 304.4,232.1 304.5,233 304.7,231.9 304.8,234.9 305,233.9 305.1,235.6 305.3,238.4 305.4,231.9 305.6,231.9 305.7,233.7 305.8,238.2 306,235.3 306.1,240.3 306.3,243 306.4,244.8 306.6,242.8 306.7,250.6 306.9,243.6 307,250.3 307.2,256.1 307.3,260.4 307.5,246.4 307.6,250.4 307.8,265.8 307.9,264.5 308.1,264.1 308.2,264.5 308.4,261.3 308.5,257 308.7,263.2 308.8,267.1 309,267.1 309.1,268.7 309.3,268.8 309.4,268 309.6,265.7 309.7,267.1 309.9,265.3 310,268.3 310.2,267.9 310.3,268.4 310.5,267.1 310.6,267 310.7,267.4 310.9,266.9 311,268 311.2,268.5 311.3,269.4 311.5,269.1 311.6,269.4 311.8,269.4 311.9,268.7 312.1,266.8 312.2,265.1 312.4,265 312.5,266.5 312.7,265 312.8,264.3 313,262.8 313.1,265 313.3,268.6 313.4,259.6 313.6,263.8 313.7,254.9 313.9,253.1 314,249.8 314.2,245.7 314.3,248.3 314.5,251.4 314.6,245.2 314.8,255.5 314.9,250.6 315.1,245.4 315.2,243.4 315.3,244 315.5,244.7 315.6,238.6 315.8,237.2 315.9,235.6 316.1,235 316.2,235.7 316.4,241.4 316.5,240 316.7,239.5 316.8,239 317,244.1 317.1,242.8 317.3,242 317.4,242.4 317.6,240.6 317.7,235.1 317.9,237.9 318,233.6 318.2,232.8 318.3,234.3 318.5,231.5 318.6,234.2 318.8,235.1 318.9,236.8 319.1,238.1 319.2,234.4 319.4,236.4 319.5,231.1 319.7,229.5 319.8,231.4 319.9,225.5 320.1,227.5 320.2,228.3 320.4,229.8 320.5,228.3 320.7,227 320.8,225.6 321,222.3 321.1,218.8 321.3,224 321.4,223.3 321.6,222.2 321.7,221.2 321.9,220.7 322,220.2 322.2,221.8 322.3,228.6 322.5,224.8 322.6,227.7 322.8,226.2 322.9,234 323.1,221.4 323.2,229.2 323.4,239 323.5,234.5 323.7,231.7 323.8,236.6 324,228.9 324.1,240.4 324.3,242.5 324.4,246.7 324.6,246.7 324.7,254.9 324.8,254.9 325,254.9 325.1,254.9 325.3,248.5 325.4,250.6 325.6,254.9 325.7,246.9 325.9,244.6 326,244 326.2,247.3 326.3,244 326.5,247.9 326.6,241.7 326.8,230.8 326.9,230.3 327.1,231.9 327.2,232.2 327.4,233.2 327.5,230.9 327.7,233.9 327.8,227.4 328,229.6 328.1,226.8 328.3,228.5 328.4,233.4 328.6,230.9 328.7,232.9 328.9,228.3 329,229.5 329.2,238.5 329.3,236.7 329.4,235.3 329.6,245.5 329.7,237.4 329.9,246.9 330,244.5 330.2,243.7 330.3,245.9 330.5,243.6 330.6,247.9 330.8,244.8 330.9,247.6 331.1,246.2 331.2,247.9 331.4,245 331.5,245.1 331.7,246.8 331.8,247.9 332,245.1 332.1,248.5 332.3,249 332.4,250.3 332.6,249.1 332.7,249.3 332.9,246.6 333,245.7 333.2,245 333.3,243.9 333.5,244.7 333.6,246.3 333.8,244.2 333.9,243.3 334,246.1 334.2,245.8 334.3,249.3 334.5,246.8 334.6,248.1 334.8,247.4 334.9,245.1 335.1,245 335.2,249.5 335.4,253.9 335.5,255.3 335.7,255 335.8,254.4 336,257.2 336.1,258.3 336.3,257.9 336.4,258.4 336.6,258.5 336.7,258 336.9,255.5 337,254.9 337.2,255.8 337.3,256.2 337.5,255.1 337.6,255.2 337.8,255.7 337.9,257.1 338.1,258.1 338.2,255.9 338.4,255.7 338.5,255.9 338.7,256 338.8,256 338.9,257.3 339.1,258 339.2,257.8 339.4,258.4 339.5,259.6 339.7,256.5 339.8,259.9 340,259.9 340.1,258.7 340.3,257.9 340.4,256.3 340.6,259.9 340.7,259.9 340.9,259.9 341,258.8 341.2,258.4 341.3,259 341.5,256.9 341.6,254.7 341.8,255.8 341.9,257.7 342.1,259.6 342.2,256.2 342.4,256.1 342.5,256.4 342.7,254.5 342.8,254.8 343,255.2 343.1,253.6 343.3,253.4 343.4,254 343.5,252.4 343.7,253.2 343.8,255.4 344,254.8 344.1,253.3 344.3,253 344.4,252.7 344.6,252.4 344.7,252.4 344.9,253 345,253.1 345.2,253.2 345.3,257.5 345.5,254.4 345.6,255.3 345.8,258.2 345.9,255.2 346.1,255.1 346.2,250.1 346.4,250.8 346.5,249.7 346.7,248 346.8,248.7 347,250.1 347.1,246.1 347.3,246.1 347.4,249.2 347.6,251.4 347.7,253.3 347.9,253.8 348,248.3 348.1,250 348.3,246.1 348.4,252.1 348.6,252.7 348.7,259.3 348.9,252.3 349,255.2 349.2,253.7 349.3,255.9 349.5,254.6 349.6,258.4 349.8,260.1 349.9,259.6 350.1,256.9 350.2,259 350.4,259.8 350.5,258.2 350.7,258.1 350.8,259.7 351,260.1 351.1,260.6 351.3,260.3 351.4,260.4 351.6,261.5 351.7,259.7 351.9,260.3 352,262.1 352.2,259.1 352.3,259.3 352.5,262.7 352.6,264.7 352.8,267.3 352.9,267.3 353,266.4 353.2,267 353.3,264.9 353.5,266.3 353.6,266.4 353.8,267.2 353.9,262.5 354.1,264.3 354.2,268.5 354.4,263.4 354.5,266.7 354.7,265.3 354.8,266.9 355,267.6 355.1,268.4 355.3,269 355.4,269.3 355.6,270.4 355.7,269.8 355.9,270.4 356,269.8 356.2,268.3 356.3,268.7 356.5,268 356.6,268.4 356.8,266.6 356.9,269.1 357.1,270.4 357.2,268.8 357.4,266.6 357.5,265.2 357.6,265.7 357.8,267.7 357.9,267.3 358.1,261.8 358.2,260.5 358.4,255.7 358.5,257.6 358.7,256.6 358.8,256 359,255.8 359.1,255 359.3,252.1 359.4,252.1 359.6,249.1 359.7,249.1 359.9,249.1 360,250.9 360.2,255 360.3,255.8 360.5,254.8 360.6,256.8 360.8,257.6 360.9,251.9 361.1,257.8 361.2,258.6 361.4,259.3 361.5,259.9 361.7,259.9 361.8,259.9 362,259.9 362.1,257.1 362.2,258.9 362.4,259.8 362.5,257.9 362.7,256.9 362.8,256.3 363,256.5 363.1,254.9 363.3,255.1 363.4,257.1 363.6,253.9 363.7,258.4 363.9,255.7 364,251.2 364.2,247.4 364.3,248.2 364.5,247.3 364.6,247.6 364.8,249.3 364.9,246.5 365.1,241.7 365.2,244.6 365.4,242.2 365.5,237.7 365.7,243.1 365.8,234.4 366,232.1 366.1,228.9 366.3,230.1 366.4,229.1 366.6,230.6 366.7,231.2 366.9,231.5 367,232.7 367.1,229.3 367.3,239.3 367.4,232.9 367.6,244.3 367.7,242.6 367.9,240.2 368,244.3 368.2,243.7" stroke="#9acd32" stroke-width="1.15"/>
<polyline points="219.9,248 220.1,247.2 220.2,246.8 220.4,247.8 220.5,244.1 220.7,245.2 220.8,246.4 221,251.3 221.1,253.1 221.2,254.3 221.4,255.4 221.5,251.5 221.7,251.7 221.8,253.8 222,251.2 222.1,255.7 222.3,256.8 222.4,255.2 222.6,256.1 222.7,259.8 222.9,260.7 223,260.7 223.2,259 223.3,259 223.5,258.8 223.6,258.3 223.8,257.6 223.9,257.4 224.1,253.3 224.2,256.3 224.4,256.2 224.5,254.4 224.7,253.4 224.8,253.6 225,252.4 225.1,253 225.3,249.4 225.4,250.9 225.6,251.7 225.7,252.3 225.9,249.6 226,248.1 226.1,247.6 226.3,248.4 226.4,240.3 226.6,239.5 226.7,238.4 226.9,242.5 227,241.8 227.2,242.4 227.3,239.8 227.5,233.9 227.6,235 227.8,232.3 227.9,232 228.1,235.8 228.2,239 228.4,233 228.5,231.7 228.7,233.4 228.8,232.8 229,229.1 229.1,229.4 229.3,228.5 229.4,229.7 229.6,237.6 229.7,229.8 229.9,238.2 230,234 230.2,242.2 230.3,241.9 230.5,242.4 230.6,244.3 230.7,244.1 230.9,244.6 231,244.2 231.2,245.2 231.3,246.8 231.5,247.3 231.6,246.7 231.8,244.6 231.9,241.3 232.1,243 232.2,241.6 232.4,244.5 232.5,243.4 232.7,239.4 232.8,238.9 233,238.8 233.1,242.2 233.3,243.1 233.4,242 233.6,242.3 233.7,242.3 233.9,243.4 234,238.8 234.2,238.8 234.3,244 234.5,249.1 234.6,248.3 234.8,250 234.9,252.6 235.1,250.6 235.2,254.4 235.3,245 235.5,247.1 235.6,249.4 235.8,252.1 235.9,258.3 236.1,257.5 236.2,260.8 236.4,260.7 236.5,260.3 236.7,260.9 236.8,258.4 237,263.2 237.1,258.4 237.3,263.4 237.4,262.3 237.6,265.8 237.7,266.2 237.9,268.9 238,268.6 238.2,268.3 238.3,268.4 238.5,267.1 238.6,272.4 238.8,273 238.9,275.4 239.1,272.1 239.2,274 239.4,274.5 239.5,273.6 239.7,272.3 239.8,271.7 240,271.2 240.1,265.8 240.2,265.6 240.4,262.2 240.5,267 240.7,268.7 240.8,265.3 241,261 241.1,258.8 241.3,257.7 241.4,257.3 241.6,260.6 241.7,258.9 241.9,256.6 242,258.3 242.2,256.5 242.3,258.9 242.5,261.4 242.6,259.8 242.8,259.7 242.9,261.5 243.1,261.2 243.2,260.2 243.4,259.5 243.5,260 243.7,256.4 243.8,256 244,258.5 244.1,258.8 244.3,256.2 244.4,255.2 244.6,253.2 244.7,253.1 244.8,252.6 245,253.6 245.1,251.5 245.3,253.4 245.4,252.7 245.6,253.5 245.7,253.3 245.9,252.2 246,253.2 246.2,254.4 246.3,254.1 246.5,257.2 246.6,255.6 246.8,253.1 246.9,255 247.1,254.2 247.2,255.4 247.4,255.1 247.5,255 247.7,255.3 247.8,253.7 248,255.2 248.1,257.7 248.3,257.1 248.4,255.8 248.6,256.8 248.7,254.8 248.9,256.3 249,254.6 249.2,257 249.3,259.3 249.4,260.3 249.6,260 249.7,258.5 249.9,262.3 250,264 250.2,261.7 250.3,258.9 250.5,261.6 250.6,260.8 250.8,259.9 250.9,261.8 251.1,262.6 251.2,262.4 251.4,263.4 251.5,265.5 251.7,266.7 251.8,268.2 252,269 252.1,269.1 252.3,266.8 252.4,267.5 252.6,269.3 252.7,269.7 252.9,266.7 253,267.4 253.2,267.8 253.3,264.6 253.5,267 253.6,268.5 253.8,267.6 253.9,266.3 254.1,269.9 254.2,269.3 254.3,268.7 254.5,268.5 254.6,269 254.8,269.2 254.9,270 255.1,270.8 255.2,270.4 255.4,269.4 255.5,269 255.7,271.8 255.8,271.6 256,273.9 256.1,273.4 256.3,273.7 256.4,274.6 256.6,274 256.7,274.5 256.9,275.2 257,274.1 257.2,276.4 257.3,275 257.5,273.6 257.6,273.9 257.8,274.2 257.9,275.2 258.1,274.5 258.2,273 258.4,272.9 258.5,273.2 258.7,273.5 258.8,275.1 258.9,274.7 259.1,276.1 259.2,274.6 259.4,275.3 259.5,275.4 259.7,275 259.8,273.7 260,275.5 260.1,275.7 260.3,275.3 260.4,276.3 260.6,274.4 260.7,276.5 260.9,276 261,275.5 261.2,273.2 261.3,276.3 261.5,275.6 261.6,273.3 261.8,271.3 261.9,272 262.1,270.5 262.2,270 262.4,270.5 262.5,269.1 262.7,270 262.8,273.1 263,272 263.1,273.8 263.3,271 263.4,271.2 263.5,270 263.7,267.9 263.8,267.5 264,264.7 264.1,268.9 264.3,267 264.4,266.4 264.6,264.7 264.7,265.8 264.9,266 265,265.7 265.2,267 265.3,264.8 265.5,265.7 265.6,265.2 265.8,265.5 265.9,263.8 266.1,261.2 266.2,260.2 266.4,261 266.5,262.7 266.7,264 266.8,265.2 267,263.8 267.1,261.9 267.3,260.9 267.4,261.8 267.6,261.8 267.7,260.7 267.9,260.7 268,260.3 268.2,257.6 268.3,258 268.4,258.3 268.6,259.9 268.7,259.5 268.9,258.6 269,259.1 269.2,257.5 269.3,255 269.5,256.1 269.6,255.8 269.8,250.3 269.9,249.1 270.1,250.3 270.2,251.9 270.4,251.8 270.5,251.3 270.7,251.5 270.8,250.4 271,252.2 271.1,250.2 271.3,250.8 271.4,246.3 271.6,246.7 271.7,251.9 271.9,252.3 272,251.7 272.2,250.2 272.3,249.1 272.5,248.8 272.6,249.7 272.8,243 272.9,238.9 273,237.2 273.2,237.2 273.3,245.8 273.5,251.4 273.6,253.3 273.8,251.1 273.9,250.8 274.1,248.3 274.2,243.4 274.4,251.3 274.5,249.7 274.7,250.7 274.8,248.2 275,250.4 275.1,252.6 275.3,247.5 275.4,247.7 275.6,251.2 275.7,247.6 275.9,246.3 276,250.6 276.2,249.1 276.3,245.3 276.5,245.3 276.6,241.1 276.8,238.4 276.9,247 277.1,246.2 277.2,252 277.4,249.5 277.5,250.2 277.6,245.2 277.8,246.9 277.9,241.5 278.1,236.6 278.2,232.3 278.4,243.6 278.5,248.5 278.7,250 278.8,250 279,250 279.1,249.8 279.3,245.7 279.4,247.2 279.6,245.7 279.7,244.8 279.9,243.7 280,244.6 280.2,244.7 280.3,246.2 280.5,236.6 280.6,236.2 280.8,234.5 280.9,237.7 281.1,240.3 281.2,246.7 281.4,230.7 281.5,223.5 281.7,221 281.8,222.2 282,233.2 282.1,244.3 282.3,249 282.4,237.4 282.5,231.2 282.7,240.1 282.8,250.7 283,255 283.1,253.5 283.3,250.9 283.4,240.7 283.6,246.5 283.7,249.9 283.9,249.4 284,250.2 284.2,249.1 284.3,248.3 284.5,246.3 284.6,245.8 284.8,252.1 284.9,260.2 285.1,258 285.2,259.2 285.4,259.4 285.5,258.6 285.7,260.8 285.8,257.2 286,254.1 286.1,252.9 286.3,250.8 286.4,249.6 286.6,254.6 286.7,257.4 286.9,256.5 287,259 287.1,260.1 287.3,258.5 287.4,260 287.6,257.8 287.7,260 287.9,259.7 288,262.5 288.2,266 288.3,266 288.5,265.5 288.6,266 288.8,261.5 288.9,263.4 289.1,263.2 289.2,262.1 289.4,255.9 289.5,254 289.7,249.5 289.8,249 290,265.7 290.1,266.2 290.3,269.1 290.4,266.3 290.6,272.6 290.7,272.6 290.9,271.1 291,269.6 291.2,265.8 291.3,264.2 291.5,257.9 291.6,260.2 291.7,261 291.9,256 292,254.9 292.2,254.9 292.3,256.1 292.5,256.1 292.6,257.1 292.8,261.1 292.9,259.7 293.1,260.5 293.2,262.1 293.4,259.7 293.5,258.5 293.7,255.5 293.8,255.3 294,263.6 294.1,264.4 294.3,266.7 294.4,260.5 294.6,255 294.7,254.1 294.9,262.1 295,263.8 295.2,267.6 295.3,259.1 295.5,257.8 295.6,250.4 295.8,250 295.9,245 296.1,248.1 296.2,251.7 296.4,254.7 296.5,247.6 296.6,244.6 296.8,248 296.9,247.6 297.1,244.6 297.2,246 297.4,248.3 297.5,245.8 297.7,246.2 297.8,249.5 298,249.3 298.1,250.3 298.3,251 298.4,251.9 298.6,251.4 298.7,250.9 298.9,251.5 299,252.6 299.2,252.3 299.3,251.4 299.5,251.7 299.6,249.3 299.8,249.4 299.9,254.2 300.1,252.5 300.2,250.6 300.4,249.7 300.5,251.8 300.7,249.4 300.8,248.4 301,247.4 301.1,247 301.2,244.3 301.4,244.2 301.5,243 301.7,244.1 301.8,242.4 302,243.3 302.1,243.3 302.3,242.4 302.4,242.4 302.6,244.4 302.7,246.6 302.9,247.3 303,248.2 303.2,248.5 303.3,248.5 303.5,247.6 303.6,245.3 303.8,244.4 303.9,246.6 304.1,244.8 304.2,245.5 304.4,245.4 304.5,246.8 304.7,246.3 304.8,244.2 305,245.5 305.1,243.9 305.3,244.9 305.4,250.9 305.6,249.6 305.7,247.2 305.8,251.3 306,252.6 306.1,253.1 306.3,260 306.4,261.7 306.6,265.2 306.7,260.5 306.9,262.3 307,263.3 307.2,258.9 307.3,263.3 307.5,265.1 307.6,265.1 307.8,265.4 307.9,265.7 308.1,265 308.2,267.7 308.4,268.1 308.5,267.3 308.7,264.8 308.8,265.3 309,266.8 309.1,266.6 309.3,266.2 309.4,267.9 309.6,270.8 309.7,269.4 309.9,269 310,269 310.2,270.5 310.3,271.6 310.5,272 310.6,275.1 310.7,275 310.9,274.3 311,275.5 311.2,275.5 311.3,274.2 311.5,275 311.6,274.6 311.8,274.7 311.9,274.2 312.1,274 312.2,273 312.4,273.4 312.5,273.5 312.7,274 312.8,274.2 313,270.6 313.1,268.2 313.3,269.3 313.4,270.1 313.6,271.3 313.7,271.8 313.9,268.6 314,267.2 314.2,264.4 314.3,264 314.5,263.6 314.6,260.8 314.8,258.5 314.9,253.3 315.1,258.2 315.2,255.1 315.3,254.8 315.5,255.6 315.6,252 315.8,248.8 315.9,247.6 316.1,246.1 316.2,247.3 316.4,244.1 316.5,245.6 316.7,244.8 316.8,243.6 317,243.1 317.1,244.9 317.3,243.4 317.4,246.1 317.6,245.9 317.7,247.3 317.9,248.5 318,248.5 318.2,248.5 318.3,245.6 318.5,244.4 318.6,243.7 318.8,245.2 318.9,243.7 319.1,243.3 319.2,242.2 319.4,240.9 319.5,242.2 319.7,244.8 319.8,243.9 319.9,245.9 320.1,244.4 320.2,244.1 320.4,245.2 320.5,246 320.7,240.9 320.8,243.9 321,240.1 321.1,242.9 321.3,240 321.4,234.1 321.6,235.1 321.7,234.9 321.9,235.4 322,231.3 322.2,231.7 322.3,235.6 322.5,237.6 322.6,238.4 322.8,238.5 322.9,247.2 323.1,244.3 323.2,243.4 323.4,248.5 323.5,247.4 323.7,249.8 323.8,254.9 324,255.8 324.1,252.2 324.3,254 324.4,257.8 324.6,255.5 324.7,256.8 324.8,256.2 325,264.4 325.1,265.6 325.3,261.6 325.4,254 325.6,249.1 325.7,247.1 325.9,246.4 326,260.7 326.2,253.1 326.3,246.4 326.5,248.5 326.6,248.9 326.8,246.8 326.9,252.6 327.1,248.3 327.2,247 327.4,244.1 327.5,243.3 327.7,243.8 327.8,243.5 328,244.5 328.1,246.2 328.3,248.5 328.4,247.6 328.6,248.4 328.7,248.1 328.9,247.4 329,249 329.2,246.2 329.3,246.5 329.4,246.5 329.6,247.5 329.7,249 329.9,251.5 330,255.4 330.2,255.7 330.3,255.2 330.5,255 330.6,257.2 330.8,257.7 330.9,256 331.1,256.2 331.2,259 331.4,257.8 331.5,259 331.7,256.2 331.8,257.7 332,258.5 332.1,259 332.3,259.1 332.4,257.8 332.6,257.9 332.7,257.7 332.9,255.8 333,256.5 333.2,256.3 333.3,255.4 333.5,257.7 333.6,258.9 333.8,259.5 333.9,258.9 334,258.8 334.2,257.3 334.3,258 334.5,256 334.6,258.3 334.8,258.7 334.9,259.3 335.1,258 335.2,260 335.4,260.4 335.5,262.3 335.7,261.7 335.8,262.1 336,263.8 336.1,265.1 336.3,265.9 336.4,265.9 336.6,265.4 336.7,267.1 336.9,267.6 337,263.6 337.2,264.6 337.3,265 337.5,264.4 337.6,265.8 337.8,265.9 337.9,265.6 338.1,265.4 338.2,267.6 338.4,268.9 338.5,267.9 338.7,269.1 338.8,269.5 338.9,269.5 339.1,268.7 339.2,269.5 339.4,268.5 339.5,268 339.7,267.3 339.8,267.4 340,267.6 340.1,268.2 340.3,267.6 340.4,265.6 340.6,264.3 340.7,264.9 340.9,264.5 341,265.5 341.2,267 341.3,267.6 341.5,267.3 341.6,268.2 341.8,268.1 341.9,269.6 342.1,271 342.2,270.2 342.4,268.9 342.5,268.6 342.7,267.5 342.8,269.2 343,268 343.1,270.7 343.3,271 343.4,271 343.5,270.7 343.7,271 343.8,270.6 344,265.3 344.1,265.9 344.3,264.4 344.4,267.3 344.6,268.3 344.7,265.2 344.9,263.2 345,264.4 345.2,262.5 345.3,261.5 345.5,262.8 345.6,261.5 345.8,262 345.9,262.3 346.1,264.3 346.2,265.4 346.4,263.8 346.5,261.9 346.7,260.2 346.8,265.5 347,265.5 347.1,265.7 347.3,265.5 347.4,263.2 347.6,264.1 347.7,264.4 347.9,263.2 348,265.5 348.1,266.7 348.3,265.4 348.4,264.6 348.6,270.6 348.7,272 348.9,270.8 349,270.7 349.2,269.3 349.3,270.1 349.5,271.8 349.6,270.2 349.8,268.7 349.9,269.1 350.1,269.3 350.2,271.6 350.4,271.2 350.5,271.9 350.7,273 350.8,273 351,274.7 351.1,274.3 351.3,273.3 351.4,274 351.6,273.9 351.7,274.7 351.9,273.4 352,273.3 352.2,273 352.3,273.3 352.5,272.6 352.6,273.6 352.8,273.2 352.9,273.2 353,272.4 353.2,271.5 353.3,272.3 353.5,272.4 353.6,272.6 353.8,272.5 353.9,274.7 354.1,275.9 354.2,276.3 354.4,276.4 354.5,274.6 354.7,274.8 354.8,275 355,276.7 355.1,273.3 355.3,276.3 355.4,276.4 355.6,274.5 355.7,277.5 355.9,278.1 356,278.1 356.2,278.1 356.3,278.1 356.5,278.1 356.6,278.1 356.8,278.1 356.9,278.1 357.1,277.4 357.2,277 357.4,275.5 357.5,274.9 357.6,271.4 357.8,271.1 357.9,272.5 358.1,272.2 358.2,271.5 358.4,272.8 358.5,272.3 358.7,269.6 358.8,267.6 359,268.9 359.1,262.6 359.3,266.9 359.4,266.3 359.6,264.2 359.7,265 359.9,262.9 360,262 360.2,262 360.3,262 360.5,262 360.6,262 360.8,262 360.9,262 361.1,262 361.2,262 361.4,262 361.5,262.9 361.7,264.5 361.8,264.3 362,263.3 362.1,262 362.2,263.4 362.4,263.6 362.5,263.2 362.7,264.3 362.8,266 363,266 363.1,264.8 363.3,264.8 363.4,262 363.6,259.6 363.7,260.1 363.9,259.2 364,260.7 364.2,260.2 364.3,259.2 364.5,261.3 364.6,260.9 364.8,263 364.9,257.2 365.1,258.3 365.2,258.2 365.4,256.7 365.5,254.2 365.7,257.7 365.8,254.7 366,254.2 366.1,248.5 366.3,250.3 366.4,250.6 366.6,247.9 366.7,246.9 366.9,244.8 367,246.9 367.1,247.1 367.3,249.7 367.4,247 367.6,247.1 367.7,249.9 367.9,255.1 368,255.6 368.2,252.3" stroke="#000080" stroke-width="1.25"/>
</g>
<rect x="212.5" y="187" width="163.1" height="102.3" fill="none" stroke="#757575" stroke-width="1"/>
<text class="tk" transform="translate(210.5,287.7) scale(0.905,1)" text-anchor="end">0</text>
<text class="tk" transform="translate(210.5,265.9) scale(0.905,1)" text-anchor="end">5</text>
<text class="tk" transform="translate(210.5,244.1) scale(0.905,1)" text-anchor="end">10</text>
<text class="tk" transform="translate(210.5,222.2) scale(0.905,1)" text-anchor="end">15</text>
<text class="tk" transform="translate(210.5,200.5) scale(0.905,1)" text-anchor="end">20</text>
<text class="tk" transform="translate(219.9,294.1) scale(0.905,1)" text-anchor="middle">0</text>
<text class="tk" transform="translate(249.6,294.1) scale(0.905,1)" text-anchor="middle">200</text>
<text class="tk" transform="translate(279.3,294.1) scale(0.905,1)" text-anchor="middle">400</text>
<text class="tk" transform="translate(309,294.1) scale(0.905,1)" text-anchor="middle">600</text>
<text class="tk" transform="translate(338.7,294.1) scale(0.905,1)" text-anchor="middle">800</text>
<text class="tk" transform="translate(368.3,294.1) scale(0.905,1)" text-anchor="middle">1000</text>
<text class="tk" transform="translate(294.1,299.9) scale(0.905,1)" text-anchor="middle">Hour</text>
<text class="tk" transform="translate(203.9,238.2) rotate(-90) scale(0.905,1)" text-anchor="middle">Wind Speed (m/s)</text>
<line x1="331.2" y1="192.4" x2="340" y2="192.4" stroke="#fa8072" stroke-width="1.0"/>
<text class="lg" transform="translate(343.1,194.1) scale(0.905,1)">ERA5</text>
<line x1="331.2" y1="198.4" x2="340" y2="198.4" stroke="#ffd700" stroke-width="1.0"/>
<text class="lg" transform="translate(343.1,200.1) scale(0.905,1)">COSMO-REA6</text>
<line x1="331.2" y1="204.4" x2="340" y2="204.4" stroke="#9acd32" stroke-width="1.0"/>
<text class="lg" transform="translate(343.1,206.1) scale(0.905,1)">Observed</text>
<line x1="331.2" y1="210.4" x2="340" y2="210.4" stroke="#000080" stroke-width="1.0"/>
<text class="lg" transform="translate(343.1,212.1) scale(0.905,1)">Corrected</text>
</g>
<g>
<text class="pl" x="392.2" y="175.9">(f)</text>
<clipPath id="clipf"><rect x="408.6" y="186.8" width="163" height="102.5"/></clipPath>
<g clip-path="url(#clipf)" fill="none" stroke-linejoin="round">
<polyline points="416,280.6 416.2,279.4 416.3,276.7 416.5,279.2 416.6,276.2 416.8,277.6 416.9,278.2 417,277.8 417.2,277.2 417.3,277.7 417.5,278.6 417.6,278.6 417.8,277.8 417.9,277.8 418.1,279.2 418.2,278.9 418.4,278.8 418.5,277.9 418.7,277.9 418.8,277.9 419,277.2 419.1,277.2 419.3,276.8 419.4,277.1 419.6,278.3 419.7,276.8 419.9,276.8 420,276.9 420.2,276.1 420.3,275.7 420.5,275.1 420.6,275.3 420.8,274.8 420.9,275.1 421.1,274.9 421.2,274.7 421.3,274.7 421.5,274.6 421.6,274.6 421.8,275 421.9,274.6 422.1,275.2 422.2,275.3 422.4,275.9 422.5,275.9 422.7,276 422.8,275.9 423,276.7 423.1,276 423.3,275.6 423.4,274.3 423.6,274.7 423.7,275 423.9,274.4 424,274.2 424.2,273.6 424.3,273.2 424.5,274 424.6,274.6 424.8,275 424.9,274.5 425.1,274.6 425.2,274.8 425.4,275.2 425.5,274.7 425.7,275.4 425.8,276.1 425.9,276.5 426.1,276 426.2,276 426.4,276.1 426.5,276.6 426.7,276.4 426.8,276.2 427,276 427.1,275.9 427.3,276.3 427.4,276.2 427.6,276.4 427.7,275.8 427.9,275.1 428,274.9 428.2,274.9 428.3,275 428.5,275.7 428.6,276 428.8,276.5 428.9,275.9 429.1,275.6 429.2,276.6 429.4,277.6 429.5,274.4 429.7,276.7 429.8,276.5 430,276.6 430.1,276.8 430.2,277.2 430.4,277.2 430.5,277.6 430.7,275.5 430.8,277.8 431,277.9 431.1,277.5 431.3,277.3 431.4,278.7 431.6,278.4 431.7,279.3 431.9,278.8 432,280 432.2,279.5 432.3,278.7 432.5,278.2 432.6,279.4 432.8,278.7 432.9,279.4 433.1,280.5 433.2,279.7 433.4,280.3 433.5,279.6 433.7,278.7 433.8,279.8 434,279.5 434.1,279.9 434.3,280 434.4,280.1 434.6,280.2 434.7,279.5 434.8,279.8 435,279.3 435.1,280.5 435.3,280 435.4,280.2 435.6,279.8 435.7,279.7 435.9,279.4 436,279.7 436.2,280 436.3,280.8 436.5,280.5 436.6,280.4 436.8,279.1 436.9,279.2 437.1,278.1 437.2,279 437.4,279.1 437.5,279.2 437.7,278.6 437.8,279 438,279.3 438.1,279.1 438.3,279.4 438.4,279.5 438.6,279.1 438.7,279.8 438.9,279.9 439,279 439.1,279.1 439.3,279.2 439.4,279.2 439.6,280.4 439.7,280 439.9,279.5 440,277.3 440.2,278.6 440.3,278.3 440.5,277.7 440.6,277.8 440.8,277.6 440.9,278.7 441.1,278.5 441.2,278.5 441.4,278.7 441.5,279.6 441.7,279.7 441.8,280.3 442,279.7 442.1,279.1 442.3,279 442.4,278.1 442.6,278.7 442.7,277.6 442.9,276.5 443,276.7 443.2,276.8 443.3,276.3 443.5,276 443.6,275.5 443.7,275.5 443.9,275.7 444,275.5 444.2,275.5 444.3,275.9 444.5,275.5 444.6,275.5 444.8,275.9 444.9,275.7 445.1,276 445.2,277.3 445.4,276.2 445.5,277.5 445.7,278.4 445.8,279 446,279.3 446.1,276.8 446.3,279.3 446.4,276.5 446.6,278.8 446.7,279.1 446.9,278.8 447,279.9 447.2,280 447.3,279.2 447.5,277.9 447.6,278.2 447.8,279.3 447.9,279.5 448,279.9 448.2,279.3 448.3,279 448.5,279.2 448.6,279.7 448.8,281.1 448.9,281.5 449.1,281.1 449.2,282.7 449.4,282.3 449.5,281.9 449.7,281.8 449.8,280.8 450,280.8 450.1,281.8 450.3,282.4 450.4,282.1 450.6,282.7 450.7,281.5 450.9,281.6 451,282.4 451.2,281 451.3,281.1 451.5,279.9 451.6,280.6 451.8,280.1 451.9,280.6 452.1,280.6 452.2,281.4 452.3,280.7 452.5,281.3 452.6,281.8 452.8,280 452.9,281.7 453.1,281.4 453.2,281.7 453.4,281.9 453.5,281.7 453.7,282.1 453.8,282 454,281.8 454.1,281.7 454.3,281.9 454.4,281.7 454.6,282.4 454.7,282.3 454.9,283.1 455,283.1 455.2,282.4 455.3,281.3 455.5,281.1 455.6,280.8 455.8,279.9 455.9,282.6 456.1,282.8 456.2,282.6 456.4,282.3 456.5,282.4 456.7,283 456.8,283.2 456.9,283.7 457.1,284 457.2,284 457.4,284 457.5,283.9 457.7,284 457.8,283.7 458,284 458.1,283 458.3,283.2 458.4,282 458.6,281.5 458.7,282.1 458.9,281.7 459,282 459.2,281.6 459.3,281.6 459.5,281.2 459.6,281.7 459.8,280.9 459.9,281.2 460.1,281.3 460.2,280.3 460.4,280.5 460.5,279.9 460.7,280.3 460.8,280.9 461,281.7 461.1,281.6 461.2,283.1 461.4,283.2 461.5,282.6 461.7,283.1 461.8,282.9 462,282.4 462.1,282.2 462.3,281.4 462.4,283 462.6,282.3 462.7,282.7 462.9,283.4 463,282.5 463.2,283.7 463.3,283.3 463.5,283.4 463.6,283.7 463.8,282.3 463.9,280.4 464.1,282.2 464.2,280.8 464.4,281.9 464.5,281.1 464.7,280.8 464.8,281.7 465,280.8 465.1,280.6 465.3,280.4 465.4,280.9 465.6,281.6 465.7,281.5 465.8,280.3 466,280.2 466.1,280.2 466.3,279.8 466.4,280.9 466.6,280.2 466.7,281 466.9,280.6 467,280.5 467.2,279.9 467.3,280.2 467.5,279.3 467.6,279.7 467.8,280.7 467.9,279.3 468.1,279 468.2,278.2 468.4,279.6 468.5,278.2 468.7,278.1 468.8,277.8 469,277.1 469.1,276.1 469.3,276 469.4,275.2 469.6,274.6 469.7,275.2 469.9,274.3 470,273.9 470.1,273.3 470.3,274.5 470.4,274.4 470.6,273.9 470.7,272.6 470.9,275.2 471,276.1 471.2,276.2 471.3,275.5 471.5,276 471.6,275.2 471.8,274 471.9,272.8 472.1,272.2 472.2,272.6 472.4,272.9 472.5,272.2 472.7,271.7 472.8,271.7 473,272.3 473.1,272.3 473.3,272.8 473.4,273.3 473.6,272.9 473.7,272.7 473.9,273.6 474,273.3 474.2,274.4 474.3,274.5 474.5,274.2 474.6,274.5 474.7,273.5 474.9,275.2 475,272.6 475.2,275.2 475.3,275.3 475.5,274.1 475.6,273.6 475.8,273.3 475.9,272.8 476.1,272.8 476.2,273.4 476.4,273.9 476.5,274 476.7,273.9 476.8,273.8 477,274.1 477.1,274.6 477.3,275.2 477.4,275 477.6,273.6 477.7,274.4 477.9,274.3 478,274.2 478.2,275.8 478.3,276.5 478.5,276.8 478.6,277.1 478.8,276.4 478.9,274.8 479,275 479.2,276.6 479.3,277.1 479.5,276.8 479.6,277.9 479.8,278 479.9,277.7 480.1,277.7 480.2,277.8 480.4,278 480.5,278 480.7,278.6 480.8,278.5 481,278 481.1,278.6 481.3,276.5 481.4,279 481.6,279.2 481.7,279.2 481.9,279.1 482,278.5 482.2,278 482.3,277.7 482.5,278.6 482.6,279.7 482.8,277.9 482.9,278.4 483.1,278.7 483.2,278.9 483.4,279 483.5,279.5 483.6,279.8 483.8,278.5 483.9,279 484.1,279.4 484.2,279.7 484.4,279.2 484.5,278.9 484.7,278.4 484.8,277.2 485,276.3 485.1,277.3 485.3,276.5 485.4,276.8 485.6,277.5 485.7,277.4 485.9,277.2 486,277.7 486.2,275.5 486.3,275.5 486.5,277.3 486.6,277.3 486.8,277.1 486.9,276.6 487.1,277.5 487.2,277.9 487.4,278.2 487.5,278.3 487.7,277.9 487.8,278.7 487.9,278.9 488.1,278.9 488.2,278.9 488.4,277.3 488.5,278.9 488.7,280.5 488.8,279.3 489,278 489.1,279.5 489.3,279.6 489.4,279.3 489.6,279.3 489.7,278.9 489.9,278.9 490,278.4 490.2,278 490.3,277.8 490.5,277.4 490.6,277.6 490.8,277.6 490.9,277.7 491.1,277.4 491.2,277.3 491.4,278.3 491.5,278.6 491.7,277.7 491.8,277.7 492,278.1 492.1,277.8 492.3,278.8 492.4,278.2 492.5,278 492.7,277.7 492.8,278 493,278.2 493.1,278.1 493.3,278.1 493.4,278.7 493.6,278.9 493.7,278.4 493.9,278.6 494,277.5 494.2,279.7 494.3,279.7 494.5,279.1 494.6,279.7 494.8,278.9 494.9,279 495.1,279.9 495.2,280 495.4,280.7 495.5,279.8 495.7,280.7 495.8,280.8 496,281.1 496.1,280.6 496.3,280.4 496.4,278.6 496.6,279.8 496.7,280.9 496.8,281 497,279.6 497.1,281.3 497.3,281.5 497.4,281.5 497.6,280.5 497.7,280.1 497.9,280.8 498,281.2 498.2,281.2 498.3,281.9 498.5,281.9 498.6,280.5 498.8,282.2 498.9,282.5 499.1,281.1 499.2,280.9 499.4,280.8 499.5,280.8 499.7,280.8 499.8,281.8 500,282.7 500.1,282.7 500.3,282.1 500.4,281.5 500.6,281 500.7,281.5 500.9,281.1 501,281.9 501.2,281.3 501.3,282.1 501.4,281.8 501.6,281.3 501.7,281.5 501.9,281.5 502,281.8 502.2,281 502.3,280.1 502.5,281 502.6,281.4 502.8,280.7 502.9,280.7 503.1,281.5 503.2,281 503.4,280.8 503.5,282 503.7,281.2 503.8,281.4 504,282.1 504.1,282.1 504.3,282.2 504.4,282.1 504.6,281.3 504.7,281.5 504.9,282.3 505,281.9 505.2,281.7 505.3,281.5 505.5,281.5 505.6,281.7 505.7,282.4 505.9,282.7 506,282.6 506.2,282.2 506.3,282.3 506.5,281.9 506.6,282 506.8,281.9 506.9,283.1 507.1,282.2 507.2,282.1 507.4,281.4 507.5,281.3 507.7,281.8 507.8,281.2 508,281.2 508.1,281.5 508.3,281.7 508.4,281.1 508.6,280.5 508.7,280.4 508.9,280.4 509,281.8 509.2,281.7 509.3,281.6 509.5,281.2 509.6,282 509.8,282.2 509.9,282.2 510.1,281.9 510.2,281 510.3,281.5 510.5,280.6 510.6,280.4 510.8,280.8 510.9,280.9 511.1,281.1 511.2,281.1 511.4,282.3 511.5,281.7 511.7,281.5 511.8,280.7 512,280.4 512.1,280.8 512.3,280.6 512.4,281.1 512.6,281.7 512.7,282 512.9,281.6 513,280.5 513.2,280.9 513.3,281.3 513.5,281.1 513.6,281.5 513.8,280.8 513.9,281.5 514.1,281.5 514.2,281.3 514.4,281.5 514.5,281.3 514.6,281 514.8,281.6 514.9,282 515.1,282.8 515.2,282.8 515.4,282.8 515.5,282.8 515.7,282.8 515.8,282.5 516,281.3 516.1,281.9 516.3,281 516.4,280.7 516.6,281 516.7,282.1 516.9,280.6 517,280.6 517.2,281 517.3,281.6 517.5,281.2 517.6,281.7 517.8,281.6 517.9,282.2 518.1,282.1 518.2,281.8 518.4,281.5 518.5,281.3 518.7,281.9 518.8,281.4 519,282.6 519.1,282.6 519.2,282.7 519.4,282 519.5,280.9 519.7,281.1 519.8,279.9 520,282.3 520.1,282.7 520.3,282.3 520.4,281.5 520.6,280.3 520.7,281.5 520.9,281.9 521,282.3 521.2,283.5 521.3,283.3 521.5,282.1 521.6,281.7 521.8,281.6 521.9,281.2 522.1,282 522.2,282.1 522.4,282.3 522.5,281.3 522.7,281.3 522.8,280.7 523,280.4 523.1,280.8 523.3,280.6 523.4,280.7 523.5,281.7 523.7,282.1 523.8,281 524,279.2 524.1,280.5 524.3,280.9 524.4,281.2 524.6,279 524.7,279.8 524.9,280.9 525,281.2 525.2,281.7 525.3,281.5 525.5,281.1 525.6,279 525.8,279.6 525.9,280.7 526.1,280.7 526.2,280.1 526.4,279.3 526.5,279.5 526.7,279.7 526.8,280.3 527,280 527.1,280.4 527.3,280.5 527.4,281.2 527.6,280.5 527.7,280.2 527.9,279.4 528,280 528.1,280.1 528.3,280.3 528.4,280.8 528.6,281.6 528.7,281.4 528.9,280.8 529,281.3 529.2,281.2 529.3,281.6 529.5,281.6 529.6,281.1 529.8,281.1 529.9,281.5 530.1,281.6 530.2,282.8 530.4,281.9 530.5,282.1 530.7,282.1 530.8,282.2 531,282.2 531.1,282.1 531.3,281.9 531.4,282 531.6,281.3 531.7,281.2 531.9,281.4 532,281.6 532.2,281.2 532.3,281.6 532.4,281.1 532.6,281.1 532.7,280.9 532.9,280.2 533,280.3 533.2,280.2 533.3,281 533.5,281.7 533.6,282.1 533.8,281.5 533.9,281.5 534.1,281.7 534.2,280.9 534.4,280 534.5,281.3 534.7,280.1 534.8,280.1 535,282.5 535.1,281.7 535.3,282.2 535.4,282 535.6,280.9 535.7,282 535.9,282 536,280.4 536.2,281.3 536.3,281.6 536.5,282.2 536.6,282.1 536.7,280.2 536.9,282.2 537,282.3 537.2,281.7 537.3,282.5 537.5,282.6 537.6,281.6 537.8,281.9 537.9,281.3 538.1,280.6 538.2,279.9 538.4,280.1 538.5,279.9 538.7,280.1 538.8,280.1 539,281.3 539.1,280.1 539.3,280.4 539.4,279.9 539.6,280.1 539.7,280.4 539.9,281 540,281.6 540.2,282 540.3,282 540.5,281.6 540.6,279.9 540.8,281.1 540.9,280.9 541.1,280.2 541.2,280.5 541.3,280.3 541.5,280 541.6,280.8 541.8,281.4 541.9,280.9 542.1,281.1 542.2,281.3 542.4,281.5 542.5,281.6 542.7,281.8 542.8,282.5 543,282 543.1,280.7 543.3,282.2 543.4,281.7 543.6,280.3 543.7,281.9 543.9,281.2 544,281.6 544.2,281.3 544.3,281 544.5,282.3 544.6,282.1 544.8,281.6 544.9,282.4 545.1,283.1 545.2,283 545.4,282.1 545.5,280.5 545.6,280.5 545.8,280.7 545.9,281.3 546.1,281.5 546.2,281.1 546.4,280.6 546.5,281.4 546.7,281.1 546.8,280.6 547,281.4 547.1,281.7 547.3,282.1 547.4,282.4 547.6,282.6 547.7,283 547.9,283.3 548,282.6 548.2,281.9 548.3,281.5 548.5,281.5 548.6,280.9 548.8,281.7 548.9,282.2 549.1,282 549.2,282.3 549.4,282 549.5,281.4 549.7,281.1 549.8,281.9 550,281 550.1,281.6 550.2,282.2 550.4,281.8 550.5,282.9 550.7,283 550.8,282.2 551,281.8 551.1,281.2 551.3,282.3 551.4,282.7 551.6,282.6 551.7,282.4 551.9,283.5 552,283.5 552.2,283.5 552.3,283 552.5,282.5 552.6,282.8 552.8,282.4 552.9,281.6 553.1,281.6 553.2,283 553.4,283.3 553.5,282.8 553.7,282.4 553.8,281.7 554,281.6 554.1,282.2 554.3,281.7 554.4,282 554.5,282.1 554.7,282.8 554.8,283.1 555,282.6 555.1,283.5 555.3,282.1 555.4,282.4 555.6,282.1 555.7,281.8 555.9,282.8 556,282.8 556.2,282.5 556.3,283.1 556.5,282.7 556.6,282.6 556.8,282.7 556.9,283.4 557.1,283.2 557.2,283.1 557.4,283 557.5,283.2 557.7,282.3 557.8,282 558,281.3 558.1,281.6 558.3,282.5 558.4,282.7 558.6,282.1 558.7,282.1 558.9,282.2 559,282.5 559.1,282.8 559.3,282 559.4,280.1 559.6,281.4 559.7,279.9 559.9,281.7 560,279.9 560.2,281.9 560.3,281.3 560.5,281.7 560.6,281.9 560.8,281.6 560.9,281.9 561.1,281.7 561.2,281.4 561.4,280.6 561.5,280.9 561.7,279.6 561.8,279.2 562,279.9 562.1,280.3 562.3,279 562.4,281.1 562.6,281.2 562.7,280.8 562.9,281.7 563,281.1 563.2,281.7 563.3,281.2 563.4,281 563.6,279.3 563.7,280.6 563.9,279.7 564,279.9 564.2,279.8" stroke="#fa8072" stroke-width="1.1"/>
<polyline points="416,274.6 416.2,270.3 416.3,273.4 416.5,270.5 416.6,268.6 416.8,271.7 416.9,271.7 417,268.7 417.2,267.2 417.3,267.7 417.5,267.7 417.6,268.2 417.8,265.4 417.9,266.8 418.1,265.3 418.2,263.7 418.4,267.3 418.5,267.6 418.7,268.2 418.8,268.6 419,271 419.1,271.2 419.3,271 419.4,270.2 419.6,269.7 419.7,270.1 419.9,271.2 420,269.3 420.2,267 420.3,269.5 420.5,267.5 420.6,268 420.8,263.8 420.9,262.5 421.1,264 421.2,265.3 421.3,265.9 421.5,262.2 421.6,264.2 421.8,264.9 421.9,266.1 422.1,262.2 422.2,263.8 422.4,262.3 422.5,257 422.7,256.2 422.8,256.2 423,259.8 423.1,262.4 423.3,260.7 423.4,259.8 423.6,258.2 423.7,255.6 423.9,255.6 424,257.2 424.2,252.4 424.3,252.4 424.5,255.3 424.6,261.1 424.8,257.5 424.9,259.6 425.1,261.6 425.2,266.9 425.4,267.6 425.5,267.7 425.7,265.2 425.8,268.7 425.9,268.7 426.1,269.5 426.2,269.9 426.4,272.3 426.5,271.1 426.7,271.7 426.8,272.7 427,272.7 427.1,272.4 427.3,271.5 427.4,270.2 427.6,267.9 427.7,271 427.9,267.3 428,269.3 428.2,262.9 428.3,266 428.5,265.7 428.6,266.6 428.8,264.4 428.9,263.2 429.1,262.8 429.2,260.9 429.4,262.5 429.5,259.1 429.7,261.8 429.8,268.2 430,266.1 430.1,271.9 430.2,266.4 430.4,268.6 430.5,270.3 430.7,274.5 430.8,268.7 431,269.9 431.1,267 431.3,271.3 431.4,272.5 431.6,272.6 431.7,278.9 431.9,279 432,275.7 432.2,276.8 432.3,277.5 432.5,278.9 432.6,279.7 432.8,280.6 432.9,280.6 433.1,279.2 433.2,277.7 433.4,277.7 433.5,278.4 433.7,276 433.8,276 434,276 434.1,276 434.3,277.5 434.4,277.4 434.6,278 434.7,279.9 434.8,278.4 435,279.9 435.1,279.4 435.3,278.2 435.4,279.7 435.6,279.9 435.7,279.9 435.9,277.9 436,278.5 436.2,278.6 436.3,277.2 436.5,278 436.6,277.9 436.8,277.2 436.9,277.5 437.1,277.3 437.2,278.8 437.4,276.3 437.5,277.1 437.7,275.8 437.8,276.5 438,276.9 438.1,276.5 438.3,277.7 438.4,278 438.6,277.9 438.7,277.3 438.9,278.7 439,278.9 439.1,278.6 439.3,276.9 439.4,278 439.6,277.3 439.7,275.1 439.9,276.9 440,275.2 440.2,274.1 440.3,275.6 440.5,277.3 440.6,276.9 440.8,274.9 440.9,273 441.1,272.8 441.2,272.8 441.4,275.1 441.5,275.4 441.7,276.8 441.8,275.7 442,275 442.1,274.2 442.3,272.7 442.4,271.6 442.6,272.7 442.7,273.8 442.9,274.6 443,275 443.2,272.3 443.3,271.7 443.5,273.3 443.6,270.8 443.7,268.2 443.9,268.2 444,269.7 444.2,270.6 444.3,271 444.5,270.1 444.6,272.9 444.8,272.2 444.9,271.8 445.1,272.9 445.2,273.7 445.4,274.1 445.5,274.2 445.7,274 445.8,274.2 446,276.3 446.1,273.5 446.3,275.3 446.4,275 446.6,275.7 446.7,274.7 446.9,275.1 447,275.9 447.2,277.2 447.3,277 447.5,277.7 447.6,278.4 447.8,280.2 447.9,280.3 448,282.5 448.2,281.1 448.3,281.6 448.5,282.6 448.6,281.9 448.8,283.6 448.9,283.7 449.1,283.3 449.2,282.9 449.4,281.9 449.5,283.3 449.7,283 449.8,282.5 450,283.2 450.1,282.1 450.3,282.4 450.4,283.2 450.6,283.1 450.7,282.5 450.9,284.3 451,282.1 451.2,283.5 451.3,284 451.5,282.8 451.6,281.1 451.8,283 451.9,282.7 452.1,281 452.2,281 452.3,281.6 452.5,282.4 452.6,281 452.8,282.3 452.9,282.1 453.1,281 453.2,281.3 453.4,281 453.5,281 453.7,281 453.8,281 454,281 454.1,281 454.3,281.1 454.4,281.5 454.6,283.7 454.7,284.9 454.9,284.5 455,281.6 455.2,280.3 455.3,280.8 455.5,281.5 455.6,282.9 455.8,281.2 455.9,279.8 456.1,280 456.2,279.8 456.4,280.7 456.5,280.5 456.7,279.5 456.8,279.7 456.9,279.3 457.1,279.3 457.2,279.3 457.4,279.3 457.5,279.3 457.7,279.3 457.8,279.3 458,280.8 458.1,280.9 458.3,281 458.4,280.8 458.6,282 458.7,281.3 458.9,282.5 459,281.4 459.2,282.8 459.3,282.9 459.5,282.2 459.6,283 459.8,282.2 459.9,283.4 460.1,282.5 460.2,280.5 460.4,281 460.5,280.1 460.7,281 460.8,279.3 461,280.8 461.1,282.4 461.2,281.9 461.4,281.3 461.5,282.6 461.7,281.8 461.8,280.6 462,280.3 462.1,279.7 462.3,280.5 462.4,282.1 462.6,280.7 462.7,281.5 462.9,281.5 463,281 463.2,279.7 463.3,278.2 463.5,277.8 463.6,278 463.8,277.6 463.9,277.6 464.1,277.5 464.2,277.9 464.4,279.7 464.5,280.1 464.7,279.4 464.8,280.1 465,280 465.1,279.5 465.3,280.5 465.4,279.9 465.6,275.5 465.7,275.8 465.8,276 466,276.3 466.1,277.2 466.3,277.6 466.4,277.7 466.6,275.9 466.7,272.3 466.9,274.9 467,277.6 467.2,275.1 467.3,275.2 467.5,274.2 467.6,272.3 467.8,272.3 467.9,272.5 468.1,275.1 468.2,271.3 468.4,275.8 468.5,269.8 468.7,265.4 468.8,264.9 469,265.1 469.1,265.1 469.3,263.8 469.4,264 469.6,260.9 469.7,260.2 469.9,257.6 470,257.8 470.1,258.2 470.3,259.6 470.4,261.7 470.6,257.6 470.7,261 470.9,259.4 471,260 471.2,260 471.3,260.3 471.5,262.1 471.6,262 471.8,266.3 471.9,264.1 472.1,262.1 472.2,264.1 472.4,269.3 472.5,266.1 472.7,269.3 472.8,269.3 473,268.8 473.1,268.7 473.3,269.3 473.4,267.2 473.6,267.1 473.7,263.4 473.9,264.8 474,263.1 474.2,262.8 474.3,260.5 474.5,260.4 474.6,261.7 474.7,260.2 474.9,260.5 475,262.5 475.2,262.8 475.3,268.4 475.5,267.7 475.6,268.4 475.8,266.1 475.9,267.2 476.1,269.2 476.2,267.9 476.4,266.8 476.5,269.3 476.7,263.7 476.8,261.1 477,266.9 477.1,259.4 477.3,258.9 477.4,260.5 477.6,259.1 477.7,259.2 477.9,258.5 478,258.5 478.2,258.5 478.3,258.5 478.5,259.1 478.6,258.5 478.8,261 478.9,261.9 479,261.3 479.2,262 479.3,260.8 479.5,267.8 479.6,268.6 479.8,270.7 479.9,269.4 480.1,267.5 480.2,271.3 480.4,273.1 480.5,275 480.7,275.5 480.8,276.5 481,276.1 481.1,274 481.3,275.7 481.4,273.4 481.6,272.9 481.7,275.6 481.9,273.1 482,272.6 482.2,272.4 482.3,272 482.5,270.3 482.6,269 482.8,269 482.9,269.7 483.1,271.6 483.2,274.3 483.4,271.8 483.5,274.1 483.6,275.3 483.8,273.1 483.9,275.1 484.1,278 484.2,277.6 484.4,276.6 484.5,277.3 484.7,277.3 484.8,276.5 485,275.7 485.1,278 485.3,277.1 485.4,273.7 485.6,276.2 485.7,275.6 485.9,275.7 486,273.5 486.2,275.3 486.3,270 486.5,270.7 486.6,267.2 486.8,271.7 486.9,271.8 487.1,271 487.2,268.6 487.4,266.8 487.5,269.4 487.7,270.5 487.8,270.6 487.9,268.8 488.1,270.8 488.2,269.5 488.4,267.1 488.5,266.6 488.7,269.6 488.8,273.1 489,274.8 489.1,272.3 489.3,272 489.4,273.8 489.6,270.9 489.7,269.1 489.9,269.1 490,269.1 490.2,270.8 490.3,269.5 490.5,269.5 490.6,270.6 490.8,272.8 490.9,274.2 491.1,271.6 491.2,276.6 491.4,276.7 491.5,269.9 491.7,267.2 491.8,269.9 492,275.9 492.1,275.4 492.3,279.1 492.4,274.8 492.5,270 492.7,271.2 492.8,274.2 493,276 493.1,276 493.3,277.8 493.4,275.4 493.6,273.3 493.7,276.3 493.9,273.8 494,278.7 494.2,277.3 494.3,279.5 494.5,280.9 494.6,280.6 494.8,279.3 494.9,280 495.1,281.5 495.2,279.9 495.4,278.6 495.5,279.2 495.7,281.4 495.8,281.3 496,281.7 496.1,281.7 496.3,281.7 496.4,281.7 496.6,281.7 496.7,281.7 496.8,281.7 497,281.7 497.1,281.7 497.3,281.2 497.4,280.7 497.6,278.7 497.7,279.4 497.9,279.2 498,279.1 498.2,278.9 498.3,280.1 498.5,281 498.6,280.8 498.8,279.2 498.9,277.8 499.1,279.3 499.2,277.6 499.4,278.4 499.5,278.6 499.7,278.5 499.8,280.5 500,281.7 500.1,278.9 500.3,279.7 500.4,280.6 500.6,279.8 500.7,278.8 500.9,279 501,279.3 501.2,280 501.3,280.1 501.4,281.3 501.6,279.3 501.7,279.6 501.9,277.8 502,278.3 502.2,277.9 502.3,277.4 502.5,277.8 502.6,278.3 502.8,276.7 502.9,276.4 503.1,277.6 503.2,277.3 503.4,278.8 503.5,276.6 503.7,279.1 503.8,277.1 504,276.7 504.1,275.4 504.3,279.2 504.4,277 504.6,278.8 504.7,277.9 504.9,278.7 505,279.9 505.2,279.2 505.3,278.6 505.5,279.9 505.6,280.6 505.7,280.5 505.9,282.4 506,281.5 506.2,281.7 506.3,280.9 506.5,281.4 506.6,282.5 506.8,281.9 506.9,282.5 507.1,282.4 507.2,282.5 507.4,282.1 507.5,282 507.7,281.1 507.8,279.5 508,280.2 508.1,279.3 508.3,280.9 508.4,282.5 508.6,283 508.7,281 508.9,282 509,282.8 509.2,283.4 509.3,282.4 509.5,281.8 509.6,281.6 509.8,282.2 509.9,282.4 510.1,282.9 510.2,283.2 510.3,278.7 510.5,278.9 510.6,280.6 510.8,280.8 510.9,281.6 511.1,281.1 511.2,281.1 511.4,280 511.5,279.7 511.7,280.1 511.8,280.9 512,281.6 512.1,280.5 512.3,281 512.4,279.5 512.6,279.3 512.7,277.6 512.9,277.6 513,277.6 513.2,277.8 513.3,277.8 513.5,277.8 513.6,277.7 513.8,277.6 513.9,277.5 514.1,277.5 514.2,279.4 514.4,279.2 514.5,279.5 514.6,278.7 514.8,277.6 514.9,278.4 515.1,277.5 515.2,278.5 515.4,278.3 515.5,280.4 515.7,281.6 515.8,281.6 516,280.4 516.1,278.7 516.3,279 516.4,280.5 516.6,280.4 516.7,280.6 516.9,280.6 517,281.4 517.2,280.1 517.3,280.5 517.5,281.6 517.6,281.6 517.8,281.1 517.9,281.6 518.1,277.6 518.2,278.9 518.4,279.5 518.5,278.6 518.7,278.2 518.8,278.5 519,280.9 519.1,279.1 519.2,281.5 519.4,278.9 519.5,279.4 519.7,280.3 519.8,280.4 520,282.7 520.1,283.4 520.3,281.1 520.4,279.9 520.6,280.6 520.7,280.5 520.9,280.3 521,279 521.2,280.7 521.3,281.1 521.5,282.5 521.6,281.3 521.8,281.5 521.9,280.8 522.1,278.1 522.2,279.5 522.4,278.2 522.5,278.5 522.7,277.6 522.8,279.6 523,279.7 523.1,279 523.3,279.4 523.4,278.9 523.5,276.6 523.7,277.8 523.8,275.8 524,275.6 524.1,275.8 524.3,274.5 524.4,275.6 524.6,273.4 524.7,273.3 524.9,275.3 525,275.5 525.2,275.3 525.3,273.8 525.5,274.3 525.6,274.1 525.8,274.7 525.9,274.4 526.1,280.6 526.2,278.4 526.4,278.7 526.5,278.5 526.7,278.2 526.8,281.1 527,281.7 527.1,281.7 527.3,281.7 527.4,278.1 527.6,280.6 527.7,281.4 527.9,281.6 528,281.6 528.1,280.6 528.3,281.3 528.4,281.2 528.6,279.5 528.7,281.5 528.9,279.3 529,278.4 529.2,278.6 529.3,278.4 529.5,278.4 529.6,278.4 529.8,278.4 529.9,278.4 530.1,278.8 530.2,279.8 530.4,279.2 530.5,278.6 530.7,280.3 530.8,279.5 531,279.3 531.1,279.6 531.3,278.6 531.4,278.3 531.6,278.7 531.7,278.2 531.9,280.7 532,278.9 532.2,279.8 532.3,280.5 532.4,280.6 532.6,280 532.7,279.7 532.9,280.6 533,281.1 533.2,280.1 533.3,278.3 533.5,277.8 533.6,277.5 533.8,280.7 533.9,280.8 534.1,280.2 534.2,280.5 534.4,281.3 534.5,279.3 534.7,277.6 534.8,277.5 535,277.5 535.1,277.8 535.3,278.2 535.4,281.3 535.6,281.6 535.7,281.6 535.9,281.4 536,281.3 536.2,279.9 536.3,279.1 536.5,277.6 536.6,278.9 536.7,279.9 536.9,281.6 537,281.6 537.2,281.6 537.3,281.2 537.5,279.5 537.6,279.8 537.8,279.5 537.9,278 538.1,277.6 538.2,277.6 538.4,278.7 538.5,278.4 538.7,277.6 538.8,277.6 539,277.6 539.1,277.7 539.3,277.7 539.4,277.8 539.6,278.2 539.7,277.7 539.9,277.6 540,278.3 540.2,278 540.3,279.9 540.5,280.8 540.6,280.8 540.8,280.7 540.9,280.6 541.1,280.6 541.2,280.5 541.3,279.6 541.5,277.1 541.6,277.6 541.8,278.8 541.9,277.9 542.1,277.3 542.2,277.1 542.4,278.6 542.5,277.9 542.7,277.9 542.8,277.8 543,276.7 543.1,276.7 543.3,276.7 543.4,277.6 543.6,277 543.7,276.7 543.9,276.7 544,279.3 544.2,278.5 544.3,279.3 544.5,279.2 544.6,277.4 544.8,277.3 544.9,279.5 545.1,278.4 545.2,280.1 545.4,279.6 545.5,281.3 545.6,281 545.8,281.9 545.9,281.3 546.1,280.5 546.2,280.2 546.4,280.4 546.5,279.7 546.7,282.2 546.8,282.5 547,282.5 547.1,279.8 547.3,282.5 547.4,282 547.6,282.2 547.7,282.5 547.9,282 548,282.5 548.2,282.5 548.3,282.5 548.5,282.5 548.6,282.5 548.8,282.5 548.9,280.5 549.1,281.8 549.2,280.2 549.4,280.3 549.5,280.7 549.7,280.9 549.8,281 550,279.6 550.1,279.5 550.2,279.4 550.4,280.8 550.5,280.5 550.7,280.9 550.8,280.9 551,280.7 551.1,279.3 551.3,279.5 551.4,279.5 551.6,279.3 551.7,279.3 551.9,280.4 552,279.9 552.2,279.4 552.3,280.7 552.5,279.5 552.6,280.3 552.8,281.8 552.9,281.8 553.1,280.6 553.2,279.6 553.4,280.7 553.5,280.6 553.7,281.5 553.8,281.1 554,282.3 554.1,281.9 554.3,282.1 554.4,281.5 554.5,282.3 554.7,281.3 554.8,282.2 555,282.2 555.1,280.6 555.3,280.8 555.4,281.1 555.6,281.7 555.7,280.1 555.9,280.5 556,282 556.2,282.4 556.3,283.4 556.5,282.8 556.6,283.2 556.8,281.4 556.9,279.5 557.1,279.4 557.2,279.4 557.4,279.8 557.5,280.8 557.7,280.6 557.8,280.6 558,280.7 558.1,280.3 558.3,280.1 558.4,279.9 558.6,280.1 558.7,280.7 558.9,279.9 559,280.1 559.1,278.7 559.3,281.3 559.4,281.4 559.6,281.8 559.7,281.1 559.9,280.6 560,279.8 560.2,278.3 560.3,280.4 560.5,279.5 560.6,278 560.8,278.5 560.9,278.5 561.1,279.1 561.2,276.8 561.4,277.3 561.5,277.4 561.7,278 561.8,276.4 562,275.9 562.1,276.5 562.3,277.5 562.4,278.2 562.6,278.9 562.7,278.2 562.9,278.8 563,279.1 563.2,279.8 563.3,281.7 563.4,281.7 563.6,281.4 563.7,280.3 563.9,280.4 564,280.3 564.2,279.3" stroke="#ffd700" stroke-width="1.15"/>
<polyline points="416,249 416.2,246.3 416.3,239.8 416.5,234 416.6,235.4 416.8,240.6 416.9,245.6 417,251.5 417.2,256.8 417.3,261.9 417.5,259.4 417.6,251.4 417.8,244 417.9,240.3 418.1,234.4 418.2,231.2 418.4,228.3 418.5,227.8 418.7,230.7 418.8,231.9 419,230.7 419.1,231.4 419.3,233.1 419.4,235.1 419.6,235.7 419.7,240.5 419.9,250.4 420,255.3 420.2,250.1 420.3,249.5 420.5,244.3 420.6,244.6 420.8,241.1 420.9,243.7 421.1,239.8 421.2,237.5 421.3,236.5 421.5,235.1 421.6,235.2 421.8,236.8 421.9,242 422.1,246.3 422.2,246.7 422.4,255.2 422.5,259.7 422.7,255.8 422.8,244.4 423,232.5 423.1,219.7 423.3,215.4 423.4,207.5 423.6,200.6 423.7,198.3 423.9,198.4 424,208.3 424.2,203.9 424.3,205.8 424.5,209.6 424.6,214.6 424.8,219.6 424.9,230.8 425.1,245.9 425.2,255.4 425.4,254.7 425.5,249.4 425.7,249 425.8,246.7 425.9,243.4 426.1,239.7 426.2,240.2 426.4,240.1 426.5,239 426.7,239.9 426.8,232.6 427,232.9 427.1,231.2 427.3,227.8 427.4,225.5 427.6,220.6 427.7,220.6 427.9,220.6 428,220.9 428.2,220.7 428.3,220.6 428.5,220.6 428.6,220.6 428.8,223.6 428.9,222.4 429.1,223.2 429.2,226.5 429.4,227.6 429.5,226.3 429.7,247.3 429.8,243.2 430,238.1 430.1,234.7 430.2,233.6 430.4,229.2 430.5,226.1 430.7,225.8 430.8,225.8 431,225.8 431.1,225.8 431.3,225.8 431.4,234.8 431.6,243.2 431.7,250.9 431.9,257.2 432,262.4 432.2,266.9 432.3,268.6 432.5,265.3 432.6,265.9 432.8,265.4 432.9,262.2 433.1,259.7 433.2,258.6 433.4,257.2 433.5,251.7 433.7,250.6 433.8,244.9 434,247.3 434.1,241.6 434.3,240.2 434.4,235.5 434.6,233.9 434.7,231.7 434.8,231.1 435,228.6 435.1,229.7 435.3,231.9 435.4,236.3 435.6,240.9 435.7,245.1 435.9,253.4 436,255.4 436.2,252 436.3,250.3 436.5,250.5 436.6,249 436.8,247.5 436.9,246.2 437.1,243.2 437.2,241.6 437.4,241.7 437.5,244.7 437.7,244.9 437.8,250.7 438,253.7 438.1,256.5 438.3,266.9 438.4,259.1 438.6,251.4 438.7,243.7 438.9,234.8 439,229.8 439.1,228.5 439.3,228.5 439.4,228.6 439.6,230.9 439.7,230.6 439.9,229.4 440,235.5 440.2,238.2 440.3,240.5 440.5,245.3 440.6,247.6 440.8,249.8 440.9,258.4 441.1,249.9 441.2,243.7 441.4,238.6 441.5,231.5 441.7,226.7 441.8,226.6 442,225.4 442.1,228.1 442.3,231.4 442.4,226.9 442.6,226.4 442.7,224.8 442.9,220.6 443,224.6 443.2,229.4 443.3,232.9 443.5,235.9 443.6,226.4 443.7,224.9 443.9,211.8 444,207.6 444.2,203.8 444.3,200.2 444.5,202.3 444.6,198.1 444.8,196.3 444.9,199.6 445.1,202.7 445.2,199.9 445.4,203 445.5,204.9 445.7,201.5 445.8,217.8 446,233.4 446.1,239.5 446.3,245.5 446.4,246.3 446.6,244.6 446.7,248.8 446.9,253.6 447,253.2 447.2,253.1 447.3,252.3 447.5,257.1 447.6,256 447.8,260.2 447.9,260.9 448,263.7 448.2,264.9 448.3,266.7 448.5,265 448.6,266.8 448.8,269.7 448.9,271 449.1,271.9 449.2,272.1 449.4,274.4 449.5,275.3 449.7,275.2 449.8,275.4 450,276.4 450.1,277.2 450.3,274.8 450.4,275.7 450.6,273.3 450.7,274.2 450.9,272.9 451,272.6 451.2,271.8 451.3,273.3 451.5,272 451.6,274.1 451.8,272.1 451.9,271.8 452.1,270.7 452.2,272.1 452.3,271.1 452.5,268.5 452.6,269.8 452.8,269.4 452.9,268.1 453.1,268.1 453.2,269.2 453.4,266.7 453.5,264.8 453.7,266.3 453.8,267.9 454,265.7 454.1,264.1 454.3,263.6 454.4,264.4 454.6,264.2 454.7,264.3 454.9,274.7 455,273.5 455.2,268.8 455.3,263.4 455.5,260.4 455.6,257.3 455.8,260.3 455.9,264.9 456.1,262.4 456.2,261 456.4,262.2 456.5,262.1 456.7,263.9 456.8,262 456.9,261.5 457.1,262 457.2,262.9 457.4,263.1 457.5,263.5 457.7,262.9 457.8,261.7 458,264.6 458.1,265.2 458.3,265.4 458.4,262.2 458.6,263.6 458.7,261.8 458.9,261.5 459,260.8 459.2,262.7 459.3,265.6 459.5,265.8 459.6,266.2 459.8,265.1 459.9,264.4 460.1,279 460.2,278.3 460.4,279.5 460.5,279.9 460.7,279.9 460.8,279.9 461,276.9 461.1,276.8 461.2,278.6 461.4,278 461.5,277.3 461.7,279.3 461.8,278.9 462,274.2 462.1,270.2 462.3,267.5 462.4,264.2 462.6,263.4 462.7,263.8 462.9,265.6 463,261.8 463.2,260.4 463.3,261.4 463.5,259.3 463.6,258.1 463.8,256.9 463.9,257.1 464.1,255.7 464.2,256.5 464.4,256.2 464.5,257.8 464.7,257.4 464.8,256.9 465,258.7 465.1,255.6 465.3,260.3 465.4,261.8 465.6,257.9 465.7,257.7 465.8,258.6 466,256.3 466.1,256.7 466.3,253.8 466.4,253.6 466.6,248.5 466.7,246.9 466.9,242.3 467,236.2 467.2,237.8 467.3,233.4 467.5,226.1 467.6,223.1 467.8,218.9 467.9,219.3 468.1,214.4 468.2,212.3 468.4,212.1 468.5,209.5 468.7,209.6 468.8,210 469,208.4 469.1,209 469.3,208.4 469.4,215.9 469.6,213.9 469.7,220.5 469.9,220.5 470,224.9 470.1,223.3 470.3,228.8 470.4,258.7 470.6,254.9 470.7,257.9 470.9,257.1 471,248.5 471.2,246.5 471.3,244.8 471.5,240.9 471.6,240.5 471.8,238.7 471.9,235.7 472.1,233.7 472.2,235.3 472.4,238.4 472.5,242.9 472.7,246 472.8,251.1 473,252.2 473.1,250.2 473.3,248 473.4,240 473.6,236.6 473.7,235.4 473.9,229.8 474,232.3 474.2,232.2 474.3,233.2 474.5,231 474.6,229.5 474.7,231.8 474.9,230.6 475,227.8 475.2,227 475.3,227 475.5,225.1 475.6,221.2 475.8,220.6 475.9,216.4 476.1,217.1 476.2,215 476.4,212.1 476.5,244.7 476.7,235.9 476.8,226.2 477,220.4 477.1,210.5 477.3,200.4 477.4,200.9 477.6,206.8 477.7,208.3 477.9,212 478,216 478.2,227.3 478.3,227.1 478.5,229.3 478.6,233.8 478.8,240.6 478.9,243.9 479,249.9 479.2,249.9 479.3,249.9 479.5,247.4 479.6,243.8 479.8,242.3 479.9,244.1 480.1,242.1 480.2,238 480.4,236.8 480.5,235.5 480.7,232.8 480.8,235 481,236.7 481.1,240.3 481.3,242.7 481.4,245.1 481.6,250.7 481.7,247.5 481.9,253.3 482,253.9 482.2,257.5 482.3,254.4 482.5,250 482.6,246.8 482.8,243.9 482.9,241.9 483.1,238.2 483.2,230.3 483.4,225.9 483.5,223.8 483.6,224.6 483.8,225.2 483.9,223.1 484.1,224.1 484.2,227.1 484.4,227.5 484.5,226 484.7,222.8 484.8,222.5 485,218.2 485.1,213.3 485.3,240.8 485.4,233.3 485.6,227.4 485.7,215 485.9,210.8 486,201.3 486.2,203.7 486.3,208.2 486.5,214.3 486.6,211.5 486.8,212.4 486.9,216.8 487.1,225 487.2,230.2 487.4,241 487.5,249.9 487.7,247 487.8,241.6 487.9,239.4 488.1,237.3 488.2,236.8 488.4,236.2 488.5,234.1 488.7,232.4 488.8,237 489,242.8 489.1,248.3 489.3,253.3 489.4,256.7 489.6,257.8 489.7,245.9 489.9,235.3 490,237.9 490.2,233.5 490.3,236 490.5,238 490.6,235.7 490.8,234.8 490.9,232.6 491.1,229.3 491.2,229.3 491.4,231 491.5,233.4 491.7,235.9 491.8,237.5 492,241.5 492.1,240.1 492.3,255.9 492.4,254 492.5,250.9 492.7,248.2 492.8,244.6 493,242.3 493.1,241.3 493.3,237.1 493.4,240.5 493.6,244.6 493.7,246.1 493.9,248 494,255.5 494.2,259 494.3,257.8 494.5,259.5 494.6,257.5 494.8,259.8 494.9,259.5 495.1,257 495.2,257.5 495.4,257.7 495.5,257.1 495.7,257 495.8,255.1 496,261.5 496.1,262.5 496.3,260.4 496.4,263.2 496.6,266.5 496.7,267.2 496.8,265.8 497,265.9 497.1,264.7 497.3,266.4 497.4,266.8 497.6,266.7 497.7,268.2 497.9,266.2 498,265.1 498.2,264.4 498.3,264.8 498.5,263.2 498.6,261.9 498.8,258.9 498.9,258.1 499.1,259.1 499.2,259.7 499.4,256.3 499.5,255 499.7,250.9 499.8,253.1 500,248.9 500.1,249 500.3,247.4 500.4,246.2 500.6,240.4 500.7,240 500.9,237.4 501,248.4 501.2,260.2 501.3,261.3 501.4,260.6 501.6,258.2 501.7,259.6 501.9,259.2 502,257.1 502.2,254.8 502.3,253.3 502.5,252.5 502.6,252.9 502.8,253.2 502.9,249.8 503.1,252.5 503.2,250.2 503.4,248.3 503.5,241.4 503.7,240.3 503.8,239.9 504,244 504.1,243.8 504.3,246 504.4,245.7 504.6,247.3 504.7,262.7 504.9,267 505,264.1 505.2,264 505.3,260.3 505.5,257.2 505.6,257.4 505.7,254.7 505.9,248.8 506,246.9 506.2,246.8 506.3,247.5 506.5,247.6 506.6,248.3 506.8,249.8 506.9,250.3 507.1,251.6 507.2,254.5 507.4,256.7 507.5,260.5 507.7,260.6 507.8,263.2 508,263.3 508.1,265.9 508.3,263.2 508.4,261.9 508.6,259.3 508.7,256.7 508.9,254.7 509,252.9 509.2,252.4 509.3,249.5 509.5,246.8 509.6,242.1 509.8,243.5 509.9,243.1 510.1,241.8 510.2,240.3 510.3,241.5 510.5,241.2 510.6,240.9 510.8,243.1 510.9,243.7 511.1,244.4 511.2,241.1 511.4,241.8 511.5,242.4 511.7,245.4 511.8,246.1 512,248.8 512.1,250 512.3,254.7 512.4,255 512.6,252.9 512.7,253.1 512.9,256.8 513,259.1 513.2,259.6 513.3,262 513.5,262.5 513.6,262.4 513.8,261.2 513.9,261.4 514.1,261.9 514.2,263.5 514.4,263.7 514.5,262.7 514.6,262.6 514.8,263.9 514.9,260.3 515.1,262.8 515.2,261.9 515.4,260.7 515.5,262.2 515.7,263.9 515.8,263.8 516,264.1 516.1,262 516.3,259.4 516.4,259.1 516.6,259.5 516.7,259.2 516.9,255.7 517,257.1 517.2,258.5 517.3,261.2 517.5,260 517.6,260 517.8,259.5 517.9,260.3 518.1,259.1 518.2,259.6 518.4,258 518.5,256.9 518.7,259.1 518.8,260.9 519,259.5 519.1,256.4 519.2,256.7 519.4,257.9 519.5,258.5 519.7,253.2 519.8,252.8 520,250 520.1,252.9 520.3,252.2 520.4,250.4 520.6,250.9 520.7,252.5 520.9,252.1 521,253.2 521.2,253.2 521.3,254.2 521.5,253.7 521.6,254.4 521.8,255.9 521.9,253.4 522.1,251.5 522.2,249.8 522.4,247.2 522.5,245.4 522.7,243.3 522.8,241.4 523,237.1 523.1,233.8 523.3,237.2 523.4,233.5 523.5,238.2 523.7,250.4 523.8,253.4 524,255 524.1,250.6 524.3,247.5 524.4,247 524.6,245 524.7,244.1 524.9,243.5 525,243.5 525.2,239.6 525.3,241.4 525.5,242.2 525.6,243 525.8,240.3 525.9,239 526.1,238.2 526.2,238.2 526.4,238.2 526.5,238.2 526.7,240.3 526.8,242.9 527,246.3 527.1,247.7 527.3,247.7 527.4,250.8 527.6,250.8 527.7,255.1 527.9,257.1 528,256.6 528.1,253.7 528.3,256.7 528.4,258.7 528.6,260.8 528.7,262.2 528.9,264.3 529,266 529.2,264.3 529.3,260.2 529.5,258.9 529.6,257.3 529.8,255.4 529.9,255.6 530.1,257.4 530.2,259.7 530.4,258.2 530.5,259.7 530.7,258.5 530.8,258.7 531,259.5 531.1,261.9 531.3,264.3 531.4,265 531.6,266.8 531.7,267.9 531.9,266.5 532,266.7 532.2,265.7 532.3,269.1 532.4,270.5 532.6,270.2 532.7,267.5 532.9,266.9 533,265.1 533.2,262.1 533.3,261.3 533.5,263 533.6,266.6 533.8,266 533.9,268.5 534.1,270.9 534.2,273 534.4,273.4 534.5,271.6 534.7,272.1 534.8,273.1 535,273.1 535.1,272 535.3,273 535.4,274.4 535.6,274.7 535.7,274.8 535.9,275.3 536,274.1 536.2,275.9 536.3,276.3 536.5,276.3 536.6,275.3 536.7,276.3 536.9,276.3 537,276.1 537.2,272.9 537.3,271.4 537.5,271.4 537.6,268.8 537.8,270.5 537.9,266.6 538.1,266.2 538.2,265.1 538.4,263 538.5,265.4 538.7,265.1 538.8,262.1 539,262.4 539.1,259.2 539.3,256.7 539.4,259.1 539.6,255.8 539.7,260.7 539.9,256.9 540,256.2 540.2,255.7 540.3,255.1 540.5,253.6 540.6,252.2 540.8,249.9 540.9,248.9 541.1,249.7 541.2,249.9 541.3,249.2 541.5,242.8 541.6,246 541.8,245.2 541.9,244.2 542.1,240.7 542.2,239.7 542.4,238.3 542.5,238.3 542.7,238.3 542.8,241.7 543,243.8 543.1,246.6 543.3,247.5 543.4,247.3 543.6,249.6 543.7,250.3 543.9,253.1 544,257.6 544.2,260.9 544.3,263 544.5,267.9 544.6,274.2 544.8,273.2 544.9,275.9 545.1,272 545.2,273.7 545.4,274.2 545.5,275.4 545.6,277.2 545.8,277.5 545.9,277.6 546.1,278.2 546.2,277.9 546.4,277.6 546.5,278.1 546.7,277.2 546.8,278.1 547,277.8 547.1,275.7 547.3,276.5 547.4,277.5 547.6,276.7 547.7,277.9 547.9,276.2 548,278.6 548.2,279 548.3,279.4 548.5,279 548.6,276.1 548.8,278.1 548.9,278.5 549.1,278 549.2,278.4 549.4,277.6 549.5,278.8 549.7,278.8 549.8,278.4 550,276.9 550.1,276.9 550.2,276.3 550.4,276.6 550.5,276.6 550.7,276.3 550.8,276.7 551,277.8 551.1,276.5 551.3,274.6 551.4,273.2 551.6,277.2 551.7,274.8 551.9,272.2 552,269.6 552.2,270.8 552.3,270 552.5,268 552.6,267.7 552.8,266.8 552.9,266.4 553.1,261.7 553.2,263.1 553.4,262.9 553.5,264.6 553.7,264.7 553.8,262.7 554,259.1 554.1,257.7 554.3,256.2 554.4,256.2 554.5,262.6 554.7,266.8 554.8,269.2 555,272.5 555.1,276.4 555.3,275.1 555.4,274.4 555.6,270.9 555.7,270.6 555.9,270.1 556,272.8 556.2,272.2 556.3,273.4 556.5,274.6 556.6,272.8 556.8,273 556.9,274 557.1,278.1 557.2,277 557.4,277.3 557.5,278 557.7,276.9 557.8,277.6 558,278.8 558.1,278.5 558.3,277.5 558.4,278.1 558.6,278.8 558.7,281.6 558.9,280.4 559,278.4 559.1,279.7 559.3,279.2 559.4,278.8 559.6,277.7 559.7,274.9 559.9,273.4 560,274.1 560.2,274 560.3,272.5 560.5,270.3 560.6,266.2 560.8,262.9 560.9,262.1 561.1,260.2 561.2,267.2 561.4,260.9 561.5,259.1 561.7,255.6 561.8,257.5 562,255.1 562.1,252.6 562.3,249.7 562.4,245.1 562.6,245.1 562.7,245.1 562.9,245.1 563,245.1 563.2,245.1 563.3,246.4 563.4,247.1 563.6,245.2 563.7,245.5 563.9,245.8 564,246.6 564.2,246.2" stroke="#9acd32" stroke-width="1.15"/>
<polyline points="416,244.5 416.2,245.7 416.3,246.4 416.5,244.8 416.6,252.3 416.8,251.6 416.9,248.2 417,246.6 417.2,246.7 417.3,245.1 417.5,253.6 417.6,248.1 417.8,253 417.9,250.2 418.1,250 418.2,257.5 418.4,250.2 418.5,247.5 418.7,245.8 418.8,243.2 419,241.9 419.1,248.1 419.3,246.1 419.4,247.2 419.6,248.2 419.7,246.6 419.9,244 420,245.4 420.2,247 420.3,245.3 420.5,246.6 420.6,247 420.8,245.1 420.9,255.3 421.1,253 421.2,250 421.3,251.4 421.5,251.2 421.6,247 421.8,252.1 421.9,254.2 422.1,253.9 422.2,243.6 422.4,246.8 422.5,244.2 422.7,244.9 422.8,240.4 423,242.3 423.1,241.4 423.3,238.7 423.4,234.9 423.6,232.5 423.7,232 423.9,230.8 424,232.9 424.2,234.9 424.3,232.2 424.5,238.5 424.6,238.1 424.8,236.1 424.9,235.8 425.1,242 425.2,242.4 425.4,241.9 425.5,239.1 425.7,241.8 425.8,243.8 425.9,244.5 426.1,243.6 426.2,244.3 426.4,243.9 426.5,240 426.7,241.4 426.8,239.3 427,240.8 427.1,236.7 427.3,236.8 427.4,234.5 427.6,237.1 427.7,238 427.9,236 428,231.4 428.2,229.7 428.3,230.9 428.5,229.7 428.6,231.1 428.8,235.2 428.9,231.7 429.1,233.4 429.2,235.2 429.4,238.2 429.5,237.9 429.7,241.1 429.8,246.8 430,238.7 430.1,240.1 430.2,246.2 430.4,244.3 430.5,244.1 430.7,244.1 430.8,249.7 431,247 431.1,251.3 431.3,253.4 431.4,254.8 431.6,251.8 431.7,248.4 431.9,250.3 432,249.9 432.2,258.1 432.3,259 432.5,256.3 432.6,257.4 432.8,258.6 432.9,257.7 433.1,260.6 433.2,257.7 433.4,255.7 433.5,251.8 433.7,249.8 433.8,244.4 434,249.6 434.1,252 434.3,247.1 434.4,246.9 434.6,245.2 434.7,245.7 434.8,244.6 435,244.6 435.1,243.9 435.3,241.7 435.4,243 435.6,242 435.7,241.7 435.9,241.7 436,241.7 436.2,241.8 436.3,243 436.5,245 436.6,244 436.8,243.5 436.9,242.2 437.1,242.5 437.2,242.1 437.4,242.2 437.5,242.9 437.7,241.9 437.8,241.3 438,241.7 438.1,241.1 438.3,241.1 438.4,242 438.6,241.7 438.7,242.1 438.9,241.6 439,242 439.1,241.3 439.3,240.1 439.4,239.4 439.6,239.1 439.7,239.1 439.9,240.6 440,239.5 440.2,239.6 440.3,238.4 440.5,238.4 440.6,237.7 440.8,237.5 440.9,236.8 441.1,236.3 441.2,237 441.4,236.3 441.5,237.2 441.7,236.8 441.8,235.7 442,235.8 442.1,235.1 442.3,237.3 442.4,236.9 442.6,234.9 442.7,236.2 442.9,235.2 443,235.1 443.2,237.2 443.3,236.3 443.5,236.1 443.6,236.7 443.7,236.2 443.9,237.3 444,237.7 444.2,237.2 444.3,238.3 444.5,237.1 444.6,238.7 444.8,240.8 444.9,240.4 445.1,240.4 445.2,239.2 445.4,240.8 445.5,243.3 445.7,240.4 445.8,244.7 446,246.3 446.1,243 446.3,246.8 446.4,247.8 446.6,247.8 446.7,246.6 446.9,247.9 447,255.7 447.2,256.3 447.3,255.6 447.5,256.4 447.6,257.2 447.8,259.2 447.9,258.4 448,255.6 448.2,252.8 448.3,254.8 448.5,256.8 448.6,257.3 448.8,268.4 448.9,260.6 449.1,267.7 449.2,263.8 449.4,262.4 449.5,269.2 449.7,268.6 449.8,268.9 450,272.9 450.1,269.4 450.3,267.7 450.4,271.3 450.6,268.8 450.7,267.7 450.9,268.8 451,268.6 451.2,268.3 451.3,268.6 451.5,268.4 451.6,270.8 451.8,268.3 451.9,270.6 452.1,269.7 452.2,270.3 452.3,271.9 452.5,272.5 452.6,271.3 452.8,269.4 452.9,267.9 453.1,266.9 453.2,269.1 453.4,269 453.5,267.6 453.7,267 453.8,265.4 454,265.6 454.1,269.4 454.3,268.7 454.4,270.5 454.6,269.2 454.7,272.9 454.9,270.8 455,271.9 455.2,270.5 455.3,267.6 455.5,261.9 455.6,260.2 455.8,260.6 455.9,263.6 456.1,263.4 456.2,262 456.4,262.6 456.5,261 456.7,262.8 456.8,260.7 456.9,262.9 457.1,261.6 457.2,262.8 457.4,262 457.5,261.1 457.7,261.1 457.8,260.5 458,261.4 458.1,260.2 458.3,261.5 458.4,261.2 458.6,263.4 458.7,264.8 458.9,264.7 459,264 459.2,266.8 459.3,264.7 459.5,265.7 459.6,266.7 459.8,264.9 459.9,263.1 460.1,265.3 460.2,264.1 460.4,262.6 460.5,264.3 460.7,265.7 460.8,265.6 461,265.4 461.1,264.3 461.2,264.2 461.4,264.5 461.5,268.2 461.7,268.7 461.8,269.6 462,270.5 462.1,269.3 462.3,270.7 462.4,270 462.6,272.6 462.7,274.5 462.9,275.5 463,275.5 463.2,274.9 463.3,271.9 463.5,273.1 463.6,270.9 463.8,267.8 463.9,264.6 464.1,270.2 464.2,267.7 464.4,264.3 464.5,266.6 464.7,265.3 464.8,268.1 465,265.8 465.1,260.5 465.3,262.2 465.4,256.3 465.6,261.7 465.7,258.5 465.8,259.4 466,261.1 466.1,256.4 466.3,256 466.4,253.6 466.6,251.5 466.7,250.1 466.9,251.2 467,257.9 467.2,254.2 467.3,255.7 467.5,252.4 467.6,250.8 467.8,252 467.9,251.7 468.1,251 468.2,248.2 468.4,245.2 468.5,242.7 468.7,242.1 468.8,240.7 469,233.2 469.1,233.1 469.3,234.1 469.4,233.4 469.6,233.1 469.7,234.3 469.9,233.5 470,234.6 470.1,235.7 470.3,237.6 470.4,233.1 470.6,236.2 470.7,239.5 470.9,242.2 471,242.7 471.2,240.8 471.3,241.2 471.5,239 471.6,241.7 471.8,245.4 471.9,246.6 472.1,246.2 472.2,245.4 472.4,245.1 472.5,244.4 472.7,244.9 472.8,242.3 473,242.2 473.1,243.4 473.3,241.7 473.4,241.5 473.6,244.6 473.7,244.4 473.9,243.7 474,242.3 474.2,241.3 474.3,237.1 474.5,239.5 474.6,238.5 474.7,237.8 474.9,236.7 475,235.7 475.2,233.4 475.3,233.7 475.5,232.5 475.6,228.5 475.8,231.6 475.9,230.4 476.1,230.5 476.2,230.8 476.4,230.4 476.5,232.4 476.7,233.6 476.8,230.4 477,231.8 477.1,231.5 477.3,229.7 477.4,230.4 477.6,229.8 477.7,231.9 477.9,230.5 478,231 478.2,231.5 478.3,233 478.5,237.6 478.6,234.7 478.8,233.6 478.9,236.4 479,237.8 479.2,236.2 479.3,240.4 479.5,239.6 479.6,241 479.8,240.4 479.9,245 480.1,246 480.2,243.4 480.4,243.6 480.5,243.6 480.7,242.3 480.8,243 481,243.4 481.1,244.3 481.3,245.6 481.4,247.2 481.6,246.3 481.7,250.7 481.9,249.4 482,241.8 482.2,244 482.3,243.5 482.5,241.4 482.6,237.8 482.8,239.6 482.9,239.3 483.1,239.4 483.2,238.9 483.4,238.1 483.5,237.3 483.6,240.1 483.8,242.4 483.9,243.5 484.1,245.3 484.2,245.2 484.4,244 484.5,246.4 484.7,247 484.8,247 485,244.9 485.1,239.7 485.3,238.8 485.4,243 485.6,240.2 485.7,241.6 485.9,241.7 486,236.7 486.2,239.4 486.3,243 486.5,245.4 486.6,246.6 486.8,247.5 486.9,250.9 487.1,248.7 487.2,247.8 487.4,248.4 487.5,243.7 487.7,241.3 487.8,241.5 487.9,243 488.1,249.9 488.2,246.7 488.4,237.1 488.5,237.1 488.7,240.4 488.8,255.1 489,261.7 489.1,260.3 489.3,261.7 489.4,256.3 489.6,248.9 489.7,248.3 489.9,251.2 490,251.2 490.2,243.2 490.3,239.3 490.5,239.5 490.6,237.2 490.8,234.9 490.9,237.3 491.1,239.2 491.2,244.7 491.4,244.1 491.5,241.9 491.7,241.6 491.8,238.6 492,244.1 492.1,245.5 492.3,243.8 492.4,245.2 492.5,248.8 492.7,244.1 492.8,244.8 493,248.3 493.1,245.5 493.3,246.6 493.4,248.7 493.6,254.2 493.7,254.3 493.9,253.6 494,251.5 494.2,253.9 494.3,254.7 494.5,256.6 494.6,254.4 494.8,256 494.9,256.7 495.1,259.8 495.2,260.3 495.4,256.7 495.5,255.7 495.7,254.2 495.8,254.3 496,253.4 496.1,254.1 496.3,251.2 496.4,249.2 496.6,250.3 496.7,247.3 496.8,247 497,249.5 497.1,250 497.3,252.1 497.4,252.7 497.6,253.4 497.7,260.1 497.9,262.2 498,262.1 498.2,262.2 498.3,261.8 498.5,262 498.6,261.9 498.8,255.7 498.9,260.9 499.1,260.4 499.2,253.7 499.4,253.7 499.5,254.1 499.7,250 499.8,251.2 500,247.5 500.1,250.3 500.3,244.1 500.4,241.5 500.6,244.5 500.7,244 500.9,247.6 501,246.6 501.2,247.4 501.3,248.8 501.4,249.7 501.6,250.5 501.7,250.6 501.9,254.2 502,254.8 502.2,254.8 502.3,254.3 502.5,252.1 502.6,252.4 502.8,252.7 502.9,253.4 503.1,252.7 503.2,252 503.4,253.6 503.5,252.6 503.7,254 503.8,255.1 504,255.7 504.1,253.7 504.3,253.5 504.4,254.1 504.6,256.4 504.7,253.8 504.9,250.4 505,251.4 505.2,251.1 505.3,248.4 505.5,247.6 505.6,247.3 505.7,245.9 505.9,246.9 506,245 506.2,246.8 506.3,244.2 506.5,241.8 506.6,243.1 506.8,246.8 506.9,247.3 507.1,245.1 507.2,246.6 507.4,255.3 507.5,257.6 507.7,254.2 507.8,248.2 508,251.6 508.1,255.7 508.3,261.8 508.4,263.3 508.6,265.9 508.7,261.9 508.9,264.6 509,269.1 509.2,268.9 509.3,270.3 509.5,271.8 509.6,272.1 509.8,272.3 509.9,271 510.1,270.2 510.2,266.5 510.3,263.8 510.5,263.4 510.6,258.9 510.8,265.4 510.9,263.8 511.1,254 511.2,258.5 511.4,253.7 511.5,252.8 511.7,253.8 511.8,251.4 512,250.3 512.1,250.6 512.3,252 512.4,249.9 512.6,251.1 512.7,250.6 512.9,252.6 513,251 513.2,247.3 513.3,248.5 513.5,248.7 513.6,246.7 513.8,247.2 513.9,246 514.1,246.9 514.2,245.7 514.4,246.8 514.5,246.8 514.6,247.5 514.8,246.6 514.9,247.1 515.1,245.2 515.2,246.1 515.4,247 515.5,248.3 515.7,247.9 515.8,246.8 516,247 516.1,247.2 516.3,248.7 516.4,249.7 516.6,249.4 516.7,248.2 516.9,248.4 517,246.3 517.2,246.8 517.3,244.4 517.5,246.2 517.6,245.9 517.8,243.4 517.9,241.8 518.1,242.4 518.2,241.6 518.4,241.2 518.5,240.8 518.7,240.8 518.8,242.8 519,244.8 519.1,245.2 519.2,244.5 519.4,244.5 519.5,252.7 519.7,247.9 519.8,244.8 520,246.4 520.1,247.4 520.3,257.8 520.4,260.4 520.6,260.3 520.7,254.7 520.9,248.9 521,248.6 521.2,256.6 521.3,264.3 521.5,270.8 521.6,266.2 521.8,267.9 521.9,267.7 522.1,270.9 522.2,270.9 522.4,264.6 522.5,266.8 522.7,260.7 522.8,262.4 523,260.2 523.1,260.4 523.3,261 523.4,256.6 523.5,254.8 523.7,248 523.8,250.5 524,253.7 524.1,252.4 524.3,252.5 524.4,255.2 524.6,252.1 524.7,247.3 524.9,244 525,243.5 525.2,241.1 525.3,242.6 525.5,243.7 525.6,242.5 525.8,243.7 525.9,242.9 526.1,250.1 526.2,246.8 526.4,244.3 526.5,242.1 526.7,248.2 526.8,249.8 527,251.7 527.1,252.6 527.3,254.3 527.4,254.8 527.6,256.3 527.7,253.8 527.9,254 528,256.1 528.1,260.6 528.3,258 528.4,258.6 528.6,259.4 528.7,253.5 528.9,252.5 529,253.1 529.2,247.2 529.3,248 529.5,242.9 529.6,246.7 529.8,244 529.9,244.7 530.1,243.2 530.2,246.1 530.4,248.2 530.5,247.2 530.7,248.9 530.8,248.5 531,250.6 531.1,251.5 531.3,257.3 531.4,255.5 531.6,254.8 531.7,258.7 531.9,262.2 532,262.5 532.2,264.2 532.3,264.2 532.4,264 532.6,261 532.7,257.2 532.9,256.1 533,254.5 533.2,253.3 533.3,254.6 533.5,256.7 533.6,256.7 533.8,256.7 533.9,256 534.1,258.1 534.2,257.3 534.4,257.2 534.5,256.2 534.7,258 534.8,257.4 535,258 535.1,259.4 535.3,258.7 535.4,258 535.6,258.3 535.7,257.8 535.9,256.5 536,258.3 536.2,257.7 536.3,257.5 536.5,257.2 536.6,260.6 536.7,261.3 536.9,259.9 537,263.3 537.2,260.8 537.3,265.6 537.5,264.4 537.6,265.1 537.8,266.2 537.9,265.7 538.1,266.8 538.2,266.5 538.4,266.5 538.5,270.7 538.7,269.7 538.8,269.1 539,263.5 539.1,264.3 539.3,262.6 539.4,261.3 539.6,265.5 539.7,261 539.9,256.7 540,258.7 540.2,256.4 540.3,257.4 540.5,259.7 540.6,256.8 540.8,256.5 540.9,258.3 541.1,255 541.2,256.6 541.3,256.5 541.5,256.7 541.6,256.3 541.8,255.9 541.9,257 542.1,256.9 542.2,256.3 542.4,255.2 542.5,254.6 542.7,255.5 542.8,255.5 543,255.4 543.1,255.4 543.3,254.2 543.4,254 543.6,254.2 543.7,251.7 543.9,254.5 544,252.1 544.2,252.2 544.3,253.6 544.5,253.8 544.6,253.7 544.8,253.5 544.9,253.2 545.1,251.6 545.2,253.7 545.4,254.2 545.5,254.2 545.6,254.1 545.8,253.3 545.9,252.9 546.1,255.4 546.2,256 546.4,255.8 546.5,257.7 546.7,258.5 546.8,259.1 547,260.4 547.1,262.1 547.3,263.9 547.4,262.1 547.6,263.5 547.7,262.8 547.9,265 548,264.9 548.2,265.5 548.3,265.6 548.5,265 548.6,264.9 548.8,262.4 548.9,263.2 549.1,263.3 549.2,265.3 549.4,263.7 549.5,264.4 549.7,265.8 549.8,265.7 550,266.3 550.1,266.5 550.2,263.5 550.4,262.7 550.5,264.5 550.7,265.5 550.8,265.7 551,267.6 551.1,264.5 551.3,266.6 551.4,266.1 551.6,264.6 551.7,268.5 551.9,270 552,270.4 552.2,270.3 552.3,270.1 552.5,270.8 552.6,267.9 552.8,265.4 552.9,266.5 553.1,265.9 553.2,266.3 553.4,265.4 553.5,268.4 553.7,268.1 553.8,267.1 554,266.8 554.1,267 554.3,267.6 554.4,266.5 554.5,267.1 554.7,266.8 554.8,265.1 555,263.8 555.1,263.8 555.3,263.9 555.4,265.3 555.6,266.1 555.7,266.9 555.9,267.8 556,267.7 556.2,266.8 556.3,267.3 556.5,265.5 556.6,263.7 556.8,264.1 556.9,263.7 557.1,263.7 557.2,263.9 557.4,264 557.5,263.7 557.7,264.2 557.8,266.7 558,265.4 558.1,265.5 558.3,267.4 558.4,267.5 558.6,268.3 558.7,266.5 558.9,267.5 559,268 559.1,265.8 559.3,264.8 559.4,264 559.6,263.1 559.7,264.5 559.9,262.4 560,263.4 560.2,262 560.3,262.4 560.5,262.3 560.6,263 560.8,262.2 560.9,260 561.1,260.3 561.2,261.4 561.4,258.1 561.5,254.5 561.7,253.5 561.8,254.8 562,252.7 562.1,252.3 562.3,251.9 562.4,254.1 562.6,253.3 562.7,253 562.9,252.1 563,252.1 563.2,252.7 563.3,255.8 563.4,255.6 563.6,257.4 563.7,258.5 563.9,259.3 564,259.6 564.2,259.7" stroke="#000080" stroke-width="1.25"/>
</g>
<rect x="408.6" y="186.8" width="163" height="102.5" fill="none" stroke="#757575" stroke-width="1"/>
<text class="tk" transform="translate(406.6,287.5) scale(0.905,1)" text-anchor="end">0</text>
<text class="tk" transform="translate(406.6,271.8) scale(0.905,1)" text-anchor="end">5</text>
<text class="tk" transform="translate(406.6,256.1) scale(0.905,1)" text-anchor="end">10</text>
<text class="tk" transform="translate(406.6,240.4) scale(0.905,1)" text-anchor="end">15</text>
<text class="tk" transform="translate(406.6,224.7) scale(0.905,1)" text-anchor="end">20</text>
<text class="tk" transform="translate(406.6,209) scale(0.905,1)" text-anchor="end">25</text>
<text class="tk" transform="translate(406.6,193.3) scale(0.905,1)" text-anchor="end">30</text>
<text class="tk" transform="translate(416,294.1) scale(0.905,1)" text-anchor="middle">0</text>
<text class="tk" transform="translate(445.7,294.1) scale(0.905,1)" text-anchor="middle">200</text>
<text class="tk" transform="translate(475.3,294.1) scale(0.905,1)" text-anchor="middle">400</text>
<text class="tk" transform="translate(505,294.1) scale(0.905,1)" text-anchor="middle">600</text>
<text class="tk" transform="translate(534.7,294.1) scale(0.905,1)" text-anchor="middle">800</text>
<text class="tk" transform="translate(564.3,294.1) scale(0.905,1)" text-anchor="middle">1000</text>
<text class="tk" transform="translate(490.1,299.9) scale(0.905,1)" text-anchor="middle">Hour</text>
<text class="tk" transform="translate(400,238.1) rotate(-90) scale(0.905,1)" text-anchor="middle">Wind Speed (m/s)</text>
<line x1="527.2" y1="192.3" x2="536" y2="192.3" stroke="#fa8072" stroke-width="1.0"/>
<text class="lg" transform="translate(539.1,194) scale(0.905,1)">ERA5</text>
<line x1="527.2" y1="198.3" x2="536" y2="198.3" stroke="#ffd700" stroke-width="1.0"/>
<text class="lg" transform="translate(539.1,200) scale(0.905,1)">COSMO-REA6</text>
<line x1="527.2" y1="204.3" x2="536" y2="204.3" stroke="#9acd32" stroke-width="1.0"/>
<text class="lg" transform="translate(539.1,206) scale(0.905,1)">Observed</text>
<line x1="527.2" y1="210.3" x2="536" y2="210.3" stroke="#000080" stroke-width="1.0"/>
<text class="lg" transform="translate(539.1,212) scale(0.905,1)">Corrected</text>
</g>
</svg></body></html>
